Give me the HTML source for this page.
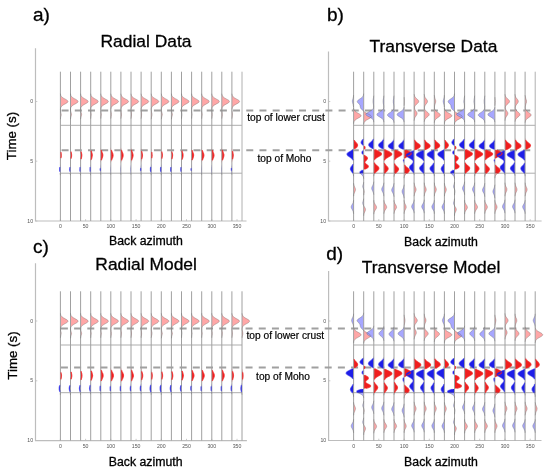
<!DOCTYPE html>
<html><head><meta charset="utf-8"><title>Receiver functions</title>
<style>
html,body{margin:0;padding:0;background:#fff;}
body{width:550px;height:474px;overflow:hidden;}
svg{display:block;}
.tk{font-family:"Liberation Sans",Arial,sans-serif;font-size:5.2px;fill:#555;}
.hv{stroke:#000;stroke-width:0.3px;}
.hv2{stroke:#000;stroke-width:0.2px;}
</style></head><body>
<svg width="550" height="474" viewBox="0 0 550 474">
<rect width="550" height="474" fill="#fff"/>
<path d="M35.5,48.2V221H246.5" fill="none" stroke="#bdbdbd" stroke-width="1.2"/>
<text x="33.1" y="103" class="tk" text-anchor="end">0</text>
<text x="33.1" y="162.8" class="tk" text-anchor="end">5</text>
<text x="33.1" y="222.5" class="tk" text-anchor="end">10</text>
<text x="60.4" y="228.2" class="tk" text-anchor="middle">0</text>
<text x="85.6" y="228.2" class="tk" text-anchor="middle">50</text>
<text x="110.8" y="228.2" class="tk" text-anchor="middle">100</text>
<text x="136.1" y="228.2" class="tk" text-anchor="middle">150</text>
<text x="161.3" y="228.2" class="tk" text-anchor="middle">200</text>
<text x="186.5" y="228.2" class="tk" text-anchor="middle">250</text>
<text x="211.8" y="228.2" class="tk" text-anchor="middle">300</text>
<text x="237" y="228.2" class="tk" text-anchor="middle">350</text>
<path d="M35.5,101.5h1.8M35.5,161.2h1.8M35.5,221h1.8M60.4,221v-1.8M85.6,221v-1.8M110.8,221v-1.8M136.1,221v-1.8M161.3,221v-1.8M186.5,221v-1.8M211.8,221v-1.8M237,221v-1.8" stroke="#bdbdbd" stroke-width="0.8" fill="none"/>
<path d="M328.5,51.4V221H541.6" fill="none" stroke="#bdbdbd" stroke-width="1.2"/>
<text x="326.1" y="103" class="tk" text-anchor="end">0</text>
<text x="326.1" y="162.8" class="tk" text-anchor="end">5</text>
<text x="326.1" y="222.5" class="tk" text-anchor="end">10</text>
<text x="353.6" y="228.2" class="tk" text-anchor="middle">0</text>
<text x="378.8" y="228.2" class="tk" text-anchor="middle">50</text>
<text x="404.1" y="228.2" class="tk" text-anchor="middle">100</text>
<text x="429.3" y="228.2" class="tk" text-anchor="middle">150</text>
<text x="454.5" y="228.2" class="tk" text-anchor="middle">200</text>
<text x="479.7" y="228.2" class="tk" text-anchor="middle">250</text>
<text x="505" y="228.2" class="tk" text-anchor="middle">300</text>
<text x="530.2" y="228.2" class="tk" text-anchor="middle">350</text>
<path d="M328.5,101.5h1.8M328.5,161.2h1.8M328.5,221h1.8M353.6,221v-1.8M378.8,221v-1.8M404.1,221v-1.8M429.3,221v-1.8M454.5,221v-1.8M479.7,221v-1.8M505,221v-1.8M530.2,221v-1.8" stroke="#bdbdbd" stroke-width="0.8" fill="none"/>
<path d="M35.5,263.2V440.6H246.9" fill="none" stroke="#bdbdbd" stroke-width="1.2"/>
<text x="33.1" y="322.5" class="tk" text-anchor="end">0</text>
<text x="33.1" y="382.2" class="tk" text-anchor="end">5</text>
<text x="33.1" y="442" class="tk" text-anchor="end">10</text>
<text x="60.4" y="447.8" class="tk" text-anchor="middle">0</text>
<text x="85.6" y="447.8" class="tk" text-anchor="middle">50</text>
<text x="110.8" y="447.8" class="tk" text-anchor="middle">100</text>
<text x="136.1" y="447.8" class="tk" text-anchor="middle">150</text>
<text x="161.3" y="447.8" class="tk" text-anchor="middle">200</text>
<text x="186.5" y="447.8" class="tk" text-anchor="middle">250</text>
<text x="211.8" y="447.8" class="tk" text-anchor="middle">300</text>
<text x="237" y="447.8" class="tk" text-anchor="middle">350</text>
<path d="M35.5,321h1.8M35.5,380.8h1.8M35.5,440.5h1.8M60.4,440.6v-1.8M85.6,440.6v-1.8M110.8,440.6v-1.8M136.1,440.6v-1.8M161.3,440.6v-1.8M186.5,440.6v-1.8M211.8,440.6v-1.8M237,440.6v-1.8" stroke="#bdbdbd" stroke-width="0.8" fill="none"/>
<path d="M328.6,270.9V440.5H541.5" fill="none" stroke="#bdbdbd" stroke-width="1.2"/>
<text x="326.2" y="322.5" class="tk" text-anchor="end">0</text>
<text x="326.2" y="382.2" class="tk" text-anchor="end">5</text>
<text x="326.2" y="442" class="tk" text-anchor="end">10</text>
<text x="353.6" y="447.7" class="tk" text-anchor="middle">0</text>
<text x="378.8" y="447.7" class="tk" text-anchor="middle">50</text>
<text x="404.1" y="447.7" class="tk" text-anchor="middle">100</text>
<text x="429.3" y="447.7" class="tk" text-anchor="middle">150</text>
<text x="454.5" y="447.7" class="tk" text-anchor="middle">200</text>
<text x="479.7" y="447.7" class="tk" text-anchor="middle">250</text>
<text x="505" y="447.7" class="tk" text-anchor="middle">300</text>
<text x="530.2" y="447.7" class="tk" text-anchor="middle">350</text>
<path d="M328.6,321h1.8M328.6,380.8h1.8M328.6,440.5h1.8M353.6,440.5v-1.8M378.8,440.5v-1.8M404.1,440.5v-1.8M429.3,440.5v-1.8M454.5,440.5v-1.8M479.7,440.5v-1.8M505,440.5v-1.8M530.2,440.5v-1.8" stroke="#bdbdbd" stroke-width="0.8" fill="none"/>
<line x1="61.6" y1="110.6" x2="531" y2="110.6" stroke="#a0a0a0" stroke-width="2" stroke-dasharray="7 6.19"/>
<line x1="61.6" y1="150.3" x2="531" y2="150.3" stroke="#a0a0a0" stroke-width="2" stroke-dasharray="7 6.19"/>
<line x1="60.9" y1="328.6" x2="530" y2="328.6" stroke="#a0a0a0" stroke-width="2" stroke-dasharray="7 6.19"/>
<line x1="60.9" y1="367.6" x2="530" y2="367.6" stroke="#a0a0a0" stroke-width="2" stroke-dasharray="7 6.19"/>
<line x1="60.4" y1="125.3" x2="242" y2="125.3" stroke="#adadad" stroke-width="1"/>
<line x1="60.4" y1="173.2" x2="242" y2="173.2" stroke="#adadad" stroke-width="1"/>
<line x1="242" y1="71.7" x2="242" y2="221" stroke="#b0b0b0" stroke-width="1"/>
<path d="M60.4,93.7L60.5,94.2L60.6,94.7L60.7,95.2L60.9,95.7L61.2,96.2L61.6,96.7L62.1,97.2L62.8,97.7L63.6,98.2L64.5,98.7L65.4,99.2L66.3,99.7L67,100.2L67.6,100.7L67.9,101.2L68,101.7L67.7,102.2L67.2,102.7L66.4,103.2L65.6,103.7L64.6,104.2L63.7,104.7L62.9,105.2L62.3,105.7L61.7,106.2L61.3,106.7L61,107.2L60.8,107.7L60.6,108.2L60.5,108.7L60.5,109.2L60.4,109.7ZM60.4,109.7L60.5,110.2L60.5,110.7L60.6,111.2L60.7,111.7L60.8,112.2L60.9,112.7L61,113.2L61.1,113.7L61.2,114.2L61.2,114.7L61.2,115.2L61.1,115.7L61,116.2L60.8,116.7L60.7,117.2L60.6,117.7L60.5,118.2L60.5,118.7L60.4,119.2ZM70.5,93.7L70.6,94.2L70.7,94.7L70.8,95.2L71,95.7L71.3,96.2L71.7,96.7L72.2,97.2L72.9,97.7L73.7,98.2L74.5,98.7L75.5,99.2L76.4,99.7L77.1,100.2L77.7,100.7L78,101.2L78.1,101.7L77.8,102.2L77.3,102.7L76.5,103.2L75.7,103.7L74.7,104.2L73.8,104.7L73,105.2L72.3,105.7L71.8,106.2L71.4,106.7L71.1,107.2L70.8,107.7L70.7,108.2L70.6,108.7L70.6,109.2L70.6,109.7L70.6,110.2L70.7,110.7L70.8,111.2L70.9,111.7L71,112.2L71.2,112.7L71.3,113.2L71.4,113.7L71.5,114.2L71.5,114.7L71.4,115.2L71.3,115.7L71.2,116.2L71,116.7L70.9,117.2L70.8,117.7L70.7,118.2L70.6,118.7L70.5,119.2ZM80.6,93.7L80.7,94.2L80.8,94.7L80.9,95.2L81.1,95.7L81.4,96.2L81.8,96.7L82.3,97.2L83,97.7L83.8,98.2L84.6,98.7L85.6,99.2L86.4,99.7L87.2,100.2L87.8,100.7L88.1,101.2L88.2,101.7L87.9,102.2L87.4,102.7L86.6,103.2L85.7,103.7L84.8,104.2L83.9,104.7L83.1,105.2L82.4,105.7L81.9,106.2L81.5,106.7L81.1,107.2L80.9,107.7L80.8,108.2L80.7,108.7L80.7,109.2L80.7,109.7L80.7,110.2L80.8,110.7L80.8,111.2L81,111.7L81.1,112.2L81.2,112.7L81.4,113.2L81.5,113.7L81.6,114.2L81.6,114.7L81.5,115.2L81.4,115.7L81.3,116.2L81.1,116.7L81,117.2L80.9,117.7L80.8,118.2L80.7,118.7L80.6,119.2ZM90.7,93.7L90.8,94.2L90.9,94.7L91,95.2L91.2,95.7L91.5,96.2L91.9,96.7L92.4,97.2L93.1,97.7L93.9,98.2L94.7,98.7L95.6,99.2L96.5,99.7L97.3,100.2L97.9,100.7L98.2,101.2L98.2,101.7L98,102.2L97.4,102.7L96.7,103.2L95.8,103.7L94.9,104.2L94,104.7L93.2,105.2L92.5,105.7L92,106.2L91.5,106.7L91.2,107.2L91,107.7L90.9,108.2L90.8,108.7L90.8,109.2L90.7,109.7ZM90.7,110.2L90.8,110.7L90.8,111.2L90.9,111.7L90.9,112.2L91,112.7L91.1,113.2L91.1,113.7L91.2,114.2L91.2,114.7L91.1,115.2L91.1,115.7L91,116.2L90.9,116.7L90.9,117.2L90.8,117.7L90.8,118.2L90.7,118.7ZM100.8,93.7L100.9,94.2L100.9,94.7L101.1,95.2L101.3,95.7L101.6,96.2L102,96.7L102.5,97.2L103.2,97.7L103.9,98.2L104.8,98.7L105.7,99.2L106.6,99.7L107.4,100.2L108,100.7L108.3,101.2L108.3,101.7L108.1,102.2L107.5,102.7L106.8,103.2L105.9,103.7L105,104.2L104.1,104.7L103.3,105.2L102.6,105.7L102.1,106.2L101.6,106.7L101.3,107.2L101.1,107.7L101,108.2L100.9,108.7L100.8,109.2L100.8,109.7ZM100.8,110.2L100.9,110.7L100.9,111.2L100.9,111.7L101,112.2L101.1,112.7L101.2,113.2L101.2,113.7L101.3,114.2L101.3,114.7L101.2,115.2L101.2,115.7L101.1,116.2L101,116.7L101,117.2L100.9,117.7L100.9,118.2L100.8,118.7ZM110.8,93.7L111,94.2L111,94.7L111.2,95.2L111.4,95.7L111.7,96.2L112.1,96.7L112.6,97.2L113.2,97.7L114,98.2L114.9,98.7L115.8,99.2L116.7,99.7L117.5,100.2L118.1,100.7L118.4,101.2L118.4,101.7L118.2,102.2L117.6,102.7L116.9,103.2L116,103.7L115.1,104.2L114.2,104.7L113.4,105.2L112.7,105.7L112.1,106.2L111.7,106.7L111.4,107.2L111.2,107.7L111.1,108.2L111,108.7L110.9,109.2L110.8,109.7ZM110.8,110.2L110.9,110.7L111,111.2L111,111.7L111.1,112.2L111.2,112.7L111.3,113.2L111.3,113.7L111.3,114.2L111.3,114.7L111.3,115.2L111.3,115.7L111.2,116.2L111.1,116.7L111.1,117.2L111,117.7L110.9,118.2L110.8,118.7ZM120.9,93.7L121,94.2L121.1,94.7L121.3,95.2L121.5,95.7L121.7,96.2L122.1,96.7L122.7,97.2L123.3,97.7L124.1,98.2L125,98.7L125.9,99.2L126.8,99.7L127.6,100.2L128.2,100.7L128.5,101.2L128.5,101.7L128.2,102.2L127.7,102.7L127,103.2L126.1,103.7L125.2,104.2L124.3,104.7L123.5,105.2L122.8,105.7L122.2,106.2L121.8,106.7L121.5,107.2L121.3,107.7L121.2,108.2L121.1,108.7L121,109.2L120.9,109.7ZM120.9,110.2L121,110.7L121.1,111.2L121.1,111.7L121.2,112.2L121.3,112.7L121.3,113.2L121.4,113.7L121.4,114.2L121.4,114.7L121.4,115.2L121.4,115.7L121.3,116.2L121.2,116.7L121.1,117.2L121.1,117.7L121,118.2L120.9,118.7ZM131,93.7L131.1,94.2L131.2,94.7L131.3,95.2L131.5,95.7L131.8,96.2L132.2,96.7L132.8,97.2L133.4,97.7L134.2,98.2L135.1,98.7L136,99.2L136.9,99.7L137.7,100.2L138.3,100.7L138.6,101.2L138.6,101.7L138.3,102.2L137.8,102.7L137.1,103.2L136.2,103.7L135.3,104.2L134.4,104.7L133.6,105.2L132.9,105.7L132.3,106.2L131.9,106.7L131.6,107.2L131.4,107.7L131.2,108.2L131.2,108.7L131.1,109.2L131,109.7ZM131,110.2L131.1,110.7L131.2,111.2L131.2,111.7L131.3,112.2L131.4,112.7L131.4,113.2L131.5,113.7L131.5,114.2L131.5,114.7L131.5,115.2L131.4,115.7L131.4,116.2L131.3,116.7L131.2,117.2L131.2,117.7L131.1,118.2L131,118.7ZM141.1,93.7L141.2,94.2L141.3,94.7L141.4,95.2L141.6,95.7L141.9,96.2L142.3,96.7L142.9,97.2L143.5,97.7L144.3,98.2L145.2,98.7L146.1,99.2L147,99.7L147.8,100.2L148.3,100.7L148.7,101.2L148.7,101.7L148.4,102.2L147.9,102.7L147.2,103.2L146.3,103.7L145.4,104.2L144.5,104.7L143.7,105.2L143,105.7L142.4,106.2L142,106.7L141.7,107.2L141.5,107.7L141.3,108.2L141.2,108.7L141.2,109.2L141.1,109.7ZM141.1,110.2L141.2,110.7L141.3,111.2L141.3,111.7L141.4,112.2L141.5,112.7L141.5,113.2L141.6,113.7L141.6,114.2L141.6,114.7L141.6,115.2L141.5,115.7L141.5,116.2L141.4,116.7L141.3,117.2L141.3,117.7L141.2,118.2L141.1,118.7ZM151.2,93.7L151.3,94.2L151.4,94.7L151.5,95.2L151.7,95.7L152,96.2L152.4,96.7L152.9,97.2L153.6,97.7L154.4,98.2L155.3,98.7L156.2,99.2L157.1,99.7L157.8,100.2L158.4,100.7L158.8,101.2L158.8,101.7L158.5,102.2L158,102.7L157.2,103.2L156.4,103.7L155.5,104.2L154.6,104.7L153.8,105.2L153.1,105.7L152.5,106.2L152.1,106.7L151.8,107.2L151.6,107.7L151.4,108.2L151.3,108.7L151.3,109.2L151.2,109.7ZM151.2,109.7L151.3,110.2L151.4,110.7L151.4,111.2L151.5,111.7L151.6,112.2L151.7,112.7L151.9,113.2L151.9,113.7L152,114.2L152,114.7L152,115.2L151.9,115.7L151.8,116.2L151.6,116.7L151.5,117.2L151.4,117.7L151.4,118.2L151.3,118.7L151.2,119.2ZM161.3,93.7L161.4,94.2L161.5,94.7L161.6,95.2L161.8,95.7L162.1,96.2L162.5,96.7L163,97.2L163.7,97.7L164.5,98.2L165.4,98.7L166.3,99.2L167.2,99.7L167.9,100.2L168.5,100.7L168.8,101.2L168.9,101.7L168.6,102.2L168.1,102.7L167.3,103.2L166.5,103.7L165.5,104.2L164.6,104.7L163.8,105.2L163.2,105.7L162.6,106.2L162.2,106.7L161.9,107.2L161.7,107.7L161.5,108.2L161.4,108.7L161.4,109.2L161.4,109.7L161.4,110.2L161.5,110.7L161.6,111.2L161.7,111.7L161.8,112.2L162,112.7L162.1,113.2L162.2,113.7L162.3,114.2L162.3,114.7L162.2,115.2L162.1,115.7L162,116.2L161.8,116.7L161.7,117.2L161.6,117.7L161.5,118.2L161.4,118.7L161.3,119.2ZM171.4,93.7L171.5,94.2L171.6,94.7L171.7,95.2L171.9,95.7L172.2,96.2L172.6,96.7L173.1,97.2L173.8,97.7L174.6,98.2L175.4,98.7L176.4,99.2L177.3,99.7L178,100.2L178.6,100.7L178.9,101.2L179,101.7L178.7,102.2L178.2,102.7L177.4,103.2L176.6,103.7L175.6,104.2L174.7,104.7L173.9,105.2L173.2,105.7L172.7,106.2L172.3,106.7L172,107.2L171.7,107.7L171.6,108.2L171.5,108.7L171.5,109.2L171.5,109.7L171.5,110.2L171.6,110.7L171.7,111.2L171.8,111.7L171.9,112.2L172.1,112.7L172.2,113.2L172.3,113.7L172.4,114.2L172.4,114.7L172.3,115.2L172.2,115.7L172.1,116.2L171.9,116.7L171.8,117.2L171.7,117.7L171.6,118.2L171.5,118.7L171.4,119.2ZM181.5,93.7L181.6,94.2L181.7,94.7L181.8,95.2L182,95.7L182.3,96.2L182.7,96.7L183.2,97.2L183.9,97.7L184.7,98.2L185.5,98.7L186.5,99.2L187.3,99.7L188.1,100.2L188.7,100.7L189,101.2L189.1,101.7L188.8,102.2L188.3,102.7L187.5,103.2L186.6,103.7L185.7,104.2L184.8,104.7L184,105.2L183.3,105.7L182.8,106.2L182.4,106.7L182,107.2L181.8,107.7L181.7,108.2L181.6,108.7L181.6,109.2L181.5,109.7ZM181.5,110.2L181.6,110.7L181.6,111.2L181.7,111.7L181.7,112.2L181.8,112.7L181.9,113.2L181.9,113.7L182,114.2L182,114.7L182,115.2L181.9,115.7L181.8,116.2L181.8,116.7L181.7,117.2L181.6,117.7L181.6,118.2L181.5,118.7ZM191.6,93.7L191.7,94.2L191.8,94.7L191.9,95.2L192.1,95.7L192.4,96.2L192.8,96.7L193.3,97.2L194,97.7L194.8,98.2L195.6,98.7L196.5,99.2L197.4,99.7L198.2,100.2L198.8,100.7L199.1,101.2L199.1,101.7L198.9,102.2L198.3,102.7L197.6,103.2L196.7,103.7L195.8,104.2L194.9,104.7L194.1,105.2L193.4,105.7L192.9,106.2L192.4,106.7L192.1,107.2L191.9,107.7L191.8,108.2L191.7,108.7L191.7,109.2L191.6,109.7ZM191.6,110.2L191.7,110.7L191.7,111.2L191.8,111.7L191.8,112.2L191.9,112.7L192,113.2L192,113.7L192.1,114.2L192.1,114.7L192,115.2L192,115.7L191.9,116.2L191.8,116.7L191.8,117.2L191.7,117.7L191.7,118.2L191.6,118.7ZM201.7,93.7L201.8,94.2L201.8,94.7L202,95.2L202.2,95.7L202.5,96.2L202.9,96.7L203.4,97.2L204.1,97.7L204.8,98.2L205.7,98.7L206.6,99.2L207.5,99.7L208.3,100.2L208.9,100.7L209.2,101.2L209.2,101.7L209,102.2L208.4,102.7L207.7,103.2L206.8,103.7L205.9,104.2L205,104.7L204.2,105.2L203.5,105.7L203,106.2L202.5,106.7L202.2,107.2L202,107.7L201.9,108.2L201.8,108.7L201.7,109.2L201.7,109.7ZM201.7,110.2L201.8,110.7L201.8,111.2L201.8,111.7L201.9,112.2L202,112.7L202.1,113.2L202.1,113.7L202.2,114.2L202.2,114.7L202.1,115.2L202.1,115.7L202,116.2L201.9,116.7L201.9,117.2L201.8,117.7L201.8,118.2L201.7,118.7ZM211.8,93.7L211.9,94.2L211.9,94.7L212.1,95.2L212.3,95.7L212.6,96.2L213,96.7L213.5,97.2L214.1,97.7L214.9,98.2L215.8,98.7L216.7,99.2L217.6,99.7L218.4,100.2L219,100.7L219.3,101.2L219.3,101.7L219.1,102.2L218.5,102.7L217.8,103.2L216.9,103.7L216,104.2L215.1,104.7L214.3,105.2L213.6,105.7L213,106.2L212.6,106.7L212.3,107.2L212.1,107.7L212,108.2L211.9,108.7L211.8,109.2L211.8,109.7ZM211.8,110.2L211.8,110.7L211.9,111.2L211.9,111.7L212,112.2L212.1,112.7L212.2,113.2L212.2,113.7L212.2,114.2L212.2,114.7L212.2,115.2L212.2,115.7L212.1,116.2L212,116.7L212,117.2L211.9,117.7L211.8,118.2L211.8,118.7ZM221.8,93.7L221.9,94.2L222,94.7L222.2,95.2L222.4,95.7L222.6,96.2L223,96.7L223.6,97.2L224.2,97.7L225,98.2L225.9,98.7L226.8,99.2L227.7,99.7L228.5,100.2L229.1,100.7L229.4,101.2L229.4,101.7L229.1,102.2L228.6,102.7L227.9,103.2L227,103.7L226.1,104.2L225.2,104.7L224.4,105.2L223.7,105.7L223.1,106.2L222.7,106.7L222.4,107.2L222.2,107.7L222.1,108.2L222,108.7L221.9,109.2L221.8,109.7ZM221.8,110.2L221.9,110.7L222,111.2L222,111.7L222.1,112.2L222.2,112.7L222.2,113.2L222.3,113.7L222.3,114.2L222.3,114.7L222.3,115.2L222.3,115.7L222.2,116.2L222.1,116.7L222,117.2L222,117.7L221.9,118.2L221.8,118.7ZM231.9,93.7L232,94.2L232.1,94.7L232.2,95.2L232.4,95.7L232.7,96.2L233.1,96.7L233.7,97.2L234.3,97.7L235.1,98.2L236,98.7L236.9,99.2L237.8,99.7L238.6,100.2L239.2,100.7L239.5,101.2L239.5,101.7L239.2,102.2L238.7,102.7L238,103.2L237.1,103.7L236.2,104.2L235.3,104.7L234.5,105.2L233.8,105.7L233.2,106.2L232.8,106.7L232.5,107.2L232.3,107.7L232.1,108.2L232.1,108.7L232,109.2L231.9,109.7ZM231.9,110.2L232,110.7L232.1,111.2L232.1,111.7L232.2,112.2L232.3,112.7L232.3,113.2L232.4,113.7L232.4,114.2L232.4,114.7L232.4,115.2L232.3,115.7L232.3,116.2L232.2,116.7L232.1,117.2L232.1,117.7L232,118.2L231.9,118.7Z" fill="#ffa0a0" fill-opacity="0.92"/>
<path d="M60.4,172.7L60.1,173.2L60.2,173.7L60.3,174.2L60.3,174.7L60.4,175.2ZM70.5,172.7L70.2,173.2L70.3,173.7L70.3,174.2L70.4,174.7L70.5,175.2ZM80.6,172.7L80.3,173.2L80.4,173.7L80.4,174.2L80.5,174.7L80.6,175.2ZM90.7,172.7L90.4,173.2L90.5,173.7L90.5,174.2L90.6,174.7L90.7,175.2ZM100.8,172.7L100.6,173.2L100.6,173.7L100.7,174.2L100.8,174.7ZM110.8,172.7L110.7,173.2L110.7,173.7L110.8,174.2L110.8,174.7ZM120.9,172.7L120.8,173.2L120.8,173.7L120.9,174.2L120.9,174.7ZM131,172.7L130.9,173.2L130.9,173.7L130.9,174.2L131,174.7ZM141.1,172.7L140.9,173.2L141,173.7L141,174.2L141.1,174.7ZM151.2,172.7L150.9,173.2L151,173.7L151.1,174.2L151.1,174.7L151.2,175.2ZM161.3,172.7L161,173.2L161.1,173.7L161.2,174.2L161.2,174.7L161.3,175.2ZM171.4,172.7L171.1,173.2L171.2,173.7L171.3,174.2L171.3,174.7L171.4,175.2ZM181.5,172.7L181.2,173.2L181.3,173.7L181.3,174.2L181.4,174.7L181.5,175.2ZM191.6,172.7L191.4,173.2L191.4,173.7L191.5,174.2L191.6,174.7ZM201.7,172.7L201.5,173.2L201.5,173.7L201.6,174.2L201.7,174.7ZM211.8,172.7L211.6,173.2L211.6,173.7L211.7,174.2L211.8,174.7ZM221.8,172.7L221.7,173.2L221.7,173.7L221.8,174.2L221.8,174.7ZM231.9,172.7L231.7,173.2L231.8,173.7L231.8,174.2L231.9,174.7Z" fill="#a0a0ff" fill-opacity="0.92"/>
<path d="M60.4,148.7L60.5,149.2L60.5,149.7L60.6,150.2L60.7,150.7L60.7,151.2L60.8,151.7L60.9,152.2L61,152.7L61.1,153.2L61.1,153.7L61.2,154.2L61.2,154.7L61.2,155.2L61.2,155.7L61.2,156.2L61.2,156.7L61.1,157.2L61,157.7L60.9,158.2L60.8,158.7L60.8,159.2L60.7,159.7L60.6,160.2L60.6,160.7L60.5,161.2L60.4,161.7ZM70.5,148.2L70.6,148.7L70.6,149.2L70.7,149.7L70.7,150.2L70.8,150.7L70.9,151.2L71,151.7L71.1,152.2L71.2,152.7L71.3,153.2L71.4,153.7L71.4,154.2L71.5,154.7L71.5,155.2L71.5,155.7L71.5,156.2L71.4,156.7L71.3,157.2L71.2,157.7L71.1,158.2L71,158.7L70.9,159.2L70.8,159.7L70.8,160.2L70.7,160.7L70.6,161.2L70.6,161.7L70.5,162.2ZM80.6,148.2L80.7,148.7L80.7,149.2L80.8,149.7L80.8,150.2L80.9,150.7L81,151.2L81.1,151.7L81.2,152.2L81.3,152.7L81.4,153.2L81.5,153.7L81.6,154.2L81.7,154.7L81.7,155.2L81.7,155.7L81.6,156.2L81.6,156.7L81.5,157.2L81.4,157.7L81.3,158.2L81.2,158.7L81.1,159.2L81,159.7L80.9,160.2L80.8,160.7L80.7,161.2L80.7,161.7L80.6,162.2ZM90.7,147.7L90.8,148.2L90.8,148.7L90.9,149.2L90.9,149.7L91,150.2L91.1,150.7L91.3,151.2L91.4,151.7L91.6,152.2L91.7,152.7L91.9,153.2L92,153.7L92.1,154.2L92.2,154.7L92.2,155.2L92.2,155.7L92.1,156.2L92,156.7L91.9,157.2L91.8,157.7L91.6,158.2L91.5,158.7L91.3,159.2L91.2,159.7L91.1,160.2L91,160.7L90.9,161.2L90.8,161.7L90.8,162.2L90.7,162.7ZM100.8,147.7L100.9,148.2L100.9,148.7L101,149.2L101.1,149.7L101.2,150.2L101.4,150.7L101.5,151.2L101.7,151.7L101.9,152.2L102.1,152.7L102.3,153.2L102.5,153.7L102.6,154.2L102.7,154.7L102.7,155.2L102.7,155.7L102.6,156.2L102.5,156.7L102.4,157.2L102.2,157.7L102,158.2L101.8,158.7L101.6,159.2L101.4,159.7L101.3,160.2L101.1,160.7L101,161.2L101,161.7L100.9,162.2L100.8,162.7ZM110.8,147.2L110.9,147.7L111,148.2L111,148.7L111.1,149.2L111.2,149.7L111.4,150.2L111.5,150.7L111.7,151.2L111.9,151.7L112.1,152.2L112.3,152.7L112.5,153.2L112.7,153.7L112.8,154.2L112.9,154.7L113,155.2L113,155.7L112.9,156.2L112.8,156.7L112.6,157.2L112.4,157.7L112.2,158.2L112,158.7L111.8,159.2L111.6,159.7L111.4,160.2L111.3,160.7L111.2,161.2L111.1,161.7L111,162.2L110.9,162.7L110.8,163.2ZM120.9,147.2L121,147.7L121.1,148.2L121.1,148.7L121.2,149.2L121.3,149.7L121.4,150.2L121.6,150.7L121.8,151.2L122,151.7L122.2,152.2L122.4,152.7L122.6,153.2L122.8,153.7L122.9,154.2L123,154.7L123.1,155.2L123,155.7L123,156.2L122.8,156.7L122.7,157.2L122.5,157.7L122.3,158.2L122.1,158.7L121.9,159.2L121.7,159.7L121.5,160.2L121.4,160.7L121.2,161.2L121.2,161.7L121.1,162.2L121,162.7L120.9,163.2ZM131,147.7L131.1,148.2L131.2,148.7L131.3,149.2L131.4,149.7L131.5,150.2L131.6,150.7L131.8,151.2L132,151.7L132.2,152.2L132.4,152.7L132.6,153.2L132.7,153.7L132.9,154.2L132.9,154.7L133,155.2L133,155.7L132.9,156.2L132.8,156.7L132.6,157.2L132.4,157.7L132.3,158.2L132.1,158.7L131.9,159.2L131.7,159.7L131.5,160.2L131.4,160.7L131.3,161.2L131.2,161.7L131.2,162.2L131,162.7ZM141.1,148.2L141.2,148.7L141.3,149.2L141.3,149.7L141.4,150.2L141.5,150.7L141.6,151.2L141.7,151.7L141.9,152.2L142,152.7L142.1,153.2L142.2,153.7L142.3,154.2L142.4,154.7L142.4,155.2L142.4,155.7L142.3,156.2L142.3,156.7L142.2,157.2L142,157.7L141.9,158.2L141.8,158.7L141.7,159.2L141.6,159.7L141.5,160.2L141.4,160.7L141.3,161.2L141.2,161.7L141.2,162.2L141.1,162.7ZM151.2,148.7L151.3,149.2L151.4,149.7L151.4,150.2L151.5,150.7L151.5,151.2L151.6,151.7L151.7,152.2L151.8,152.7L151.9,153.2L151.9,153.7L152,154.2L152,154.7L152.1,155.2L152.1,155.7L152,156.2L152,156.7L151.9,157.2L151.8,157.7L151.7,158.2L151.7,158.7L151.6,159.2L151.5,159.7L151.4,160.2L151.4,160.7L151.3,161.2L151.2,161.7ZM161.3,148.2L161.4,148.7L161.4,149.2L161.5,149.7L161.5,150.2L161.6,150.7L161.7,151.2L161.8,151.7L161.9,152.2L162,152.7L162.1,153.2L162.2,153.7L162.3,154.2L162.3,154.7L162.3,155.2L162.3,155.7L162.3,156.2L162.2,156.7L162.1,157.2L162,157.7L161.9,158.2L161.8,158.7L161.7,159.2L161.6,159.7L161.6,160.2L161.5,160.7L161.4,161.2L161.4,161.7L161.3,162.2ZM171.4,148.2L171.5,148.7L171.5,149.2L171.6,149.7L171.7,150.2L171.7,150.7L171.8,151.2L171.9,151.7L172,152.2L172.1,152.7L172.3,153.2L172.3,153.7L172.4,154.2L172.5,154.7L172.5,155.2L172.5,155.7L172.4,156.2L172.4,156.7L172.3,157.2L172.2,157.7L172.1,158.2L172,158.7L171.9,159.2L171.8,159.7L171.7,160.2L171.6,160.7L171.5,161.2L171.5,161.7L171.4,162.2ZM181.5,147.7L181.6,148.2L181.6,148.7L181.7,149.2L181.7,149.7L181.8,150.2L182,150.7L182.1,151.2L182.2,151.7L182.4,152.2L182.5,152.7L182.7,153.2L182.8,153.7L182.9,154.2L183,154.7L183,155.2L183,155.7L182.9,156.2L182.9,156.7L182.7,157.2L182.6,157.7L182.4,158.2L182.3,158.7L182.1,159.2L182,159.7L181.9,160.2L181.8,160.7L181.7,161.2L181.6,161.7L181.6,162.2L181.5,162.7ZM191.6,147.7L191.7,148.2L191.7,148.7L191.8,149.2L191.9,149.7L192,150.2L192.2,150.7L192.3,151.2L192.5,151.7L192.7,152.2L192.9,152.7L193.1,153.2L193.3,153.7L193.4,154.2L193.5,154.7L193.5,155.2L193.5,155.7L193.4,156.2L193.3,156.7L193.2,157.2L193,157.7L192.8,158.2L192.6,158.7L192.4,159.2L192.2,159.7L192.1,160.2L192,160.7L191.8,161.2L191.8,161.7L191.7,162.2L191.6,162.7ZM201.7,147.2L201.7,147.7L201.8,148.2L201.8,148.7L201.9,149.2L202,149.7L202.2,150.2L202.3,150.7L202.5,151.2L202.7,151.7L202.9,152.2L203.1,152.7L203.3,153.2L203.5,153.7L203.6,154.2L203.7,154.7L203.8,155.2L203.8,155.7L203.7,156.2L203.6,156.7L203.4,157.2L203.2,157.7L203,158.2L202.8,158.7L202.6,159.2L202.4,159.7L202.2,160.2L202.1,160.7L202,161.2L201.9,161.7L201.8,162.2L201.7,162.7L201.7,163.2ZM211.8,147.2L211.8,147.7L211.9,148.2L211.9,148.7L212,149.2L212.1,149.7L212.3,150.2L212.4,150.7L212.6,151.2L212.8,151.7L213,152.2L213.2,152.7L213.4,153.2L213.6,153.7L213.7,154.2L213.8,154.7L213.9,155.2L213.9,155.7L213.8,156.2L213.7,156.7L213.5,157.2L213.3,157.7L213.1,158.2L212.9,158.7L212.7,159.2L212.5,159.7L212.3,160.2L212.2,160.7L212.1,161.2L212,161.7L211.9,162.2L211.8,162.7L211.8,163.2ZM221.8,147.7L222,148.2L222,148.7L222.1,149.2L222.2,149.7L222.3,150.2L222.4,150.7L222.6,151.2L222.8,151.7L223,152.2L223.2,152.7L223.4,153.2L223.5,153.7L223.7,154.2L223.8,154.7L223.8,155.2L223.8,155.7L223.7,156.2L223.6,156.7L223.4,157.2L223.3,157.7L223.1,158.2L222.9,158.7L222.7,159.2L222.5,159.7L222.4,160.2L222.2,160.7L222.1,161.2L222,161.7L222,162.2L221.8,162.7ZM231.9,148.2L232,148.7L232.1,149.2L232.2,149.7L232.2,150.2L232.3,150.7L232.4,151.2L232.6,151.7L232.7,152.2L232.8,152.7L232.9,153.2L233,153.7L233.1,154.2L233.2,154.7L233.2,155.2L233.2,155.7L233.1,156.2L233.1,156.7L233,157.2L232.9,157.7L232.7,158.2L232.6,158.7L232.5,159.2L232.4,159.7L232.3,160.2L232.2,160.7L232.1,161.2L232.1,161.7L232,162.2L231.9,162.7Z" fill="#f01e1e" fill-opacity="1"/>
<path d="M60.4,163.7L60.3,164.2L60.3,164.7L60.2,165.2L60.1,165.7L60.1,166.2L60,166.7L59.9,167.2L59.8,167.7L59.7,168.2L59.7,168.7L59.7,169.2L59.7,169.7L59.7,170.2L59.7,170.7L59.8,171.2L59.9,171.7L60,172.2L60,172.7L60.1,173.2L60.4,173.2ZM70.5,163.7L70.4,164.2L70.4,164.7L70.3,165.2L70.2,165.7L70.2,166.2L70.1,166.7L70,167.2L69.9,167.7L69.8,168.2L69.8,168.7L69.7,169.2L69.7,169.7L69.8,170.2L69.8,170.7L69.9,171.2L70,171.7L70.1,172.2L70.1,172.7L70.2,173.2L70.5,173.2ZM80.6,164.2L80.5,164.7L80.4,165.2L80.3,165.7L80.3,166.2L80.2,166.7L80.1,167.2L80,167.7L80,168.2L79.9,168.7L79.9,169.2L79.9,169.7L79.9,170.2L79.9,170.7L80,171.2L80.1,171.7L80.2,172.2L80.2,172.7L80.3,173.2L80.6,173.2ZM90.7,164.2L90.6,164.7L90.5,165.2L90.4,165.7L90.4,166.2L90.3,166.7L90.2,167.2L90.1,167.7L90.1,168.2L90,168.7L90,169.2L90,169.7L90,170.2L90.1,170.7L90.1,171.2L90.2,171.7L90.3,172.2L90.4,172.7L90.4,173.2L90.7,173.2ZM100.8,164.2L100.7,164.7L100.6,165.2L100.6,165.7L100.5,166.2L100.5,166.7L100.4,167.2L100.3,167.7L100.3,168.2L100.3,168.7L100.2,169.2L100.2,169.7L100.3,170.2L100.3,170.7L100.3,171.2L100.4,171.7L100.5,172.2L100.5,172.7L100.6,173.2L100.8,173.2ZM110.8,164.7L110.7,165.2L110.7,165.7L110.7,166.2L110.6,166.7L110.5,167.2L110.5,167.7L110.5,168.2L110.4,168.7L110.4,169.2L110.4,169.7L110.4,170.2L110.4,170.7L110.5,171.2L110.5,171.7L110.6,172.2L110.6,172.7L110.7,173.2L110.8,173.2ZM120.9,164.7L120.8,165.2L120.8,165.7L120.7,166.2L120.7,166.7L120.6,167.2L120.6,167.7L120.5,168.2L120.5,168.7L120.5,169.2L120.5,169.7L120.5,170.2L120.5,170.7L120.6,171.2L120.6,171.7L120.7,172.2L120.7,172.7L120.8,173.2L120.9,173.2ZM131,164.7L130.9,165.2L130.9,165.7L130.8,166.2L130.8,166.7L130.7,167.2L130.7,167.7L130.6,168.2L130.6,168.7L130.6,169.2L130.6,169.7L130.6,170.2L130.6,170.7L130.7,171.2L130.7,171.7L130.8,172.2L130.8,172.7L130.9,173.2L131,173.2ZM141.1,164.2L141,164.7L141,165.2L140.9,165.7L140.9,166.2L140.8,166.7L140.8,167.2L140.7,167.7L140.7,168.2L140.6,168.7L140.6,169.2L140.6,169.7L140.6,170.2L140.6,170.7L140.7,171.2L140.8,171.7L140.8,172.2L140.9,172.7L140.9,173.2L141.1,173.2ZM151.2,163.7L151.1,164.2L151.1,164.7L151,165.2L151,165.7L150.9,166.2L150.8,166.7L150.7,167.2L150.6,167.7L150.5,168.2L150.5,168.7L150.5,169.2L150.5,169.7L150.5,170.2L150.5,170.7L150.6,171.2L150.7,171.7L150.8,172.2L150.9,172.7L150.9,173.2L151.2,173.2ZM161.3,163.7L161.2,164.2L161.2,164.7L161.1,165.2L161,165.7L161,166.2L160.9,166.7L160.8,167.2L160.7,167.7L160.6,168.2L160.6,168.7L160.6,169.2L160.6,169.7L160.6,170.2L160.6,170.7L160.7,171.2L160.8,171.7L160.9,172.2L160.9,172.7L161,173.2L161.3,173.2ZM171.4,164.2L171.3,164.7L171.2,165.2L171.1,165.7L171.1,166.2L171,166.7L170.9,167.2L170.8,167.7L170.8,168.2L170.7,168.7L170.7,169.2L170.7,169.7L170.7,170.2L170.7,170.7L170.8,171.2L170.9,171.7L171,172.2L171.1,172.7L171.1,173.2L171.4,173.2ZM181.5,164.2L181.4,164.7L181.3,165.2L181.3,165.7L181.2,166.2L181.1,166.7L181,167.2L180.9,167.7L180.9,168.2L180.8,168.7L180.8,169.2L180.8,169.7L180.8,170.2L180.9,170.7L180.9,171.2L181,171.7L181.1,172.2L181.2,172.7L181.2,173.2L181.5,173.2ZM191.6,164.2L191.5,164.7L191.4,165.2L191.4,165.7L191.3,166.2L191.3,166.7L191.2,167.2L191.2,167.7L191.1,168.2L191.1,168.7L191,169.2L191,169.7L191.1,170.2L191.1,170.7L191.1,171.2L191.2,171.7L191.3,172.2L191.3,172.7L191.4,173.2L191.6,173.2ZM201.7,164.7L201.6,165.2L201.5,165.7L201.5,166.2L201.4,166.7L201.4,167.2L201.3,167.7L201.3,168.2L201.2,168.7L201.2,169.2L201.2,169.7L201.2,170.2L201.3,170.7L201.3,171.2L201.3,171.7L201.4,172.2L201.4,172.7L201.5,173.2L201.7,173.2ZM211.8,164.7L211.6,165.2L211.6,165.7L211.6,166.2L211.5,166.7L211.4,167.2L211.4,167.7L211.4,168.2L211.3,168.7L211.3,169.2L211.3,169.7L211.3,170.2L211.3,170.7L211.4,171.2L211.4,171.7L211.5,172.2L211.5,172.7L211.6,173.2L211.8,173.2ZM221.8,164.7L221.7,165.2L221.7,165.7L221.6,166.2L221.6,166.7L221.5,167.2L221.5,167.7L221.4,168.2L221.4,168.7L221.4,169.2L221.4,169.7L221.4,170.2L221.4,170.7L221.5,171.2L221.5,171.7L221.6,172.2L221.6,172.7L221.7,173.2L221.8,173.2ZM231.9,164.2L231.8,164.7L231.8,165.2L231.8,165.7L231.7,166.2L231.6,166.7L231.6,167.2L231.5,167.7L231.5,168.2L231.4,168.7L231.4,169.2L231.4,169.7L231.4,170.2L231.5,170.7L231.5,171.2L231.6,171.7L231.6,172.2L231.7,172.7L231.7,173.2L231.9,173.2Z" fill="#1e1ee8" fill-opacity="1"/>
<path d="M60.4,71.7V221M70.5,71.7V221M80.6,71.7V221M90.7,71.7V221M100.8,71.7V221M110.8,71.7V221M120.9,71.7V221M131,71.7V221M141.1,71.7V221M151.2,71.7V221M161.3,71.7V221M171.4,71.7V221M181.5,71.7V221M191.6,71.7V221M201.7,71.7V221M211.8,71.7V221M221.8,71.7V221M231.9,71.7V221" stroke="#a0a0a0" stroke-width="1" fill="none"/>
<path d="M60.4,93.7L60.5,94.2L60.6,94.7L60.7,95.2L60.9,95.7L61.2,96.2L61.6,96.7L62.1,97.2L62.8,97.7L63.6,98.2L64.5,98.7L65.4,99.2L66.3,99.7L67,100.2L67.6,100.7L67.9,101.2L68,101.7L67.7,102.2L67.2,102.7L66.4,103.2L65.6,103.7L64.6,104.2L63.7,104.7L62.9,105.2L62.3,105.7L61.7,106.2L61.3,106.7L61,107.2L60.8,107.7L60.6,108.2L60.5,108.7L60.5,109.2L60.4,109.7M60.4,109.7L60.5,110.2L60.5,110.7L60.6,111.2L60.7,111.7L60.8,112.2L60.9,112.7L61,113.2L61.1,113.7L61.2,114.2L61.2,114.7L61.2,115.2L61.1,115.7L61,116.2L60.8,116.7L60.7,117.2L60.6,117.7L60.5,118.2L60.5,118.7L60.4,119.2M70.5,93.7L70.6,94.2L70.7,94.7L70.8,95.2L71,95.7L71.3,96.2L71.7,96.7L72.2,97.2L72.9,97.7L73.7,98.2L74.5,98.7L75.5,99.2L76.4,99.7L77.1,100.2L77.7,100.7L78,101.2L78.1,101.7L77.8,102.2L77.3,102.7L76.5,103.2L75.7,103.7L74.7,104.2L73.8,104.7L73,105.2L72.3,105.7L71.8,106.2L71.4,106.7L71.1,107.2L70.8,107.7L70.7,108.2L70.6,108.7L70.6,109.2L70.6,109.7L70.6,110.2L70.7,110.7L70.8,111.2L70.9,111.7L71,112.2L71.2,112.7L71.3,113.2L71.4,113.7L71.5,114.2L71.5,114.7L71.4,115.2L71.3,115.7L71.2,116.2L71,116.7L70.9,117.2L70.8,117.7L70.7,118.2L70.6,118.7L70.5,119.2M80.6,93.7L80.7,94.2L80.8,94.7L80.9,95.2L81.1,95.7L81.4,96.2L81.8,96.7L82.3,97.2L83,97.7L83.8,98.2L84.6,98.7L85.6,99.2L86.4,99.7L87.2,100.2L87.8,100.7L88.1,101.2L88.2,101.7L87.9,102.2L87.4,102.7L86.6,103.2L85.7,103.7L84.8,104.2L83.9,104.7L83.1,105.2L82.4,105.7L81.9,106.2L81.5,106.7L81.1,107.2L80.9,107.7L80.8,108.2L80.7,108.7L80.7,109.2L80.7,109.7L80.7,110.2L80.8,110.7L80.8,111.2L81,111.7L81.1,112.2L81.2,112.7L81.4,113.2L81.5,113.7L81.6,114.2L81.6,114.7L81.5,115.2L81.4,115.7L81.3,116.2L81.1,116.7L81,117.2L80.9,117.7L80.8,118.2L80.7,118.7L80.6,119.2M90.7,93.7L90.8,94.2L90.9,94.7L91,95.2L91.2,95.7L91.5,96.2L91.9,96.7L92.4,97.2L93.1,97.7L93.9,98.2L94.7,98.7L95.6,99.2L96.5,99.7L97.3,100.2L97.9,100.7L98.2,101.2L98.2,101.7L98,102.2L97.4,102.7L96.7,103.2L95.8,103.7L94.9,104.2L94,104.7L93.2,105.2L92.5,105.7L92,106.2L91.5,106.7L91.2,107.2L91,107.7L90.9,108.2L90.8,108.7L90.8,109.2L90.7,109.7M90.7,110.2L90.8,110.7L90.8,111.2L90.9,111.7L90.9,112.2L91,112.7L91.1,113.2L91.1,113.7L91.2,114.2L91.2,114.7L91.1,115.2L91.1,115.7L91,116.2L90.9,116.7L90.9,117.2L90.8,117.7L90.8,118.2L90.7,118.7M100.8,93.7L100.9,94.2L100.9,94.7L101.1,95.2L101.3,95.7L101.6,96.2L102,96.7L102.5,97.2L103.2,97.7L103.9,98.2L104.8,98.7L105.7,99.2L106.6,99.7L107.4,100.2L108,100.7L108.3,101.2L108.3,101.7L108.1,102.2L107.5,102.7L106.8,103.2L105.9,103.7L105,104.2L104.1,104.7L103.3,105.2L102.6,105.7L102.1,106.2L101.6,106.7L101.3,107.2L101.1,107.7L101,108.2L100.9,108.7L100.8,109.2L100.8,109.7M100.8,110.2L100.9,110.7L100.9,111.2L100.9,111.7L101,112.2L101.1,112.7L101.2,113.2L101.2,113.7L101.3,114.2L101.3,114.7L101.2,115.2L101.2,115.7L101.1,116.2L101,116.7L101,117.2L100.9,117.7L100.9,118.2L100.8,118.7M110.8,93.7L111,94.2L111,94.7L111.2,95.2L111.4,95.7L111.7,96.2L112.1,96.7L112.6,97.2L113.2,97.7L114,98.2L114.9,98.7L115.8,99.2L116.7,99.7L117.5,100.2L118.1,100.7L118.4,101.2L118.4,101.7L118.2,102.2L117.6,102.7L116.9,103.2L116,103.7L115.1,104.2L114.2,104.7L113.4,105.2L112.7,105.7L112.1,106.2L111.7,106.7L111.4,107.2L111.2,107.7L111.1,108.2L111,108.7L110.9,109.2L110.8,109.7M110.8,110.2L110.9,110.7L111,111.2L111,111.7L111.1,112.2L111.2,112.7L111.3,113.2L111.3,113.7L111.3,114.2L111.3,114.7L111.3,115.2L111.3,115.7L111.2,116.2L111.1,116.7L111.1,117.2L111,117.7L110.9,118.2L110.8,118.7M120.9,93.7L121,94.2L121.1,94.7L121.3,95.2L121.5,95.7L121.7,96.2L122.1,96.7L122.7,97.2L123.3,97.7L124.1,98.2L125,98.7L125.9,99.2L126.8,99.7L127.6,100.2L128.2,100.7L128.5,101.2L128.5,101.7L128.2,102.2L127.7,102.7L127,103.2L126.1,103.7L125.2,104.2L124.3,104.7L123.5,105.2L122.8,105.7L122.2,106.2L121.8,106.7L121.5,107.2L121.3,107.7L121.2,108.2L121.1,108.7L121,109.2L120.9,109.7M120.9,110.2L121,110.7L121.1,111.2L121.1,111.7L121.2,112.2L121.3,112.7L121.3,113.2L121.4,113.7L121.4,114.2L121.4,114.7L121.4,115.2L121.4,115.7L121.3,116.2L121.2,116.7L121.1,117.2L121.1,117.7L121,118.2L120.9,118.7M131,93.7L131.1,94.2L131.2,94.7L131.3,95.2L131.5,95.7L131.8,96.2L132.2,96.7L132.8,97.2L133.4,97.7L134.2,98.2L135.1,98.7L136,99.2L136.9,99.7L137.7,100.2L138.3,100.7L138.6,101.2L138.6,101.7L138.3,102.2L137.8,102.7L137.1,103.2L136.2,103.7L135.3,104.2L134.4,104.7L133.6,105.2L132.9,105.7L132.3,106.2L131.9,106.7L131.6,107.2L131.4,107.7L131.2,108.2L131.2,108.7L131.1,109.2L131,109.7M131,110.2L131.1,110.7L131.2,111.2L131.2,111.7L131.3,112.2L131.4,112.7L131.4,113.2L131.5,113.7L131.5,114.2L131.5,114.7L131.5,115.2L131.4,115.7L131.4,116.2L131.3,116.7L131.2,117.2L131.2,117.7L131.1,118.2L131,118.7M141.1,93.7L141.2,94.2L141.3,94.7L141.4,95.2L141.6,95.7L141.9,96.2L142.3,96.7L142.9,97.2L143.5,97.7L144.3,98.2L145.2,98.7L146.1,99.2L147,99.7L147.8,100.2L148.3,100.7L148.7,101.2L148.7,101.7L148.4,102.2L147.9,102.7L147.2,103.2L146.3,103.7L145.4,104.2L144.5,104.7L143.7,105.2L143,105.7L142.4,106.2L142,106.7L141.7,107.2L141.5,107.7L141.3,108.2L141.2,108.7L141.2,109.2L141.1,109.7M141.1,110.2L141.2,110.7L141.3,111.2L141.3,111.7L141.4,112.2L141.5,112.7L141.5,113.2L141.6,113.7L141.6,114.2L141.6,114.7L141.6,115.2L141.5,115.7L141.5,116.2L141.4,116.7L141.3,117.2L141.3,117.7L141.2,118.2L141.1,118.7M151.2,93.7L151.3,94.2L151.4,94.7L151.5,95.2L151.7,95.7L152,96.2L152.4,96.7L152.9,97.2L153.6,97.7L154.4,98.2L155.3,98.7L156.2,99.2L157.1,99.7L157.8,100.2L158.4,100.7L158.8,101.2L158.8,101.7L158.5,102.2L158,102.7L157.2,103.2L156.4,103.7L155.5,104.2L154.6,104.7L153.8,105.2L153.1,105.7L152.5,106.2L152.1,106.7L151.8,107.2L151.6,107.7L151.4,108.2L151.3,108.7L151.3,109.2L151.2,109.7M151.2,109.7L151.3,110.2L151.4,110.7L151.4,111.2L151.5,111.7L151.6,112.2L151.7,112.7L151.9,113.2L151.9,113.7L152,114.2L152,114.7L152,115.2L151.9,115.7L151.8,116.2L151.6,116.7L151.5,117.2L151.4,117.7L151.4,118.2L151.3,118.7L151.2,119.2M161.3,93.7L161.4,94.2L161.5,94.7L161.6,95.2L161.8,95.7L162.1,96.2L162.5,96.7L163,97.2L163.7,97.7L164.5,98.2L165.4,98.7L166.3,99.2L167.2,99.7L167.9,100.2L168.5,100.7L168.8,101.2L168.9,101.7L168.6,102.2L168.1,102.7L167.3,103.2L166.5,103.7L165.5,104.2L164.6,104.7L163.8,105.2L163.2,105.7L162.6,106.2L162.2,106.7L161.9,107.2L161.7,107.7L161.5,108.2L161.4,108.7L161.4,109.2L161.4,109.7L161.4,110.2L161.5,110.7L161.6,111.2L161.7,111.7L161.8,112.2L162,112.7L162.1,113.2L162.2,113.7L162.3,114.2L162.3,114.7L162.2,115.2L162.1,115.7L162,116.2L161.8,116.7L161.7,117.2L161.6,117.7L161.5,118.2L161.4,118.7L161.3,119.2M171.4,93.7L171.5,94.2L171.6,94.7L171.7,95.2L171.9,95.7L172.2,96.2L172.6,96.7L173.1,97.2L173.8,97.7L174.6,98.2L175.4,98.7L176.4,99.2L177.3,99.7L178,100.2L178.6,100.7L178.9,101.2L179,101.7L178.7,102.2L178.2,102.7L177.4,103.2L176.6,103.7L175.6,104.2L174.7,104.7L173.9,105.2L173.2,105.7L172.7,106.2L172.3,106.7L172,107.2L171.7,107.7L171.6,108.2L171.5,108.7L171.5,109.2L171.5,109.7L171.5,110.2L171.6,110.7L171.7,111.2L171.8,111.7L171.9,112.2L172.1,112.7L172.2,113.2L172.3,113.7L172.4,114.2L172.4,114.7L172.3,115.2L172.2,115.7L172.1,116.2L171.9,116.7L171.8,117.2L171.7,117.7L171.6,118.2L171.5,118.7L171.4,119.2M181.5,93.7L181.6,94.2L181.7,94.7L181.8,95.2L182,95.7L182.3,96.2L182.7,96.7L183.2,97.2L183.9,97.7L184.7,98.2L185.5,98.7L186.5,99.2L187.3,99.7L188.1,100.2L188.7,100.7L189,101.2L189.1,101.7L188.8,102.2L188.3,102.7L187.5,103.2L186.6,103.7L185.7,104.2L184.8,104.7L184,105.2L183.3,105.7L182.8,106.2L182.4,106.7L182,107.2L181.8,107.7L181.7,108.2L181.6,108.7L181.6,109.2L181.5,109.7M181.5,110.2L181.6,110.7L181.6,111.2L181.7,111.7L181.7,112.2L181.8,112.7L181.9,113.2L181.9,113.7L182,114.2L182,114.7L182,115.2L181.9,115.7L181.8,116.2L181.8,116.7L181.7,117.2L181.6,117.7L181.6,118.2L181.5,118.7M191.6,93.7L191.7,94.2L191.8,94.7L191.9,95.2L192.1,95.7L192.4,96.2L192.8,96.7L193.3,97.2L194,97.7L194.8,98.2L195.6,98.7L196.5,99.2L197.4,99.7L198.2,100.2L198.8,100.7L199.1,101.2L199.1,101.7L198.9,102.2L198.3,102.7L197.6,103.2L196.7,103.7L195.8,104.2L194.9,104.7L194.1,105.2L193.4,105.7L192.9,106.2L192.4,106.7L192.1,107.2L191.9,107.7L191.8,108.2L191.7,108.7L191.7,109.2L191.6,109.7M191.6,110.2L191.7,110.7L191.7,111.2L191.8,111.7L191.8,112.2L191.9,112.7L192,113.2L192,113.7L192.1,114.2L192.1,114.7L192,115.2L192,115.7L191.9,116.2L191.8,116.7L191.8,117.2L191.7,117.7L191.7,118.2L191.6,118.7M201.7,93.7L201.8,94.2L201.8,94.7L202,95.2L202.2,95.7L202.5,96.2L202.9,96.7L203.4,97.2L204.1,97.7L204.8,98.2L205.7,98.7L206.6,99.2L207.5,99.7L208.3,100.2L208.9,100.7L209.2,101.2L209.2,101.7L209,102.2L208.4,102.7L207.7,103.2L206.8,103.7L205.9,104.2L205,104.7L204.2,105.2L203.5,105.7L203,106.2L202.5,106.7L202.2,107.2L202,107.7L201.9,108.2L201.8,108.7L201.7,109.2L201.7,109.7M201.7,110.2L201.8,110.7L201.8,111.2L201.8,111.7L201.9,112.2L202,112.7L202.1,113.2L202.1,113.7L202.2,114.2L202.2,114.7L202.1,115.2L202.1,115.7L202,116.2L201.9,116.7L201.9,117.2L201.8,117.7L201.8,118.2L201.7,118.7M211.8,93.7L211.9,94.2L211.9,94.7L212.1,95.2L212.3,95.7L212.6,96.2L213,96.7L213.5,97.2L214.1,97.7L214.9,98.2L215.8,98.7L216.7,99.2L217.6,99.7L218.4,100.2L219,100.7L219.3,101.2L219.3,101.7L219.1,102.2L218.5,102.7L217.8,103.2L216.9,103.7L216,104.2L215.1,104.7L214.3,105.2L213.6,105.7L213,106.2L212.6,106.7L212.3,107.2L212.1,107.7L212,108.2L211.9,108.7L211.8,109.2L211.8,109.7M211.8,110.2L211.8,110.7L211.9,111.2L211.9,111.7L212,112.2L212.1,112.7L212.2,113.2L212.2,113.7L212.2,114.2L212.2,114.7L212.2,115.2L212.2,115.7L212.1,116.2L212,116.7L212,117.2L211.9,117.7L211.8,118.2L211.8,118.7M221.8,93.7L221.9,94.2L222,94.7L222.2,95.2L222.4,95.7L222.6,96.2L223,96.7L223.6,97.2L224.2,97.7L225,98.2L225.9,98.7L226.8,99.2L227.7,99.7L228.5,100.2L229.1,100.7L229.4,101.2L229.4,101.7L229.1,102.2L228.6,102.7L227.9,103.2L227,103.7L226.1,104.2L225.2,104.7L224.4,105.2L223.7,105.7L223.1,106.2L222.7,106.7L222.4,107.2L222.2,107.7L222.1,108.2L222,108.7L221.9,109.2L221.8,109.7M221.8,110.2L221.9,110.7L222,111.2L222,111.7L222.1,112.2L222.2,112.7L222.2,113.2L222.3,113.7L222.3,114.2L222.3,114.7L222.3,115.2L222.3,115.7L222.2,116.2L222.1,116.7L222,117.2L222,117.7L221.9,118.2L221.8,118.7M231.9,93.7L232,94.2L232.1,94.7L232.2,95.2L232.4,95.7L232.7,96.2L233.1,96.7L233.7,97.2L234.3,97.7L235.1,98.2L236,98.7L236.9,99.2L237.8,99.7L238.6,100.2L239.2,100.7L239.5,101.2L239.5,101.7L239.2,102.2L238.7,102.7L238,103.2L237.1,103.7L236.2,104.2L235.3,104.7L234.5,105.2L233.8,105.7L233.2,106.2L232.8,106.7L232.5,107.2L232.3,107.7L232.1,108.2L232.1,108.7L232,109.2L231.9,109.7M231.9,110.2L232,110.7L232.1,111.2L232.1,111.7L232.2,112.2L232.3,112.7L232.3,113.2L232.4,113.7L232.4,114.2L232.4,114.7L232.4,115.2L232.3,115.7L232.3,116.2L232.2,116.7L232.1,117.2L232.1,117.7L232,118.2L231.9,118.7M60.4,172.7L60.1,173.2L60.2,173.7L60.3,174.2L60.3,174.7L60.4,175.2M70.5,172.7L70.2,173.2L70.3,173.7L70.3,174.2L70.4,174.7L70.5,175.2M80.6,172.7L80.3,173.2L80.4,173.7L80.4,174.2L80.5,174.7L80.6,175.2M90.7,172.7L90.4,173.2L90.5,173.7L90.5,174.2L90.6,174.7L90.7,175.2M100.8,172.7L100.6,173.2L100.6,173.7L100.7,174.2L100.8,174.7M110.8,172.7L110.7,173.2L110.7,173.7L110.8,174.2L110.8,174.7M120.9,172.7L120.8,173.2L120.8,173.7L120.9,174.2L120.9,174.7M131,172.7L130.9,173.2L130.9,173.7L130.9,174.2L131,174.7M141.1,172.7L140.9,173.2L141,173.7L141,174.2L141.1,174.7M151.2,172.7L150.9,173.2L151,173.7L151.1,174.2L151.1,174.7L151.2,175.2M161.3,172.7L161,173.2L161.1,173.7L161.2,174.2L161.2,174.7L161.3,175.2M171.4,172.7L171.1,173.2L171.2,173.7L171.3,174.2L171.3,174.7L171.4,175.2M181.5,172.7L181.2,173.2L181.3,173.7L181.3,174.2L181.4,174.7L181.5,175.2M191.6,172.7L191.4,173.2L191.4,173.7L191.5,174.2L191.6,174.7M201.7,172.7L201.5,173.2L201.5,173.7L201.6,174.2L201.7,174.7M211.8,172.7L211.6,173.2L211.6,173.7L211.7,174.2L211.8,174.7M221.8,172.7L221.7,173.2L221.7,173.7L221.8,174.2L221.8,174.7M231.9,172.7L231.7,173.2L231.8,173.7L231.8,174.2L231.9,174.7" stroke="#555555" stroke-opacity="0.55" stroke-width="0.6" fill="none"/>
<path d="M60.9,152.2L61,152.7L61.1,153.2L61.1,153.7L61.2,154.2L61.2,154.7L61.2,155.2L61.2,155.7L61.2,156.2L61.2,156.7L61.1,157.2L61,157.7L60.9,158.2M71,151.7L71.1,152.2L71.2,152.7L71.3,153.2L71.4,153.7L71.4,154.2L71.5,154.7L71.5,155.2L71.5,155.7L71.5,156.2L71.4,156.7L71.3,157.2L71.2,157.7L71.1,158.2L71,158.7M81.1,151.7L81.2,152.2L81.3,152.7L81.4,153.2L81.5,153.7L81.6,154.2L81.7,154.7L81.7,155.2L81.7,155.7L81.6,156.2L81.6,156.7L81.5,157.2L81.4,157.7L81.3,158.2L81.2,158.7L81.1,159.2M91.1,150.7L91.3,151.2L91.4,151.7L91.6,152.2L91.7,152.7L91.9,153.2L92,153.7L92.1,154.2L92.2,154.7L92.2,155.2L92.2,155.7L92.1,156.2L92,156.7L91.9,157.2L91.8,157.7L91.6,158.2L91.5,158.7L91.3,159.2L91.2,159.7M101.2,150.2L101.4,150.7L101.5,151.2L101.7,151.7L101.9,152.2L102.1,152.7L102.3,153.2L102.5,153.7L102.6,154.2L102.7,154.7L102.7,155.2L102.7,155.7L102.6,156.2L102.5,156.7L102.4,157.2L102.2,157.7L102,158.2L101.8,158.7L101.6,159.2L101.4,159.7L101.3,160.2M111.4,150.2L111.5,150.7L111.7,151.2L111.9,151.7L112.1,152.2L112.3,152.7L112.5,153.2L112.7,153.7L112.8,154.2L112.9,154.7L113,155.2L113,155.7L112.9,156.2L112.8,156.7L112.6,157.2L112.4,157.7L112.2,158.2L112,158.7L111.8,159.2L111.6,159.7L111.4,160.2M121.4,150.2L121.6,150.7L121.8,151.2L122,151.7L122.2,152.2L122.4,152.7L122.6,153.2L122.8,153.7L122.9,154.2L123,154.7L123.1,155.2L123,155.7L123,156.2L122.8,156.7L122.7,157.2L122.5,157.7L122.3,158.2L122.1,158.7L121.9,159.2L121.7,159.7L121.5,160.2M131.5,150.2L131.6,150.7L131.8,151.2L132,151.7L132.2,152.2L132.4,152.7L132.6,153.2L132.7,153.7L132.9,154.2L132.9,154.7L133,155.2L133,155.7L132.9,156.2L132.8,156.7L132.6,157.2L132.4,157.7L132.3,158.2L132.1,158.7L131.9,159.2L131.7,159.7L131.5,160.2M141.6,151.2L141.7,151.7L141.9,152.2L142,152.7L142.1,153.2L142.2,153.7L142.3,154.2L142.4,154.7L142.4,155.2L142.4,155.7L142.3,156.2L142.3,156.7L142.2,157.2L142,157.7L141.9,158.2L141.8,158.7L141.7,159.2M151.7,152.2L151.8,152.7L151.9,153.2L151.9,153.7L152,154.2L152,154.7L152.1,155.2L152.1,155.7L152,156.2L152,156.7L151.9,157.2L151.8,157.7L151.7,158.2M161.8,151.7L161.9,152.2L162,152.7L162.1,153.2L162.2,153.7L162.3,154.2L162.3,154.7L162.3,155.2L162.3,155.7L162.3,156.2L162.2,156.7L162.1,157.2L162,157.7L161.9,158.2L161.8,158.7M171.9,151.7L172,152.2L172.1,152.7L172.3,153.2L172.3,153.7L172.4,154.2L172.5,154.7L172.5,155.2L172.5,155.7L172.4,156.2L172.4,156.7L172.3,157.2L172.2,157.7L172.1,158.2L172,158.7L171.9,159.2M182,150.7L182.1,151.2L182.2,151.7L182.4,152.2L182.5,152.7L182.7,153.2L182.8,153.7L182.9,154.2L183,154.7L183,155.2L183,155.7L182.9,156.2L182.9,156.7L182.7,157.2L182.6,157.7L182.4,158.2L182.3,158.7L182.1,159.2L182,159.7M192,150.2L192.2,150.7L192.3,151.2L192.5,151.7L192.7,152.2L192.9,152.7L193.1,153.2L193.3,153.7L193.4,154.2L193.5,154.7L193.5,155.2L193.5,155.7L193.4,156.2L193.3,156.7L193.2,157.2L193,157.7L192.8,158.2L192.6,158.7L192.4,159.2L192.2,159.7L192.1,160.2M202.2,150.2L202.3,150.7L202.5,151.2L202.7,151.7L202.9,152.2L203.1,152.7L203.3,153.2L203.5,153.7L203.6,154.2L203.7,154.7L203.8,155.2L203.8,155.7L203.7,156.2L203.6,156.7L203.4,157.2L203.2,157.7L203,158.2L202.8,158.7L202.6,159.2L202.4,159.7L202.2,160.2M212.3,150.2L212.4,150.7L212.6,151.2L212.8,151.7L213,152.2L213.2,152.7L213.4,153.2L213.6,153.7L213.7,154.2L213.8,154.7L213.9,155.2L213.9,155.7L213.8,156.2L213.7,156.7L213.5,157.2L213.3,157.7L213.1,158.2L212.9,158.7L212.7,159.2L212.5,159.7L212.3,160.2M222.3,150.2L222.4,150.7L222.6,151.2L222.8,151.7L223,152.2L223.2,152.7L223.4,153.2L223.5,153.7L223.7,154.2L223.8,154.7L223.8,155.2L223.8,155.7L223.7,156.2L223.6,156.7L223.4,157.2L223.3,157.7L223.1,158.2L222.9,158.7L222.7,159.2L222.5,159.7L222.4,160.2M232.4,151.2L232.6,151.7L232.7,152.2L232.8,152.7L232.9,153.2L233,153.7L233.1,154.2L233.2,154.7L233.2,155.2L233.2,155.7L233.1,156.2L233.1,156.7L233,157.2L232.9,157.7L232.7,158.2L232.6,158.7L232.5,159.2" stroke="#f01e1e" stroke-opacity="0.75" stroke-width="1.3" stroke-linejoin="round" fill="none"/>
<path d="M59.9,167.2L59.8,167.7L59.7,168.2L59.7,168.7L59.7,169.2L59.7,169.7L59.7,170.2L59.7,170.7L59.8,171.2L59.9,171.7M70,167.2L69.9,167.7L69.8,168.2L69.8,168.7L69.7,169.2L69.7,169.7L69.8,170.2L69.8,170.7L69.9,171.2L70,171.7M80.1,167.2L80,167.7L80,168.2L79.9,168.7L79.9,169.2L79.9,169.7L79.9,170.2L79.9,170.7L80,171.2L80.1,171.7M90.2,167.2L90.1,167.7L90.1,168.2L90,168.7L90,169.2L90,169.7L90,170.2L90.1,170.7L90.1,171.2L90.2,171.7M100.3,168.2L100.3,168.7L100.2,169.2L100.2,169.7L100.3,170.2L100.3,170.7M140.7,168.2L140.6,168.7L140.6,169.2L140.6,169.7L140.6,170.2L140.6,170.7M150.7,167.2L150.6,167.7L150.5,168.2L150.5,168.7L150.5,169.2L150.5,169.7L150.5,170.2L150.5,170.7L150.6,171.2L150.7,171.7M160.8,167.2L160.7,167.7L160.6,168.2L160.6,168.7L160.6,169.2L160.6,169.7L160.6,170.2L160.6,170.7L160.7,171.2L160.8,171.7M170.9,167.2L170.8,167.7L170.8,168.2L170.7,168.7L170.7,169.2L170.7,169.7L170.7,170.2L170.7,170.7L170.8,171.2L170.9,171.7M181,167.2L180.9,167.7L180.9,168.2L180.8,168.7L180.8,169.2L180.8,169.7L180.8,170.2L180.9,170.7L180.9,171.2L181,171.7M191.1,168.2L191.1,168.7L191,169.2L191,169.7L191.1,170.2L191.1,170.7M231.5,168.2L231.4,168.7L231.4,169.2L231.4,169.7L231.4,170.2L231.5,170.7" stroke="#1e1ee8" stroke-opacity="0.6" stroke-width="1.3" stroke-linejoin="round" fill="none"/>
<line x1="353.6" y1="125.3" x2="535.2" y2="125.3" stroke="#adadad" stroke-width="1"/>
<line x1="353.6" y1="173.2" x2="535.2" y2="173.2" stroke="#adadad" stroke-width="1"/>
<line x1="535.2" y1="71.7" x2="535.2" y2="221" stroke="#b0b0b0" stroke-width="1"/>
<path d="M353.6,108.2L353.7,108.7L353.8,109.2L354,109.7L354.3,110.2L354.6,110.7L355.1,111.2L355.7,111.7L356.4,112.2L357.3,112.7L358.1,113.2L359,113.7L359.9,114.2L360.5,114.7L361,115.2L361.1,115.7L361,116.2L360.5,116.7L359.9,117.2L359,117.7L358.1,118.2L357.3,118.7L356.4,119.2L355.7,119.7L355.1,120.2L354.6,120.7L354.3,121.2L354,121.7L353.9,122.2L353.7,122.7L353.7,123.2L353.6,123.7ZM353.6,183.2L353.7,183.7L353.8,184.2L353.9,184.7L354,185.2L354.2,185.7L354.4,186.2L354.6,186.7L354.8,187.2L355,187.7L355.2,188.2L355.4,188.7L355.5,189.2L355.5,189.7L355.4,190.2L355.3,190.7L355.1,191.2L354.9,191.7L354.7,192.2L354.5,192.7L354.3,193.2L354.1,193.7L353.9,194.2L353.8,194.7L353.8,195.2L353.7,195.7L353.6,196.2ZM363.7,111.2L364.3,111.7L365,112.2L365.7,112.7L366.6,113.2L367.5,113.7L368.5,114.2L369.4,114.7L370.3,115.2L370.9,115.7L371.3,116.2L371.4,116.7L371.2,117.2L370.7,117.7L370,118.2L369.1,118.7L368.2,119.2L367.3,119.7L366.4,120.2L365.7,120.7L365.1,121.2L364.7,121.7L364.3,122.2L364.1,122.7L363.9,123.2L363.8,123.7L363.7,124.2ZM363.7,189.2L363.9,189.7L364,190.2L364.1,190.7L364.2,191.2L364.2,191.7L364.2,192.2L364.1,192.7L364,193.2L363.9,193.7L363.9,194.2L363.8,194.7L363.7,195.2ZM363.7,205.7L364,206.2L364.3,206.7L364.6,207.2L364.9,207.7L365.2,208.2L365.4,208.7L365.5,209.2L365.5,209.7L365.4,210.2L365.3,210.7L365.1,211.2L364.8,211.7L364.6,212.2L364.4,212.7L364.2,213.2L364,213.7L363.9,214.2L363.8,214.7L363.8,215.2L363.7,215.7ZM373.8,172.7L374.6,173.2L374.4,173.7L374.2,174.2L374,174.7L373.9,175.2L373.9,175.7L373.8,176.2ZM373.8,200.2L373.9,200.7L373.9,201.2L374,201.7L374.1,202.2L374.3,202.7L374.5,203.2L374.8,203.7L375.1,204.2L375.4,204.7L375.7,205.2L376.1,205.7L376.3,206.2L376.5,206.7L376.6,207.2L376.5,207.7L376.4,208.2L376.2,208.7L375.9,209.2L375.5,209.7L375.2,210.2L374.9,210.7L374.6,211.2L374.4,211.7L374.2,212.2L374.1,212.7L374,213.2L373.9,213.7L373.8,214.2ZM383.9,172.7L384.8,173.2L384.5,173.7L384.3,174.2L384.2,174.7L384.1,175.2L384,175.7L383.9,176.2ZM383.9,200.2L384,200.7L384.1,201.2L384.2,201.7L384.3,202.2L384.5,202.7L384.8,203.2L385,203.7L385.4,204.2L385.7,204.7L386,205.2L386.3,205.7L386.5,206.2L386.6,206.7L386.7,207.2L386.6,207.7L386.4,208.2L386.1,208.7L385.8,209.2L385.4,209.7L385.1,210.2L384.8,210.7L384.6,211.2L384.3,211.7L384.2,212.2L384.1,212.7L384,213.2L383.9,213.7ZM394,172.7L395.3,173.2L395,173.7L394.7,174.2L394.4,174.7L394.3,175.2L394.2,175.7L394.1,176.2L394,176.7ZM394,200.2L394.1,200.7L394.1,201.2L394.2,201.7L394.4,202.2L394.6,202.7L394.8,203.2L395,203.7L395.3,204.2L395.7,204.7L396,205.2L396.2,205.7L396.4,206.2L396.5,206.7L396.6,207.2L396.5,207.7L396.3,208.2L396,208.7L395.7,209.2L395.4,209.7L395.1,210.2L394.8,210.7L394.6,211.2L394.4,211.7L394.3,212.2L394.2,212.7L394.1,213.2L394,213.7ZM404.1,97.2L404.2,97.7L404.2,98.2L404.2,98.7L404.3,99.2L404.3,99.7L404.3,100.2L404.3,100.7L404.3,101.2L404.3,101.7L404.3,102.2L404.3,102.7L404.3,103.2L404.2,103.7L404.2,104.2L404.2,104.7L404.1,105.2L404.1,105.7ZM404.1,172.7L406.8,173.2L406.3,173.7L405.7,174.2L405.3,174.7L404.9,175.2L404.7,175.7L404.4,176.2L404.3,176.7L404.2,177.2L404.1,177.7L404.1,178.2ZM404.1,200.2L404.1,200.7L404.2,201.2L404.3,201.7L404.4,202.2L404.6,202.7L404.7,203.2L405,203.7L405.2,204.2L405.5,204.7L405.7,205.2L406,205.7L406.1,206.2L406.2,206.7L406.2,207.2L406.2,207.7L406,208.2L405.8,208.7L405.5,209.2L405.3,209.7L405,210.2L404.8,210.7L404.6,211.2L404.4,211.7L404.3,212.2L404.2,212.7L404.2,213.2L404.1,213.7ZM414.1,94.2L414.3,94.7L414.4,95.2L414.5,95.7L414.7,96.2L414.9,96.7L415.3,97.2L415.7,97.7L416.2,98.2L416.7,98.7L417.3,99.2L417.8,99.7L418.2,100.2L418.6,100.7L418.7,101.2L418.7,101.7L418.5,102.2L418.2,102.7L417.7,103.2L417.2,103.7L416.6,104.2L416.1,104.7L415.6,105.2L415.2,105.7L414.9,106.2L414.7,106.7L414.6,107.2L414.5,107.7L414.6,108.2L414.7,108.7L414.9,109.2L415.1,109.7L415.4,110.2L415.7,110.7L416.1,111.2L416.5,111.7L416.8,112.2L417,112.7L417.1,113.2L417.1,113.7L417,114.2L416.8,114.7L416.5,115.2L416.2,115.7L415.8,116.2L415.5,116.7L415.1,117.2L414.9,117.7L414.7,118.2L414.5,118.7L414.4,119.2L414.3,119.7L414.2,120.2L414.1,120.7ZM414.1,182.7L414.2,183.2L414.3,183.7L414.4,184.2L414.5,184.7L414.6,185.2L414.8,185.7L415,186.2L415.2,186.7L415.4,187.2L415.7,187.7L415.9,188.2L416,188.7L416.1,189.2L416.1,189.7L416.1,190.2L415.9,190.7L415.7,191.2L415.5,191.7L415.3,192.2L415,192.7L414.8,193.2L414.6,193.7L414.5,194.2L414.4,194.7L414.3,195.2L414.2,195.7L414.1,196.2ZM424.2,94.2L424.3,94.7L424.4,95.2L424.5,95.7L424.6,96.2L424.8,96.7L425,97.2L425.3,97.7L425.7,98.2L426.1,98.7L426.5,99.2L426.8,99.7L427.2,100.2L427.4,100.7L427.5,101.2L427.5,101.7L427.4,102.2L427.1,102.7L426.8,103.2L426.4,103.7L426,104.2L425.6,104.7L425.3,105.2L425,105.7L424.8,106.2L424.6,106.7L424.5,107.2L424.5,107.7L424.5,108.2L424.6,108.7L424.8,109.2L425,109.7L425.4,110.2L425.8,110.7L426.3,111.2L426.9,111.7L427.5,112.2L428.1,112.7L428.6,113.2L429,113.7L429.2,114.2L429.2,114.7L429,115.2L428.7,115.7L428.2,116.2L427.6,116.7L427,117.2L426.4,117.7L425.9,118.2L425.4,118.7L425.1,119.2L424.8,119.7L424.6,120.2L424.5,120.7L424.4,121.2L424.2,121.7ZM424.2,182.7L424.3,183.2L424.4,183.7L424.4,184.2L424.5,184.7L424.7,185.2L424.9,185.7L425.1,186.2L425.3,186.7L425.5,187.2L425.8,187.7L426,188.2L426.1,188.7L426.2,189.2L426.2,189.7L426.2,190.2L426,190.7L425.8,191.2L425.6,191.7L425.3,192.2L425.1,192.7L424.9,193.2L424.7,193.7L424.6,194.2L424.5,194.7L424.4,195.2L424.3,195.7L424.2,196.2ZM434.3,95.2L434.4,95.7L434.5,96.2L434.6,96.7L434.7,97.2L434.8,97.7L434.9,98.2L435.1,98.7L435.3,99.2L435.4,99.7L435.6,100.2L435.7,100.7L435.7,101.2L435.7,101.7L435.7,102.2L435.5,102.7L435.4,103.2L435.2,103.7L435.1,104.2L434.9,104.7L434.8,105.2L434.6,105.7L434.6,106.2L434.5,106.7L434.5,107.2L434.5,107.7L434.5,108.2L434.6,108.7L434.7,109.2L435,109.7L435.3,110.2L435.7,110.7L436.2,111.2L436.8,111.7L437.5,112.2L438.2,112.7L439,113.2L439.6,113.7L440,114.2L440.3,114.7L440.3,115.2L440.1,115.7L439.7,116.2L439.1,116.7L438.4,117.2L437.7,117.7L437,118.2L436.3,118.7L435.8,119.2L435.3,119.7L435,120.2L434.8,120.7L434.6,121.2L434.5,121.7L434.4,122.2L434.3,122.7ZM434.3,182.7L434.4,183.2L434.5,183.7L434.5,184.2L434.6,184.7L434.8,185.2L434.9,185.7L435.2,186.2L435.4,186.7L435.6,187.2L435.9,187.7L436.1,188.2L436.2,188.7L436.3,189.2L436.3,189.7L436.2,190.2L436.1,190.7L435.9,191.2L435.7,191.7L435.4,192.2L435.2,192.7L435,193.2L434.8,193.7L434.7,194.2L434.5,194.7L434.5,195.2L434.4,195.7L434.3,196.2ZM444.4,108.2L444.5,108.7L444.7,109.2L444.8,109.7L445.1,110.2L445.4,110.7L445.9,111.2L446.5,111.7L447.2,112.2L448.1,112.7L449,113.2L449.9,113.7L450.7,114.2L451.3,114.7L451.8,115.2L451.9,115.7L451.8,116.2L451.3,116.7L450.7,117.2L449.9,117.7L449,118.2L448.1,118.7L447.2,119.2L446.5,119.7L445.9,120.2L445.4,120.7L445.1,121.2L444.8,121.7L444.7,122.2L444.6,122.7L444.5,123.2L444.4,123.7ZM444.4,183.2L444.5,183.7L444.6,184.2L444.7,184.7L444.8,185.2L445,185.7L445.2,186.2L445.4,186.7L445.6,187.2L445.8,187.7L446,188.2L446.2,188.7L446.3,189.2L446.3,189.7L446.3,190.2L446.1,190.7L446,191.2L445.7,191.7L445.5,192.2L445.3,192.7L445.1,193.2L444.9,193.7L444.8,194.2L444.6,194.7L444.6,195.2L444.5,195.7L444.4,196.2ZM454.5,111.2L455.1,111.7L455.8,112.2L456.5,112.7L457.4,113.2L458.3,113.7L459.3,114.2L460.2,114.7L461.1,115.2L461.7,115.7L462.1,116.2L462.2,116.7L462,117.2L461.5,117.7L460.8,118.2L459.9,118.7L459,119.2L458.1,119.7L457.2,120.2L456.5,120.7L455.9,121.2L455.5,121.7L455.1,122.2L454.9,122.7L454.7,123.2L454.6,123.7L454.5,124.2ZM454.5,189.2L454.7,189.7L454.8,190.2L455,190.7L455,191.2L455,191.7L455,192.2L454.9,192.7L454.8,193.2L454.7,193.7L454.7,194.2L454.6,194.7L454.5,195.2ZM454.5,205.7L454.8,206.2L455.1,206.7L455.5,207.2L455.7,207.7L456,208.2L456.2,208.7L456.3,209.2L456.3,209.7L456.2,210.2L456.1,210.7L455.9,211.2L455.6,211.7L455.4,212.2L455.2,212.7L455,213.2L454.8,213.7L454.7,214.2L454.6,214.7L454.6,215.2L454.5,215.7ZM464.6,172.7L465.4,173.2L465.2,173.7L465,174.2L464.8,174.7L464.7,175.2L464.7,175.7L464.6,176.2ZM464.6,200.2L464.7,200.7L464.7,201.2L464.8,201.7L464.9,202.2L465.1,202.7L465.3,203.2L465.6,203.7L465.9,204.2L466.2,204.7L466.6,205.2L466.9,205.7L467.1,206.2L467.3,206.7L467.4,207.2L467.4,207.7L467.2,208.2L467,208.7L466.7,209.2L466.4,209.7L466,210.2L465.7,210.7L465.4,211.2L465.2,211.7L465,212.2L464.9,212.7L464.8,213.2L464.7,213.7L464.6,214.2ZM474.7,172.7L475.6,173.2L475.3,173.7L475.1,174.2L475,174.7L474.9,175.2L474.8,175.7L474.7,176.2ZM474.7,200.2L474.8,200.7L474.9,201.2L475,201.7L475.1,202.2L475.3,202.7L475.6,203.2L475.9,203.7L476.2,204.2L476.5,204.7L476.8,205.2L477.1,205.7L477.3,206.2L477.5,206.7L477.5,207.2L477.4,207.7L477.2,208.2L476.9,208.7L476.6,209.2L476.2,209.7L475.9,210.2L475.6,210.7L475.4,211.2L475.2,211.7L475,212.2L474.9,212.7L474.8,213.2L474.7,213.7ZM484.8,172.7L486.1,173.2L485.8,173.7L485.5,174.2L485.3,174.7L485.1,175.2L485,175.7L484.9,176.2L484.8,176.7ZM484.8,200.2L484.9,200.7L484.9,201.2L485,201.7L485.2,202.2L485.4,202.7L485.6,203.2L485.9,203.7L486.2,204.2L486.5,204.7L486.8,205.2L487,205.7L487.2,206.2L487.4,206.7L487.4,207.2L487.3,207.7L487.1,208.2L486.8,208.7L486.5,209.2L486.2,209.7L485.9,210.2L485.6,210.7L485.4,211.2L485.2,211.7L485.1,212.2L485,212.7L484.9,213.2L484.8,213.7ZM494.9,97.2L495,97.7L495,98.2L495,98.7L495.1,99.2L495.1,99.7L495.1,100.2L495.1,100.7L495.2,101.2L495.2,101.7L495.1,102.2L495.1,102.7L495.1,103.2L495.1,103.7L495,104.2L495,104.7L494.9,105.2L494.9,105.7ZM494.9,172.7L497.7,173.2L497.1,173.7L496.5,174.2L496.1,174.7L495.7,175.2L495.5,175.7L495.3,176.2L495.1,176.7L495,177.2L495,177.7L494.9,178.2ZM494.9,200.2L494.9,200.7L495,201.2L495.1,201.7L495.2,202.2L495.4,202.7L495.6,203.2L495.8,203.7L496,204.2L496.3,204.7L496.6,205.2L496.8,205.7L497,206.2L497,206.7L497.1,207.2L497,207.7L496.8,208.2L496.6,208.7L496.4,209.2L496.1,209.7L495.8,210.2L495.6,210.7L495.4,211.2L495.2,211.7L495.1,212.2L495,212.7L495,213.2L494.9,213.7ZM505,94.2L505.1,94.7L505.2,95.2L505.3,95.7L505.5,96.2L505.7,96.7L506.1,97.2L506.5,97.7L507,98.2L507.5,98.7L508.1,99.2L508.6,99.7L509,100.2L509.4,100.7L509.5,101.2L509.5,101.7L509.3,102.2L509,102.7L508.5,103.2L508,103.7L507.4,104.2L506.9,104.7L506.4,105.2L506,105.7L505.7,106.2L505.5,106.7L505.4,107.2L505.3,107.7L505.4,108.2L505.5,108.7L505.7,109.2L505.9,109.7L506.2,110.2L506.6,110.7L506.9,111.2L507.3,111.7L507.6,112.2L507.8,112.7L507.9,113.2L507.9,113.7L507.8,114.2L507.6,114.7L507.3,115.2L507,115.7L506.6,116.2L506.3,116.7L506,117.2L505.7,117.7L505.5,118.2L505.3,118.7L505.2,119.2L505.1,119.7L505,120.2L505,120.7ZM505,182.7L505,183.2L505.1,183.7L505.2,184.2L505.3,184.7L505.4,185.2L505.6,185.7L505.8,186.2L506,186.7L506.3,187.2L506.5,187.7L506.7,188.2L506.9,188.7L506.9,189.2L506.9,189.7L506.9,190.2L506.7,190.7L506.5,191.2L506.3,191.7L506.1,192.2L505.8,192.7L505.6,193.2L505.4,193.7L505.3,194.2L505.2,194.7L505.1,195.2L505,195.7L505,196.2ZM515,94.2L515.1,94.7L515.2,95.2L515.3,95.7L515.4,96.2L515.6,96.7L515.8,97.2L516.1,97.7L516.5,98.2L516.9,98.7L517.3,99.2L517.7,99.7L518,100.2L518.2,100.7L518.3,101.2L518.3,101.7L518.2,102.2L517.9,102.7L517.6,103.2L517.2,103.7L516.8,104.2L516.4,104.7L516.1,105.2L515.8,105.7L515.6,106.2L515.4,106.7L515.3,107.2L515.3,107.7L515.3,108.2L515.4,108.7L515.6,109.2L515.8,109.7L516.2,110.2L516.6,110.7L517.1,111.2L517.7,111.7L518.3,112.2L518.9,112.7L519.4,113.2L519.8,113.7L520,114.2L520,114.7L519.8,115.2L519.5,115.7L519,116.2L518.4,116.7L517.8,117.2L517.2,117.7L516.7,118.2L516.3,118.7L515.9,119.2L515.6,119.7L515.4,120.2L515.3,120.7L515.2,121.2L515,121.7ZM515,182.7L515.1,183.2L515.2,183.7L515.3,184.2L515.4,184.7L515.5,185.2L515.7,185.7L515.9,186.2L516.1,186.7L516.3,187.2L516.6,187.7L516.8,188.2L516.9,188.7L517,189.2L517,189.7L517,190.2L516.8,190.7L516.6,191.2L516.4,191.7L516.2,192.2L515.9,192.7L515.7,193.2L515.5,193.7L515.4,194.2L515.3,194.7L515.2,195.2L515.1,195.7L515,196.2ZM525.1,95.2L525.2,95.7L525.3,96.2L525.4,96.7L525.5,97.2L525.6,97.7L525.7,98.2L525.9,98.7L526.1,99.2L526.2,99.7L526.4,100.2L526.5,100.7L526.5,101.2L526.5,101.7L526.5,102.2L526.4,102.7L526.2,103.2L526,103.7L525.9,104.2L525.7,104.7L525.6,105.2L525.5,105.7L525.4,106.2L525.3,106.7L525.3,107.2L525.3,107.7L525.3,108.2L525.4,108.7L525.5,109.2L525.8,109.7L526.1,110.2L526.5,110.7L527,111.2L527.6,111.7L528.3,112.2L529.1,112.7L529.8,113.2L530.4,113.7L530.8,114.2L531.1,114.7L531.1,115.2L530.9,115.7L530.5,116.2L529.9,116.7L529.2,117.2L528.5,117.7L527.8,118.2L527.1,118.7L526.6,119.2L526.2,119.7L525.8,120.2L525.6,120.7L525.4,121.2L525.3,121.7L525.2,122.2L525.1,122.7ZM525.1,182.7L525.2,183.2L525.3,183.7L525.3,184.2L525.4,184.7L525.6,185.2L525.8,185.7L526,186.2L526.2,186.7L526.4,187.2L526.7,187.7L526.9,188.2L527,188.7L527.1,189.2L527.1,189.7L527.1,190.2L526.9,190.7L526.7,191.2L526.5,191.7L526.2,192.2L526,192.7L525.8,193.2L525.6,193.7L525.5,194.2L525.4,194.7L525.3,195.2L525.2,195.7L525.1,196.2Z" fill="#ffa0a0" fill-opacity="0.92"/>
<path d="M353.6,95.2L353.5,95.7L353.5,96.2L353.4,96.7L353.3,97.2L353.2,97.7L353.1,98.2L352.9,98.7L352.8,99.2L352.6,99.7L352.5,100.2L352.4,100.7L352.4,101.2L352.4,101.7L352.5,102.2L352.6,102.7L352.7,103.2L352.8,103.7L353,104.2L353.1,104.7L353.2,105.2L353.3,105.7L353.4,106.2L353.5,106.7L353.6,107.2ZM353.6,172.7L352.8,173.2L353,173.7L353.2,174.2L353.3,174.7L353.4,175.2L353.5,175.7L353.6,176.2ZM353.6,200.2L353.5,200.7L353.4,201.2L353.3,201.7L353.2,202.2L353.1,202.7L352.8,203.2L352.6,203.7L352.3,204.2L352,204.7L351.7,205.2L351.5,205.7L351.3,206.2L351.2,206.7L351.2,207.2L351.3,207.7L351.5,208.2L351.7,208.7L352,209.2L352.3,209.7L352.5,210.2L352.8,210.7L353,211.2L353.2,211.7L353.3,212.2L353.4,212.7L353.5,213.2L353.6,213.7ZM363.7,93.7L363.6,94.2L363.5,94.7L363.4,95.2L363.2,95.7L363,96.2L362.6,96.7L362.2,97.2L361.6,97.7L360.9,98.2L360.2,98.7L359.4,99.2L358.7,99.7L358.1,100.2L357.6,100.7L357.3,101.2L357.3,101.7L357.5,102.2L357.8,102.7L358.3,103.2L358.8,103.7L359.3,104.2L359.6,104.7L359.9,105.2L360,105.7L360.1,106.2L360.2,106.7L360.3,107.2L360.5,107.7L360.7,108.2L361,108.7L361.5,109.2L361.9,109.7L362.5,110.2L363,110.7L363.7,111.2ZM363.7,172.7L360.2,173.2L360.6,173.7L361.1,174.2L361.6,174.7L362.1,175.2L362.6,175.7L363,176.2L363.2,176.7L363.4,177.2L363.5,177.7L363.6,178.2L363.7,178.7ZM363.7,182.2L363.6,182.7L363.5,183.2L363.4,183.7L363.2,184.2L363.1,184.7L362.9,185.2L362.8,185.7L362.8,186.2L362.7,186.7L362.8,187.2L363,187.7L363.2,188.2L363.4,188.7L363.7,189.2ZM363.7,198.7L363.6,199.2L363.5,199.7L363.4,200.2L363.2,200.7L363.1,201.2L362.9,201.7L362.8,202.2L362.7,202.7L362.7,203.2L362.8,203.7L362.9,204.2L363.1,204.7L363.4,205.2L363.7,205.7ZM373.8,95.7L373.7,96.2L373.6,96.7L373.6,97.2L373.5,97.7L373.4,98.2L373.3,98.7L373.2,99.2L373.1,99.7L373.1,100.2L373,100.7L373,101.2L373,101.7L373,102.2L373.1,102.7L373.2,103.2L373.3,103.7L373.4,104.2L373.4,104.7L373.5,105.2L373.6,105.7L373.6,106.2L373.6,106.7L373.6,107.2L373.5,107.7L373.4,108.2L373.1,108.7L372.8,109.2L372.3,109.7L371.7,110.2L370.9,110.7L370.1,111.2L369.1,111.7L368.2,112.2L367.3,112.7L366.5,113.2L366,113.7L365.8,114.2L365.9,114.7L366.3,115.2L366.9,115.7L367.8,116.2L368.7,116.7L369.7,117.2L370.6,117.7L371.4,118.2L372.1,118.7L372.6,119.2L373,119.7L373.3,120.2L373.5,120.7L373.6,121.2L373.7,121.7L373.8,122.2ZM373.8,181.7L373.7,182.2L373.6,182.7L373.5,183.2L373.4,183.7L373.2,184.2L373,184.7L372.8,185.2L372.6,185.7L372.3,186.2L372.1,186.7L371.9,187.2L371.7,187.7L371.7,188.2L371.7,188.7L371.8,189.2L372,189.7L372.2,190.2L372.5,190.7L372.7,191.2L372.9,191.7L373.2,192.2L373.3,192.7L373.5,193.2L373.6,193.7L373.7,194.2L373.8,194.7ZM383.9,95.7L383.8,96.2L383.7,96.7L383.7,97.2L383.6,97.7L383.5,98.2L383.4,98.7L383.3,99.2L383.2,99.7L383.2,100.2L383.1,100.7L383.1,101.2L383.1,101.7L383.1,102.2L383.2,102.7L383.3,103.2L383.3,103.7L383.4,104.2L383.5,104.7L383.6,105.2L383.7,105.7L383.7,106.2L383.7,106.7L383.7,107.2L383.7,107.7L383.6,108.2L383.4,108.7L383.1,109.2L382.8,109.7L382.3,110.2L381.7,110.7L380.9,111.2L380.1,111.7L379.3,112.2L378.5,112.7L377.8,113.2L377.2,113.7L376.9,114.2L376.9,114.7L377.1,115.2L377.6,115.7L378.3,116.2L379.1,116.7L380,117.2L380.8,117.7L381.5,118.2L382.2,118.7L382.7,119.2L383.1,119.7L383.3,120.2L383.5,120.7L383.7,121.2L383.8,121.7L383.9,122.2ZM383.9,182.7L383.8,183.2L383.7,183.7L383.6,184.2L383.5,184.7L383.3,185.2L383.1,185.7L382.9,186.2L382.6,186.7L382.3,187.2L382.1,187.7L381.9,188.2L381.7,188.7L381.7,189.2L381.7,189.7L381.8,190.2L382,190.7L382.2,191.2L382.5,191.7L382.7,192.2L383,192.7L383.2,193.2L383.4,193.7L383.5,194.2L383.7,194.7L383.7,195.2L383.8,195.7L383.9,196.2ZM394,95.7L393.9,96.2L393.8,96.7L393.8,97.2L393.7,97.7L393.7,98.2L393.6,98.7L393.5,99.2L393.4,99.7L393.3,100.2L393.3,100.7L393.3,101.2L393.3,101.7L393.3,102.2L393.3,102.7L393.4,103.2L393.5,103.7L393.6,104.2L393.7,104.7L393.7,105.2L393.8,105.7L393.8,106.2L393.9,106.7L393.9,107.2L393.8,107.7L393.8,108.2L393.7,108.7L393.5,109.2L393.3,109.7L392.9,110.2L392.5,110.7L391.9,111.2L391.2,111.7L390.5,112.2L389.7,112.7L388.9,113.2L388.3,113.7L387.8,114.2L387.5,114.7L387.5,115.2L387.7,115.7L388.2,116.2L388.8,116.7L389.5,117.2L390.3,117.7L391.1,118.2L391.8,118.7L392.4,119.2L392.8,119.7L393.2,120.2L393.5,120.7L393.7,121.2L393.8,121.7L393.9,122.2L394,122.7ZM394,183.2L393.9,183.7L393.8,184.2L393.7,184.7L393.6,185.2L393.4,185.7L393.2,186.2L393,186.7L392.7,187.2L392.5,187.7L392.2,188.2L392,188.7L391.8,189.2L391.7,189.7L391.7,190.2L391.7,190.7L391.9,191.2L392.1,191.7L392.4,192.2L392.7,192.7L392.9,193.2L393.2,193.7L393.4,194.2L393.6,194.7L393.7,195.2L393.8,195.7L393.9,196.2L394,196.7ZM404.1,107.2L403.9,107.7L403.8,108.2L403.6,108.7L403.3,109.2L402.9,109.7L402.5,110.2L401.8,110.7L401.1,111.2L400.3,111.7L399.5,112.2L398.6,112.7L397.9,113.2L397.4,113.7L397.1,114.2L397.1,114.7L397.3,115.2L397.8,115.7L398.5,116.2L399.3,116.7L400.1,117.2L401,117.7L401.7,118.2L402.3,118.7L402.9,119.2L403.2,119.7L403.5,120.2L403.7,120.7L403.9,121.2L403.9,121.7L404.1,122.2ZM404.1,184.7L404,185.2L403.9,185.7L403.8,186.2L403.7,186.7L403.6,187.2L403.4,187.7L403.2,188.2L403,188.7L402.7,189.2L402.5,189.7L402.3,190.2L402.1,190.7L402.1,191.2L402.1,191.7L402.1,192.2L402.3,192.7L402.5,193.2L402.7,193.7L402.9,194.2L403.2,194.7L403.4,195.2L403.6,195.7L403.7,196.2L403.8,196.7L403.9,197.2L404,197.7L404.1,198.2ZM414.1,172.7L413.7,173.2L413.9,173.7L414,174.2L414,174.7L414.1,175.2ZM414.1,199.7L414,200.2L414,200.7L413.9,201.2L413.7,201.7L413.6,202.2L413.4,202.7L413.1,203.2L412.8,203.7L412.5,204.2L412.2,204.7L412,205.2L411.8,205.7L411.7,206.2L411.6,206.7L411.7,207.2L411.9,207.7L412.2,208.2L412.4,208.7L412.7,209.2L413,209.7L413.3,210.2L413.5,210.7L413.7,211.2L413.9,211.7L414,212.2L414,212.7L414.1,213.2ZM424.2,172.7L423.5,173.2L423.7,173.7L423.9,174.2L424,174.7L424.1,175.2L424.2,175.7ZM424.2,199.7L424.1,200.2L424.1,200.7L424,201.2L423.8,201.7L423.7,202.2L423.4,202.7L423.2,203.2L422.9,203.7L422.6,204.2L422.3,204.7L422,205.2L421.9,205.7L421.7,206.2L421.7,206.7L421.8,207.2L422,207.7L422.2,208.2L422.5,208.7L422.8,209.2L423.1,209.7L423.4,210.2L423.6,210.7L423.8,211.2L423.9,211.7L424,212.2L424.1,212.7L424.2,213.2ZM434.3,172.7L433.5,173.2L433.8,173.7L433.9,174.2L434.1,174.7L434.2,175.2L434.2,175.7L434.3,176.2ZM434.3,200.2L434.2,200.7L434.1,201.2L434,201.7L433.9,202.2L433.7,202.7L433.4,203.2L433.2,203.7L432.9,204.2L432.6,204.7L432.3,205.2L432.1,205.7L431.9,206.2L431.8,206.7L431.9,207.2L432,207.7L432.2,208.2L432.4,208.7L432.7,209.2L433,209.7L433.3,210.2L433.6,210.7L433.8,211.2L434,211.7L434.1,212.2L434.2,212.7L434.2,213.2L434.3,213.7ZM444.4,95.2L444.3,95.7L444.3,96.2L444.2,96.7L444.1,97.2L444,97.7L443.9,98.2L443.7,98.7L443.6,99.2L443.5,99.7L443.3,100.2L443.3,100.7L443.2,101.2L443.2,101.7L443.3,102.2L443.4,102.7L443.5,103.2L443.6,103.7L443.8,104.2L443.9,104.7L444,105.2L444.1,105.7L444.2,106.2L444.3,106.7L444.4,107.2ZM444.4,172.7L443.6,173.2L443.8,173.7L444,174.2L444.2,174.7L444.2,175.2L444.3,175.7L444.4,176.2ZM444.4,200.2L444.3,200.7L444.2,201.2L444.2,201.7L444,202.2L443.9,202.7L443.7,203.2L443.4,203.7L443.1,204.2L442.8,204.7L442.6,205.2L442.3,205.7L442.1,206.2L442,206.7L442,207.2L442.1,207.7L442.3,208.2L442.5,208.7L442.8,209.2L443.1,209.7L443.4,210.2L443.6,210.7L443.8,211.2L444,211.7L444.1,212.2L444.2,212.7L444.3,213.2L444.4,213.7ZM454.5,93.7L454.4,94.2L454.3,94.7L454.2,95.2L454,95.7L453.8,96.2L453.4,96.7L453,97.2L452.4,97.7L451.7,98.2L451,98.7L450.2,99.2L449.5,99.7L448.9,100.2L448.4,100.7L448.1,101.2L448.1,101.7L448.3,102.2L448.7,102.7L449.1,103.2L449.6,103.7L450.1,104.2L450.4,104.7L450.7,105.2L450.9,105.7L450.9,106.2L451,106.7L451.1,107.2L451.3,107.7L451.5,108.2L451.8,108.7L452.3,109.2L452.7,109.7L453.3,110.2L453.8,110.7L454.5,111.2ZM454.5,172.7L451,173.2L451.4,173.7L451.9,174.2L452.4,174.7L452.9,175.2L453.4,175.7L453.8,176.2L454,176.7L454.2,177.2L454.3,177.7L454.4,178.2L454.5,178.7ZM454.5,182.2L454.4,182.7L454.3,183.2L454.2,183.7L454,184.2L453.9,184.7L453.8,185.2L453.6,185.7L453.6,186.2L453.6,186.7L453.6,187.2L453.8,187.7L454,188.2L454.2,188.7L454.5,189.2ZM454.5,198.7L454.4,199.2L454.3,199.7L454.2,200.2L454,200.7L453.9,201.2L453.8,201.7L453.6,202.2L453.6,202.7L453.5,203.2L453.6,203.7L453.7,204.2L453.9,204.7L454.2,205.2L454.5,205.7ZM464.6,95.7L464.5,96.2L464.5,96.7L464.4,97.2L464.3,97.7L464.2,98.2L464.1,98.7L464,99.2L464,99.7L463.9,100.2L463.8,100.7L463.8,101.2L463.8,101.7L463.8,102.2L463.9,102.7L464,103.2L464.1,103.7L464.2,104.2L464.3,104.7L464.3,105.2L464.4,105.7L464.4,106.2L464.4,106.7L464.4,107.2L464.3,107.7L464.2,108.2L463.9,108.7L463.6,109.2L463.1,109.7L462.5,110.2L461.8,110.7L460.9,111.2L459.9,111.7L459,112.2L458.1,112.7L457.3,113.2L456.8,113.7L456.6,114.2L456.7,114.7L457.1,115.2L457.8,115.7L458.6,116.2L459.5,116.7L460.5,117.2L461.4,117.7L462.2,118.2L462.9,118.7L463.4,119.2L463.8,119.7L464.1,120.2L464.3,120.7L464.4,121.2L464.5,121.7L464.6,122.2ZM464.6,181.7L464.5,182.2L464.4,182.7L464.3,183.2L464.2,183.7L464,184.2L463.8,184.7L463.6,185.2L463.4,185.7L463.1,186.2L462.9,186.7L462.7,187.2L462.5,187.7L462.5,188.2L462.5,188.7L462.6,189.2L462.8,189.7L463,190.2L463.3,190.7L463.5,191.2L463.8,191.7L464,192.2L464.1,192.7L464.3,193.2L464.4,193.7L464.5,194.2L464.6,194.7ZM474.7,95.7L474.6,96.2L474.5,96.7L474.5,97.2L474.4,97.7L474.3,98.2L474.2,98.7L474.1,99.2L474,99.7L474,100.2L473.9,100.7L473.9,101.2L473.9,101.7L473.9,102.2L474,102.7L474.1,103.2L474.2,103.7L474.3,104.2L474.3,104.7L474.4,105.2L474.5,105.7L474.5,106.2L474.5,106.7L474.5,107.2L474.5,107.7L474.4,108.2L474.2,108.7L473.9,109.2L473.6,109.7L473.1,110.2L472.5,110.7L471.8,111.2L470.9,111.7L470.1,112.2L469.3,112.7L468.6,113.2L468,113.7L467.7,114.2L467.7,114.7L467.9,115.2L468.4,115.7L469.1,116.2L469.9,116.7L470.8,117.2L471.6,117.7L472.3,118.2L473,118.7L473.5,119.2L473.9,119.7L474.2,120.2L474.4,120.7L474.5,121.2L474.6,121.7L474.7,122.2ZM474.7,182.7L474.6,183.2L474.5,183.7L474.4,184.2L474.3,184.7L474.1,185.2L473.9,185.7L473.7,186.2L473.4,186.7L473.1,187.2L472.9,187.7L472.7,188.2L472.5,188.7L472.5,189.2L472.5,189.7L472.6,190.2L472.8,190.7L473,191.2L473.3,191.7L473.6,192.2L473.8,192.7L474,193.2L474.2,193.7L474.4,194.2L474.5,194.7L474.5,195.2L474.6,195.7L474.7,196.2ZM484.8,95.7L484.7,96.2L484.7,96.7L484.6,97.2L484.5,97.7L484.5,98.2L484.4,98.7L484.3,99.2L484.2,99.7L484.1,100.2L484.1,100.7L484.1,101.2L484.1,101.7L484.1,102.2L484.2,102.7L484.2,103.2L484.3,103.7L484.4,104.2L484.5,104.7L484.5,105.2L484.6,105.7L484.6,106.2L484.7,106.7L484.7,107.2L484.6,107.7L484.6,108.2L484.5,108.7L484.3,109.2L484.1,109.7L483.7,110.2L483.3,110.7L482.7,111.2L482,111.7L481.3,112.2L480.5,112.7L479.8,113.2L479.1,113.7L478.6,114.2L478.3,114.7L478.3,115.2L478.5,115.7L479,116.2L479.6,116.7L480.4,117.2L481.1,117.7L481.9,118.2L482.6,118.7L483.2,119.2L483.7,119.7L484,120.2L484.3,120.7L484.5,121.2L484.6,121.7L484.7,122.2L484.8,122.7ZM484.8,183.2L484.7,183.7L484.6,184.2L484.5,184.7L484.4,185.2L484.2,185.7L484,186.2L483.8,186.7L483.5,187.2L483.3,187.7L483,188.2L482.8,188.7L482.6,189.2L482.5,189.7L482.5,190.2L482.6,190.7L482.7,191.2L482.9,191.7L483.2,192.2L483.5,192.7L483.8,193.2L484,193.7L484.2,194.2L484.4,194.7L484.5,195.2L484.6,195.7L484.7,196.2L484.8,196.7ZM494.9,107.2L494.7,107.7L494.6,108.2L494.4,108.7L494.1,109.2L493.8,109.7L493.3,110.2L492.7,110.7L491.9,111.2L491.1,111.7L490.3,112.2L489.5,112.7L488.7,113.2L488.2,113.7L487.9,114.2L487.9,114.7L488.1,115.2L488.6,115.7L489.3,116.2L490.1,116.7L491,117.2L491.8,117.7L492.5,118.2L493.2,118.7L493.7,119.2L494.1,119.7L494.3,120.2L494.5,120.7L494.7,121.2L494.7,121.7L494.9,122.2ZM494.9,184.7L494.8,185.2L494.7,185.7L494.6,186.2L494.5,186.7L494.4,187.2L494.2,187.7L494,188.2L493.8,188.7L493.6,189.2L493.3,189.7L493.1,190.2L493,190.7L492.9,191.2L492.9,191.7L492.9,192.2L493.1,192.7L493.3,193.2L493.5,193.7L493.7,194.2L494,194.7L494.2,195.2L494.4,195.7L494.5,196.2L494.6,196.7L494.7,197.2L494.8,197.7L494.9,198.2ZM505,172.7L504.5,173.2L504.7,173.7L504.8,174.2L504.9,174.7L505,175.2ZM505,199.7L504.8,200.2L504.8,200.7L504.7,201.2L504.6,201.7L504.4,202.2L504.2,202.7L503.9,203.2L503.6,203.7L503.3,204.2L503,204.7L502.8,205.2L502.6,205.7L502.5,206.2L502.5,206.7L502.5,207.2L502.7,207.7L503,208.2L503.3,208.7L503.6,209.2L503.8,209.7L504.1,210.2L504.3,210.7L504.5,211.2L504.7,211.7L504.8,212.2L504.8,212.7L505,213.2ZM515,172.7L514.3,173.2L514.5,173.7L514.7,174.2L514.8,174.7L514.9,175.2L515,175.7ZM515,199.7L514.9,200.2L514.9,200.7L514.8,201.2L514.6,201.7L514.5,202.2L514.3,202.7L514,203.2L513.7,203.7L513.4,204.2L513.1,204.7L512.9,205.2L512.7,205.7L512.6,206.2L512.5,206.7L512.6,207.2L512.8,207.7L513.1,208.2L513.3,208.7L513.6,209.2L513.9,209.7L514.2,210.2L514.4,210.7L514.6,211.2L514.8,211.7L514.9,212.2L514.9,212.7L515,213.2ZM525.1,172.7L524.3,173.2L524.6,173.7L524.8,174.2L524.9,174.7L525,175.2L525,175.7L525.1,176.2ZM525.1,200.2L525,200.7L524.9,201.2L524.8,201.7L524.7,202.2L524.5,202.7L524.2,203.2L524,203.7L523.7,204.2L523.4,204.7L523.1,205.2L522.9,205.7L522.7,206.2L522.6,206.7L522.7,207.2L522.8,207.7L523,208.2L523.3,208.7L523.6,209.2L523.9,209.7L524.1,210.2L524.4,210.7L524.6,211.2L524.8,211.7L524.9,212.2L525,212.7L525,213.2L525.1,213.7Z" fill="#a0a0ff" fill-opacity="0.92"/>
<path d="M353.6,137.7L353.7,138.2L353.8,138.7L353.8,139.2L354,139.7L354.2,140.2L354.4,140.7L354.7,141.2L355.1,141.7L355.5,142.2L356,142.7L356.4,143.2L356.8,143.7L357.2,144.2L357.4,144.7L357.5,145.2L357.4,145.7L357.2,146.2L356.9,146.7L356.4,147.2L355.9,147.7L355.2,148.2L354.6,148.7L353.8,149.2L353.6,149.7ZM363.7,145.2L363.8,145.7L364.3,146.2L364.7,146.7L364.9,147.2L365,147.7L364.9,148.2L364.7,148.7L364.4,149.2L363.9,149.7L363.7,150.2ZM363.7,154.7L364.1,155.2L364.9,155.7L365.6,156.2L366.3,156.7L366.8,157.2L367.2,157.7L367.3,158.2L367.3,158.7L367,159.2L366.6,159.7L366.1,160.2L365.6,160.7L365.2,161.2L364.9,161.7L364.8,162.2L364.9,162.7L365.1,163.2L365.6,163.7L366.1,164.2L366.8,164.7L367.4,165.2L367.9,165.7L368.2,166.2L368.2,166.7L367.9,167.2L367.4,167.7L366.6,168.2L365.7,168.7L364.6,169.2L363.7,169.7ZM373.8,148.7L374,149.2L375,149.7L376,150.2L377,150.7L378,151.2L379,151.7L379.9,152.2L380.6,152.7L381.2,153.2L381.4,153.7L381.4,154.2L381.1,154.7L380.6,155.2L379.8,155.7L379,156.2L378.1,156.7L377.2,157.2L376.4,157.7L375.7,158.2L375.2,158.7L374.8,159.2L374.4,159.7L374.2,160.2L374.1,160.7L374,161.2L374.1,161.7L374.1,162.2L374.3,162.7L374.5,163.2L374.8,163.7L375.2,164.2L375.7,164.7L376.2,165.2L376.8,165.7L377.4,166.2L377.9,166.7L378.4,167.2L378.6,167.7L378.8,168.2L378.7,168.7L378.5,169.2L378.1,169.7L377.6,170.2L377,170.7L376.5,171.2L375.9,171.7L375.4,172.2L375,172.7L374.6,173.2L373.8,173.2ZM383.9,149.2L384.6,149.7L385.6,150.2L386.6,150.7L387.7,151.2L388.7,151.7L389.7,152.2L390.5,152.7L391.2,153.2L391.6,153.7L391.7,154.2L391.5,154.7L391,155.2L390.3,155.7L389.5,156.2L388.6,156.7L387.7,157.2L386.9,157.7L386.1,158.2L385.5,158.7L385,159.2L384.6,159.7L384.4,160.2L384.2,160.7L384.1,161.2L384.1,161.7L384.1,162.2L384.2,162.7L384.3,163.2L384.5,163.7L384.8,164.2L385.2,164.7L385.6,165.2L386,165.7L386.5,166.2L387,166.7L387.4,167.2L387.8,167.7L388,168.2L388.1,168.7L388,169.2L387.8,169.7L387.4,170.2L387,170.7L386.5,171.2L386,171.7L385.6,172.2L385.2,172.7L384.8,173.2L383.9,173.2ZM394,149.7L395.1,150.2L396.4,150.7L397.6,151.2L398.8,151.7L399.9,152.2L400.7,152.7L401.3,153.2L401.6,153.7L401.7,154.2L401.4,154.7L400.8,155.2L400.1,155.7L399.2,156.2L398.3,156.7L397.4,157.2L396.6,157.7L395.9,158.2L395.4,158.7L394.9,159.2L394.6,159.7L394.4,160.2L394.2,160.7L394.2,161.2L394.1,161.7L394.1,162.2L394.2,162.7L394.3,163.2L394.4,163.7L394.7,164.2L395,164.7L395.3,165.2L395.8,165.7L396.3,166.2L396.8,166.7L397.3,167.2L397.8,167.7L398.1,168.2L398.4,168.7L398.5,169.2L398.4,169.7L398.1,170.2L397.8,170.7L397.3,171.2L396.8,171.7L396.3,172.2L395.8,172.7L395.3,173.2L394,173.2ZM404.1,149.2L404.4,149.7L405.7,150.2L407,150.7L408.2,151.2L409.3,151.7L410.2,152.2L410.8,152.7L411.2,153.2L411.2,153.7L410.9,154.2L410.4,154.7L409.6,155.2L408.7,155.7L407.7,156.2L406.8,156.7L405.9,157.2L405.1,157.7L404.5,158.2L404.1,158.7ZM404.1,163.7L404.3,164.2L404.5,164.7L404.8,165.2L405.1,165.7L405.5,166.2L406,166.7L406.6,167.2L407.2,167.7L407.8,168.2L408.4,168.7L408.8,169.2L409.1,169.7L409.2,170.2L409.2,170.7L408.9,171.2L408.5,171.7L408,172.2L407.4,172.7L406.8,173.2L404.1,173.2ZM414.1,138.2L414.3,138.7L414.3,139.2L414.5,139.7L414.6,140.2L414.9,140.7L415.2,141.2L415.7,141.7L416.2,142.2L416.8,142.7L417.5,143.2L418.2,143.7L418.9,144.2L419.4,144.7L419.9,145.2L420.1,145.7L420.1,146.2L419.9,146.7L419.5,147.2L418.9,147.7L418.1,148.2L417.3,148.7L416.4,149.2L415.5,149.7L414.5,150.2L414.1,150.7ZM424.2,138.2L424.3,138.7L424.4,139.2L424.5,139.7L424.7,140.2L425,140.7L425.3,141.2L425.7,141.7L426.2,142.2L426.8,142.7L427.5,143.2L428.2,143.7L428.8,144.2L429.3,144.7L429.8,145.2L430,145.7L430,146.2L429.7,146.7L429.3,147.2L428.7,147.7L427.9,148.2L427,148.7L426.1,149.2L425,149.7L424.2,150.2ZM434.3,137.7L434.4,138.2L434.5,138.7L434.6,139.2L434.7,139.7L434.9,140.2L435.2,140.7L435.6,141.2L436,141.7L436.6,142.2L437.2,142.7L437.8,143.2L438.4,143.7L438.9,144.2L439.3,144.7L439.5,145.2L439.6,145.7L439.4,146.2L439.1,146.7L438.6,147.2L437.9,147.7L437.1,148.2L436.3,148.7L435.4,149.2L434.5,149.7L434.3,150.2ZM444.4,137.7L444.5,138.2L444.6,138.7L444.7,139.2L444.8,139.7L445,140.2L445.2,140.7L445.5,141.2L445.9,141.7L446.3,142.2L446.8,142.7L447.2,143.2L447.6,143.7L448,144.2L448.2,144.7L448.3,145.2L448.2,145.7L448,146.2L447.7,146.7L447.2,147.2L446.7,147.7L446.1,148.2L445.4,148.7L444.7,149.2L444.4,149.7ZM454.5,145.2L454.6,145.7L455.1,146.2L455.5,146.7L455.7,147.2L455.8,147.7L455.7,148.2L455.5,148.7L455.2,149.2L454.7,149.7L454.5,150.2ZM454.5,154.7L455,155.2L455.7,155.7L456.4,156.2L457.1,156.7L457.6,157.2L458,157.7L458.1,158.2L458.1,158.7L457.8,159.2L457.4,159.7L456.9,160.2L456.4,160.7L456,161.2L455.7,161.7L455.6,162.2L455.7,162.7L456,163.2L456.4,163.7L457,164.2L457.6,164.7L458.2,165.2L458.7,165.7L459,166.2L459,166.7L458.7,167.2L458.2,167.7L457.4,168.2L456.5,168.7L455.4,169.2L454.5,169.7ZM464.6,148.7L464.8,149.2L465.8,149.7L466.8,150.2L467.8,150.7L468.8,151.2L469.8,151.7L470.7,152.2L471.5,152.7L472,153.2L472.3,153.7L472.2,154.2L471.9,154.7L471.4,155.2L470.6,155.7L469.8,156.2L468.9,156.7L468,157.2L467.2,157.7L466.6,158.2L466,158.7L465.6,159.2L465.3,159.7L465,160.2L464.9,160.7L464.9,161.2L464.9,161.7L465,162.2L465.1,162.7L465.3,163.2L465.6,163.7L466,164.2L466.5,164.7L467,165.2L467.6,165.7L468.2,166.2L468.7,166.7L469.2,167.2L469.5,167.7L469.6,168.2L469.5,168.7L469.3,169.2L468.9,169.7L468.4,170.2L467.9,170.7L467.3,171.2L466.7,171.7L466.2,172.2L465.8,172.7L465.4,173.2L464.6,173.2ZM474.7,149.2L475.4,149.7L476.4,150.2L477.4,150.7L478.5,151.2L479.5,151.7L480.5,152.2L481.3,152.7L482,153.2L482.4,153.7L482.5,154.2L482.3,154.7L481.8,155.2L481.1,155.7L480.3,156.2L479.4,156.7L478.5,157.2L477.7,157.7L476.9,158.2L476.3,158.7L475.8,159.2L475.5,159.7L475.2,160.2L475,160.7L474.9,161.2L474.9,161.7L474.9,162.2L475,162.7L475.1,163.2L475.3,163.7L475.6,164.2L476,164.7L476.4,165.2L476.8,165.7L477.3,166.2L477.8,166.7L478.2,167.2L478.6,167.7L478.8,168.2L478.9,168.7L478.8,169.2L478.6,169.7L478.2,170.2L477.8,170.7L477.3,171.2L476.8,171.7L476.4,172.2L476,172.7L475.6,173.2L474.7,173.2ZM484.8,149.7L485.9,150.2L487.2,150.7L488.4,151.2L489.6,151.7L490.7,152.2L491.5,152.7L492.1,153.2L492.5,153.7L492.5,154.2L492.2,154.7L491.6,155.2L490.9,155.7L490,156.2L489.1,156.7L488.3,157.2L487.5,157.7L486.8,158.2L486.2,158.7L485.7,159.2L485.4,159.7L485.2,160.2L485,160.7L485,161.2L484.9,161.7L484.9,162.2L485,162.7L485.1,163.2L485.3,163.7L485.5,164.2L485.8,164.7L486.1,165.2L486.6,165.7L487.1,166.2L487.6,166.7L488.1,167.2L488.6,167.7L488.9,168.2L489.2,168.7L489.3,169.2L489.2,169.7L488.9,170.2L488.6,170.7L488.1,171.2L487.6,171.7L487.1,172.2L486.6,172.7L486.1,173.2L484.8,173.2ZM494.9,149.2L495.3,149.7L496.5,150.2L497.8,150.7L499,151.2L500.1,151.7L501,152.2L501.6,152.7L502,153.2L502,153.7L501.7,154.2L501.2,154.7L500.4,155.2L499.5,155.7L498.5,156.2L497.6,156.7L496.7,157.2L495.9,157.7L495.3,158.2L494.9,158.7ZM494.9,163.7L495.1,164.2L495.3,164.7L495.6,165.2L495.9,165.7L496.3,166.2L496.8,166.7L497.4,167.2L498,167.7L498.6,168.2L499.2,168.7L499.6,169.2L499.9,169.7L500.1,170.2L500,170.7L499.8,171.2L499.4,171.7L498.8,172.2L498.3,172.7L497.7,173.2L494.9,173.2ZM505,138.2L505.1,138.7L505.1,139.2L505.3,139.7L505.4,140.2L505.7,140.7L506,141.2L506.5,141.7L507,142.2L507.6,142.7L508.3,143.2L509,143.7L509.7,144.2L510.2,144.7L510.7,145.2L510.9,145.7L510.9,146.2L510.7,146.7L510.3,147.2L509.7,147.7L508.9,148.2L508.1,148.7L507.2,149.2L506.3,149.7L505.3,150.2L505,150.7ZM515,138.2L515.2,138.7L515.2,139.2L515.3,139.7L515.5,140.2L515.8,140.7L516.1,141.2L516.5,141.7L517,142.2L517.6,142.7L518.3,143.2L519,143.7L519.6,144.2L520.2,144.7L520.6,145.2L520.8,145.7L520.8,146.2L520.6,146.7L520.1,147.2L519.5,147.7L518.7,148.2L517.8,148.7L516.9,149.2L515.8,149.7L515,150.2ZM525.1,137.7L525.2,138.2L525.3,138.7L525.4,139.2L525.5,139.7L525.7,140.2L526,140.7L526.4,141.2L526.9,141.7L527.4,142.2L528,142.7L528.6,143.2L529.2,143.7L529.7,144.2L530.1,144.7L530.4,145.2L530.4,145.7L530.2,146.2L529.9,146.7L529.4,147.2L528.7,147.7L527.9,148.2L527.1,148.7L526.2,149.2L525.3,149.7L525.1,150.2Z" fill="#f01e1e" fill-opacity="1"/>
<path d="M353.6,149.2L353.1,149.7L352.3,150.2L351.4,150.7L350.6,151.2L349.7,151.7L348.9,152.2L348.2,152.7L347.6,153.2L347.2,153.7L347.1,154.2L347.2,154.7L347.6,155.2L348.1,155.7L348.8,156.2L349.5,156.7L350.3,157.2L351,157.7L351.6,158.2L352.1,158.7L352.6,159.2L352.9,159.7L353.1,160.2L353.3,160.7L353.4,161.2L353.4,161.7L353.4,162.2L353.4,162.7L353.3,163.2L353.2,163.7L353,164.2L352.8,164.7L352.5,165.2L352.1,165.7L351.8,166.2L351.4,166.7L351.1,167.2L350.8,167.7L350.6,168.2L350.5,168.7L350.5,169.2L350.6,169.7L350.9,170.2L351.2,170.7L351.5,171.2L351.9,171.7L352.2,172.2L352.5,172.7L352.8,173.2L353.6,173.2ZM363.7,136.7L363.6,137.2L363.5,137.7L363.4,138.2L363.3,138.7L363,139.2L362.8,139.7L362.4,140.2L362,140.7L361.7,141.2L361.4,141.7L361.2,142.2L361.2,142.7L361.3,143.2L361.7,143.7L362.1,144.2L362.7,144.7L363.2,145.2L363.7,145.7ZM363.7,149.7L363.4,150.2L363,150.7L362.6,151.2L362.2,151.7L362,152.2L362,152.7L362.1,153.2L362.4,153.7L362.9,154.2L363.5,154.7L363.7,155.2ZM363.7,169.2L363.6,169.7L362.6,170.2L361.6,170.7L360.9,171.2L360.3,171.7L360,172.2L360,172.7L360.2,173.2L363.7,173.2ZM373.8,137.2L373.7,137.7L373.6,138.2L373.5,138.7L373.3,139.2L373.1,139.7L372.8,140.2L372.4,140.7L372,141.2L371.4,141.7L370.9,142.2L370.3,142.7L369.7,143.2L369.3,143.7L369,144.2L368.8,144.7L368.8,145.2L369.1,145.7L369.5,146.2L370,146.7L370.7,147.2L371.4,147.7L372.2,148.2L373.1,148.7L373.8,149.2ZM383.9,137.2L383.8,137.7L383.7,138.2L383.6,138.7L383.5,139.2L383.3,139.7L383.1,140.2L382.7,140.7L382.3,141.2L381.8,141.7L381.2,142.2L380.6,142.7L380,143.2L379.5,143.7L379,144.2L378.8,144.7L378.7,145.2L378.8,145.7L379.1,146.2L379.6,146.7L380.2,147.2L381,147.7L381.8,148.2L382.7,148.7L383.6,149.2L383.9,149.7ZM394,138.2L393.9,138.7L393.8,139.2L393.7,139.7L393.6,140.2L393.4,140.7L393.1,141.2L392.7,141.7L392.2,142.2L391.7,142.7L391.1,143.2L390.4,143.7L389.8,144.2L389.2,144.7L388.8,145.2L388.5,145.7L388.5,146.2L388.6,146.7L389,147.2L389.7,147.7L390.5,148.2L391.5,148.7L392.6,149.2L393.8,149.7L394,150.2ZM404.1,138.2L404,138.7L403.9,139.2L403.8,139.7L403.7,140.2L403.5,140.7L403.2,141.2L402.9,141.7L402.4,142.2L401.9,142.7L401.3,143.2L400.7,143.7L400.1,144.2L399.6,144.7L399.2,145.2L398.9,145.7L398.9,146.2L399.1,146.7L399.5,147.2L400.2,147.7L401,148.2L402.1,148.7L403.2,149.2L404.1,149.7ZM404.1,158.7L403.7,159.2L403.6,159.7L403.5,160.2L403.5,160.7L403.5,161.2L403.6,161.7L403.7,162.2L403.8,162.7L404,163.2L404.1,163.7ZM414.1,150.2L413.6,150.7L412.6,151.2L411.5,151.7L410.5,152.2L409.4,152.7L408.5,153.2L407.6,153.7L406.9,154.2L406.5,154.7L406.4,155.2L406.5,155.7L406.9,156.2L407.5,156.7L408.3,157.2L409.2,157.7L410.1,158.2L411,158.7L411.7,159.2L412.3,159.7L412.8,160.2L413.2,160.7L413.4,161.2L413.4,161.7L413.4,162.2L413.2,162.7L412.9,163.2L412.5,163.7L412.1,164.2L411.6,164.7L411,165.2L410.5,165.7L410.1,166.2L409.8,166.7L409.6,167.2L409.6,167.7L409.7,168.2L410,168.7L410.4,169.2L410.9,169.7L411.5,170.2L412,170.7L412.5,171.2L412.9,171.7L413.2,172.2L413.5,172.7L413.7,173.2L414.1,173.2ZM424.2,149.7L424,150.2L422.9,150.7L421.7,151.2L420.6,151.7L419.5,152.2L418.5,152.7L417.7,153.2L417.1,153.7L416.7,154.2L416.6,154.7L416.7,155.2L417.2,155.7L417.9,156.2L418.7,156.7L419.6,157.2L420.4,157.7L421.3,158.2L422,158.7L422.6,159.2L423.1,159.7L423.4,160.2L423.7,160.7L423.8,161.2L423.9,161.7L423.8,162.2L423.7,162.7L423.5,163.2L423.3,163.7L422.9,164.2L422.5,164.7L422,165.2L421.5,165.7L421,166.2L420.5,166.7L420.1,167.2L419.8,167.7L419.7,168.2L419.8,168.7L420,169.2L420.3,169.7L420.8,170.2L421.3,170.7L421.8,171.2L422.3,171.7L422.8,172.2L423.2,172.7L423.5,173.2L424.2,173.2ZM434.3,149.7L433.5,150.2L432.6,150.7L431.6,151.2L430.6,151.7L429.6,152.2L428.8,152.7L428.1,153.2L427.6,153.7L427.4,154.2L427.4,154.7L427.6,155.2L428.1,155.7L428.8,156.2L429.6,156.7L430.4,157.2L431.2,157.7L431.9,158.2L432.5,158.7L433,159.2L433.4,159.7L433.7,160.2L433.9,160.7L434,161.2L434,161.7L434,162.2L433.9,162.7L433.8,163.2L433.5,163.7L433.2,164.2L432.9,164.7L432.4,165.2L432,165.7L431.5,166.2L431,166.7L430.6,167.2L430.3,167.7L430.1,168.2L430.1,168.7L430.3,169.2L430.5,169.7L430.9,170.2L431.4,170.7L431.9,171.2L432.4,171.7L432.8,172.2L433.2,172.7L433.5,173.2L434.3,173.2ZM444.4,149.2L443.9,149.7L443.1,150.2L442.2,150.7L441.4,151.2L440.5,151.7L439.7,152.2L439,152.7L438.4,153.2L438.1,153.7L437.9,154.2L438,154.7L438.4,155.2L438.9,155.7L439.6,156.2L440.3,156.7L441.1,157.2L441.8,157.7L442.4,158.2L443,158.7L443.4,159.2L443.7,159.7L443.9,160.2L444.1,160.7L444.2,161.2L444.2,161.7L444.2,162.2L444.2,162.7L444.1,163.2L444,163.7L443.8,164.2L443.6,164.7L443.3,165.2L443,165.7L442.6,166.2L442.2,166.7L441.9,167.2L441.6,167.7L441.4,168.2L441.3,168.7L441.3,169.2L441.5,169.7L441.7,170.2L442,170.7L442.3,171.2L442.7,171.7L443,172.2L443.3,172.7L443.6,173.2L444.4,173.2ZM454.5,136.7L454.4,137.2L454.3,137.7L454.2,138.2L454.1,138.7L453.9,139.2L453.6,139.7L453.2,140.2L452.9,140.7L452.5,141.2L452.2,141.7L452,142.2L452,142.7L452.2,143.2L452.5,143.7L452.9,144.2L453.5,144.7L454,145.2L454.5,145.7ZM454.5,149.7L454.3,150.2L453.8,150.7L453.4,151.2L453,151.7L452.8,152.2L452.8,152.7L452.9,153.2L453.2,153.7L453.7,154.2L454.3,154.7L454.5,155.2ZM454.5,169.2L454.4,169.7L453.4,170.2L452.4,170.7L451.7,171.2L451.1,171.7L450.8,172.2L450.8,172.7L451,173.2L454.5,173.2ZM464.6,137.2L464.5,137.7L464.4,138.2L464.3,138.7L464.1,139.2L463.9,139.7L463.6,140.2L463.2,140.7L462.8,141.2L462.2,141.7L461.7,142.2L461.1,142.7L460.6,143.2L460.1,143.7L459.8,144.2L459.6,144.7L459.7,145.2L459.9,145.7L460.3,146.2L460.8,146.7L461.5,147.2L462.2,147.7L463.1,148.2L463.9,148.7L464.6,149.2ZM474.7,137.2L474.6,137.7L474.5,138.2L474.5,138.7L474.3,139.2L474.1,139.7L473.9,140.2L473.5,140.7L473.1,141.2L472.6,141.7L472,142.2L471.4,142.7L470.8,143.2L470.3,143.7L469.9,144.2L469.6,144.7L469.5,145.2L469.6,145.7L469.9,146.2L470.4,146.7L471,147.2L471.8,147.7L472.6,148.2L473.5,148.7L474.4,149.2L474.7,149.7ZM484.8,138.2L484.7,138.7L484.6,139.2L484.5,139.7L484.4,140.2L484.2,140.7L483.9,141.2L483.5,141.7L483.1,142.2L482.5,142.7L481.9,143.2L481.2,143.7L480.6,144.2L480,144.7L479.6,145.2L479.3,145.7L479.3,146.2L479.4,146.7L479.9,147.2L480.5,147.7L481.3,148.2L482.3,148.7L483.4,149.2L484.6,149.7L484.8,150.2ZM494.9,138.2L494.8,138.7L494.7,139.2L494.6,139.7L494.5,140.2L494.3,140.7L494,141.2L493.7,141.7L493.2,142.2L492.7,142.7L492.1,143.2L491.5,143.7L490.9,144.2L490.4,144.7L490,145.2L489.7,145.7L489.7,146.2L489.9,146.7L490.3,147.2L491,147.7L491.8,148.2L492.9,148.7L494,149.2L494.9,149.7ZM494.9,158.7L494.5,159.2L494.4,159.7L494.3,160.2L494.3,160.7L494.3,161.2L494.4,161.7L494.5,162.2L494.6,162.7L494.8,163.2L494.9,163.7ZM505,150.2L504.4,150.7L503.4,151.2L502.3,151.7L501.3,152.2L500.3,152.7L499.3,153.2L498.4,153.7L497.7,154.2L497.3,154.7L497.2,155.2L497.3,155.7L497.7,156.2L498.3,156.7L499.1,157.2L500,157.7L500.9,158.2L501.8,158.7L502.5,159.2L503.2,159.7L503.6,160.2L504,160.7L504.2,161.2L504.2,161.7L504.2,162.2L504,162.7L503.7,163.2L503.3,163.7L502.9,164.2L502.4,164.7L501.8,165.2L501.3,165.7L500.9,166.2L500.6,166.7L500.4,167.2L500.4,167.7L500.5,168.2L500.8,168.7L501.2,169.2L501.7,169.7L502.3,170.2L502.8,170.7L503.3,171.2L503.7,171.7L504.1,172.2L504.3,172.7L504.5,173.2L505,173.2ZM515,149.7L514.8,150.2L513.7,150.7L512.6,151.2L511.4,151.7L510.3,152.2L509.4,152.7L508.5,153.2L507.9,153.7L507.5,154.2L507.4,154.7L507.6,155.2L508,155.7L508.7,156.2L509.5,156.7L510.4,157.2L511.3,157.7L512.1,158.2L512.8,158.7L513.4,159.2L513.9,159.7L514.2,160.2L514.5,160.7L514.6,161.2L514.7,161.7L514.6,162.2L514.5,162.7L514.4,163.2L514.1,163.7L513.7,164.2L513.3,164.7L512.8,165.2L512.3,165.7L511.8,166.2L511.3,166.7L510.9,167.2L510.7,167.7L510.5,168.2L510.6,168.7L510.8,169.2L511.1,169.7L511.6,170.2L512.1,170.7L512.6,171.2L513.1,171.7L513.6,172.2L514,172.7L514.3,173.2L515,173.2ZM525.1,149.7L524.3,150.2L523.4,150.7L522.4,151.2L521.4,151.7L520.4,152.2L519.6,152.7L518.9,153.2L518.4,153.7L518.2,154.2L518.2,154.7L518.5,155.2L519,155.7L519.6,156.2L520.4,156.7L521.2,157.2L522,157.7L522.7,158.2L523.3,158.7L523.8,159.2L524.2,159.7L524.5,160.2L524.7,160.7L524.8,161.2L524.9,161.7L524.8,162.2L524.7,162.7L524.6,163.2L524.4,163.7L524.1,164.2L523.7,164.7L523.3,165.2L522.8,165.7L522.3,166.2L521.8,166.7L521.4,167.2L521.1,167.7L521,168.2L520.9,168.7L521.1,169.2L521.4,169.7L521.7,170.2L522.2,170.7L522.7,171.2L523.2,171.7L523.6,172.2L524,172.7L524.3,173.2L525.1,173.2Z" fill="#1e1ee8" fill-opacity="1"/>
<path d="M353.6,71.7V221M363.7,71.7V221M373.8,71.7V221M383.9,71.7V221M394,71.7V221M404.1,71.7V221M414.1,71.7V221M424.2,71.7V221M434.3,71.7V221M444.4,71.7V221M454.5,71.7V221M464.6,71.7V221M474.7,71.7V221M484.8,71.7V221M494.9,71.7V221M505,71.7V221M515,71.7V221M525.1,71.7V221" stroke="#a0a0a0" stroke-width="1" fill="none"/>
<path d="M353.6,108.2L353.7,108.7L353.8,109.2L354,109.7L354.3,110.2L354.6,110.7L355.1,111.2L355.7,111.7L356.4,112.2L357.3,112.7L358.1,113.2L359,113.7L359.9,114.2L360.5,114.7L361,115.2L361.1,115.7L361,116.2L360.5,116.7L359.9,117.2L359,117.7L358.1,118.2L357.3,118.7L356.4,119.2L355.7,119.7L355.1,120.2L354.6,120.7L354.3,121.2L354,121.7L353.9,122.2L353.7,122.7L353.7,123.2L353.6,123.7M353.6,183.2L353.7,183.7L353.8,184.2L353.9,184.7L354,185.2L354.2,185.7L354.4,186.2L354.6,186.7L354.8,187.2L355,187.7L355.2,188.2L355.4,188.7L355.5,189.2L355.5,189.7L355.4,190.2L355.3,190.7L355.1,191.2L354.9,191.7L354.7,192.2L354.5,192.7L354.3,193.2L354.1,193.7L353.9,194.2L353.8,194.7L353.8,195.2L353.7,195.7L353.6,196.2M363.7,111.2L364.3,111.7L365,112.2L365.7,112.7L366.6,113.2L367.5,113.7L368.5,114.2L369.4,114.7L370.3,115.2L370.9,115.7L371.3,116.2L371.4,116.7L371.2,117.2L370.7,117.7L370,118.2L369.1,118.7L368.2,119.2L367.3,119.7L366.4,120.2L365.7,120.7L365.1,121.2L364.7,121.7L364.3,122.2L364.1,122.7L363.9,123.2L363.8,123.7L363.7,124.2M363.7,189.2L363.9,189.7L364,190.2L364.1,190.7L364.2,191.2L364.2,191.7L364.2,192.2L364.1,192.7L364,193.2L363.9,193.7L363.9,194.2L363.8,194.7L363.7,195.2M363.7,205.7L364,206.2L364.3,206.7L364.6,207.2L364.9,207.7L365.2,208.2L365.4,208.7L365.5,209.2L365.5,209.7L365.4,210.2L365.3,210.7L365.1,211.2L364.8,211.7L364.6,212.2L364.4,212.7L364.2,213.2L364,213.7L363.9,214.2L363.8,214.7L363.8,215.2L363.7,215.7M373.8,172.7L374.6,173.2L374.4,173.7L374.2,174.2L374,174.7L373.9,175.2L373.9,175.7L373.8,176.2M373.8,200.2L373.9,200.7L373.9,201.2L374,201.7L374.1,202.2L374.3,202.7L374.5,203.2L374.8,203.7L375.1,204.2L375.4,204.7L375.7,205.2L376.1,205.7L376.3,206.2L376.5,206.7L376.6,207.2L376.5,207.7L376.4,208.2L376.2,208.7L375.9,209.2L375.5,209.7L375.2,210.2L374.9,210.7L374.6,211.2L374.4,211.7L374.2,212.2L374.1,212.7L374,213.2L373.9,213.7L373.8,214.2M383.9,172.7L384.8,173.2L384.5,173.7L384.3,174.2L384.2,174.7L384.1,175.2L384,175.7L383.9,176.2M383.9,200.2L384,200.7L384.1,201.2L384.2,201.7L384.3,202.2L384.5,202.7L384.8,203.2L385,203.7L385.4,204.2L385.7,204.7L386,205.2L386.3,205.7L386.5,206.2L386.6,206.7L386.7,207.2L386.6,207.7L386.4,208.2L386.1,208.7L385.8,209.2L385.4,209.7L385.1,210.2L384.8,210.7L384.6,211.2L384.3,211.7L384.2,212.2L384.1,212.7L384,213.2L383.9,213.7M394,172.7L395.3,173.2L395,173.7L394.7,174.2L394.4,174.7L394.3,175.2L394.2,175.7L394.1,176.2L394,176.7M394,200.2L394.1,200.7L394.1,201.2L394.2,201.7L394.4,202.2L394.6,202.7L394.8,203.2L395,203.7L395.3,204.2L395.7,204.7L396,205.2L396.2,205.7L396.4,206.2L396.5,206.7L396.6,207.2L396.5,207.7L396.3,208.2L396,208.7L395.7,209.2L395.4,209.7L395.1,210.2L394.8,210.7L394.6,211.2L394.4,211.7L394.3,212.2L394.2,212.7L394.1,213.2L394,213.7M404.1,97.2L404.2,97.7L404.2,98.2L404.2,98.7L404.3,99.2L404.3,99.7L404.3,100.2L404.3,100.7L404.3,101.2L404.3,101.7L404.3,102.2L404.3,102.7L404.3,103.2L404.2,103.7L404.2,104.2L404.2,104.7L404.1,105.2L404.1,105.7M404.1,172.7L406.8,173.2L406.3,173.7L405.7,174.2L405.3,174.7L404.9,175.2L404.7,175.7L404.4,176.2L404.3,176.7L404.2,177.2L404.1,177.7L404.1,178.2M404.1,200.2L404.1,200.7L404.2,201.2L404.3,201.7L404.4,202.2L404.6,202.7L404.7,203.2L405,203.7L405.2,204.2L405.5,204.7L405.7,205.2L406,205.7L406.1,206.2L406.2,206.7L406.2,207.2L406.2,207.7L406,208.2L405.8,208.7L405.5,209.2L405.3,209.7L405,210.2L404.8,210.7L404.6,211.2L404.4,211.7L404.3,212.2L404.2,212.7L404.2,213.2L404.1,213.7M414.1,94.2L414.3,94.7L414.4,95.2L414.5,95.7L414.7,96.2L414.9,96.7L415.3,97.2L415.7,97.7L416.2,98.2L416.7,98.7L417.3,99.2L417.8,99.7L418.2,100.2L418.6,100.7L418.7,101.2L418.7,101.7L418.5,102.2L418.2,102.7L417.7,103.2L417.2,103.7L416.6,104.2L416.1,104.7L415.6,105.2L415.2,105.7L414.9,106.2L414.7,106.7L414.6,107.2L414.5,107.7L414.6,108.2L414.7,108.7L414.9,109.2L415.1,109.7L415.4,110.2L415.7,110.7L416.1,111.2L416.5,111.7L416.8,112.2L417,112.7L417.1,113.2L417.1,113.7L417,114.2L416.8,114.7L416.5,115.2L416.2,115.7L415.8,116.2L415.5,116.7L415.1,117.2L414.9,117.7L414.7,118.2L414.5,118.7L414.4,119.2L414.3,119.7L414.2,120.2L414.1,120.7M414.1,182.7L414.2,183.2L414.3,183.7L414.4,184.2L414.5,184.7L414.6,185.2L414.8,185.7L415,186.2L415.2,186.7L415.4,187.2L415.7,187.7L415.9,188.2L416,188.7L416.1,189.2L416.1,189.7L416.1,190.2L415.9,190.7L415.7,191.2L415.5,191.7L415.3,192.2L415,192.7L414.8,193.2L414.6,193.7L414.5,194.2L414.4,194.7L414.3,195.2L414.2,195.7L414.1,196.2M424.2,94.2L424.3,94.7L424.4,95.2L424.5,95.7L424.6,96.2L424.8,96.7L425,97.2L425.3,97.7L425.7,98.2L426.1,98.7L426.5,99.2L426.8,99.7L427.2,100.2L427.4,100.7L427.5,101.2L427.5,101.7L427.4,102.2L427.1,102.7L426.8,103.2L426.4,103.7L426,104.2L425.6,104.7L425.3,105.2L425,105.7L424.8,106.2L424.6,106.7L424.5,107.2L424.5,107.7L424.5,108.2L424.6,108.7L424.8,109.2L425,109.7L425.4,110.2L425.8,110.7L426.3,111.2L426.9,111.7L427.5,112.2L428.1,112.7L428.6,113.2L429,113.7L429.2,114.2L429.2,114.7L429,115.2L428.7,115.7L428.2,116.2L427.6,116.7L427,117.2L426.4,117.7L425.9,118.2L425.4,118.7L425.1,119.2L424.8,119.7L424.6,120.2L424.5,120.7L424.4,121.2L424.2,121.7M424.2,182.7L424.3,183.2L424.4,183.7L424.4,184.2L424.5,184.7L424.7,185.2L424.9,185.7L425.1,186.2L425.3,186.7L425.5,187.2L425.8,187.7L426,188.2L426.1,188.7L426.2,189.2L426.2,189.7L426.2,190.2L426,190.7L425.8,191.2L425.6,191.7L425.3,192.2L425.1,192.7L424.9,193.2L424.7,193.7L424.6,194.2L424.5,194.7L424.4,195.2L424.3,195.7L424.2,196.2M434.3,95.2L434.4,95.7L434.5,96.2L434.6,96.7L434.7,97.2L434.8,97.7L434.9,98.2L435.1,98.7L435.3,99.2L435.4,99.7L435.6,100.2L435.7,100.7L435.7,101.2L435.7,101.7L435.7,102.2L435.5,102.7L435.4,103.2L435.2,103.7L435.1,104.2L434.9,104.7L434.8,105.2L434.6,105.7L434.6,106.2L434.5,106.7L434.5,107.2L434.5,107.7L434.5,108.2L434.6,108.7L434.7,109.2L435,109.7L435.3,110.2L435.7,110.7L436.2,111.2L436.8,111.7L437.5,112.2L438.2,112.7L439,113.2L439.6,113.7L440,114.2L440.3,114.7L440.3,115.2L440.1,115.7L439.7,116.2L439.1,116.7L438.4,117.2L437.7,117.7L437,118.2L436.3,118.7L435.8,119.2L435.3,119.7L435,120.2L434.8,120.7L434.6,121.2L434.5,121.7L434.4,122.2L434.3,122.7M434.3,182.7L434.4,183.2L434.5,183.7L434.5,184.2L434.6,184.7L434.8,185.2L434.9,185.7L435.2,186.2L435.4,186.7L435.6,187.2L435.9,187.7L436.1,188.2L436.2,188.7L436.3,189.2L436.3,189.7L436.2,190.2L436.1,190.7L435.9,191.2L435.7,191.7L435.4,192.2L435.2,192.7L435,193.2L434.8,193.7L434.7,194.2L434.5,194.7L434.5,195.2L434.4,195.7L434.3,196.2M444.4,108.2L444.5,108.7L444.7,109.2L444.8,109.7L445.1,110.2L445.4,110.7L445.9,111.2L446.5,111.7L447.2,112.2L448.1,112.7L449,113.2L449.9,113.7L450.7,114.2L451.3,114.7L451.8,115.2L451.9,115.7L451.8,116.2L451.3,116.7L450.7,117.2L449.9,117.7L449,118.2L448.1,118.7L447.2,119.2L446.5,119.7L445.9,120.2L445.4,120.7L445.1,121.2L444.8,121.7L444.7,122.2L444.6,122.7L444.5,123.2L444.4,123.7M444.4,183.2L444.5,183.7L444.6,184.2L444.7,184.7L444.8,185.2L445,185.7L445.2,186.2L445.4,186.7L445.6,187.2L445.8,187.7L446,188.2L446.2,188.7L446.3,189.2L446.3,189.7L446.3,190.2L446.1,190.7L446,191.2L445.7,191.7L445.5,192.2L445.3,192.7L445.1,193.2L444.9,193.7L444.8,194.2L444.6,194.7L444.6,195.2L444.5,195.7L444.4,196.2M454.5,111.2L455.1,111.7L455.8,112.2L456.5,112.7L457.4,113.2L458.3,113.7L459.3,114.2L460.2,114.7L461.1,115.2L461.7,115.7L462.1,116.2L462.2,116.7L462,117.2L461.5,117.7L460.8,118.2L459.9,118.7L459,119.2L458.1,119.7L457.2,120.2L456.5,120.7L455.9,121.2L455.5,121.7L455.1,122.2L454.9,122.7L454.7,123.2L454.6,123.7L454.5,124.2M454.5,189.2L454.7,189.7L454.8,190.2L455,190.7L455,191.2L455,191.7L455,192.2L454.9,192.7L454.8,193.2L454.7,193.7L454.7,194.2L454.6,194.7L454.5,195.2M454.5,205.7L454.8,206.2L455.1,206.7L455.5,207.2L455.7,207.7L456,208.2L456.2,208.7L456.3,209.2L456.3,209.7L456.2,210.2L456.1,210.7L455.9,211.2L455.6,211.7L455.4,212.2L455.2,212.7L455,213.2L454.8,213.7L454.7,214.2L454.6,214.7L454.6,215.2L454.5,215.7M464.6,172.7L465.4,173.2L465.2,173.7L465,174.2L464.8,174.7L464.7,175.2L464.7,175.7L464.6,176.2M464.6,200.2L464.7,200.7L464.7,201.2L464.8,201.7L464.9,202.2L465.1,202.7L465.3,203.2L465.6,203.7L465.9,204.2L466.2,204.7L466.6,205.2L466.9,205.7L467.1,206.2L467.3,206.7L467.4,207.2L467.4,207.7L467.2,208.2L467,208.7L466.7,209.2L466.4,209.7L466,210.2L465.7,210.7L465.4,211.2L465.2,211.7L465,212.2L464.9,212.7L464.8,213.2L464.7,213.7L464.6,214.2M474.7,172.7L475.6,173.2L475.3,173.7L475.1,174.2L475,174.7L474.9,175.2L474.8,175.7L474.7,176.2M474.7,200.2L474.8,200.7L474.9,201.2L475,201.7L475.1,202.2L475.3,202.7L475.6,203.2L475.9,203.7L476.2,204.2L476.5,204.7L476.8,205.2L477.1,205.7L477.3,206.2L477.5,206.7L477.5,207.2L477.4,207.7L477.2,208.2L476.9,208.7L476.6,209.2L476.2,209.7L475.9,210.2L475.6,210.7L475.4,211.2L475.2,211.7L475,212.2L474.9,212.7L474.8,213.2L474.7,213.7M484.8,172.7L486.1,173.2L485.8,173.7L485.5,174.2L485.3,174.7L485.1,175.2L485,175.7L484.9,176.2L484.8,176.7M484.8,200.2L484.9,200.7L484.9,201.2L485,201.7L485.2,202.2L485.4,202.7L485.6,203.2L485.9,203.7L486.2,204.2L486.5,204.7L486.8,205.2L487,205.7L487.2,206.2L487.4,206.7L487.4,207.2L487.3,207.7L487.1,208.2L486.8,208.7L486.5,209.2L486.2,209.7L485.9,210.2L485.6,210.7L485.4,211.2L485.2,211.7L485.1,212.2L485,212.7L484.9,213.2L484.8,213.7M494.9,97.2L495,97.7L495,98.2L495,98.7L495.1,99.2L495.1,99.7L495.1,100.2L495.1,100.7L495.2,101.2L495.2,101.7L495.1,102.2L495.1,102.7L495.1,103.2L495.1,103.7L495,104.2L495,104.7L494.9,105.2L494.9,105.7M494.9,172.7L497.7,173.2L497.1,173.7L496.5,174.2L496.1,174.7L495.7,175.2L495.5,175.7L495.3,176.2L495.1,176.7L495,177.2L495,177.7L494.9,178.2M494.9,200.2L494.9,200.7L495,201.2L495.1,201.7L495.2,202.2L495.4,202.7L495.6,203.2L495.8,203.7L496,204.2L496.3,204.7L496.6,205.2L496.8,205.7L497,206.2L497,206.7L497.1,207.2L497,207.7L496.8,208.2L496.6,208.7L496.4,209.2L496.1,209.7L495.8,210.2L495.6,210.7L495.4,211.2L495.2,211.7L495.1,212.2L495,212.7L495,213.2L494.9,213.7M505,94.2L505.1,94.7L505.2,95.2L505.3,95.7L505.5,96.2L505.7,96.7L506.1,97.2L506.5,97.7L507,98.2L507.5,98.7L508.1,99.2L508.6,99.7L509,100.2L509.4,100.7L509.5,101.2L509.5,101.7L509.3,102.2L509,102.7L508.5,103.2L508,103.7L507.4,104.2L506.9,104.7L506.4,105.2L506,105.7L505.7,106.2L505.5,106.7L505.4,107.2L505.3,107.7L505.4,108.2L505.5,108.7L505.7,109.2L505.9,109.7L506.2,110.2L506.6,110.7L506.9,111.2L507.3,111.7L507.6,112.2L507.8,112.7L507.9,113.2L507.9,113.7L507.8,114.2L507.6,114.7L507.3,115.2L507,115.7L506.6,116.2L506.3,116.7L506,117.2L505.7,117.7L505.5,118.2L505.3,118.7L505.2,119.2L505.1,119.7L505,120.2L505,120.7M505,182.7L505,183.2L505.1,183.7L505.2,184.2L505.3,184.7L505.4,185.2L505.6,185.7L505.8,186.2L506,186.7L506.3,187.2L506.5,187.7L506.7,188.2L506.9,188.7L506.9,189.2L506.9,189.7L506.9,190.2L506.7,190.7L506.5,191.2L506.3,191.7L506.1,192.2L505.8,192.7L505.6,193.2L505.4,193.7L505.3,194.2L505.2,194.7L505.1,195.2L505,195.7L505,196.2M515,94.2L515.1,94.7L515.2,95.2L515.3,95.7L515.4,96.2L515.6,96.7L515.8,97.2L516.1,97.7L516.5,98.2L516.9,98.7L517.3,99.2L517.7,99.7L518,100.2L518.2,100.7L518.3,101.2L518.3,101.7L518.2,102.2L517.9,102.7L517.6,103.2L517.2,103.7L516.8,104.2L516.4,104.7L516.1,105.2L515.8,105.7L515.6,106.2L515.4,106.7L515.3,107.2L515.3,107.7L515.3,108.2L515.4,108.7L515.6,109.2L515.8,109.7L516.2,110.2L516.6,110.7L517.1,111.2L517.7,111.7L518.3,112.2L518.9,112.7L519.4,113.2L519.8,113.7L520,114.2L520,114.7L519.8,115.2L519.5,115.7L519,116.2L518.4,116.7L517.8,117.2L517.2,117.7L516.7,118.2L516.3,118.7L515.9,119.2L515.6,119.7L515.4,120.2L515.3,120.7L515.2,121.2L515,121.7M515,182.7L515.1,183.2L515.2,183.7L515.3,184.2L515.4,184.7L515.5,185.2L515.7,185.7L515.9,186.2L516.1,186.7L516.3,187.2L516.6,187.7L516.8,188.2L516.9,188.7L517,189.2L517,189.7L517,190.2L516.8,190.7L516.6,191.2L516.4,191.7L516.2,192.2L515.9,192.7L515.7,193.2L515.5,193.7L515.4,194.2L515.3,194.7L515.2,195.2L515.1,195.7L515,196.2M525.1,95.2L525.2,95.7L525.3,96.2L525.4,96.7L525.5,97.2L525.6,97.7L525.7,98.2L525.9,98.7L526.1,99.2L526.2,99.7L526.4,100.2L526.5,100.7L526.5,101.2L526.5,101.7L526.5,102.2L526.4,102.7L526.2,103.2L526,103.7L525.9,104.2L525.7,104.7L525.6,105.2L525.5,105.7L525.4,106.2L525.3,106.7L525.3,107.2L525.3,107.7L525.3,108.2L525.4,108.7L525.5,109.2L525.8,109.7L526.1,110.2L526.5,110.7L527,111.2L527.6,111.7L528.3,112.2L529.1,112.7L529.8,113.2L530.4,113.7L530.8,114.2L531.1,114.7L531.1,115.2L530.9,115.7L530.5,116.2L529.9,116.7L529.2,117.2L528.5,117.7L527.8,118.2L527.1,118.7L526.6,119.2L526.2,119.7L525.8,120.2L525.6,120.7L525.4,121.2L525.3,121.7L525.2,122.2L525.1,122.7M525.1,182.7L525.2,183.2L525.3,183.7L525.3,184.2L525.4,184.7L525.6,185.2L525.8,185.7L526,186.2L526.2,186.7L526.4,187.2L526.7,187.7L526.9,188.2L527,188.7L527.1,189.2L527.1,189.7L527.1,190.2L526.9,190.7L526.7,191.2L526.5,191.7L526.2,192.2L526,192.7L525.8,193.2L525.6,193.7L525.5,194.2L525.4,194.7L525.3,195.2L525.2,195.7L525.1,196.2M353.6,95.2L353.5,95.7L353.5,96.2L353.4,96.7L353.3,97.2L353.2,97.7L353.1,98.2L352.9,98.7L352.8,99.2L352.6,99.7L352.5,100.2L352.4,100.7L352.4,101.2L352.4,101.7L352.5,102.2L352.6,102.7L352.7,103.2L352.8,103.7L353,104.2L353.1,104.7L353.2,105.2L353.3,105.7L353.4,106.2L353.5,106.7L353.6,107.2M353.6,172.7L352.8,173.2L353,173.7L353.2,174.2L353.3,174.7L353.4,175.2L353.5,175.7L353.6,176.2M353.6,200.2L353.5,200.7L353.4,201.2L353.3,201.7L353.2,202.2L353.1,202.7L352.8,203.2L352.6,203.7L352.3,204.2L352,204.7L351.7,205.2L351.5,205.7L351.3,206.2L351.2,206.7L351.2,207.2L351.3,207.7L351.5,208.2L351.7,208.7L352,209.2L352.3,209.7L352.5,210.2L352.8,210.7L353,211.2L353.2,211.7L353.3,212.2L353.4,212.7L353.5,213.2L353.6,213.7M363.7,93.7L363.6,94.2L363.5,94.7L363.4,95.2L363.2,95.7L363,96.2L362.6,96.7L362.2,97.2L361.6,97.7L360.9,98.2L360.2,98.7L359.4,99.2L358.7,99.7L358.1,100.2L357.6,100.7L357.3,101.2L357.3,101.7L357.5,102.2L357.8,102.7L358.3,103.2L358.8,103.7L359.3,104.2L359.6,104.7L359.9,105.2L360,105.7L360.1,106.2L360.2,106.7L360.3,107.2L360.5,107.7L360.7,108.2L361,108.7L361.5,109.2L361.9,109.7L362.5,110.2L363,110.7L363.7,111.2M363.7,172.7L360.2,173.2L360.6,173.7L361.1,174.2L361.6,174.7L362.1,175.2L362.6,175.7L363,176.2L363.2,176.7L363.4,177.2L363.5,177.7L363.6,178.2L363.7,178.7M363.7,182.2L363.6,182.7L363.5,183.2L363.4,183.7L363.2,184.2L363.1,184.7L362.9,185.2L362.8,185.7L362.8,186.2L362.7,186.7L362.8,187.2L363,187.7L363.2,188.2L363.4,188.7L363.7,189.2M363.7,198.7L363.6,199.2L363.5,199.7L363.4,200.2L363.2,200.7L363.1,201.2L362.9,201.7L362.8,202.2L362.7,202.7L362.7,203.2L362.8,203.7L362.9,204.2L363.1,204.7L363.4,205.2L363.7,205.7M373.8,95.7L373.7,96.2L373.6,96.7L373.6,97.2L373.5,97.7L373.4,98.2L373.3,98.7L373.2,99.2L373.1,99.7L373.1,100.2L373,100.7L373,101.2L373,101.7L373,102.2L373.1,102.7L373.2,103.2L373.3,103.7L373.4,104.2L373.4,104.7L373.5,105.2L373.6,105.7L373.6,106.2L373.6,106.7L373.6,107.2L373.5,107.7L373.4,108.2L373.1,108.7L372.8,109.2L372.3,109.7L371.7,110.2L370.9,110.7L370.1,111.2L369.1,111.7L368.2,112.2L367.3,112.7L366.5,113.2L366,113.7L365.8,114.2L365.9,114.7L366.3,115.2L366.9,115.7L367.8,116.2L368.7,116.7L369.7,117.2L370.6,117.7L371.4,118.2L372.1,118.7L372.6,119.2L373,119.7L373.3,120.2L373.5,120.7L373.6,121.2L373.7,121.7L373.8,122.2M373.8,181.7L373.7,182.2L373.6,182.7L373.5,183.2L373.4,183.7L373.2,184.2L373,184.7L372.8,185.2L372.6,185.7L372.3,186.2L372.1,186.7L371.9,187.2L371.7,187.7L371.7,188.2L371.7,188.7L371.8,189.2L372,189.7L372.2,190.2L372.5,190.7L372.7,191.2L372.9,191.7L373.2,192.2L373.3,192.7L373.5,193.2L373.6,193.7L373.7,194.2L373.8,194.7M383.9,95.7L383.8,96.2L383.7,96.7L383.7,97.2L383.6,97.7L383.5,98.2L383.4,98.7L383.3,99.2L383.2,99.7L383.2,100.2L383.1,100.7L383.1,101.2L383.1,101.7L383.1,102.2L383.2,102.7L383.3,103.2L383.3,103.7L383.4,104.2L383.5,104.7L383.6,105.2L383.7,105.7L383.7,106.2L383.7,106.7L383.7,107.2L383.7,107.7L383.6,108.2L383.4,108.7L383.1,109.2L382.8,109.7L382.3,110.2L381.7,110.7L380.9,111.2L380.1,111.7L379.3,112.2L378.5,112.7L377.8,113.2L377.2,113.7L376.9,114.2L376.9,114.7L377.1,115.2L377.6,115.7L378.3,116.2L379.1,116.7L380,117.2L380.8,117.7L381.5,118.2L382.2,118.7L382.7,119.2L383.1,119.7L383.3,120.2L383.5,120.7L383.7,121.2L383.8,121.7L383.9,122.2M383.9,182.7L383.8,183.2L383.7,183.7L383.6,184.2L383.5,184.7L383.3,185.2L383.1,185.7L382.9,186.2L382.6,186.7L382.3,187.2L382.1,187.7L381.9,188.2L381.7,188.7L381.7,189.2L381.7,189.7L381.8,190.2L382,190.7L382.2,191.2L382.5,191.7L382.7,192.2L383,192.7L383.2,193.2L383.4,193.7L383.5,194.2L383.7,194.7L383.7,195.2L383.8,195.7L383.9,196.2M394,95.7L393.9,96.2L393.8,96.7L393.8,97.2L393.7,97.7L393.7,98.2L393.6,98.7L393.5,99.2L393.4,99.7L393.3,100.2L393.3,100.7L393.3,101.2L393.3,101.7L393.3,102.2L393.3,102.7L393.4,103.2L393.5,103.7L393.6,104.2L393.7,104.7L393.7,105.2L393.8,105.7L393.8,106.2L393.9,106.7L393.9,107.2L393.8,107.7L393.8,108.2L393.7,108.7L393.5,109.2L393.3,109.7L392.9,110.2L392.5,110.7L391.9,111.2L391.2,111.7L390.5,112.2L389.7,112.7L388.9,113.2L388.3,113.7L387.8,114.2L387.5,114.7L387.5,115.2L387.7,115.7L388.2,116.2L388.8,116.7L389.5,117.2L390.3,117.7L391.1,118.2L391.8,118.7L392.4,119.2L392.8,119.7L393.2,120.2L393.5,120.7L393.7,121.2L393.8,121.7L393.9,122.2L394,122.7M394,183.2L393.9,183.7L393.8,184.2L393.7,184.7L393.6,185.2L393.4,185.7L393.2,186.2L393,186.7L392.7,187.2L392.5,187.7L392.2,188.2L392,188.7L391.8,189.2L391.7,189.7L391.7,190.2L391.7,190.7L391.9,191.2L392.1,191.7L392.4,192.2L392.7,192.7L392.9,193.2L393.2,193.7L393.4,194.2L393.6,194.7L393.7,195.2L393.8,195.7L393.9,196.2L394,196.7M404.1,107.2L403.9,107.7L403.8,108.2L403.6,108.7L403.3,109.2L402.9,109.7L402.5,110.2L401.8,110.7L401.1,111.2L400.3,111.7L399.5,112.2L398.6,112.7L397.9,113.2L397.4,113.7L397.1,114.2L397.1,114.7L397.3,115.2L397.8,115.7L398.5,116.2L399.3,116.7L400.1,117.2L401,117.7L401.7,118.2L402.3,118.7L402.9,119.2L403.2,119.7L403.5,120.2L403.7,120.7L403.9,121.2L403.9,121.7L404.1,122.2M404.1,184.7L404,185.2L403.9,185.7L403.8,186.2L403.7,186.7L403.6,187.2L403.4,187.7L403.2,188.2L403,188.7L402.7,189.2L402.5,189.7L402.3,190.2L402.1,190.7L402.1,191.2L402.1,191.7L402.1,192.2L402.3,192.7L402.5,193.2L402.7,193.7L402.9,194.2L403.2,194.7L403.4,195.2L403.6,195.7L403.7,196.2L403.8,196.7L403.9,197.2L404,197.7L404.1,198.2M414.1,172.7L413.7,173.2L413.9,173.7L414,174.2L414,174.7L414.1,175.2M414.1,199.7L414,200.2L414,200.7L413.9,201.2L413.7,201.7L413.6,202.2L413.4,202.7L413.1,203.2L412.8,203.7L412.5,204.2L412.2,204.7L412,205.2L411.8,205.7L411.7,206.2L411.6,206.7L411.7,207.2L411.9,207.7L412.2,208.2L412.4,208.7L412.7,209.2L413,209.7L413.3,210.2L413.5,210.7L413.7,211.2L413.9,211.7L414,212.2L414,212.7L414.1,213.2M424.2,172.7L423.5,173.2L423.7,173.7L423.9,174.2L424,174.7L424.1,175.2L424.2,175.7M424.2,199.7L424.1,200.2L424.1,200.7L424,201.2L423.8,201.7L423.7,202.2L423.4,202.7L423.2,203.2L422.9,203.7L422.6,204.2L422.3,204.7L422,205.2L421.9,205.7L421.7,206.2L421.7,206.7L421.8,207.2L422,207.7L422.2,208.2L422.5,208.7L422.8,209.2L423.1,209.7L423.4,210.2L423.6,210.7L423.8,211.2L423.9,211.7L424,212.2L424.1,212.7L424.2,213.2M434.3,172.7L433.5,173.2L433.8,173.7L433.9,174.2L434.1,174.7L434.2,175.2L434.2,175.7L434.3,176.2M434.3,200.2L434.2,200.7L434.1,201.2L434,201.7L433.9,202.2L433.7,202.7L433.4,203.2L433.2,203.7L432.9,204.2L432.6,204.7L432.3,205.2L432.1,205.7L431.9,206.2L431.8,206.7L431.9,207.2L432,207.7L432.2,208.2L432.4,208.7L432.7,209.2L433,209.7L433.3,210.2L433.6,210.7L433.8,211.2L434,211.7L434.1,212.2L434.2,212.7L434.2,213.2L434.3,213.7M444.4,95.2L444.3,95.7L444.3,96.2L444.2,96.7L444.1,97.2L444,97.7L443.9,98.2L443.7,98.7L443.6,99.2L443.5,99.7L443.3,100.2L443.3,100.7L443.2,101.2L443.2,101.7L443.3,102.2L443.4,102.7L443.5,103.2L443.6,103.7L443.8,104.2L443.9,104.7L444,105.2L444.1,105.7L444.2,106.2L444.3,106.7L444.4,107.2M444.4,172.7L443.6,173.2L443.8,173.7L444,174.2L444.2,174.7L444.2,175.2L444.3,175.7L444.4,176.2M444.4,200.2L444.3,200.7L444.2,201.2L444.2,201.7L444,202.2L443.9,202.7L443.7,203.2L443.4,203.7L443.1,204.2L442.8,204.7L442.6,205.2L442.3,205.7L442.1,206.2L442,206.7L442,207.2L442.1,207.7L442.3,208.2L442.5,208.7L442.8,209.2L443.1,209.7L443.4,210.2L443.6,210.7L443.8,211.2L444,211.7L444.1,212.2L444.2,212.7L444.3,213.2L444.4,213.7M454.5,93.7L454.4,94.2L454.3,94.7L454.2,95.2L454,95.7L453.8,96.2L453.4,96.7L453,97.2L452.4,97.7L451.7,98.2L451,98.7L450.2,99.2L449.5,99.7L448.9,100.2L448.4,100.7L448.1,101.2L448.1,101.7L448.3,102.2L448.7,102.7L449.1,103.2L449.6,103.7L450.1,104.2L450.4,104.7L450.7,105.2L450.9,105.7L450.9,106.2L451,106.7L451.1,107.2L451.3,107.7L451.5,108.2L451.8,108.7L452.3,109.2L452.7,109.7L453.3,110.2L453.8,110.7L454.5,111.2M454.5,172.7L451,173.2L451.4,173.7L451.9,174.2L452.4,174.7L452.9,175.2L453.4,175.7L453.8,176.2L454,176.7L454.2,177.2L454.3,177.7L454.4,178.2L454.5,178.7M454.5,182.2L454.4,182.7L454.3,183.2L454.2,183.7L454,184.2L453.9,184.7L453.8,185.2L453.6,185.7L453.6,186.2L453.6,186.7L453.6,187.2L453.8,187.7L454,188.2L454.2,188.7L454.5,189.2M454.5,198.7L454.4,199.2L454.3,199.7L454.2,200.2L454,200.7L453.9,201.2L453.8,201.7L453.6,202.2L453.6,202.7L453.5,203.2L453.6,203.7L453.7,204.2L453.9,204.7L454.2,205.2L454.5,205.7M464.6,95.7L464.5,96.2L464.5,96.7L464.4,97.2L464.3,97.7L464.2,98.2L464.1,98.7L464,99.2L464,99.7L463.9,100.2L463.8,100.7L463.8,101.2L463.8,101.7L463.8,102.2L463.9,102.7L464,103.2L464.1,103.7L464.2,104.2L464.3,104.7L464.3,105.2L464.4,105.7L464.4,106.2L464.4,106.7L464.4,107.2L464.3,107.7L464.2,108.2L463.9,108.7L463.6,109.2L463.1,109.7L462.5,110.2L461.8,110.7L460.9,111.2L459.9,111.7L459,112.2L458.1,112.7L457.3,113.2L456.8,113.7L456.6,114.2L456.7,114.7L457.1,115.2L457.8,115.7L458.6,116.2L459.5,116.7L460.5,117.2L461.4,117.7L462.2,118.2L462.9,118.7L463.4,119.2L463.8,119.7L464.1,120.2L464.3,120.7L464.4,121.2L464.5,121.7L464.6,122.2M464.6,181.7L464.5,182.2L464.4,182.7L464.3,183.2L464.2,183.7L464,184.2L463.8,184.7L463.6,185.2L463.4,185.7L463.1,186.2L462.9,186.7L462.7,187.2L462.5,187.7L462.5,188.2L462.5,188.7L462.6,189.2L462.8,189.7L463,190.2L463.3,190.7L463.5,191.2L463.8,191.7L464,192.2L464.1,192.7L464.3,193.2L464.4,193.7L464.5,194.2L464.6,194.7M474.7,95.7L474.6,96.2L474.5,96.7L474.5,97.2L474.4,97.7L474.3,98.2L474.2,98.7L474.1,99.2L474,99.7L474,100.2L473.9,100.7L473.9,101.2L473.9,101.7L473.9,102.2L474,102.7L474.1,103.2L474.2,103.7L474.3,104.2L474.3,104.7L474.4,105.2L474.5,105.7L474.5,106.2L474.5,106.7L474.5,107.2L474.5,107.7L474.4,108.2L474.2,108.7L473.9,109.2L473.6,109.7L473.1,110.2L472.5,110.7L471.8,111.2L470.9,111.7L470.1,112.2L469.3,112.7L468.6,113.2L468,113.7L467.7,114.2L467.7,114.7L467.9,115.2L468.4,115.7L469.1,116.2L469.9,116.7L470.8,117.2L471.6,117.7L472.3,118.2L473,118.7L473.5,119.2L473.9,119.7L474.2,120.2L474.4,120.7L474.5,121.2L474.6,121.7L474.7,122.2M474.7,182.7L474.6,183.2L474.5,183.7L474.4,184.2L474.3,184.7L474.1,185.2L473.9,185.7L473.7,186.2L473.4,186.7L473.1,187.2L472.9,187.7L472.7,188.2L472.5,188.7L472.5,189.2L472.5,189.7L472.6,190.2L472.8,190.7L473,191.2L473.3,191.7L473.6,192.2L473.8,192.7L474,193.2L474.2,193.7L474.4,194.2L474.5,194.7L474.5,195.2L474.6,195.7L474.7,196.2M484.8,95.7L484.7,96.2L484.7,96.7L484.6,97.2L484.5,97.7L484.5,98.2L484.4,98.7L484.3,99.2L484.2,99.7L484.1,100.2L484.1,100.7L484.1,101.2L484.1,101.7L484.1,102.2L484.2,102.7L484.2,103.2L484.3,103.7L484.4,104.2L484.5,104.7L484.5,105.2L484.6,105.7L484.6,106.2L484.7,106.7L484.7,107.2L484.6,107.7L484.6,108.2L484.5,108.7L484.3,109.2L484.1,109.7L483.7,110.2L483.3,110.7L482.7,111.2L482,111.7L481.3,112.2L480.5,112.7L479.8,113.2L479.1,113.7L478.6,114.2L478.3,114.7L478.3,115.2L478.5,115.7L479,116.2L479.6,116.7L480.4,117.2L481.1,117.7L481.9,118.2L482.6,118.7L483.2,119.2L483.7,119.7L484,120.2L484.3,120.7L484.5,121.2L484.6,121.7L484.7,122.2L484.8,122.7M484.8,183.2L484.7,183.7L484.6,184.2L484.5,184.7L484.4,185.2L484.2,185.7L484,186.2L483.8,186.7L483.5,187.2L483.3,187.7L483,188.2L482.8,188.7L482.6,189.2L482.5,189.7L482.5,190.2L482.6,190.7L482.7,191.2L482.9,191.7L483.2,192.2L483.5,192.7L483.8,193.2L484,193.7L484.2,194.2L484.4,194.7L484.5,195.2L484.6,195.7L484.7,196.2L484.8,196.7M494.9,107.2L494.7,107.7L494.6,108.2L494.4,108.7L494.1,109.2L493.8,109.7L493.3,110.2L492.7,110.7L491.9,111.2L491.1,111.7L490.3,112.2L489.5,112.7L488.7,113.2L488.2,113.7L487.9,114.2L487.9,114.7L488.1,115.2L488.6,115.7L489.3,116.2L490.1,116.7L491,117.2L491.8,117.7L492.5,118.2L493.2,118.7L493.7,119.2L494.1,119.7L494.3,120.2L494.5,120.7L494.7,121.2L494.7,121.7L494.9,122.2M494.9,184.7L494.8,185.2L494.7,185.7L494.6,186.2L494.5,186.7L494.4,187.2L494.2,187.7L494,188.2L493.8,188.7L493.6,189.2L493.3,189.7L493.1,190.2L493,190.7L492.9,191.2L492.9,191.7L492.9,192.2L493.1,192.7L493.3,193.2L493.5,193.7L493.7,194.2L494,194.7L494.2,195.2L494.4,195.7L494.5,196.2L494.6,196.7L494.7,197.2L494.8,197.7L494.9,198.2M505,172.7L504.5,173.2L504.7,173.7L504.8,174.2L504.9,174.7L505,175.2M505,199.7L504.8,200.2L504.8,200.7L504.7,201.2L504.6,201.7L504.4,202.2L504.2,202.7L503.9,203.2L503.6,203.7L503.3,204.2L503,204.7L502.8,205.2L502.6,205.7L502.5,206.2L502.5,206.7L502.5,207.2L502.7,207.7L503,208.2L503.3,208.7L503.6,209.2L503.8,209.7L504.1,210.2L504.3,210.7L504.5,211.2L504.7,211.7L504.8,212.2L504.8,212.7L505,213.2M515,172.7L514.3,173.2L514.5,173.7L514.7,174.2L514.8,174.7L514.9,175.2L515,175.7M515,199.7L514.9,200.2L514.9,200.7L514.8,201.2L514.6,201.7L514.5,202.2L514.3,202.7L514,203.2L513.7,203.7L513.4,204.2L513.1,204.7L512.9,205.2L512.7,205.7L512.6,206.2L512.5,206.7L512.6,207.2L512.8,207.7L513.1,208.2L513.3,208.7L513.6,209.2L513.9,209.7L514.2,210.2L514.4,210.7L514.6,211.2L514.8,211.7L514.9,212.2L514.9,212.7L515,213.2M525.1,172.7L524.3,173.2L524.6,173.7L524.8,174.2L524.9,174.7L525,175.2L525,175.7L525.1,176.2M525.1,200.2L525,200.7L524.9,201.2L524.8,201.7L524.7,202.2L524.5,202.7L524.2,203.2L524,203.7L523.7,204.2L523.4,204.7L523.1,205.2L522.9,205.7L522.7,206.2L522.6,206.7L522.7,207.2L522.8,207.7L523,208.2L523.3,208.7L523.6,209.2L523.9,209.7L524.1,210.2L524.4,210.7L524.6,211.2L524.8,211.7L524.9,212.2L525,212.7L525,213.2L525.1,213.7" stroke="#555555" stroke-opacity="0.55" stroke-width="0.6" fill="none"/>
<path d="M354.2,140.2L354.4,140.7L354.7,141.2L355.1,141.7L355.5,142.2L356,142.7L356.4,143.2L356.8,143.7L357.2,144.2L357.4,144.7L357.5,145.2L357.4,145.7L357.2,146.2L356.9,146.7L356.4,147.2L355.9,147.7L355.2,148.2L354.6,148.7M364.3,146.2L364.7,146.7L364.9,147.2L365,147.7L364.9,148.2L364.7,148.7L364.4,149.2M364.1,155.2L364.9,155.7L365.6,156.2L366.3,156.7L366.8,157.2L367.2,157.7L367.3,158.2L367.3,158.7L367,159.2L366.6,159.7L366.1,160.2L365.6,160.7L365.2,161.2L364.9,161.7L364.8,162.2L364.9,162.7L365.1,163.2L365.6,163.7L366.1,164.2L366.8,164.7L367.4,165.2L367.9,165.7L368.2,166.2L368.2,166.7L367.9,167.2L367.4,167.7L366.6,168.2L365.7,168.7L364.6,169.2M375,149.7L376,150.2L377,150.7L378,151.2L379,151.7L379.9,152.2L380.6,152.7L381.2,153.2L381.4,153.7L381.4,154.2L381.1,154.7L380.6,155.2L379.8,155.7L379,156.2L378.1,156.7L377.2,157.2L376.4,157.7L375.7,158.2L375.2,158.7L374.8,159.2L374.4,159.7M374.3,162.7L374.5,163.2L374.8,163.7L375.2,164.2L375.7,164.7L376.2,165.2L376.8,165.7L377.4,166.2L377.9,166.7L378.4,167.2L378.6,167.7L378.8,168.2L378.7,168.7L378.5,169.2L378.1,169.7L377.6,170.2L377,170.7L376.5,171.2L375.9,171.7L375.4,172.2L375,172.7L374.6,173.2M384.6,149.7L385.6,150.2L386.6,150.7L387.7,151.2L388.7,151.7L389.7,152.2L390.5,152.7L391.2,153.2L391.6,153.7L391.7,154.2L391.5,154.7L391,155.2L390.3,155.7L389.5,156.2L388.6,156.7L387.7,157.2L386.9,157.7L386.1,158.2L385.5,158.7L385,159.2L384.6,159.7L384.4,160.2M384.3,163.2L384.5,163.7L384.8,164.2L385.2,164.7L385.6,165.2L386,165.7L386.5,166.2L387,166.7L387.4,167.2L387.8,167.7L388,168.2L388.1,168.7L388,169.2L387.8,169.7L387.4,170.2L387,170.7L386.5,171.2L386,171.7L385.6,172.2L385.2,172.7L384.8,173.2M395.1,150.2L396.4,150.7L397.6,151.2L398.8,151.7L399.9,152.2L400.7,152.7L401.3,153.2L401.6,153.7L401.7,154.2L401.4,154.7L400.8,155.2L400.1,155.7L399.2,156.2L398.3,156.7L397.4,157.2L396.6,157.7L395.9,158.2L395.4,158.7L394.9,159.2L394.6,159.7M394.4,163.7L394.7,164.2L395,164.7L395.3,165.2L395.8,165.7L396.3,166.2L396.8,166.7L397.3,167.2L397.8,167.7L398.1,168.2L398.4,168.7L398.5,169.2L398.4,169.7L398.1,170.2L397.8,170.7L397.3,171.2L396.8,171.7L396.3,172.2L395.8,172.7L395.3,173.2M405.7,150.2L407,150.7L408.2,151.2L409.3,151.7L410.2,152.2L410.8,152.7L411.2,153.2L411.2,153.7L410.9,154.2L410.4,154.7L409.6,155.2L408.7,155.7L407.7,156.2L406.8,156.7L405.9,157.2L405.1,157.7L404.5,158.2M404.8,165.2L405.1,165.7L405.5,166.2L406,166.7L406.6,167.2L407.2,167.7L407.8,168.2L408.4,168.7L408.8,169.2L409.1,169.7L409.2,170.2L409.2,170.7L408.9,171.2L408.5,171.7L408,172.2L407.4,172.7L406.8,173.2M414.6,140.2L414.9,140.7L415.2,141.2L415.7,141.7L416.2,142.2L416.8,142.7L417.5,143.2L418.2,143.7L418.9,144.2L419.4,144.7L419.9,145.2L420.1,145.7L420.1,146.2L419.9,146.7L419.5,147.2L418.9,147.7L418.1,148.2L417.3,148.7L416.4,149.2L415.5,149.7M424.7,140.2L425,140.7L425.3,141.2L425.7,141.7L426.2,142.2L426.8,142.7L427.5,143.2L428.2,143.7L428.8,144.2L429.3,144.7L429.8,145.2L430,145.7L430,146.2L429.7,146.7L429.3,147.2L428.7,147.7L427.9,148.2L427,148.7L426.1,149.2L425,149.7M434.9,140.2L435.2,140.7L435.6,141.2L436,141.7L436.6,142.2L437.2,142.7L437.8,143.2L438.4,143.7L438.9,144.2L439.3,144.7L439.5,145.2L439.6,145.7L439.4,146.2L439.1,146.7L438.6,147.2L437.9,147.7L437.1,148.2L436.3,148.7L435.4,149.2M445,140.2L445.2,140.7L445.5,141.2L445.9,141.7L446.3,142.2L446.8,142.7L447.2,143.2L447.6,143.7L448,144.2L448.2,144.7L448.3,145.2L448.2,145.7L448,146.2L447.7,146.7L447.2,147.2L446.7,147.7L446.1,148.2L445.4,148.7M455.1,146.2L455.5,146.7L455.7,147.2L455.8,147.7L455.7,148.2L455.5,148.7L455.2,149.2M455,155.2L455.7,155.7L456.4,156.2L457.1,156.7L457.6,157.2L458,157.7L458.1,158.2L458.1,158.7L457.8,159.2L457.4,159.7L456.9,160.2L456.4,160.7L456,161.2L455.7,161.7L455.6,162.2L455.7,162.7L456,163.2L456.4,163.7L457,164.2L457.6,164.7L458.2,165.2L458.7,165.7L459,166.2L459,166.7L458.7,167.2L458.2,167.7L457.4,168.2L456.5,168.7L455.4,169.2M465.8,149.7L466.8,150.2L467.8,150.7L468.8,151.2L469.8,151.7L470.7,152.2L471.5,152.7L472,153.2L472.3,153.7L472.2,154.2L471.9,154.7L471.4,155.2L470.6,155.7L469.8,156.2L468.9,156.7L468,157.2L467.2,157.7L466.6,158.2L466,158.7L465.6,159.2L465.3,159.7M465.1,162.7L465.3,163.2L465.6,163.7L466,164.2L466.5,164.7L467,165.2L467.6,165.7L468.2,166.2L468.7,166.7L469.2,167.2L469.5,167.7L469.6,168.2L469.5,168.7L469.3,169.2L468.9,169.7L468.4,170.2L467.9,170.7L467.3,171.2L466.7,171.7L466.2,172.2L465.8,172.7L465.4,173.2M475.4,149.7L476.4,150.2L477.4,150.7L478.5,151.2L479.5,151.7L480.5,152.2L481.3,152.7L482,153.2L482.4,153.7L482.5,154.2L482.3,154.7L481.8,155.2L481.1,155.7L480.3,156.2L479.4,156.7L478.5,157.2L477.7,157.7L476.9,158.2L476.3,158.7L475.8,159.2L475.5,159.7L475.2,160.2M475.1,163.2L475.3,163.7L475.6,164.2L476,164.7L476.4,165.2L476.8,165.7L477.3,166.2L477.8,166.7L478.2,167.2L478.6,167.7L478.8,168.2L478.9,168.7L478.8,169.2L478.6,169.7L478.2,170.2L477.8,170.7L477.3,171.2L476.8,171.7L476.4,172.2L476,172.7L475.6,173.2M485.9,150.2L487.2,150.7L488.4,151.2L489.6,151.7L490.7,152.2L491.5,152.7L492.1,153.2L492.5,153.7L492.5,154.2L492.2,154.7L491.6,155.2L490.9,155.7L490,156.2L489.1,156.7L488.3,157.2L487.5,157.7L486.8,158.2L486.2,158.7L485.7,159.2L485.4,159.7M485.3,163.7L485.5,164.2L485.8,164.7L486.1,165.2L486.6,165.7L487.1,166.2L487.6,166.7L488.1,167.2L488.6,167.7L488.9,168.2L489.2,168.7L489.3,169.2L489.2,169.7L488.9,170.2L488.6,170.7L488.1,171.2L487.6,171.7L487.1,172.2L486.6,172.7L486.1,173.2M496.5,150.2L497.8,150.7L499,151.2L500.1,151.7L501,152.2L501.6,152.7L502,153.2L502,153.7L501.7,154.2L501.2,154.7L500.4,155.2L499.5,155.7L498.5,156.2L497.6,156.7L496.7,157.2L495.9,157.7L495.3,158.2M495.6,165.2L495.9,165.7L496.3,166.2L496.8,166.7L497.4,167.2L498,167.7L498.6,168.2L499.2,168.7L499.6,169.2L499.9,169.7L500.1,170.2L500,170.7L499.8,171.2L499.4,171.7L498.8,172.2L498.3,172.7L497.7,173.2M505.4,140.2L505.7,140.7L506,141.2L506.5,141.7L507,142.2L507.6,142.7L508.3,143.2L509,143.7L509.7,144.2L510.2,144.7L510.7,145.2L510.9,145.7L510.9,146.2L510.7,146.7L510.3,147.2L509.7,147.7L508.9,148.2L508.1,148.7L507.2,149.2L506.3,149.7M515.5,140.2L515.8,140.7L516.1,141.2L516.5,141.7L517,142.2L517.6,142.7L518.3,143.2L519,143.7L519.6,144.2L520.2,144.7L520.6,145.2L520.8,145.7L520.8,146.2L520.6,146.7L520.1,147.2L519.5,147.7L518.7,148.2L517.8,148.7L516.9,149.2L515.8,149.7M525.7,140.2L526,140.7L526.4,141.2L526.9,141.7L527.4,142.2L528,142.7L528.6,143.2L529.2,143.7L529.7,144.2L530.1,144.7L530.4,145.2L530.4,145.7L530.2,146.2L529.9,146.7L529.4,147.2L528.7,147.7L527.9,148.2L527.1,148.7L526.2,149.2" stroke="#f01e1e" stroke-opacity="0.75" stroke-width="1.3" stroke-linejoin="round" fill="none"/>
<path d="M353.1,149.7L352.3,150.2L351.4,150.7L350.6,151.2L349.7,151.7L348.9,152.2L348.2,152.7L347.6,153.2L347.2,153.7L347.1,154.2L347.2,154.7L347.6,155.2L348.1,155.7L348.8,156.2L349.5,156.7L350.3,157.2L351,157.7L351.6,158.2L352.1,158.7L352.6,159.2L352.9,159.7L353.1,160.2M353,164.2L352.8,164.7L352.5,165.2L352.1,165.7L351.8,166.2L351.4,166.7L351.1,167.2L350.8,167.7L350.6,168.2L350.5,168.7L350.5,169.2L350.6,169.7L350.9,170.2L351.2,170.7L351.5,171.2L351.9,171.7L352.2,172.2L352.5,172.7L352.8,173.2M363,139.2L362.8,139.7L362.4,140.2L362,140.7L361.7,141.2L361.4,141.7L361.2,142.2L361.2,142.7L361.3,143.2L361.7,143.7L362.1,144.2L362.7,144.7L363.2,145.2M363,150.7L362.6,151.2L362.2,151.7L362,152.2L362,152.7L362.1,153.2L362.4,153.7L362.9,154.2M362.6,170.2L361.6,170.7L360.9,171.2L360.3,171.7L360,172.2L360,172.7L360.2,173.2M373.3,139.2L373.1,139.7L372.8,140.2L372.4,140.7L372,141.2L371.4,141.7L370.9,142.2L370.3,142.7L369.7,143.2L369.3,143.7L369,144.2L368.8,144.7L368.8,145.2L369.1,145.7L369.5,146.2L370,146.7L370.7,147.2L371.4,147.7L372.2,148.2L373.1,148.7M383.3,139.7L383.1,140.2L382.7,140.7L382.3,141.2L381.8,141.7L381.2,142.2L380.6,142.7L380,143.2L379.5,143.7L379,144.2L378.8,144.7L378.7,145.2L378.8,145.7L379.1,146.2L379.6,146.7L380.2,147.2L381,147.7L381.8,148.2L382.7,148.7M393.4,140.7L393.1,141.2L392.7,141.7L392.2,142.2L391.7,142.7L391.1,143.2L390.4,143.7L389.8,144.2L389.2,144.7L388.8,145.2L388.5,145.7L388.5,146.2L388.6,146.7L389,147.2L389.7,147.7L390.5,148.2L391.5,148.7L392.6,149.2M403.5,140.7L403.2,141.2L402.9,141.7L402.4,142.2L401.9,142.7L401.3,143.2L400.7,143.7L400.1,144.2L399.6,144.7L399.2,145.2L398.9,145.7L398.9,146.2L399.1,146.7L399.5,147.2L400.2,147.7L401,148.2L402.1,148.7L403.2,149.2M403.6,159.7L403.5,160.2L403.5,160.7L403.5,161.2M413.6,150.7L412.6,151.2L411.5,151.7L410.5,152.2L409.4,152.7L408.5,153.2L407.6,153.7L406.9,154.2L406.5,154.7L406.4,155.2L406.5,155.7L406.9,156.2L407.5,156.7L408.3,157.2L409.2,157.7L410.1,158.2L411,158.7L411.7,159.2L412.3,159.7L412.8,160.2L413.2,160.7L413.4,161.2L413.4,161.7L413.4,162.2L413.2,162.7L412.9,163.2L412.5,163.7L412.1,164.2L411.6,164.7L411,165.2L410.5,165.7L410.1,166.2L409.8,166.7L409.6,167.2L409.6,167.7L409.7,168.2L410,168.7L410.4,169.2L410.9,169.7L411.5,170.2L412,170.7L412.5,171.2L412.9,171.7L413.2,172.2L413.5,172.7M422.9,150.7L421.7,151.2L420.6,151.7L419.5,152.2L418.5,152.7L417.7,153.2L417.1,153.7L416.7,154.2L416.6,154.7L416.7,155.2L417.2,155.7L417.9,156.2L418.7,156.7L419.6,157.2L420.4,157.7L421.3,158.2L422,158.7L422.6,159.2L423.1,159.7L423.4,160.2L423.7,160.7M423.7,162.7L423.5,163.2L423.3,163.7L422.9,164.2L422.5,164.7L422,165.2L421.5,165.7L421,166.2L420.5,166.7L420.1,167.2L419.8,167.7L419.7,168.2L419.8,168.7L420,169.2L420.3,169.7L420.8,170.2L421.3,170.7L421.8,171.2L422.3,171.7L422.8,172.2L423.2,172.7L423.5,173.2M433.5,150.2L432.6,150.7L431.6,151.2L430.6,151.7L429.6,152.2L428.8,152.7L428.1,153.2L427.6,153.7L427.4,154.2L427.4,154.7L427.6,155.2L428.1,155.7L428.8,156.2L429.6,156.7L430.4,157.2L431.2,157.7L431.9,158.2L432.5,158.7L433,159.2L433.4,159.7L433.7,160.2M433.8,163.2L433.5,163.7L433.2,164.2L432.9,164.7L432.4,165.2L432,165.7L431.5,166.2L431,166.7L430.6,167.2L430.3,167.7L430.1,168.2L430.1,168.7L430.3,169.2L430.5,169.7L430.9,170.2L431.4,170.7L431.9,171.2L432.4,171.7L432.8,172.2L433.2,172.7L433.5,173.2M443.9,149.7L443.1,150.2L442.2,150.7L441.4,151.2L440.5,151.7L439.7,152.2L439,152.7L438.4,153.2L438.1,153.7L437.9,154.2L438,154.7L438.4,155.2L438.9,155.7L439.6,156.2L440.3,156.7L441.1,157.2L441.8,157.7L442.4,158.2L443,158.7L443.4,159.2L443.7,159.7L443.9,160.2M443.8,164.2L443.6,164.7L443.3,165.2L443,165.7L442.6,166.2L442.2,166.7L441.9,167.2L441.6,167.7L441.4,168.2L441.3,168.7L441.3,169.2L441.5,169.7L441.7,170.2L442,170.7L442.3,171.2L442.7,171.7L443,172.2L443.3,172.7L443.6,173.2M453.9,139.2L453.6,139.7L453.2,140.2L452.9,140.7L452.5,141.2L452.2,141.7L452,142.2L452,142.7L452.2,143.2L452.5,143.7L452.9,144.2L453.5,144.7L454,145.2M453.8,150.7L453.4,151.2L453,151.7L452.8,152.2L452.8,152.7L452.9,153.2L453.2,153.7L453.7,154.2M453.4,170.2L452.4,170.7L451.7,171.2L451.1,171.7L450.8,172.2L450.8,172.7L451,173.2M464.1,139.2L463.9,139.7L463.6,140.2L463.2,140.7L462.8,141.2L462.2,141.7L461.7,142.2L461.1,142.7L460.6,143.2L460.1,143.7L459.8,144.2L459.6,144.7L459.7,145.2L459.9,145.7L460.3,146.2L460.8,146.7L461.5,147.2L462.2,147.7L463.1,148.2L463.9,148.7M474.1,139.7L473.9,140.2L473.5,140.7L473.1,141.2L472.6,141.7L472,142.2L471.4,142.7L470.8,143.2L470.3,143.7L469.9,144.2L469.6,144.7L469.5,145.2L469.6,145.7L469.9,146.2L470.4,146.7L471,147.2L471.8,147.7L472.6,148.2L473.5,148.7M484.2,140.7L483.9,141.2L483.5,141.7L483.1,142.2L482.5,142.7L481.9,143.2L481.2,143.7L480.6,144.2L480,144.7L479.6,145.2L479.3,145.7L479.3,146.2L479.4,146.7L479.9,147.2L480.5,147.7L481.3,148.2L482.3,148.7L483.4,149.2M494.3,140.7L494,141.2L493.7,141.7L493.2,142.2L492.7,142.7L492.1,143.2L491.5,143.7L490.9,144.2L490.4,144.7L490,145.2L489.7,145.7L489.7,146.2L489.9,146.7L490.3,147.2L491,147.7L491.8,148.2L492.9,148.7L494,149.2M494.4,159.7L494.3,160.2L494.3,160.7L494.3,161.2M504.4,150.7L503.4,151.2L502.3,151.7L501.3,152.2L500.3,152.7L499.3,153.2L498.4,153.7L497.7,154.2L497.3,154.7L497.2,155.2L497.3,155.7L497.7,156.2L498.3,156.7L499.1,157.2L500,157.7L500.9,158.2L501.8,158.7L502.5,159.2L503.2,159.7L503.6,160.2L504,160.7L504.2,161.2L504.2,161.7L504.2,162.2L504,162.7L503.7,163.2L503.3,163.7L502.9,164.2L502.4,164.7L501.8,165.2L501.3,165.7L500.9,166.2L500.6,166.7L500.4,167.2L500.4,167.7L500.5,168.2L500.8,168.7L501.2,169.2L501.7,169.7L502.3,170.2L502.8,170.7L503.3,171.2L503.7,171.7L504.1,172.2L504.3,172.7M513.7,150.7L512.6,151.2L511.4,151.7L510.3,152.2L509.4,152.7L508.5,153.2L507.9,153.7L507.5,154.2L507.4,154.7L507.6,155.2L508,155.7L508.7,156.2L509.5,156.7L510.4,157.2L511.3,157.7L512.1,158.2L512.8,158.7L513.4,159.2L513.9,159.7L514.2,160.2L514.5,160.7M514.5,162.7L514.4,163.2L514.1,163.7L513.7,164.2L513.3,164.7L512.8,165.2L512.3,165.7L511.8,166.2L511.3,166.7L510.9,167.2L510.7,167.7L510.5,168.2L510.6,168.7L510.8,169.2L511.1,169.7L511.6,170.2L512.1,170.7L512.6,171.2L513.1,171.7L513.6,172.2L514,172.7L514.3,173.2M524.3,150.2L523.4,150.7L522.4,151.2L521.4,151.7L520.4,152.2L519.6,152.7L518.9,153.2L518.4,153.7L518.2,154.2L518.2,154.7L518.5,155.2L519,155.7L519.6,156.2L520.4,156.7L521.2,157.2L522,157.7L522.7,158.2L523.3,158.7L523.8,159.2L524.2,159.7L524.5,160.2M524.6,163.2L524.4,163.7L524.1,164.2L523.7,164.7L523.3,165.2L522.8,165.7L522.3,166.2L521.8,166.7L521.4,167.2L521.1,167.7L521,168.2L520.9,168.7L521.1,169.2L521.4,169.7L521.7,170.2L522.2,170.7L522.7,171.2L523.2,171.7L523.6,172.2L524,172.7L524.3,173.2" stroke="#1e1ee8" stroke-opacity="0.6" stroke-width="1.3" stroke-linejoin="round" fill="none"/>
<line x1="60.4" y1="345" x2="242" y2="345" stroke="#adadad" stroke-width="1"/>
<line x1="60.4" y1="392.7" x2="242" y2="392.7" stroke="#adadad" stroke-width="1"/>
<path d="M60.4,313.3L60.5,313.8L60.6,314.3L60.7,314.8L60.9,315.3L61.1,315.8L61.5,316.3L62,316.8L62.7,317.3L63.4,317.8L64.3,318.3L65.2,318.8L66.1,319.3L66.9,319.8L67.5,320.3L67.9,320.8L68,321.3L67.8,321.8L67.3,322.3L66.6,322.8L65.7,323.3L64.8,323.8L63.9,324.3L63.1,324.8L62.4,325.3L61.8,325.8L61.3,326.3L61,326.8L60.8,327.3L60.6,327.8L60.6,328.3L60.5,328.8L60.5,329.3L60.6,329.8L60.6,330.3L60.7,330.8L60.8,331.3L61,331.8L61.1,332.3L61.2,332.8L61.2,333.3L61.2,333.8L61.1,334.3L61,334.8L60.9,335.3L60.8,335.8L60.7,336.3L60.6,336.8L60.5,337.3L60.4,337.8ZM70.5,313.3L70.6,313.8L70.7,314.3L70.8,314.8L71,315.3L71.2,315.8L71.6,316.3L72.1,316.8L72.7,317.3L73.5,317.8L74.4,318.3L75.3,318.8L76.2,319.3L77,319.8L77.6,320.3L78,320.8L78.1,321.3L77.9,321.8L77.4,322.3L76.7,322.8L75.8,323.3L74.9,323.8L74,324.3L73.2,324.8L72.5,325.3L71.9,325.8L71.4,326.3L71.1,326.8L70.9,327.3L70.7,327.8L70.7,328.3L70.6,328.8L70.6,329.3L70.7,329.8L70.8,330.3L70.9,330.8L71,331.3L71.2,331.8L71.3,332.3L71.4,332.8L71.5,333.3L71.5,333.8L71.4,334.3L71.3,334.8L71.2,335.3L71,335.8L70.9,336.3L70.7,336.8L70.7,337.3L70.6,337.8L70.5,338.3ZM80.6,313.3L80.7,313.8L80.7,314.3L80.9,314.8L81,315.3L81.3,315.8L81.7,316.3L82.2,316.8L82.8,317.3L83.6,317.8L84.5,318.3L85.4,318.8L86.3,319.3L87.1,319.8L87.7,320.3L88.1,320.8L88.2,321.3L88,321.8L87.5,322.3L86.8,322.8L85.9,323.3L85,323.8L84.1,324.3L83.3,324.8L82.6,325.3L82,325.8L81.5,326.3L81.2,326.8L81,327.3L80.8,327.8L80.7,328.3L80.7,328.8L80.7,329.3L80.8,329.8L80.9,330.3L81,330.8L81.1,331.3L81.3,331.8L81.4,332.3L81.5,332.8L81.6,333.3L81.6,333.8L81.5,334.3L81.4,334.8L81.2,335.3L81.1,335.8L81,336.3L80.8,336.8L80.7,337.3L80.7,337.8L80.6,338.3ZM90.7,313.3L90.8,313.8L90.8,314.3L91,314.8L91.1,315.3L91.4,315.8L91.8,316.3L92.3,316.8L92.9,317.3L93.7,317.8L94.5,318.3L95.5,318.8L96.4,319.3L97.2,319.8L97.8,320.3L98.2,320.8L98.3,321.3L98.1,321.8L97.6,322.3L96.9,322.8L96,323.3L95.1,323.8L94.2,324.3L93.4,324.8L92.7,325.3L92.1,325.8L91.6,326.3L91.3,326.8L91.1,327.3L90.9,327.8L90.8,328.3L90.8,328.8L90.8,329.3L90.8,329.8L90.8,330.3L90.9,330.8L90.9,331.3L91,331.8L91.1,332.3L91.1,332.8L91.2,333.3L91.2,333.8L91.1,334.3L91.1,334.8L91,335.3L90.9,335.8L90.9,336.3L90.8,336.8L90.8,337.3L90.7,337.8ZM100.8,313.3L100.9,313.8L100.9,314.3L101,314.8L101.2,315.3L101.5,315.8L101.9,316.3L102.4,316.8L103,317.3L103.8,317.8L104.6,318.3L105.6,318.8L106.5,319.3L107.3,319.8L107.9,320.3L108.3,320.8L108.4,321.3L108.1,321.8L107.7,322.3L107,322.8L106.1,323.3L105.2,323.8L104.3,324.3L103.5,324.8L102.7,325.3L102.2,325.8L101.7,326.3L101.4,326.8L101.2,327.3L101,327.8L100.9,328.3L100.9,328.8L100.9,329.3L100.9,329.8L100.9,330.3L101,330.8L101,331.3L101.1,331.8L101.2,332.3L101.2,332.8L101.3,333.3L101.3,333.8L101.2,334.3L101.2,334.8L101.1,335.3L101,335.8L100.9,336.3L100.9,336.8L100.8,337.3L100.8,337.8ZM110.8,313.3L110.9,313.8L111,314.3L111.1,314.8L111.3,315.3L111.6,315.8L112,316.3L112.5,316.8L113.1,317.3L113.9,317.8L114.7,318.3L115.6,318.8L116.5,319.3L117.3,319.8L118,320.3L118.4,320.8L118.4,321.3L118.2,321.8L117.7,322.3L117,322.8L116.2,323.3L115.3,323.8L114.4,324.3L113.5,324.8L112.8,325.3L112.2,325.8L111.8,326.3L111.5,326.8L111.2,327.3L111.1,327.8L111,328.3L111,328.8L110.9,329.3L111,329.8L111,330.3L111.1,330.8L111.1,331.3L111.2,331.8L111.3,332.3L111.3,332.8L111.3,333.3L111.3,333.8L111.3,334.3L111.3,334.8L111.2,335.3L111.1,335.8L111,336.3L111,336.8L110.9,337.3L110.8,337.8ZM120.9,313.3L121,313.8L121.1,314.3L121.2,314.8L121.4,315.3L121.7,315.8L122.1,316.3L122.6,316.8L123.2,317.3L124,317.8L124.8,318.3L125.7,318.8L126.6,319.3L127.4,319.8L128.1,320.3L128.4,320.8L128.5,321.3L128.3,321.8L127.8,322.3L127.1,322.8L126.3,323.3L125.4,323.8L124.5,324.3L123.6,324.8L122.9,325.3L122.3,325.8L121.9,326.3L121.6,326.8L121.3,327.3L121.2,327.8L121.1,328.3L121,328.8L121,329.3L121.1,329.8L121.1,330.3L121.1,330.8L121.2,331.3L121.3,331.8L121.4,332.3L121.4,332.8L121.4,333.3L121.4,333.8L121.4,334.3L121.3,334.8L121.3,335.3L121.2,335.8L121.1,336.3L121.1,336.8L121,337.3L120.9,337.8ZM131,313.3L131.1,313.8L131.2,314.3L131.3,314.8L131.5,315.3L131.8,315.8L132.1,316.3L132.6,316.8L133.3,317.3L134,317.8L134.9,318.3L135.8,318.8L136.7,319.3L137.5,319.8L138.2,320.3L138.5,320.8L138.6,321.3L138.4,321.8L137.9,322.3L137.2,322.8L136.4,323.3L135.5,323.8L134.6,324.3L133.7,324.8L133,325.3L132.4,325.8L132,326.3L131.7,326.8L131.4,327.3L131.3,327.8L131.2,328.3L131.1,328.8L131.1,329.3L131.1,329.8L131.2,330.3L131.2,330.8L131.3,331.3L131.4,331.8L131.4,332.3L131.5,332.8L131.5,333.3L131.5,333.8L131.5,334.3L131.4,334.8L131.4,335.3L131.3,335.8L131.2,336.3L131.2,336.8L131.1,337.3L131,337.8ZM141.1,313.3L141.2,313.8L141.3,314.3L141.4,314.8L141.6,315.3L141.9,315.8L142.2,316.3L142.7,316.8L143.4,317.3L144.1,317.8L145,318.3L145.9,318.8L146.8,319.3L147.6,319.8L148.2,320.3L148.6,320.8L148.7,321.3L148.5,321.8L148,322.3L147.3,322.8L146.5,323.3L145.5,323.8L144.6,324.3L143.8,324.8L143.1,325.3L142.5,325.8L142.1,326.3L141.7,326.8L141.5,327.3L141.4,327.8L141.3,328.3L141.2,328.8L141.2,329.3L141.2,329.8L141.3,330.3L141.3,330.8L141.4,331.3L141.5,331.8L141.5,332.3L141.6,332.8L141.6,333.3L141.6,333.8L141.6,334.3L141.5,334.8L141.5,335.3L141.4,335.8L141.3,336.3L141.2,336.8L141.2,337.3L141.1,337.8ZM151.2,313.3L151.3,313.8L151.4,314.3L151.5,314.8L151.7,315.3L151.9,315.8L152.3,316.3L152.8,316.8L153.5,317.3L154.2,317.8L155.1,318.3L156,318.8L156.9,319.3L157.7,319.8L158.3,320.3L158.7,320.8L158.8,321.3L158.6,321.8L158.1,322.3L157.4,322.8L156.6,323.3L155.6,323.8L154.7,324.3L153.9,324.8L153.2,325.3L152.6,325.8L152.2,326.3L151.8,326.8L151.6,327.3L151.5,327.8L151.4,328.3L151.3,328.8L151.3,329.3L151.4,329.8L151.4,330.3L151.5,330.8L151.6,331.3L151.8,331.8L151.9,332.3L152,332.8L152,333.3L152,333.8L151.9,334.3L151.9,334.8L151.7,335.3L151.6,335.8L151.5,336.3L151.4,336.8L151.3,337.3L151.2,337.8ZM161.3,313.3L161.4,313.8L161.5,314.3L161.6,314.8L161.8,315.3L162,315.8L162.4,316.3L162.9,316.8L163.6,317.3L164.3,317.8L165.2,318.3L166.1,318.8L167,319.3L167.8,319.8L168.4,320.3L168.8,320.8L168.9,321.3L168.7,321.8L168.2,322.3L167.5,322.8L166.6,323.3L165.7,323.8L164.8,324.3L164,324.8L163.3,325.3L162.7,325.8L162.3,326.3L161.9,326.8L161.7,327.3L161.6,327.8L161.5,328.3L161.4,328.8L161.5,329.3L161.5,329.8L161.6,330.3L161.7,330.8L161.8,331.3L162,331.8L162.1,332.3L162.2,332.8L162.3,333.3L162.3,333.8L162.2,334.3L162.1,334.8L162,335.3L161.8,335.8L161.7,336.3L161.6,336.8L161.5,337.3L161.4,337.8L161.3,338.3ZM171.4,313.3L171.5,313.8L171.6,314.3L171.7,314.8L171.9,315.3L172.1,315.8L172.5,316.3L173,316.8L173.6,317.3L174.4,317.8L175.3,318.3L176.2,318.8L177.1,319.3L177.9,319.8L178.5,320.3L178.9,320.8L179,321.3L178.8,321.8L178.3,322.3L177.6,322.8L176.7,323.3L175.8,323.8L174.9,324.3L174.1,324.8L173.4,325.3L172.8,325.8L172.3,326.3L172,326.8L171.8,327.3L171.6,327.8L171.6,328.3L171.5,328.8L171.5,329.3L171.6,329.8L171.7,330.3L171.8,330.8L171.9,331.3L172.1,331.8L172.2,332.3L172.3,332.8L172.4,333.3L172.4,333.8L172.3,334.3L172.2,334.8L172.1,335.3L171.9,335.8L171.8,336.3L171.6,336.8L171.6,337.3L171.5,337.8L171.4,338.3ZM181.5,313.3L181.6,313.8L181.6,314.3L181.8,314.8L181.9,315.3L182.2,315.8L182.6,316.3L183.1,316.8L183.7,317.3L184.5,317.8L185.4,318.3L186.3,318.8L187.2,319.3L188,319.8L188.6,320.3L189,320.8L189.1,321.3L188.9,321.8L188.4,322.3L187.7,322.8L186.8,323.3L185.9,323.8L185,324.3L184.2,324.8L183.5,325.3L182.9,325.8L182.4,326.3L182.1,326.8L181.9,327.3L181.7,327.8L181.6,328.3L181.6,328.8L181.6,329.3L181.6,329.8L181.6,330.3L181.7,330.8L181.8,331.3L181.8,331.8L181.9,332.3L182,332.8L182,333.3L182,333.8L181.9,334.3L181.9,334.8L181.8,335.3L181.7,335.8L181.7,336.3L181.6,336.8L181.6,337.3L181.5,337.8ZM191.6,313.3L191.7,313.8L191.7,314.3L191.9,314.8L192,315.3L192.3,315.8L192.7,316.3L193.2,316.8L193.8,317.3L194.6,317.8L195.4,318.3L196.4,318.8L197.3,319.3L198.1,319.8L198.7,320.3L199.1,320.8L199.2,321.3L199,321.8L198.5,322.3L197.8,322.8L196.9,323.3L196,323.8L195.1,324.3L194.3,324.8L193.6,325.3L193,325.8L192.5,326.3L192.2,326.8L192,327.3L191.8,327.8L191.7,328.3L191.7,328.8L191.7,329.3L191.7,329.8L191.7,330.3L191.8,330.8L191.8,331.3L191.9,331.8L192,332.3L192,332.8L192.1,333.3L192.1,333.8L192,334.3L192,334.8L191.9,335.3L191.8,335.8L191.8,336.3L191.7,336.8L191.7,337.3L191.6,337.8ZM201.7,313.3L201.8,313.8L201.8,314.3L201.9,314.8L202.1,315.3L202.4,315.8L202.8,316.3L203.3,316.8L203.9,317.3L204.7,317.8L205.5,318.3L206.5,318.8L207.4,319.3L208.2,319.8L208.8,320.3L209.2,320.8L209.3,321.3L209,321.8L208.6,322.3L207.9,322.8L207,323.3L206.1,323.8L205.2,324.3L204.4,324.8L203.6,325.3L203.1,325.8L202.6,326.3L202.3,326.8L202.1,327.3L201.9,327.8L201.8,328.3L201.8,328.8L201.8,329.3L201.8,329.8L201.8,330.3L201.9,330.8L201.9,331.3L202,331.8L202.1,332.3L202.1,332.8L202.2,333.3L202.2,333.8L202.1,334.3L202.1,334.8L202,335.3L201.9,335.8L201.8,336.3L201.8,336.8L201.7,337.3L201.7,337.8ZM211.8,313.3L211.8,313.8L211.9,314.3L212,314.8L212.2,315.3L212.5,315.8L212.9,316.3L213.4,316.8L214,317.3L214.8,317.8L215.6,318.3L216.5,318.8L217.4,319.3L218.2,319.8L218.9,320.3L219.3,320.8L219.3,321.3L219.1,321.8L218.6,322.3L217.9,322.8L217.1,323.3L216.2,323.8L215.3,324.3L214.4,324.8L213.7,325.3L213.1,325.8L212.7,326.3L212.4,326.8L212.1,327.3L212,327.8L211.9,328.3L211.9,328.8L211.8,329.3L211.9,329.8L211.9,330.3L212,330.8L212,331.3L212.1,331.8L212.2,332.3L212.2,332.8L212.2,333.3L212.2,333.8L212.2,334.3L212.2,334.8L212.1,335.3L212,335.8L211.9,336.3L211.9,336.8L211.8,337.3L211.8,337.8ZM221.8,313.3L221.9,313.8L222,314.3L222.1,314.8L222.3,315.3L222.6,315.8L223,316.3L223.5,316.8L224.1,317.3L224.9,317.8L225.7,318.3L226.6,318.8L227.5,319.3L228.3,319.8L229,320.3L229.3,320.8L229.4,321.3L229.2,321.8L228.7,322.3L228,322.8L227.2,323.3L226.3,323.8L225.4,324.3L224.5,324.8L223.8,325.3L223.2,325.8L222.8,326.3L222.5,326.8L222.2,327.3L222.1,327.8L222,328.3L221.9,328.8L221.9,329.3L222,329.8L222,330.3L222,330.8L222.1,331.3L222.2,331.8L222.3,332.3L222.3,332.8L222.3,333.3L222.3,333.8L222.3,334.3L222.2,334.8L222.2,335.3L222.1,335.8L222,336.3L222,336.8L221.9,337.3L221.8,337.8ZM231.9,313.3L232,313.8L232.1,314.3L232.2,314.8L232.4,315.3L232.7,315.8L233,316.3L233.5,316.8L234.2,317.3L234.9,317.8L235.8,318.3L236.7,318.8L237.6,319.3L238.4,319.8L239.1,320.3L239.4,320.8L239.5,321.3L239.3,321.8L238.8,322.3L238.1,322.8L237.3,323.3L236.4,323.8L235.5,324.3L234.6,324.8L233.9,325.3L233.3,325.8L232.9,326.3L232.6,326.8L232.3,327.3L232.2,327.8L232.1,328.3L232,328.8L232,329.3L232,329.8L232.1,330.3L232.1,330.8L232.2,331.3L232.3,331.8L232.3,332.3L232.4,332.8L232.4,333.3L232.4,333.8L232.4,334.3L232.3,334.8L232.3,335.3L232.2,335.8L232.1,336.3L232.1,336.8L232,337.3L231.9,337.8ZM242,313.3L242.1,313.8L242.2,314.3L242.3,314.8L242.5,315.3L242.8,315.8L243.1,316.3L243.6,316.8L244.3,317.3L245,317.8L245.9,318.3L246.8,318.8L247.7,319.3L248.5,319.8L249.1,320.3L249.5,320.8L249.6,321.3L249.4,321.8L248.9,322.3L248.2,322.8L247.4,323.3L246.4,323.8L245.5,324.3L244.7,324.8L244,325.3L243.4,325.8L243,326.3L242.6,326.8L242.4,327.3L242.3,327.8L242.2,328.3L242.1,328.8L242.1,329.3L242.2,329.8L242.3,330.3L242.3,330.8L242.5,331.3L242.6,331.8L242.7,332.3L242.8,332.8L242.8,333.3L242.8,333.8L242.8,334.3L242.7,334.8L242.6,335.3L242.4,335.8L242.3,336.3L242.2,336.8L242.2,337.3L242,337.8Z" fill="#ffa0a0" fill-opacity="0.92"/>
<path d="M60.4,392.3L60.1,392.7L60.1,392.8L60.2,393.3L60.3,393.8L60.3,394.3L60.4,394.8ZM70.5,392.3L70.2,392.7L70.2,392.8L70.3,393.3L70.4,393.8L70.4,394.3L70.5,394.8ZM80.6,392.3L80.3,392.7L80.3,392.8L80.4,393.3L80.5,393.8L80.5,394.3L80.6,394.8ZM90.7,392.3L90.4,392.7L90.4,392.8L90.5,393.3L90.6,393.8L90.7,394.3ZM100.8,392.3L100.6,392.7L100.6,392.8L100.6,393.3L100.7,393.8L100.8,394.3ZM110.8,392.3L110.7,392.7L110.7,392.8L110.7,393.3L110.8,393.8ZM120.9,392.3L120.8,392.7L120.8,392.8L120.8,393.3L120.9,393.8ZM131,392.3L130.9,392.7L130.9,392.8L130.9,393.3L131,393.8ZM141.1,392.3L140.9,392.7L140.9,392.8L141,393.3L141,393.8L141.1,394.3ZM151.2,392.3L150.9,392.7L150.9,392.8L151,393.3L151.1,393.8L151.1,394.3L151.2,394.8ZM161.3,392.3L161,392.7L161,392.8L161.1,393.3L161.2,393.8L161.2,394.3L161.3,394.8ZM171.4,392.3L171.1,392.7L171.1,392.8L171.2,393.3L171.3,393.8L171.3,394.3L171.4,394.8ZM181.5,392.3L181.2,392.7L181.2,392.8L181.3,393.3L181.4,393.8L181.5,394.3ZM191.6,392.3L191.4,392.7L191.4,392.8L191.4,393.3L191.5,393.8L191.6,394.3ZM201.7,392.3L201.5,392.7L201.5,392.8L201.5,393.3L201.7,393.8ZM211.8,392.3L211.6,392.7L211.6,392.8L211.6,393.3L211.8,393.8ZM221.8,392.3L221.7,392.7L221.7,392.8L221.7,393.3L221.8,393.8ZM231.9,392.3L231.7,392.7L231.7,392.8L231.8,393.3L231.8,393.8L231.9,394.3ZM242,392.3L241.7,392.7L241.7,392.8L241.8,393.3L241.9,393.8L241.9,394.3L242,394.8Z" fill="#a0a0ff" fill-opacity="0.92"/>
<path d="M60.4,368.8L60.5,369.3L60.6,369.8L60.6,370.3L60.7,370.8L60.8,371.3L60.8,371.8L60.9,372.3L61,372.8L61.1,373.3L61.2,373.8L61.3,374.3L61.4,374.8L61.4,375.3L61.4,375.8L61.4,376.3L61.3,376.8L61.3,377.3L61.2,377.8L61.1,378.3L61,378.8L60.9,379.3L60.8,379.8L60.7,380.3L60.6,380.8L60.5,381.3L60.4,381.8ZM70.5,368.3L70.6,368.8L70.6,369.3L70.7,369.8L70.7,370.3L70.8,370.8L70.9,371.3L71,371.8L71.1,372.3L71.3,372.8L71.4,373.3L71.5,373.8L71.6,374.3L71.6,374.8L71.7,375.3L71.7,375.8L71.7,376.3L71.6,376.8L71.5,377.3L71.4,377.8L71.3,378.3L71.2,378.8L71,379.3L70.9,379.8L70.8,380.3L70.7,380.8L70.7,381.3L70.6,381.8L70.5,382.3ZM80.6,368.3L80.7,368.8L80.7,369.3L80.8,369.8L80.9,370.3L80.9,370.8L81,371.3L81.2,371.8L81.3,372.3L81.4,372.8L81.5,373.3L81.7,373.8L81.8,374.3L81.8,374.8L81.9,375.3L81.9,375.8L81.8,376.3L81.8,376.8L81.7,377.3L81.6,377.8L81.4,378.3L81.3,378.8L81.2,379.3L81.1,379.8L81,380.3L80.9,380.8L80.8,381.3L80.7,381.8L80.6,382.3ZM90.7,367.8L90.8,368.3L90.8,368.8L90.9,369.3L90.9,369.8L91,370.3L91.2,370.8L91.3,371.3L91.5,371.8L91.7,372.3L91.8,372.8L92,373.3L92.2,373.8L92.3,374.3L92.4,374.8L92.5,375.3L92.5,375.8L92.4,376.3L92.3,376.8L92.2,377.3L92,377.8L91.9,378.3L91.7,378.8L91.5,379.3L91.3,379.8L91.2,380.3L91.1,380.8L90.9,381.3L90.8,381.8L90.8,382.3L90.7,382.8ZM100.8,367.8L100.9,368.3L100.9,368.8L101,369.3L101.1,369.8L101.2,370.3L101.4,370.8L101.6,371.3L101.8,371.8L102,372.3L102.2,372.8L102.5,373.3L102.7,373.8L102.9,374.3L103,374.8L103,375.3L103.1,375.8L103,376.3L102.9,376.8L102.7,377.3L102.5,377.8L102.3,378.3L102.1,378.8L101.8,379.3L101.6,379.8L101.4,380.3L101.3,380.8L101.1,381.3L101,381.8L100.9,382.3L100.8,382.8ZM110.8,367.3L110.9,367.8L111,368.3L111,368.8L111.1,369.3L111.2,369.8L111.4,370.3L111.5,370.8L111.7,371.3L112,371.8L112.2,372.3L112.5,372.8L112.7,373.3L112.9,373.8L113.1,374.3L113.3,374.8L113.3,375.3L113.3,375.8L113.3,376.3L113.2,376.8L113,377.3L112.8,377.8L112.5,378.3L112.3,378.8L112,379.3L111.8,379.8L111.6,380.3L111.4,380.8L111.2,381.3L111.1,381.8L111,382.3L110.8,382.8ZM120.9,367.3L121,367.8L121.1,368.3L121.1,368.8L121.2,369.3L121.3,369.8L121.5,370.3L121.6,370.8L121.8,371.3L122.1,371.8L122.3,372.3L122.6,372.8L122.8,373.3L123,373.8L123.2,374.3L123.4,374.8L123.4,375.3L123.4,375.8L123.4,376.3L123.2,376.8L123.1,377.3L122.9,377.8L122.6,378.3L122.4,378.8L122.1,379.3L121.9,379.8L121.7,380.3L121.5,380.8L121.3,381.3L121.2,381.8L121.1,382.3L120.9,382.8ZM131,367.8L131.1,368.3L131.2,368.8L131.3,369.3L131.4,369.8L131.5,370.3L131.7,370.8L131.9,371.3L132.1,371.8L132.3,372.3L132.5,372.8L132.7,373.3L133,373.8L133.1,374.3L133.2,374.8L133.3,375.3L133.3,375.8L133.3,376.3L133.2,376.8L133,377.3L132.8,377.8L132.6,378.3L132.3,378.8L132.1,379.3L131.9,379.8L131.7,380.3L131.5,380.8L131.4,381.3L131.3,381.8L131.2,382.3L131,382.8ZM141.1,368.3L141.2,368.8L141.3,369.3L141.4,369.8L141.4,370.3L141.5,370.8L141.7,371.3L141.8,371.8L141.9,372.3L142.1,372.8L142.2,373.3L142.4,373.8L142.5,374.3L142.6,374.8L142.6,375.3L142.6,375.8L142.6,376.3L142.5,376.8L142.4,377.3L142.3,377.8L142.1,378.3L142,378.8L141.8,379.3L141.7,379.8L141.6,380.3L141.4,380.8L141.3,381.3L141.3,381.8L141.1,382.3ZM151.2,368.8L151.3,369.3L151.4,369.8L151.4,370.3L151.5,370.8L151.6,371.3L151.7,371.8L151.8,372.3L151.9,372.8L152,373.3L152,373.8L152.1,374.3L152.2,374.8L152.2,375.3L152.2,375.8L152.2,376.3L152.1,376.8L152.1,377.3L152,377.8L151.9,378.3L151.8,378.8L151.7,379.3L151.6,379.8L151.5,380.3L151.4,380.8L151.3,381.3L151.2,381.8ZM161.3,368.3L161.4,368.8L161.4,369.3L161.5,369.8L161.6,370.3L161.6,370.8L161.7,371.3L161.8,371.8L162,372.3L162.1,372.8L162.2,373.3L162.3,373.8L162.4,374.3L162.5,374.8L162.5,375.3L162.5,375.8L162.5,376.3L162.4,376.8L162.3,377.3L162.2,377.8L162.1,378.3L162,378.8L161.9,379.3L161.7,379.8L161.6,380.3L161.6,380.8L161.5,381.3L161.4,381.8L161.3,382.3ZM171.4,368.3L171.5,368.8L171.5,369.3L171.6,369.8L171.7,370.3L171.8,370.8L171.9,371.3L172,371.8L172.1,372.3L172.2,372.8L172.4,373.3L172.5,373.8L172.6,374.3L172.6,374.8L172.7,375.3L172.7,375.8L172.7,376.3L172.6,376.8L172.5,377.3L172.4,377.8L172.3,378.3L172.1,378.8L172,379.3L171.9,379.8L171.8,380.3L171.7,380.8L171.6,381.3L171.5,381.8L171.4,382.3ZM181.5,367.8L181.6,368.3L181.6,368.8L181.7,369.3L181.8,369.8L181.9,370.3L182,370.8L182.1,371.3L182.3,371.8L182.5,372.3L182.6,372.8L182.8,373.3L183,373.8L183.1,374.3L183.2,374.8L183.3,375.3L183.3,375.8L183.2,376.3L183.1,376.8L183,377.3L182.9,377.8L182.7,378.3L182.5,378.8L182.3,379.3L182.2,379.8L182,380.3L181.9,380.8L181.8,381.3L181.7,381.8L181.6,382.3L181.5,382.8ZM191.6,367.8L191.7,368.3L191.7,368.8L191.8,369.3L191.9,369.8L192.1,370.3L192.2,370.8L192.4,371.3L192.6,371.8L192.8,372.3L193.1,372.8L193.3,373.3L193.5,373.8L193.7,374.3L193.8,374.8L193.9,375.3L193.9,375.8L193.8,376.3L193.7,376.8L193.5,377.3L193.3,377.8L193.1,378.3L192.9,378.8L192.6,379.3L192.4,379.8L192.2,380.3L192.1,380.8L191.9,381.3L191.8,381.8L191.7,382.3L191.6,382.8ZM201.7,367.3L201.7,367.8L201.8,368.3L201.9,368.8L201.9,369.3L202,369.8L202.2,370.3L202.4,370.8L202.6,371.3L202.8,371.8L203,372.3L203.3,372.8L203.5,373.3L203.7,373.8L203.9,374.3L204.1,374.8L204.1,375.3L204.2,375.8L204.1,376.3L204,376.8L203.8,377.3L203.6,377.8L203.3,378.3L203.1,378.8L202.8,379.3L202.6,379.8L202.4,380.3L202.2,380.8L202.1,381.3L201.9,381.8L201.8,382.3L201.7,382.8ZM211.8,367.3L211.8,367.8L211.9,368.3L211.9,368.8L212,369.3L212.1,369.8L212.3,370.3L212.4,370.8L212.6,371.3L212.9,371.8L213.1,372.3L213.4,372.8L213.6,373.3L213.8,373.8L214,374.3L214.2,374.8L214.2,375.3L214.2,375.8L214.2,376.3L214.1,376.8L213.9,377.3L213.7,377.8L213.4,378.3L213.2,378.8L212.9,379.3L212.7,379.8L212.5,380.3L212.3,380.8L212.1,381.3L212,381.8L211.9,382.3L211.8,382.8ZM221.8,367.8L222,368.3L222,368.8L222.1,369.3L222.2,369.8L222.3,370.3L222.5,370.8L222.7,371.3L222.9,371.8L223.1,372.3L223.3,372.8L223.6,373.3L223.8,373.8L223.9,374.3L224.1,374.8L224.1,375.3L224.1,375.8L224.1,376.3L224,376.8L223.8,377.3L223.6,377.8L223.4,378.3L223.1,378.8L222.9,379.3L222.7,379.8L222.5,380.3L222.3,380.8L222.2,381.3L222.1,381.8L222,382.3L221.8,382.8ZM231.9,368.3L232,368.8L232.1,369.3L232.2,369.8L232.2,370.3L232.3,370.8L232.5,371.3L232.6,371.8L232.7,372.3L232.9,372.8L233,373.3L233.2,373.8L233.3,374.3L233.4,374.8L233.4,375.3L233.4,375.8L233.4,376.3L233.3,376.8L233.2,377.3L233.1,377.8L232.9,378.3L232.8,378.8L232.6,379.3L232.5,379.8L232.4,380.3L232.3,380.8L232.2,381.3L232.1,381.8L231.9,382.3ZM242,368.8L242.1,369.3L242.2,369.8L242.2,370.3L242.3,370.8L242.4,371.3L242.5,371.8L242.6,372.3L242.7,372.8L242.8,373.3L242.9,373.8L242.9,374.3L243,374.8L243,375.3L243,375.8L243,376.3L242.9,376.8L242.9,377.3L242.8,377.8L242.7,378.3L242.6,378.8L242.5,379.3L242.4,379.8L242.3,380.3L242.2,380.8L242.2,381.3L242,381.8Z" fill="#f01e1e" fill-opacity="1"/>
<path d="M60.4,382.8L60.3,383.3L60.2,383.8L60.1,384.3L60,384.8L59.8,385.3L59.7,385.8L59.6,386.3L59.4,386.8L59.3,387.3L59.3,387.8L59.3,388.3L59.3,388.8L59.3,389.3L59.4,389.8L59.5,390.3L59.6,390.8L59.8,391.3L59.9,391.8L60,392.3L60.1,392.7L60.4,392.7ZM70.5,382.8L70.4,383.3L70.3,383.8L70.2,384.3L70.1,384.8L69.9,385.3L69.8,385.8L69.7,386.3L69.5,386.8L69.4,387.3L69.4,387.8L69.3,388.3L69.4,388.8L69.4,389.3L69.5,389.8L69.6,390.3L69.7,390.8L69.9,391.3L70,391.8L70.1,392.3L70.2,392.7L70.5,392.7ZM80.6,382.8L80.5,383.3L80.4,383.8L80.3,384.3L80.2,384.8L80.1,385.3L79.9,385.8L79.8,386.3L79.7,386.8L79.6,387.3L79.5,387.8L79.5,388.3L79.5,388.8L79.6,389.3L79.6,389.8L79.7,390.3L79.9,390.8L80,391.3L80.1,391.8L80.2,392.3L80.3,392.7L80.6,392.7ZM90.7,382.8L90.6,383.3L90.5,383.8L90.4,384.3L90.3,384.8L90.2,385.3L90,385.8L89.9,386.3L89.8,386.8L89.7,387.3L89.7,387.8L89.6,388.3L89.6,388.8L89.7,389.3L89.8,389.8L89.9,390.3L90,390.8L90.1,391.3L90.2,391.8L90.3,392.3L90.4,392.7L90.7,392.7ZM100.8,383.3L100.6,383.8L100.6,384.3L100.5,384.8L100.4,385.3L100.3,385.8L100.2,386.3L100.1,386.8L100,387.3L100,387.8L100,388.3L100,388.8L100,389.3L100.1,389.8L100.1,390.3L100.2,390.8L100.3,391.3L100.4,391.8L100.5,392.3L100.6,392.7L100.8,392.7ZM110.8,383.3L110.8,383.8L110.7,384.3L110.6,384.8L110.5,385.3L110.4,385.8L110.4,386.3L110.3,386.8L110.2,387.3L110.2,387.8L110.2,388.3L110.2,388.8L110.2,389.3L110.3,389.8L110.3,390.3L110.4,390.8L110.5,391.3L110.6,391.8L110.6,392.3L110.7,392.7L110.8,392.7ZM120.9,383.3L120.9,383.8L120.8,384.3L120.7,384.8L120.6,385.3L120.5,385.8L120.4,386.3L120.4,386.8L120.3,387.3L120.3,387.8L120.3,388.3L120.3,388.8L120.3,389.3L120.3,389.8L120.4,390.3L120.5,390.8L120.6,391.3L120.6,391.8L120.7,392.3L120.8,392.7L120.9,392.7ZM131,383.3L130.9,383.8L130.9,384.3L130.8,384.8L130.7,385.3L130.6,385.8L130.5,386.3L130.5,386.8L130.4,387.3L130.4,387.8L130.3,388.3L130.3,388.8L130.4,389.3L130.4,389.8L130.5,390.3L130.6,390.8L130.7,391.3L130.7,391.8L130.8,392.3L130.9,392.7L131,392.7ZM141.1,383.3L141,383.8L140.9,384.3L140.8,384.8L140.7,385.3L140.6,385.8L140.5,386.3L140.5,386.8L140.4,387.3L140.3,387.8L140.3,388.3L140.3,388.8L140.4,389.3L140.4,389.8L140.5,390.3L140.6,390.8L140.7,391.3L140.8,391.8L140.9,392.3L140.9,392.7L141.1,392.7ZM151.2,382.8L151.1,383.3L151,383.8L150.9,384.3L150.8,384.8L150.7,385.3L150.5,385.8L150.4,386.3L150.3,386.8L150.2,387.3L150.1,387.8L150.1,388.3L150.1,388.8L150.1,389.3L150.2,389.8L150.3,390.3L150.5,390.8L150.6,391.3L150.7,391.8L150.8,392.3L150.9,392.7L151.2,392.7ZM161.3,382.8L161.2,383.3L161.1,383.8L161,384.3L160.9,384.8L160.7,385.3L160.6,385.8L160.5,386.3L160.3,386.8L160.2,387.3L160.2,387.8L160.2,388.3L160.2,388.8L160.2,389.3L160.3,389.8L160.4,390.3L160.5,390.8L160.7,391.3L160.8,391.8L160.9,392.3L161,392.7L161.3,392.7ZM171.4,382.8L171.3,383.3L171.2,383.8L171.1,384.3L171,384.8L170.9,385.3L170.7,385.8L170.6,386.3L170.5,386.8L170.4,387.3L170.3,387.8L170.3,388.3L170.3,388.8L170.4,389.3L170.4,389.8L170.6,390.3L170.7,390.8L170.8,391.3L170.9,391.8L171,392.3L171.1,392.7L171.4,392.7ZM181.5,382.8L181.4,383.3L181.3,383.8L181.2,384.3L181.1,384.8L181,385.3L180.9,385.8L180.7,386.3L180.6,386.8L180.5,387.3L180.5,387.8L180.4,388.3L180.5,388.8L180.5,389.3L180.6,389.8L180.7,390.3L180.8,390.8L180.9,391.3L181,391.8L181.1,392.3L181.2,392.7L181.5,392.7ZM191.6,383.3L191.5,383.8L191.4,384.3L191.3,384.8L191.2,385.3L191.1,385.8L191,386.3L190.9,386.8L190.8,387.3L190.8,387.8L190.8,388.3L190.8,388.8L190.8,389.3L190.9,389.8L191,390.3L191,390.8L191.1,391.3L191.2,391.8L191.3,392.3L191.4,392.7L191.6,392.7ZM201.7,383.3L201.6,383.8L201.5,384.3L201.4,384.8L201.3,385.3L201.2,385.8L201.2,386.3L201.1,386.8L201,387.3L201,387.8L201,388.3L201,388.8L201,389.3L201.1,389.8L201.1,390.3L201.2,390.8L201.3,391.3L201.4,391.8L201.4,392.3L201.5,392.7L201.7,392.7ZM211.8,383.3L211.7,383.8L211.6,384.3L211.5,384.8L211.4,385.3L211.3,385.8L211.3,386.3L211.2,386.8L211.1,387.3L211.1,387.8L211.1,388.3L211.1,388.8L211.1,389.3L211.2,389.8L211.2,390.3L211.3,390.8L211.4,391.3L211.5,391.8L211.5,392.3L211.6,392.7L211.8,392.7ZM221.8,383.3L221.8,383.8L221.7,384.3L221.6,384.8L221.5,385.3L221.4,385.8L221.3,386.3L221.3,386.8L221.2,387.3L221.2,387.8L221.2,388.3L221.2,388.8L221.2,389.3L221.2,389.8L221.3,390.3L221.4,390.8L221.5,391.3L221.5,391.8L221.6,392.3L221.7,392.7L221.8,392.7ZM231.9,383.3L231.8,383.8L231.7,384.3L231.6,384.8L231.5,385.3L231.4,385.8L231.4,386.3L231.3,386.8L231.2,387.3L231.1,387.8L231.1,388.3L231.1,388.8L231.2,389.3L231.2,389.8L231.3,390.3L231.4,390.8L231.5,391.3L231.6,391.8L231.7,392.3L231.7,392.7L231.9,392.7ZM242,382.8L241.9,383.3L241.8,383.8L241.7,384.3L241.6,384.8L241.5,385.3L241.3,385.8L241.2,386.3L241.1,386.8L241,387.3L240.9,387.8L240.9,388.3L240.9,388.8L240.9,389.3L241,389.8L241.1,390.3L241.3,390.8L241.4,391.3L241.5,391.8L241.6,392.3L241.7,392.7L242,392.7Z" fill="#1e1ee8" fill-opacity="1"/>
<path d="M60.4,291.3V440.6M70.5,291.3V440.6M80.6,291.3V440.6M90.7,291.3V440.6M100.8,291.3V440.6M110.8,291.3V440.6M120.9,291.3V440.6M131,291.3V440.6M141.1,291.3V440.6M151.2,291.3V440.6M161.3,291.3V440.6M171.4,291.3V440.6M181.5,291.3V440.6M191.6,291.3V440.6M201.7,291.3V440.6M211.8,291.3V440.6M221.8,291.3V440.6M231.9,291.3V440.6M242,291.3V440.6" stroke="#a0a0a0" stroke-width="1" fill="none"/>
<path d="M60.4,313.3L60.5,313.8L60.6,314.3L60.7,314.8L60.9,315.3L61.1,315.8L61.5,316.3L62,316.8L62.7,317.3L63.4,317.8L64.3,318.3L65.2,318.8L66.1,319.3L66.9,319.8L67.5,320.3L67.9,320.8L68,321.3L67.8,321.8L67.3,322.3L66.6,322.8L65.7,323.3L64.8,323.8L63.9,324.3L63.1,324.8L62.4,325.3L61.8,325.8L61.3,326.3L61,326.8L60.8,327.3L60.6,327.8L60.6,328.3L60.5,328.8L60.5,329.3L60.6,329.8L60.6,330.3L60.7,330.8L60.8,331.3L61,331.8L61.1,332.3L61.2,332.8L61.2,333.3L61.2,333.8L61.1,334.3L61,334.8L60.9,335.3L60.8,335.8L60.7,336.3L60.6,336.8L60.5,337.3L60.4,337.8M70.5,313.3L70.6,313.8L70.7,314.3L70.8,314.8L71,315.3L71.2,315.8L71.6,316.3L72.1,316.8L72.7,317.3L73.5,317.8L74.4,318.3L75.3,318.8L76.2,319.3L77,319.8L77.6,320.3L78,320.8L78.1,321.3L77.9,321.8L77.4,322.3L76.7,322.8L75.8,323.3L74.9,323.8L74,324.3L73.2,324.8L72.5,325.3L71.9,325.8L71.4,326.3L71.1,326.8L70.9,327.3L70.7,327.8L70.7,328.3L70.6,328.8L70.6,329.3L70.7,329.8L70.8,330.3L70.9,330.8L71,331.3L71.2,331.8L71.3,332.3L71.4,332.8L71.5,333.3L71.5,333.8L71.4,334.3L71.3,334.8L71.2,335.3L71,335.8L70.9,336.3L70.7,336.8L70.7,337.3L70.6,337.8L70.5,338.3M80.6,313.3L80.7,313.8L80.7,314.3L80.9,314.8L81,315.3L81.3,315.8L81.7,316.3L82.2,316.8L82.8,317.3L83.6,317.8L84.5,318.3L85.4,318.8L86.3,319.3L87.1,319.8L87.7,320.3L88.1,320.8L88.2,321.3L88,321.8L87.5,322.3L86.8,322.8L85.9,323.3L85,323.8L84.1,324.3L83.3,324.8L82.6,325.3L82,325.8L81.5,326.3L81.2,326.8L81,327.3L80.8,327.8L80.7,328.3L80.7,328.8L80.7,329.3L80.8,329.8L80.9,330.3L81,330.8L81.1,331.3L81.3,331.8L81.4,332.3L81.5,332.8L81.6,333.3L81.6,333.8L81.5,334.3L81.4,334.8L81.2,335.3L81.1,335.8L81,336.3L80.8,336.8L80.7,337.3L80.7,337.8L80.6,338.3M90.7,313.3L90.8,313.8L90.8,314.3L91,314.8L91.1,315.3L91.4,315.8L91.8,316.3L92.3,316.8L92.9,317.3L93.7,317.8L94.5,318.3L95.5,318.8L96.4,319.3L97.2,319.8L97.8,320.3L98.2,320.8L98.3,321.3L98.1,321.8L97.6,322.3L96.9,322.8L96,323.3L95.1,323.8L94.2,324.3L93.4,324.8L92.7,325.3L92.1,325.8L91.6,326.3L91.3,326.8L91.1,327.3L90.9,327.8L90.8,328.3L90.8,328.8L90.8,329.3L90.8,329.8L90.8,330.3L90.9,330.8L90.9,331.3L91,331.8L91.1,332.3L91.1,332.8L91.2,333.3L91.2,333.8L91.1,334.3L91.1,334.8L91,335.3L90.9,335.8L90.9,336.3L90.8,336.8L90.8,337.3L90.7,337.8M100.8,313.3L100.9,313.8L100.9,314.3L101,314.8L101.2,315.3L101.5,315.8L101.9,316.3L102.4,316.8L103,317.3L103.8,317.8L104.6,318.3L105.6,318.8L106.5,319.3L107.3,319.8L107.9,320.3L108.3,320.8L108.4,321.3L108.1,321.8L107.7,322.3L107,322.8L106.1,323.3L105.2,323.8L104.3,324.3L103.5,324.8L102.7,325.3L102.2,325.8L101.7,326.3L101.4,326.8L101.2,327.3L101,327.8L100.9,328.3L100.9,328.8L100.9,329.3L100.9,329.8L100.9,330.3L101,330.8L101,331.3L101.1,331.8L101.2,332.3L101.2,332.8L101.3,333.3L101.3,333.8L101.2,334.3L101.2,334.8L101.1,335.3L101,335.8L100.9,336.3L100.9,336.8L100.8,337.3L100.8,337.8M110.8,313.3L110.9,313.8L111,314.3L111.1,314.8L111.3,315.3L111.6,315.8L112,316.3L112.5,316.8L113.1,317.3L113.9,317.8L114.7,318.3L115.6,318.8L116.5,319.3L117.3,319.8L118,320.3L118.4,320.8L118.4,321.3L118.2,321.8L117.7,322.3L117,322.8L116.2,323.3L115.3,323.8L114.4,324.3L113.5,324.8L112.8,325.3L112.2,325.8L111.8,326.3L111.5,326.8L111.2,327.3L111.1,327.8L111,328.3L111,328.8L110.9,329.3L111,329.8L111,330.3L111.1,330.8L111.1,331.3L111.2,331.8L111.3,332.3L111.3,332.8L111.3,333.3L111.3,333.8L111.3,334.3L111.3,334.8L111.2,335.3L111.1,335.8L111,336.3L111,336.8L110.9,337.3L110.8,337.8M120.9,313.3L121,313.8L121.1,314.3L121.2,314.8L121.4,315.3L121.7,315.8L122.1,316.3L122.6,316.8L123.2,317.3L124,317.8L124.8,318.3L125.7,318.8L126.6,319.3L127.4,319.8L128.1,320.3L128.4,320.8L128.5,321.3L128.3,321.8L127.8,322.3L127.1,322.8L126.3,323.3L125.4,323.8L124.5,324.3L123.6,324.8L122.9,325.3L122.3,325.8L121.9,326.3L121.6,326.8L121.3,327.3L121.2,327.8L121.1,328.3L121,328.8L121,329.3L121.1,329.8L121.1,330.3L121.1,330.8L121.2,331.3L121.3,331.8L121.4,332.3L121.4,332.8L121.4,333.3L121.4,333.8L121.4,334.3L121.3,334.8L121.3,335.3L121.2,335.8L121.1,336.3L121.1,336.8L121,337.3L120.9,337.8M131,313.3L131.1,313.8L131.2,314.3L131.3,314.8L131.5,315.3L131.8,315.8L132.1,316.3L132.6,316.8L133.3,317.3L134,317.8L134.9,318.3L135.8,318.8L136.7,319.3L137.5,319.8L138.2,320.3L138.5,320.8L138.6,321.3L138.4,321.8L137.9,322.3L137.2,322.8L136.4,323.3L135.5,323.8L134.6,324.3L133.7,324.8L133,325.3L132.4,325.8L132,326.3L131.7,326.8L131.4,327.3L131.3,327.8L131.2,328.3L131.1,328.8L131.1,329.3L131.1,329.8L131.2,330.3L131.2,330.8L131.3,331.3L131.4,331.8L131.4,332.3L131.5,332.8L131.5,333.3L131.5,333.8L131.5,334.3L131.4,334.8L131.4,335.3L131.3,335.8L131.2,336.3L131.2,336.8L131.1,337.3L131,337.8M141.1,313.3L141.2,313.8L141.3,314.3L141.4,314.8L141.6,315.3L141.9,315.8L142.2,316.3L142.7,316.8L143.4,317.3L144.1,317.8L145,318.3L145.9,318.8L146.8,319.3L147.6,319.8L148.2,320.3L148.6,320.8L148.7,321.3L148.5,321.8L148,322.3L147.3,322.8L146.5,323.3L145.5,323.8L144.6,324.3L143.8,324.8L143.1,325.3L142.5,325.8L142.1,326.3L141.7,326.8L141.5,327.3L141.4,327.8L141.3,328.3L141.2,328.8L141.2,329.3L141.2,329.8L141.3,330.3L141.3,330.8L141.4,331.3L141.5,331.8L141.5,332.3L141.6,332.8L141.6,333.3L141.6,333.8L141.6,334.3L141.5,334.8L141.5,335.3L141.4,335.8L141.3,336.3L141.2,336.8L141.2,337.3L141.1,337.8M151.2,313.3L151.3,313.8L151.4,314.3L151.5,314.8L151.7,315.3L151.9,315.8L152.3,316.3L152.8,316.8L153.5,317.3L154.2,317.8L155.1,318.3L156,318.8L156.9,319.3L157.7,319.8L158.3,320.3L158.7,320.8L158.8,321.3L158.6,321.8L158.1,322.3L157.4,322.8L156.6,323.3L155.6,323.8L154.7,324.3L153.9,324.8L153.2,325.3L152.6,325.8L152.2,326.3L151.8,326.8L151.6,327.3L151.5,327.8L151.4,328.3L151.3,328.8L151.3,329.3L151.4,329.8L151.4,330.3L151.5,330.8L151.6,331.3L151.8,331.8L151.9,332.3L152,332.8L152,333.3L152,333.8L151.9,334.3L151.9,334.8L151.7,335.3L151.6,335.8L151.5,336.3L151.4,336.8L151.3,337.3L151.2,337.8M161.3,313.3L161.4,313.8L161.5,314.3L161.6,314.8L161.8,315.3L162,315.8L162.4,316.3L162.9,316.8L163.6,317.3L164.3,317.8L165.2,318.3L166.1,318.8L167,319.3L167.8,319.8L168.4,320.3L168.8,320.8L168.9,321.3L168.7,321.8L168.2,322.3L167.5,322.8L166.6,323.3L165.7,323.8L164.8,324.3L164,324.8L163.3,325.3L162.7,325.8L162.3,326.3L161.9,326.8L161.7,327.3L161.6,327.8L161.5,328.3L161.4,328.8L161.5,329.3L161.5,329.8L161.6,330.3L161.7,330.8L161.8,331.3L162,331.8L162.1,332.3L162.2,332.8L162.3,333.3L162.3,333.8L162.2,334.3L162.1,334.8L162,335.3L161.8,335.8L161.7,336.3L161.6,336.8L161.5,337.3L161.4,337.8L161.3,338.3M171.4,313.3L171.5,313.8L171.6,314.3L171.7,314.8L171.9,315.3L172.1,315.8L172.5,316.3L173,316.8L173.6,317.3L174.4,317.8L175.3,318.3L176.2,318.8L177.1,319.3L177.9,319.8L178.5,320.3L178.9,320.8L179,321.3L178.8,321.8L178.3,322.3L177.6,322.8L176.7,323.3L175.8,323.8L174.9,324.3L174.1,324.8L173.4,325.3L172.8,325.8L172.3,326.3L172,326.8L171.8,327.3L171.6,327.8L171.6,328.3L171.5,328.8L171.5,329.3L171.6,329.8L171.7,330.3L171.8,330.8L171.9,331.3L172.1,331.8L172.2,332.3L172.3,332.8L172.4,333.3L172.4,333.8L172.3,334.3L172.2,334.8L172.1,335.3L171.9,335.8L171.8,336.3L171.6,336.8L171.6,337.3L171.5,337.8L171.4,338.3M181.5,313.3L181.6,313.8L181.6,314.3L181.8,314.8L181.9,315.3L182.2,315.8L182.6,316.3L183.1,316.8L183.7,317.3L184.5,317.8L185.4,318.3L186.3,318.8L187.2,319.3L188,319.8L188.6,320.3L189,320.8L189.1,321.3L188.9,321.8L188.4,322.3L187.7,322.8L186.8,323.3L185.9,323.8L185,324.3L184.2,324.8L183.5,325.3L182.9,325.8L182.4,326.3L182.1,326.8L181.9,327.3L181.7,327.8L181.6,328.3L181.6,328.8L181.6,329.3L181.6,329.8L181.6,330.3L181.7,330.8L181.8,331.3L181.8,331.8L181.9,332.3L182,332.8L182,333.3L182,333.8L181.9,334.3L181.9,334.8L181.8,335.3L181.7,335.8L181.7,336.3L181.6,336.8L181.6,337.3L181.5,337.8M191.6,313.3L191.7,313.8L191.7,314.3L191.9,314.8L192,315.3L192.3,315.8L192.7,316.3L193.2,316.8L193.8,317.3L194.6,317.8L195.4,318.3L196.4,318.8L197.3,319.3L198.1,319.8L198.7,320.3L199.1,320.8L199.2,321.3L199,321.8L198.5,322.3L197.8,322.8L196.9,323.3L196,323.8L195.1,324.3L194.3,324.8L193.6,325.3L193,325.8L192.5,326.3L192.2,326.8L192,327.3L191.8,327.8L191.7,328.3L191.7,328.8L191.7,329.3L191.7,329.8L191.7,330.3L191.8,330.8L191.8,331.3L191.9,331.8L192,332.3L192,332.8L192.1,333.3L192.1,333.8L192,334.3L192,334.8L191.9,335.3L191.8,335.8L191.8,336.3L191.7,336.8L191.7,337.3L191.6,337.8M201.7,313.3L201.8,313.8L201.8,314.3L201.9,314.8L202.1,315.3L202.4,315.8L202.8,316.3L203.3,316.8L203.9,317.3L204.7,317.8L205.5,318.3L206.5,318.8L207.4,319.3L208.2,319.8L208.8,320.3L209.2,320.8L209.3,321.3L209,321.8L208.6,322.3L207.9,322.8L207,323.3L206.1,323.8L205.2,324.3L204.4,324.8L203.6,325.3L203.1,325.8L202.6,326.3L202.3,326.8L202.1,327.3L201.9,327.8L201.8,328.3L201.8,328.8L201.8,329.3L201.8,329.8L201.8,330.3L201.9,330.8L201.9,331.3L202,331.8L202.1,332.3L202.1,332.8L202.2,333.3L202.2,333.8L202.1,334.3L202.1,334.8L202,335.3L201.9,335.8L201.8,336.3L201.8,336.8L201.7,337.3L201.7,337.8M211.8,313.3L211.8,313.8L211.9,314.3L212,314.8L212.2,315.3L212.5,315.8L212.9,316.3L213.4,316.8L214,317.3L214.8,317.8L215.6,318.3L216.5,318.8L217.4,319.3L218.2,319.8L218.9,320.3L219.3,320.8L219.3,321.3L219.1,321.8L218.6,322.3L217.9,322.8L217.1,323.3L216.2,323.8L215.3,324.3L214.4,324.8L213.7,325.3L213.1,325.8L212.7,326.3L212.4,326.8L212.1,327.3L212,327.8L211.9,328.3L211.9,328.8L211.8,329.3L211.9,329.8L211.9,330.3L212,330.8L212,331.3L212.1,331.8L212.2,332.3L212.2,332.8L212.2,333.3L212.2,333.8L212.2,334.3L212.2,334.8L212.1,335.3L212,335.8L211.9,336.3L211.9,336.8L211.8,337.3L211.8,337.8M221.8,313.3L221.9,313.8L222,314.3L222.1,314.8L222.3,315.3L222.6,315.8L223,316.3L223.5,316.8L224.1,317.3L224.9,317.8L225.7,318.3L226.6,318.8L227.5,319.3L228.3,319.8L229,320.3L229.3,320.8L229.4,321.3L229.2,321.8L228.7,322.3L228,322.8L227.2,323.3L226.3,323.8L225.4,324.3L224.5,324.8L223.8,325.3L223.2,325.8L222.8,326.3L222.5,326.8L222.2,327.3L222.1,327.8L222,328.3L221.9,328.8L221.9,329.3L222,329.8L222,330.3L222,330.8L222.1,331.3L222.2,331.8L222.3,332.3L222.3,332.8L222.3,333.3L222.3,333.8L222.3,334.3L222.2,334.8L222.2,335.3L222.1,335.8L222,336.3L222,336.8L221.9,337.3L221.8,337.8M231.9,313.3L232,313.8L232.1,314.3L232.2,314.8L232.4,315.3L232.7,315.8L233,316.3L233.5,316.8L234.2,317.3L234.9,317.8L235.8,318.3L236.7,318.8L237.6,319.3L238.4,319.8L239.1,320.3L239.4,320.8L239.5,321.3L239.3,321.8L238.8,322.3L238.1,322.8L237.3,323.3L236.4,323.8L235.5,324.3L234.6,324.8L233.9,325.3L233.3,325.8L232.9,326.3L232.6,326.8L232.3,327.3L232.2,327.8L232.1,328.3L232,328.8L232,329.3L232,329.8L232.1,330.3L232.1,330.8L232.2,331.3L232.3,331.8L232.3,332.3L232.4,332.8L232.4,333.3L232.4,333.8L232.4,334.3L232.3,334.8L232.3,335.3L232.2,335.8L232.1,336.3L232.1,336.8L232,337.3L231.9,337.8M242,313.3L242.1,313.8L242.2,314.3L242.3,314.8L242.5,315.3L242.8,315.8L243.1,316.3L243.6,316.8L244.3,317.3L245,317.8L245.9,318.3L246.8,318.8L247.7,319.3L248.5,319.8L249.1,320.3L249.5,320.8L249.6,321.3L249.4,321.8L248.9,322.3L248.2,322.8L247.4,323.3L246.4,323.8L245.5,324.3L244.7,324.8L244,325.3L243.4,325.8L243,326.3L242.6,326.8L242.4,327.3L242.3,327.8L242.2,328.3L242.1,328.8L242.1,329.3L242.2,329.8L242.3,330.3L242.3,330.8L242.5,331.3L242.6,331.8L242.7,332.3L242.8,332.8L242.8,333.3L242.8,333.8L242.8,334.3L242.7,334.8L242.6,335.3L242.4,335.8L242.3,336.3L242.2,336.8L242.2,337.3L242,337.8M60.4,392.3L60.1,392.7L60.1,392.8L60.2,393.3L60.3,393.8L60.3,394.3L60.4,394.8M70.5,392.3L70.2,392.7L70.2,392.8L70.3,393.3L70.4,393.8L70.4,394.3L70.5,394.8M80.6,392.3L80.3,392.7L80.3,392.8L80.4,393.3L80.5,393.8L80.5,394.3L80.6,394.8M90.7,392.3L90.4,392.7L90.4,392.8L90.5,393.3L90.6,393.8L90.7,394.3M100.8,392.3L100.6,392.7L100.6,392.8L100.6,393.3L100.7,393.8L100.8,394.3M110.8,392.3L110.7,392.7L110.7,392.8L110.7,393.3L110.8,393.8M120.9,392.3L120.8,392.7L120.8,392.8L120.8,393.3L120.9,393.8M131,392.3L130.9,392.7L130.9,392.8L130.9,393.3L131,393.8M141.1,392.3L140.9,392.7L140.9,392.8L141,393.3L141,393.8L141.1,394.3M151.2,392.3L150.9,392.7L150.9,392.8L151,393.3L151.1,393.8L151.1,394.3L151.2,394.8M161.3,392.3L161,392.7L161,392.8L161.1,393.3L161.2,393.8L161.2,394.3L161.3,394.8M171.4,392.3L171.1,392.7L171.1,392.8L171.2,393.3L171.3,393.8L171.3,394.3L171.4,394.8M181.5,392.3L181.2,392.7L181.2,392.8L181.3,393.3L181.4,393.8L181.5,394.3M191.6,392.3L191.4,392.7L191.4,392.8L191.4,393.3L191.5,393.8L191.6,394.3M201.7,392.3L201.5,392.7L201.5,392.8L201.5,393.3L201.7,393.8M211.8,392.3L211.6,392.7L211.6,392.8L211.6,393.3L211.8,393.8M221.8,392.3L221.7,392.7L221.7,392.8L221.7,393.3L221.8,393.8M231.9,392.3L231.7,392.7L231.7,392.8L231.8,393.3L231.8,393.8L231.9,394.3M242,392.3L241.7,392.7L241.7,392.8L241.8,393.3L241.9,393.8L241.9,394.3L242,394.8" stroke="#555555" stroke-opacity="0.55" stroke-width="0.6" fill="none"/>
<path d="M60.9,372.3L61,372.8L61.1,373.3L61.2,373.8L61.3,374.3L61.4,374.8L61.4,375.3L61.4,375.8L61.4,376.3L61.3,376.8L61.3,377.3L61.2,377.8L61.1,378.3L61,378.8L60.9,379.3M71,371.8L71.1,372.3L71.3,372.8L71.4,373.3L71.5,373.8L71.6,374.3L71.6,374.8L71.7,375.3L71.7,375.8L71.7,376.3L71.6,376.8L71.5,377.3L71.4,377.8L71.3,378.3L71.2,378.8L71,379.3M81,371.3L81.2,371.8L81.3,372.3L81.4,372.8L81.5,373.3L81.7,373.8L81.8,374.3L81.8,374.8L81.9,375.3L81.9,375.8L81.8,376.3L81.8,376.8L81.7,377.3L81.6,377.8L81.4,378.3L81.3,378.8L81.2,379.3L81.1,379.8M91.2,370.8L91.3,371.3L91.5,371.8L91.7,372.3L91.8,372.8L92,373.3L92.2,373.8L92.3,374.3L92.4,374.8L92.5,375.3L92.5,375.8L92.4,376.3L92.3,376.8L92.2,377.3L92,377.8L91.9,378.3L91.7,378.8L91.5,379.3L91.3,379.8L91.2,380.3M101.2,370.3L101.4,370.8L101.6,371.3L101.8,371.8L102,372.3L102.2,372.8L102.5,373.3L102.7,373.8L102.9,374.3L103,374.8L103,375.3L103.1,375.8L103,376.3L102.9,376.8L102.7,377.3L102.5,377.8L102.3,378.3L102.1,378.8L101.8,379.3L101.6,379.8L101.4,380.3L101.3,380.8M111.4,370.3L111.5,370.8L111.7,371.3L112,371.8L112.2,372.3L112.5,372.8L112.7,373.3L112.9,373.8L113.1,374.3L113.3,374.8L113.3,375.3L113.3,375.8L113.3,376.3L113.2,376.8L113,377.3L112.8,377.8L112.5,378.3L112.3,378.8L112,379.3L111.8,379.8L111.6,380.3L111.4,380.8M121.5,370.3L121.6,370.8L121.8,371.3L122.1,371.8L122.3,372.3L122.6,372.8L122.8,373.3L123,373.8L123.2,374.3L123.4,374.8L123.4,375.3L123.4,375.8L123.4,376.3L123.2,376.8L123.1,377.3L122.9,377.8L122.6,378.3L122.4,378.8L122.1,379.3L121.9,379.8L121.7,380.3L121.5,380.8M131.5,370.3L131.7,370.8L131.9,371.3L132.1,371.8L132.3,372.3L132.5,372.8L132.7,373.3L133,373.8L133.1,374.3L133.2,374.8L133.3,375.3L133.3,375.8L133.3,376.3L133.2,376.8L133,377.3L132.8,377.8L132.6,378.3L132.3,378.8L132.1,379.3L131.9,379.8L131.7,380.3L131.5,380.8M141.7,371.3L141.8,371.8L141.9,372.3L142.1,372.8L142.2,373.3L142.4,373.8L142.5,374.3L142.6,374.8L142.6,375.3L142.6,375.8L142.6,376.3L142.5,376.8L142.4,377.3L142.3,377.8L142.1,378.3L142,378.8L141.8,379.3L141.7,379.8M151.8,372.3L151.9,372.8L152,373.3L152,373.8L152.1,374.3L152.2,374.8L152.2,375.3L152.2,375.8L152.2,376.3L152.1,376.8L152.1,377.3L152,377.8L151.9,378.3L151.8,378.8L151.7,379.3M161.8,371.8L162,372.3L162.1,372.8L162.2,373.3L162.3,373.8L162.4,374.3L162.5,374.8L162.5,375.3L162.5,375.8L162.5,376.3L162.4,376.8L162.3,377.3L162.2,377.8L162.1,378.3L162,378.8L161.9,379.3M171.9,371.3L172,371.8L172.1,372.3L172.2,372.8L172.4,373.3L172.5,373.8L172.6,374.3L172.6,374.8L172.7,375.3L172.7,375.8L172.7,376.3L172.6,376.8L172.5,377.3L172.4,377.8L172.3,378.3L172.1,378.8L172,379.3L171.9,379.8M182,370.8L182.1,371.3L182.3,371.8L182.5,372.3L182.6,372.8L182.8,373.3L183,373.8L183.1,374.3L183.2,374.8L183.3,375.3L183.3,375.8L183.2,376.3L183.1,376.8L183,377.3L182.9,377.8L182.7,378.3L182.5,378.8L182.3,379.3L182.2,379.8L182,380.3M192.1,370.3L192.2,370.8L192.4,371.3L192.6,371.8L192.8,372.3L193.1,372.8L193.3,373.3L193.5,373.8L193.7,374.3L193.8,374.8L193.9,375.3L193.9,375.8L193.8,376.3L193.7,376.8L193.5,377.3L193.3,377.8L193.1,378.3L192.9,378.8L192.6,379.3L192.4,379.8L192.2,380.3L192.1,380.8M202.2,370.3L202.4,370.8L202.6,371.3L202.8,371.8L203,372.3L203.3,372.8L203.5,373.3L203.7,373.8L203.9,374.3L204.1,374.8L204.1,375.3L204.2,375.8L204.1,376.3L204,376.8L203.8,377.3L203.6,377.8L203.3,378.3L203.1,378.8L202.8,379.3L202.6,379.8L202.4,380.3L202.2,380.8M212.3,370.3L212.4,370.8L212.6,371.3L212.9,371.8L213.1,372.3L213.4,372.8L213.6,373.3L213.8,373.8L214,374.3L214.2,374.8L214.2,375.3L214.2,375.8L214.2,376.3L214.1,376.8L213.9,377.3L213.7,377.8L213.4,378.3L213.2,378.8L212.9,379.3L212.7,379.8L212.5,380.3L212.3,380.8M222.3,370.3L222.5,370.8L222.7,371.3L222.9,371.8L223.1,372.3L223.3,372.8L223.6,373.3L223.8,373.8L223.9,374.3L224.1,374.8L224.1,375.3L224.1,375.8L224.1,376.3L224,376.8L223.8,377.3L223.6,377.8L223.4,378.3L223.1,378.8L222.9,379.3L222.7,379.8L222.5,380.3L222.3,380.8M232.5,371.3L232.6,371.8L232.7,372.3L232.9,372.8L233,373.3L233.2,373.8L233.3,374.3L233.4,374.8L233.4,375.3L233.4,375.8L233.4,376.3L233.3,376.8L233.2,377.3L233.1,377.8L232.9,378.3L232.8,378.8L232.6,379.3L232.5,379.8M242.6,372.3L242.7,372.8L242.8,373.3L242.9,373.8L242.9,374.3L243,374.8L243,375.3L243,375.8L243,376.3L242.9,376.8L242.9,377.3L242.8,377.8L242.7,378.3L242.6,378.8L242.5,379.3" stroke="#f01e1e" stroke-opacity="0.75" stroke-width="1.3" stroke-linejoin="round" fill="none"/>
<path d="M59.8,385.3L59.7,385.8L59.6,386.3L59.4,386.8L59.3,387.3L59.3,387.8L59.3,388.3L59.3,388.8L59.3,389.3L59.4,389.8L59.5,390.3L59.6,390.8L59.8,391.3L59.9,391.8M69.9,385.3L69.8,385.8L69.7,386.3L69.5,386.8L69.4,387.3L69.4,387.8L69.3,388.3L69.4,388.8L69.4,389.3L69.5,389.8L69.6,390.3L69.7,390.8L69.9,391.3L70,391.8M80.1,385.3L79.9,385.8L79.8,386.3L79.7,386.8L79.6,387.3L79.5,387.8L79.5,388.3L79.5,388.8L79.6,389.3L79.6,389.8L79.7,390.3L79.9,390.8L80,391.3L80.1,391.8M90.2,385.3L90,385.8L89.9,386.3L89.8,386.8L89.7,387.3L89.7,387.8L89.6,388.3L89.6,388.8L89.7,389.3L89.8,389.8L89.9,390.3L90,390.8L90.1,391.3M100.3,385.8L100.2,386.3L100.1,386.8L100,387.3L100,387.8L100,388.3L100,388.8L100,389.3L100.1,389.8L100.1,390.3L100.2,390.8M110.4,386.3L110.3,386.8L110.2,387.3L110.2,387.8L110.2,388.3L110.2,388.8L110.2,389.3L110.3,389.8L110.3,390.3L110.4,390.8M120.4,386.3L120.4,386.8L120.3,387.3L120.3,387.8L120.3,388.3L120.3,388.8L120.3,389.3L120.3,389.8L120.4,390.3L120.5,390.8M130.5,386.3L130.5,386.8L130.4,387.3L130.4,387.8L130.3,388.3L130.3,388.8L130.4,389.3L130.4,389.8L130.5,390.3L130.6,390.8M140.6,385.8L140.5,386.3L140.5,386.8L140.4,387.3L140.3,387.8L140.3,388.3L140.3,388.8L140.4,389.3L140.4,389.8L140.5,390.3L140.6,390.8M150.7,385.3L150.5,385.8L150.4,386.3L150.3,386.8L150.2,387.3L150.1,387.8L150.1,388.3L150.1,388.8L150.1,389.3L150.2,389.8L150.3,390.3L150.5,390.8L150.6,391.3L150.7,391.8M160.7,385.3L160.6,385.8L160.5,386.3L160.3,386.8L160.2,387.3L160.2,387.8L160.2,388.3L160.2,388.8L160.2,389.3L160.3,389.8L160.4,390.3L160.5,390.8L160.7,391.3L160.8,391.8M170.9,385.3L170.7,385.8L170.6,386.3L170.5,386.8L170.4,387.3L170.3,387.8L170.3,388.3L170.3,388.8L170.4,389.3L170.4,389.8L170.6,390.3L170.7,390.8L170.8,391.3L170.9,391.8M181,385.3L180.9,385.8L180.7,386.3L180.6,386.8L180.5,387.3L180.5,387.8L180.4,388.3L180.5,388.8L180.5,389.3L180.6,389.8L180.7,390.3L180.8,390.8L180.9,391.3M191.1,385.8L191,386.3L190.9,386.8L190.8,387.3L190.8,387.8L190.8,388.3L190.8,388.8L190.8,389.3L190.9,389.8L191,390.3L191,390.8M201.2,386.3L201.1,386.8L201,387.3L201,387.8L201,388.3L201,388.8L201,389.3L201.1,389.8L201.1,390.3L201.2,390.8M211.3,386.3L211.2,386.8L211.1,387.3L211.1,387.8L211.1,388.3L211.1,388.8L211.1,389.3L211.2,389.8L211.2,390.3L211.3,390.8M221.3,386.3L221.3,386.8L221.2,387.3L221.2,387.8L221.2,388.3L221.2,388.8L221.2,389.3L221.2,389.8L221.3,390.3L221.4,390.8M231.4,385.8L231.4,386.3L231.3,386.8L231.2,387.3L231.1,387.8L231.1,388.3L231.1,388.8L231.2,389.3L231.2,389.8L231.3,390.3L231.4,390.8M241.5,385.3L241.3,385.8L241.2,386.3L241.1,386.8L241,387.3L240.9,387.8L240.9,388.3L240.9,388.8L240.9,389.3L241,389.8L241.1,390.3L241.3,390.8L241.4,391.3L241.5,391.8" stroke="#1e1ee8" stroke-opacity="0.6" stroke-width="1.3" stroke-linejoin="round" fill="none"/>
<line x1="353.6" y1="345" x2="535.2" y2="345" stroke="#adadad" stroke-width="1"/>
<line x1="353.6" y1="392.7" x2="535.2" y2="392.7" stroke="#adadad" stroke-width="1"/>
<path d="M353.6,327.3L353.7,327.8L353.8,328.3L354,328.8L354.3,329.3L354.6,329.8L355.1,330.3L355.7,330.8L356.4,331.3L357.3,331.8L358.1,332.3L359,332.8L359.9,333.3L360.5,333.8L361,334.3L361.1,334.8L361,335.3L360.5,335.8L359.9,336.3L359,336.8L358.1,337.3L357.3,337.8L356.4,338.3L355.7,338.8L355.1,339.3L354.6,339.8L354.3,340.3L354,340.8L353.9,341.3L353.7,341.8L353.7,342.3L353.6,342.8ZM353.6,402.3L353.7,402.8L353.8,403.3L353.9,403.8L354,404.3L354.2,404.8L354.4,405.3L354.6,405.8L354.8,406.3L355,406.8L355.2,407.3L355.4,407.8L355.5,408.3L355.5,408.8L355.4,409.3L355.3,409.8L355.1,410.3L354.9,410.8L354.7,411.3L354.5,411.8L354.3,412.3L354.1,412.8L353.9,413.3L353.8,413.8L353.8,414.3L353.7,414.8L353.6,415.3ZM363.7,330.3L364.1,330.8L364.8,331.3L365.5,331.8L366.3,332.3L367.2,332.8L368.1,333.3L368.9,333.8L369.7,334.3L370.2,334.8L370.6,335.3L370.7,335.8L370.5,336.3L370,336.8L369.4,337.3L368.6,337.8L367.8,338.3L366.9,338.8L366.2,339.3L365.5,339.8L365,340.3L364.6,340.8L364.3,341.3L364,341.8L363.9,342.3L363.8,342.8L363.7,343.3ZM363.7,408.3L363.9,408.8L364,409.3L364.1,409.8L364.2,410.3L364.2,410.8L364.2,411.3L364.1,411.8L364,412.3L363.9,412.8L363.9,413.3L363.8,413.8L363.7,414.3ZM363.7,424.8L364,425.3L364.3,425.8L364.6,426.3L364.9,426.8L365.2,427.3L365.4,427.8L365.5,428.3L365.5,428.8L365.4,429.3L365.3,429.8L365.1,430.3L364.8,430.8L364.6,431.3L364.4,431.8L364.2,432.3L364,432.8L363.9,433.3L363.8,433.8L363.8,434.3L363.7,434.8ZM373.8,392.3L374.3,392.7L374.3,392.8L374.1,393.3L374,393.8L373.9,394.3L373.9,394.8L373.8,395.3ZM373.8,419.3L373.9,419.8L373.9,420.3L374,420.8L374.1,421.3L374.3,421.8L374.5,422.3L374.8,422.8L375.1,423.3L375.4,423.8L375.7,424.3L376.1,424.8L376.3,425.3L376.5,425.8L376.6,426.3L376.5,426.8L376.4,427.3L376.2,427.8L375.9,428.3L375.5,428.8L375.2,429.3L374.9,429.8L374.6,430.3L374.4,430.8L374.2,431.3L374.1,431.8L374,432.3L373.9,432.8L373.8,433.3ZM383.9,392.3L384.5,392.7L384.5,392.8L384.3,393.3L384.2,393.8L384.1,394.3L384,394.8L383.9,395.3ZM383.9,419.3L384,419.8L384.1,420.3L384.2,420.8L384.3,421.3L384.5,421.8L384.8,422.3L385,422.8L385.4,423.3L385.7,423.8L386,424.3L386.3,424.8L386.5,425.3L386.6,425.8L386.7,426.3L386.6,426.8L386.4,427.3L386.1,427.8L385.8,428.3L385.4,428.8L385.1,429.3L384.8,429.8L384.6,430.3L384.3,430.8L384.2,431.3L384.1,431.8L384,432.3L383.9,432.8ZM394,392.3L394.5,392.7L394.4,392.8L394.3,393.3L394.2,393.8L394.1,394.3L394,394.8ZM394,419.3L394.1,419.8L394.1,420.3L394.2,420.8L394.4,421.3L394.6,421.8L394.8,422.3L395,422.8L395.3,423.3L395.7,423.8L396,424.3L396.2,424.8L396.4,425.3L396.5,425.8L396.6,426.3L396.5,426.8L396.3,427.3L396,427.8L395.7,428.3L395.4,428.8L395.1,429.3L394.8,429.8L394.6,430.3L394.4,430.8L394.3,431.3L394.2,431.8L394.1,432.3L394,432.8ZM404.1,314.8L404.2,315.3L404.2,315.8L404.3,316.3L404.4,316.8L404.5,317.3L404.6,317.8L404.7,318.3L404.8,318.8L404.9,319.3L405,319.8L405,320.3L405,320.8L405,321.3L404.9,321.8L404.8,322.3L404.7,322.8L404.6,323.3L404.5,323.8L404.4,324.3L404.3,324.8L404.2,325.3L404.1,325.8ZM404.1,392.3L407.4,392.7L407.3,392.8L406.7,393.3L406.2,393.8L405.7,394.3L405.2,394.8L404.9,395.3L404.6,395.8L404.4,396.3L404.3,396.8L404.2,397.3L404.1,397.8L404.1,398.3ZM404.1,419.3L404.1,419.8L404.2,420.3L404.3,420.8L404.4,421.3L404.6,421.8L404.7,422.3L405,422.8L405.2,423.3L405.5,423.8L405.7,424.3L406,424.8L406.1,425.3L406.2,425.8L406.2,426.3L406.2,426.8L406,427.3L405.8,427.8L405.5,428.3L405.3,428.8L405,429.3L404.8,429.8L404.6,430.3L404.4,430.8L404.3,431.3L404.2,431.8L404.2,432.3L404.1,432.8ZM414.1,313.3L414.2,313.8L414.3,314.3L414.4,314.8L414.5,315.3L414.7,315.8L414.9,316.3L415.2,316.8L415.6,317.3L415.9,317.8L416.3,318.3L416.7,318.8L417,319.3L417.2,319.8L417.3,320.3L417.3,320.8L417.2,321.3L416.9,321.8L416.6,322.3L416.2,322.8L415.9,323.3L415.5,323.8L415.2,324.3L414.9,324.8L414.7,325.3L414.5,325.8L414.4,326.3L414.4,326.8L414.5,327.3L414.5,327.8L414.7,328.3L414.8,328.8L415.1,329.3L415.3,329.8L415.6,330.3L415.8,330.8L416.1,331.3L416.2,331.8L416.3,332.3L416.3,332.8L416.3,333.3L416.1,333.8L415.9,334.3L415.6,334.8L415.4,335.3L415.1,335.8L414.9,336.3L414.7,336.8L414.5,337.3L414.4,337.8L414.3,338.3L414.2,338.8L414.1,339.3ZM414.1,401.8L414.2,402.3L414.3,402.8L414.4,403.3L414.5,403.8L414.6,404.3L414.8,404.8L415,405.3L415.2,405.8L415.4,406.3L415.7,406.8L415.9,407.3L416,407.8L416.1,408.3L416.1,408.8L416.1,409.3L415.9,409.8L415.7,410.3L415.5,410.8L415.3,411.3L415,411.8L414.8,412.3L414.6,412.8L414.5,413.3L414.4,413.8L414.3,414.3L414.2,414.8L414.1,415.3ZM424.2,313.8L424.3,314.3L424.4,314.8L424.4,315.3L424.5,315.8L424.7,316.3L424.8,316.8L425,317.3L425.2,317.8L425.5,318.3L425.7,318.8L425.8,319.3L426,319.8L426,320.3L426,320.8L425.9,321.3L425.8,321.8L425.6,322.3L425.4,322.8L425.2,323.3L425,323.8L424.8,324.3L424.6,324.8L424.5,325.3L424.5,325.8L424.4,326.3L424.4,326.8L424.4,327.3L424.5,327.8L424.7,328.3L424.9,328.8L425.1,329.3L425.5,329.8L425.9,330.3L426.4,330.8L426.8,331.3L427.3,331.8L427.7,332.3L428,332.8L428.2,333.3L428.2,333.8L428.1,334.3L427.8,334.8L427.4,335.3L426.9,335.8L426.5,336.3L426,336.8L425.6,337.3L425.2,337.8L424.9,338.3L424.7,338.8L424.5,339.3L424.4,339.8L424.3,340.3L424.2,340.8ZM424.2,401.8L424.3,402.3L424.4,402.8L424.4,403.3L424.5,403.8L424.7,404.3L424.9,404.8L425.1,405.3L425.3,405.8L425.5,406.3L425.8,406.8L426,407.3L426.1,407.8L426.2,408.3L426.2,408.8L426.2,409.3L426,409.8L425.8,410.3L425.6,410.8L425.3,411.3L425.1,411.8L424.9,412.3L424.7,412.8L424.6,413.3L424.5,413.8L424.4,414.3L424.3,414.8L424.2,415.3ZM434.3,326.8L434.4,327.3L434.5,327.8L434.7,328.3L434.9,328.8L435.1,329.3L435.5,329.8L436,330.3L436.5,330.8L437.1,331.3L437.7,331.8L438.3,332.3L438.9,332.8L439.3,333.3L439.5,333.8L439.5,334.3L439.3,334.8L439,335.3L438.4,335.8L437.9,336.3L437.2,336.8L436.6,337.3L436.1,337.8L435.6,338.3L435.2,338.8L434.9,339.3L434.7,339.8L434.6,340.3L434.5,340.8L434.4,341.3L434.3,341.8ZM434.3,401.8L434.4,402.3L434.5,402.8L434.5,403.3L434.6,403.8L434.8,404.3L434.9,404.8L435.2,405.3L435.4,405.8L435.6,406.3L435.9,406.8L436.1,407.3L436.2,407.8L436.3,408.3L436.3,408.8L436.2,409.3L436.1,409.8L435.9,410.3L435.7,410.8L435.4,411.3L435.2,411.8L435,412.3L434.8,412.8L434.7,413.3L434.5,413.8L434.5,414.3L434.4,414.8L434.3,415.3ZM444.4,327.3L444.5,327.8L444.6,328.3L444.8,328.8L445.1,329.3L445.4,329.8L445.9,330.3L446.5,330.8L447.2,331.3L448.1,331.8L449,332.3L449.9,332.8L450.7,333.3L451.3,333.8L451.8,334.3L451.9,334.8L451.8,335.3L451.3,335.8L450.7,336.3L449.9,336.8L449,337.3L448.1,337.8L447.2,338.3L446.5,338.8L445.9,339.3L445.4,339.8L445.1,340.3L444.8,340.8L444.7,341.3L444.6,341.8L444.5,342.3L444.4,342.8ZM444.4,402.3L444.5,402.8L444.6,403.3L444.7,403.8L444.8,404.3L445,404.8L445.2,405.3L445.4,405.8L445.6,406.3L445.8,406.8L446,407.3L446.2,407.8L446.3,408.3L446.3,408.8L446.3,409.3L446.1,409.8L446,410.3L445.7,410.8L445.5,411.3L445.3,411.8L445.1,412.3L444.9,412.8L444.8,413.3L444.6,413.8L444.6,414.3L444.5,414.8L444.4,415.3ZM454.5,330.3L455,330.8L455.6,331.3L456.3,331.8L457.1,332.3L458,332.8L458.9,333.3L459.7,333.8L460.5,334.3L461.1,334.8L461.4,335.3L461.5,335.8L461.3,336.3L460.9,336.8L460.2,337.3L459.4,337.8L458.6,338.3L457.7,338.8L457,339.3L456.3,339.8L455.8,340.3L455.4,340.8L455.1,341.3L454.9,341.8L454.7,342.3L454.6,342.8L454.5,343.3ZM454.5,408.3L454.7,408.8L454.8,409.3L455,409.8L455,410.3L455,410.8L455,411.3L454.9,411.8L454.8,412.3L454.7,412.8L454.7,413.3L454.6,413.8L454.5,414.3ZM454.5,424.8L454.8,425.3L455.1,425.8L455.5,426.3L455.7,426.8L456,427.3L456.2,427.8L456.3,428.3L456.3,428.8L456.2,429.3L456.1,429.8L455.9,430.3L455.6,430.8L455.4,431.3L455.2,431.8L455,432.3L454.8,432.8L454.7,433.3L454.6,433.8L454.6,434.3L454.5,434.8ZM464.6,392.3L465.1,392.7L465.1,392.8L464.9,393.3L464.8,393.8L464.7,394.3L464.7,394.8L464.6,395.3ZM464.6,419.3L464.7,419.8L464.7,420.3L464.8,420.8L464.9,421.3L465.1,421.8L465.3,422.3L465.6,422.8L465.9,423.3L466.2,423.8L466.6,424.3L466.9,424.8L467.1,425.3L467.3,425.8L467.4,426.3L467.4,426.8L467.2,427.3L467,427.8L466.7,428.3L466.4,428.8L466,429.3L465.7,429.8L465.4,430.3L465.2,430.8L465,431.3L464.9,431.8L464.8,432.3L464.7,432.8L464.6,433.3ZM474.7,392.3L475.3,392.7L475.3,392.8L475.1,393.3L475,393.8L474.9,394.3L474.8,394.8L474.7,395.3ZM474.7,419.3L474.8,419.8L474.9,420.3L475,420.8L475.1,421.3L475.3,421.8L475.6,422.3L475.9,422.8L476.2,423.3L476.5,423.8L476.8,424.3L477.1,424.8L477.3,425.3L477.5,425.8L477.5,426.3L477.4,426.8L477.2,427.3L476.9,427.8L476.6,428.3L476.2,428.8L475.9,429.3L475.6,429.8L475.4,430.3L475.2,430.8L475,431.3L474.9,431.8L474.8,432.3L474.7,432.8ZM484.8,392.3L485.3,392.7L485.2,392.8L485.1,393.3L485,393.8L484.9,394.3L484.8,394.8ZM484.8,419.3L484.9,419.8L484.9,420.3L485,420.8L485.2,421.3L485.4,421.8L485.6,422.3L485.9,422.8L486.2,423.3L486.5,423.8L486.8,424.3L487,424.8L487.2,425.3L487.4,425.8L487.4,426.3L487.3,426.8L487.1,427.3L486.8,427.8L486.5,428.3L486.2,428.8L485.9,429.3L485.6,429.8L485.4,430.3L485.2,430.8L485.1,431.3L485,431.8L484.9,432.3L484.8,432.8ZM494.9,314.8L495,315.3L495,315.8L495.1,316.3L495.2,316.8L495.3,317.3L495.4,317.8L495.5,318.3L495.7,318.8L495.8,319.3L495.8,319.8L495.9,320.3L495.9,320.8L495.8,321.3L495.7,321.8L495.6,322.3L495.5,322.8L495.4,323.3L495.3,323.8L495.2,324.3L495.1,324.8L495,325.3L494.9,325.8ZM494.9,392.3L498.2,392.7L498.1,392.8L497.5,393.3L497,393.8L496.5,394.3L496.1,394.8L495.7,395.3L495.4,395.8L495.2,396.3L495.1,396.8L495,397.3L494.9,397.8L494.9,398.3ZM494.9,419.3L494.9,419.8L495,420.3L495.1,420.8L495.2,421.3L495.4,421.8L495.6,422.3L495.8,422.8L496,423.3L496.3,423.8L496.6,424.3L496.8,424.8L497,425.3L497,425.8L497.1,426.3L497,426.8L496.8,427.3L496.6,427.8L496.4,428.3L496.1,428.8L495.8,429.3L495.6,429.8L495.4,430.3L495.2,430.8L495.1,431.3L495,431.8L495,432.3L494.9,432.8ZM505,313.3L505,313.8L505.1,314.3L505.2,314.8L505.3,315.3L505.5,315.8L505.7,316.3L506,316.8L506.4,317.3L506.7,317.8L507.1,318.3L507.5,318.8L507.8,319.3L508,319.8L508.1,320.3L508.1,320.8L508,321.3L507.7,321.8L507.4,322.3L507,322.8L506.7,323.3L506.3,323.8L506,324.3L505.7,324.8L505.5,325.3L505.3,325.8L505.3,326.3L505.2,326.8L505.3,327.3L505.3,327.8L505.5,328.3L505.7,328.8L505.9,329.3L506.1,329.8L506.4,330.3L506.6,330.8L506.9,331.3L507,331.8L507.1,332.3L507.1,332.8L507.1,333.3L506.9,333.8L506.7,334.3L506.4,334.8L506.2,335.3L505.9,335.8L505.7,336.3L505.5,336.8L505.3,337.3L505.2,337.8L505.1,338.3L505.1,338.8L505,339.3ZM505,401.8L505,402.3L505.1,402.8L505.2,403.3L505.3,403.8L505.4,404.3L505.6,404.8L505.8,405.3L506,405.8L506.3,406.3L506.5,406.8L506.7,407.3L506.9,407.8L506.9,408.3L506.9,408.8L506.9,409.3L506.7,409.8L506.5,410.3L506.3,410.8L506.1,411.3L505.8,411.8L505.6,412.3L505.4,412.8L505.3,413.3L505.2,413.8L505.1,414.3L505,414.8L505,415.3ZM515,313.8L515.1,314.3L515.2,314.8L515.2,315.3L515.3,315.8L515.5,316.3L515.6,316.8L515.8,317.3L516,317.8L516.3,318.3L516.5,318.8L516.6,319.3L516.8,319.8L516.8,320.3L516.8,320.8L516.8,321.3L516.6,321.8L516.4,322.3L516.2,322.8L516,323.3L515.8,323.8L515.6,324.3L515.5,324.8L515.3,325.3L515.3,325.8L515.2,326.3L515.2,326.8L515.3,327.3L515.3,327.8L515.5,328.3L515.7,328.8L516,329.3L516.3,329.8L516.7,330.3L517.2,330.8L517.7,331.3L518.1,331.8L518.5,332.3L518.8,332.8L519,333.3L519,333.8L518.9,334.3L518.6,334.8L518.2,335.3L517.8,335.8L517.3,336.3L516.8,336.8L516.4,337.3L516,337.8L515.7,338.3L515.5,338.8L515.3,339.3L515.2,339.8L515.2,340.3L515,340.8ZM515,401.8L515.1,402.3L515.2,402.8L515.3,403.3L515.4,403.8L515.5,404.3L515.7,404.8L515.9,405.3L516.1,405.8L516.3,406.3L516.6,406.8L516.8,407.3L516.9,407.8L517,408.3L517,408.8L517,409.3L516.8,409.8L516.6,410.3L516.4,410.8L516.2,411.3L515.9,411.8L515.7,412.3L515.5,412.8L515.4,413.3L515.3,413.8L515.2,414.3L515.1,414.8L515,415.3ZM525.1,326.8L525.3,327.3L525.3,327.8L525.5,328.3L525.7,328.8L526,329.3L526.3,329.8L526.8,330.3L527.3,330.8L527.9,331.3L528.5,331.8L529.1,332.3L529.7,332.8L530.1,333.3L530.3,333.8L530.3,334.3L530.1,334.8L529.8,335.3L529.3,335.8L528.7,336.3L528,336.8L527.4,337.3L526.9,337.8L526.4,338.3L526,338.8L525.7,339.3L525.5,339.8L525.4,340.3L525.3,340.8L525.2,341.3L525.1,341.8ZM525.1,401.8L525.2,402.3L525.3,402.8L525.3,403.3L525.4,403.8L525.6,404.3L525.8,404.8L526,405.3L526.2,405.8L526.4,406.3L526.7,406.8L526.9,407.3L527,407.8L527.1,408.3L527.1,408.8L527.1,409.3L526.9,409.8L526.7,410.3L526.5,410.8L526.2,411.3L526,411.8L525.8,412.3L525.6,412.8L525.5,413.3L525.4,413.8L525.3,414.3L525.2,414.8L525.1,415.3ZM535.2,327.3L535.3,327.8L535.5,328.3L535.6,328.8L535.9,329.3L536.2,329.8L536.7,330.3L537.3,330.8L538,331.3L538.9,331.8L539.8,332.3L540.7,332.8L541.5,333.3L542.1,333.8L542.6,334.3L542.7,334.8L542.6,335.3L542.1,335.8L541.5,336.3L540.7,336.8L539.8,337.3L538.9,337.8L538,338.3L537.3,338.8L536.7,339.3L536.2,339.8L535.9,340.3L535.6,340.8L535.5,341.3L535.4,341.8L535.3,342.3L535.2,342.8ZM535.2,402.3L535.3,402.8L535.4,403.3L535.5,403.8L535.6,404.3L535.8,404.8L536,405.3L536.2,405.8L536.4,406.3L536.6,406.8L536.8,407.3L537,407.8L537.1,408.3L537.1,408.8L537.1,409.3L536.9,409.8L536.8,410.3L536.6,410.8L536.3,411.3L536.1,411.8L535.9,412.3L535.7,412.8L535.6,413.3L535.5,413.8L535.4,414.3L535.3,414.8L535.2,415.3Z" fill="#ffa0a0" fill-opacity="0.92"/>
<path d="M353.6,313.8L353.5,314.3L353.5,314.8L353.4,315.3L353.3,315.8L353.1,316.3L352.9,316.8L352.7,317.3L352.5,317.8L352.2,318.3L352,318.8L351.8,319.3L351.7,319.8L351.6,320.3L351.6,320.8L351.7,321.3L351.9,321.8L352.1,322.3L352.3,322.8L352.5,323.3L352.8,323.8L353,324.3L353.1,324.8L353.3,325.3L353.4,325.8L353.5,326.3L353.6,326.8ZM353.6,392.3L352.3,392.7L352.3,392.8L352.7,393.3L352.9,393.8L353.1,394.3L353.3,394.8L353.4,395.3L353.5,395.8L353.5,396.3L353.6,396.8ZM353.6,419.3L353.5,419.8L353.4,420.3L353.3,420.8L353.2,421.3L353.1,421.8L352.8,422.3L352.6,422.8L352.3,423.3L352,423.8L351.7,424.3L351.5,424.8L351.3,425.3L351.2,425.8L351.2,426.3L351.3,426.8L351.5,427.3L351.7,427.8L352,428.3L352.3,428.8L352.5,429.3L352.8,429.8L353,430.3L353.2,430.8L353.3,431.3L353.4,431.8L353.5,432.3L353.6,432.8ZM363.7,312.8L363.6,313.3L363.5,313.8L363.4,314.3L363.2,314.8L362.9,315.3L362.6,315.8L362.1,316.3L361.5,316.8L360.8,317.3L360.1,317.8L359.3,318.3L358.5,318.8L357.9,319.3L357.4,319.8L357.1,320.3L357.1,320.8L357.3,321.3L357.7,321.8L358.2,322.3L358.7,322.8L359.1,323.3L359.5,323.8L359.8,324.3L360,324.8L360.1,325.3L360.2,325.8L360.3,326.3L360.4,326.8L360.7,327.3L361,327.8L361.4,328.3L361.9,328.8L362.4,329.3L363,329.8L363.5,330.3L363.7,330.8ZM363.7,392.3L358,392.7L358.2,392.8L359.1,393.3L360.2,393.8L361.1,394.3L361.9,394.8L362.5,395.3L363,395.8L363.3,396.3L363.5,396.8L363.6,397.3L363.7,397.8ZM363.7,401.3L363.6,401.8L363.5,402.3L363.4,402.8L363.2,403.3L363.1,403.8L362.9,404.3L362.8,404.8L362.8,405.3L362.7,405.8L362.8,406.3L363,406.8L363.2,407.3L363.4,407.8L363.7,408.3ZM363.7,417.8L363.6,418.3L363.5,418.8L363.4,419.3L363.2,419.8L363.1,420.3L362.9,420.8L362.8,421.3L362.7,421.8L362.7,422.3L362.8,422.8L362.9,423.3L363.1,423.8L363.4,424.3L363.7,424.8ZM373.8,325.8L373.7,326.3L373.6,326.8L373.4,327.3L373.2,327.8L372.9,328.3L372.5,328.8L372,329.3L371.3,329.8L370.5,330.3L369.7,330.8L368.9,331.3L368.1,331.8L367.4,332.3L367,332.8L366.8,333.3L366.9,333.8L367.2,334.3L367.8,334.8L368.5,335.3L369.4,335.8L370.2,336.3L371,336.8L371.7,337.3L372.3,337.8L372.8,338.3L373.1,338.8L373.3,339.3L373.5,339.8L373.6,340.3L373.7,340.8L373.8,341.3ZM373.8,400.8L373.7,401.3L373.6,401.8L373.5,402.3L373.4,402.8L373.2,403.3L373,403.8L372.8,404.3L372.6,404.8L372.3,405.3L372.1,405.8L371.9,406.3L371.7,406.8L371.7,407.3L371.7,407.8L371.8,408.3L372,408.8L372.2,409.3L372.5,409.8L372.7,410.3L372.9,410.8L373.2,411.3L373.3,411.8L373.5,412.3L373.6,412.8L373.7,413.3L373.8,413.8ZM383.9,326.3L383.7,326.8L383.7,327.3L383.5,327.8L383.3,328.3L383.1,328.8L382.7,329.3L382.3,329.8L381.8,330.3L381.2,330.8L380.6,331.3L380,331.8L379.5,332.3L379.1,332.8L378.9,333.3L378.9,333.8L379.1,334.3L379.4,334.8L379.9,335.3L380.5,335.8L381.1,336.3L381.7,336.8L382.2,337.3L382.7,337.8L383,338.3L383.3,338.8L383.5,339.3L383.6,339.8L383.7,340.3L383.9,340.8ZM383.9,401.8L383.8,402.3L383.7,402.8L383.6,403.3L383.5,403.8L383.3,404.3L383.1,404.8L382.9,405.3L382.6,405.8L382.3,406.3L382.1,406.8L381.9,407.3L381.7,407.8L381.7,408.3L381.7,408.8L381.8,409.3L382,409.8L382.2,410.3L382.5,410.8L382.7,411.3L383,411.8L383.2,412.3L383.4,412.8L383.5,413.3L383.7,413.8L383.7,414.3L383.8,414.8L383.9,415.3ZM394,326.8L393.8,327.3L393.8,327.8L393.6,328.3L393.4,328.8L393.2,329.3L392.8,329.8L392.4,330.3L391.9,330.8L391.3,331.3L390.7,331.8L390.1,332.3L389.6,332.8L389.2,333.3L389,333.8L389,334.3L389.2,334.8L389.5,335.3L390,335.8L390.6,336.3L391.2,336.8L391.8,337.3L392.3,337.8L392.7,338.3L393.1,338.8L393.4,339.3L393.6,339.8L393.7,340.3L393.8,340.8L394,341.3ZM394,402.3L393.9,402.8L393.8,403.3L393.7,403.8L393.6,404.3L393.4,404.8L393.2,405.3L393,405.8L392.7,406.3L392.5,406.8L392.2,407.3L392,407.8L391.8,408.3L391.7,408.8L391.7,409.3L391.7,409.8L391.9,410.3L392.1,410.8L392.4,411.3L392.7,411.8L392.9,412.3L393.2,412.8L393.4,413.3L393.6,413.8L393.7,414.3L393.8,414.8L393.9,415.3L394,415.8ZM404.1,326.3L403.9,326.8L403.8,327.3L403.7,327.8L403.4,328.3L403.1,328.8L402.7,329.3L402.2,329.8L401.5,330.3L400.8,330.8L400.1,331.3L399.4,331.8L398.8,332.3L398.3,332.8L398.1,333.3L398.1,333.8L398.3,334.3L398.7,334.8L399.3,335.3L400,335.8L400.7,336.3L401.4,336.8L402,337.3L402.6,337.8L403,338.3L403.4,338.8L403.6,339.3L403.8,339.8L403.9,340.3L404,340.8L404.1,341.3ZM404.1,403.8L404,404.3L403.9,404.8L403.8,405.3L403.7,405.8L403.6,406.3L403.4,406.8L403.2,407.3L403,407.8L402.7,408.3L402.5,408.8L402.3,409.3L402.1,409.8L402.1,410.3L402.1,410.8L402.1,411.3L402.3,411.8L402.5,412.3L402.7,412.8L402.9,413.3L403.2,413.8L403.4,414.3L403.6,414.8L403.7,415.3L403.8,415.8L403.9,416.3L404,416.8L404.1,417.3ZM414.1,392.3L413.9,392.7L414,392.8L414,393.3L414.1,393.8ZM414.1,418.8L414,419.3L414,419.8L413.9,420.3L413.7,420.8L413.6,421.3L413.4,421.8L413.1,422.3L412.8,422.8L412.5,423.3L412.2,423.8L412,424.3L411.8,424.8L411.7,425.3L411.6,425.8L411.7,426.3L411.9,426.8L412.2,427.3L412.4,427.8L412.7,428.3L413,428.8L413.3,429.3L413.5,429.8L413.7,430.3L413.9,430.8L414,431.3L414,431.8L414.1,432.3ZM424.2,392.3L423.7,392.7L423.7,392.8L423.9,393.3L424,393.8L424.1,394.3L424.2,394.8ZM424.2,418.8L424.1,419.3L424.1,419.8L424,420.3L423.8,420.8L423.7,421.3L423.4,421.8L423.2,422.3L422.9,422.8L422.6,423.3L422.3,423.8L422,424.3L421.9,424.8L421.7,425.3L421.7,425.8L421.8,426.3L422,426.8L422.2,427.3L422.5,427.8L422.8,428.3L423.1,428.8L423.4,429.3L423.6,429.8L423.8,430.3L423.9,430.8L424,431.3L424.1,431.8L424.2,432.3ZM434.3,392.3L433.7,392.7L433.7,392.8L433.9,393.3L434.1,393.8L434.2,394.3L434.2,394.8L434.3,395.3ZM434.3,419.3L434.2,419.8L434.1,420.3L434,420.8L433.9,421.3L433.7,421.8L433.4,422.3L433.2,422.8L432.9,423.3L432.6,423.8L432.3,424.3L432.1,424.8L431.9,425.3L431.8,425.8L431.9,426.3L432,426.8L432.2,427.3L432.4,427.8L432.7,428.3L433,428.8L433.3,429.3L433.6,429.8L433.8,430.3L434,430.8L434.1,431.3L434.2,431.8L434.2,432.3L434.3,432.8ZM444.4,313.8L444.3,314.3L444.3,314.8L444.2,315.3L444.1,315.8L443.9,316.3L443.7,316.8L443.5,317.3L443.3,317.8L443.1,318.3L442.8,318.8L442.6,319.3L442.5,319.8L442.4,320.3L442.4,320.8L442.5,321.3L442.7,321.8L442.9,322.3L443.1,322.8L443.3,323.3L443.6,323.8L443.8,324.3L444,324.8L444.1,325.3L444.2,325.8L444.3,326.3L444.4,326.8ZM444.4,392.3L443.1,392.7L443.2,392.8L443.5,393.3L443.7,393.8L443.9,394.3L444.1,394.8L444.2,395.3L444.3,395.8L444.3,396.3L444.4,396.8ZM444.4,419.3L444.3,419.8L444.2,420.3L444.2,420.8L444,421.3L443.9,421.8L443.7,422.3L443.4,422.8L443.1,423.3L442.8,423.8L442.6,424.3L442.3,424.8L442.1,425.3L442,425.8L442,426.3L442.1,426.8L442.3,427.3L442.5,427.8L442.8,428.3L443.1,428.8L443.4,429.3L443.6,429.8L443.8,430.3L444,430.8L444.1,431.3L444.2,431.8L444.3,432.3L444.4,432.8ZM454.5,312.8L454.4,313.3L454.3,313.8L454.2,314.3L454,314.8L453.8,315.3L453.4,315.8L452.9,316.3L452.3,316.8L451.6,317.3L450.9,317.8L450.1,318.3L449.3,318.8L448.7,319.3L448.2,319.8L448,320.3L447.9,320.8L448.1,321.3L448.5,321.8L449,322.3L449.5,322.8L450,323.3L450.4,323.8L450.6,324.3L450.8,324.8L450.9,325.3L451,325.8L451.1,326.3L451.3,326.8L451.5,327.3L451.8,327.8L452.3,328.3L452.7,328.8L453.2,329.3L453.8,329.8L454.4,330.3L454.5,330.8ZM454.5,392.3L448.8,392.7L449,392.8L450,393.3L451,393.8L451.9,394.3L452.7,394.8L453.3,395.3L453.8,395.8L454.1,396.3L454.3,396.8L454.4,397.3L454.5,397.8ZM454.5,401.3L454.4,401.8L454.3,402.3L454.2,402.8L454,403.3L453.9,403.8L453.8,404.3L453.6,404.8L453.6,405.3L453.6,405.8L453.6,406.3L453.8,406.8L454,407.3L454.2,407.8L454.5,408.3ZM454.5,417.8L454.4,418.3L454.3,418.8L454.2,419.3L454,419.8L453.9,420.3L453.8,420.8L453.6,421.3L453.6,421.8L453.5,422.3L453.6,422.8L453.7,423.3L453.9,423.8L454.2,424.3L454.5,424.8ZM464.6,325.8L464.5,326.3L464.4,326.8L464.2,327.3L464,327.8L463.7,328.3L463.3,328.8L462.8,329.3L462.1,329.8L461.3,330.3L460.5,330.8L459.7,331.3L458.9,331.8L458.2,332.3L457.8,332.8L457.6,333.3L457.7,333.8L458,334.3L458.6,334.8L459.3,335.3L460.2,335.8L461,336.3L461.8,336.8L462.5,337.3L463.1,337.8L463.6,338.3L463.9,338.8L464.2,339.3L464.3,339.8L464.4,340.3L464.5,340.8L464.6,341.3ZM464.6,400.8L464.5,401.3L464.4,401.8L464.3,402.3L464.2,402.8L464,403.3L463.8,403.8L463.6,404.3L463.4,404.8L463.1,405.3L462.9,405.8L462.7,406.3L462.5,406.8L462.5,407.3L462.5,407.8L462.6,408.3L462.8,408.8L463,409.3L463.3,409.8L463.5,410.3L463.8,410.8L464,411.3L464.1,411.8L464.3,412.3L464.4,412.8L464.5,413.3L464.6,413.8ZM474.7,326.3L474.6,326.8L474.5,327.3L474.3,327.8L474.2,328.3L473.9,328.8L473.5,329.3L473.1,329.8L472.6,330.3L472,330.8L471.4,331.3L470.8,331.8L470.3,332.3L469.9,332.8L469.7,333.3L469.7,333.8L469.9,334.3L470.2,334.8L470.7,335.3L471.3,335.8L471.9,336.3L472.5,336.8L473,337.3L473.5,337.8L473.8,338.3L474.1,338.8L474.3,339.3L474.4,339.8L474.5,340.3L474.7,340.8ZM474.7,401.8L474.6,402.3L474.5,402.8L474.4,403.3L474.3,403.8L474.1,404.3L473.9,404.8L473.7,405.3L473.4,405.8L473.1,406.3L472.9,406.8L472.7,407.3L472.5,407.8L472.5,408.3L472.5,408.8L472.6,409.3L472.8,409.8L473,410.3L473.3,410.8L473.6,411.3L473.8,411.8L474,412.3L474.2,412.8L474.4,413.3L474.5,413.8L474.5,414.3L474.6,414.8L474.7,415.3ZM484.8,326.8L484.6,327.3L484.6,327.8L484.4,328.3L484.2,328.8L484,329.3L483.6,329.8L483.2,330.3L482.7,330.8L482.1,331.3L481.5,331.8L480.9,332.3L480.4,332.8L480,333.3L479.8,333.8L479.8,334.3L480,334.8L480.3,335.3L480.8,335.8L481.4,336.3L482,336.8L482.6,337.3L483.1,337.8L483.6,338.3L483.9,338.8L484.2,339.3L484.4,339.8L484.5,340.3L484.6,340.8L484.8,341.3ZM484.8,402.3L484.7,402.8L484.6,403.3L484.5,403.8L484.4,404.3L484.2,404.8L484,405.3L483.8,405.8L483.5,406.3L483.3,406.8L483,407.3L482.8,407.8L482.6,408.3L482.5,408.8L482.5,409.3L482.6,409.8L482.7,410.3L482.9,410.8L483.2,411.3L483.5,411.8L483.8,412.3L484,412.8L484.2,413.3L484.4,413.8L484.5,414.3L484.6,414.8L484.7,415.3L484.8,415.8ZM494.9,326.3L494.8,326.8L494.6,327.3L494.5,327.8L494.2,328.3L493.9,328.8L493.5,329.3L493,329.8L492.3,330.3L491.7,330.8L490.9,331.3L490.2,331.8L489.6,332.3L489.2,332.8L488.9,333.3L488.9,333.8L489.1,334.3L489.5,334.8L490.1,335.3L490.8,335.8L491.5,336.3L492.2,336.8L492.9,337.3L493.4,337.8L493.8,338.3L494.2,338.8L494.4,339.3L494.6,339.8L494.7,340.3L494.8,340.8L494.9,341.3ZM494.9,403.8L494.8,404.3L494.7,404.8L494.6,405.3L494.5,405.8L494.4,406.3L494.2,406.8L494,407.3L493.8,407.8L493.6,408.3L493.3,408.8L493.1,409.3L493,409.8L492.9,410.3L492.9,410.8L492.9,411.3L493.1,411.8L493.3,412.3L493.5,412.8L493.7,413.3L494,413.8L494.2,414.3L494.4,414.8L494.5,415.3L494.6,415.8L494.7,416.3L494.8,416.8L494.9,417.3ZM505,392.3L504.7,392.7L504.8,392.8L504.8,393.3L505,393.8ZM505,418.8L504.8,419.3L504.8,419.8L504.7,420.3L504.6,420.8L504.4,421.3L504.2,421.8L503.9,422.3L503.6,422.8L503.3,423.3L503,423.8L502.8,424.3L502.6,424.8L502.5,425.3L502.5,425.8L502.5,426.3L502.7,426.8L503,427.3L503.3,427.8L503.6,428.3L503.8,428.8L504.1,429.3L504.3,429.8L504.5,430.3L504.7,430.8L504.8,431.3L504.8,431.8L505,432.3ZM515,392.3L514.5,392.7L514.6,392.8L514.7,393.3L514.8,393.8L514.9,394.3L515,394.8ZM515,418.8L514.9,419.3L514.9,419.8L514.8,420.3L514.6,420.8L514.5,421.3L514.3,421.8L514,422.3L513.7,422.8L513.4,423.3L513.1,423.8L512.9,424.3L512.7,424.8L512.6,425.3L512.5,425.8L512.6,426.3L512.8,426.8L513.1,427.3L513.3,427.8L513.6,428.3L513.9,428.8L514.2,429.3L514.4,429.8L514.6,430.3L514.8,430.8L514.9,431.3L514.9,431.8L515,432.3ZM525.1,392.3L524.5,392.7L524.5,392.8L524.7,393.3L524.9,393.8L525,394.3L525,394.8L525.1,395.3ZM525.1,419.3L525,419.8L524.9,420.3L524.8,420.8L524.7,421.3L524.5,421.8L524.2,422.3L524,422.8L523.7,423.3L523.4,423.8L523.1,424.3L522.9,424.8L522.7,425.3L522.6,425.8L522.7,426.3L522.8,426.8L523,427.3L523.3,427.8L523.6,428.3L523.9,428.8L524.1,429.3L524.4,429.8L524.6,430.3L524.8,430.8L524.9,431.3L525,431.8L525,432.3L525.1,432.8ZM535.2,313.8L535.1,314.3L535.1,314.8L535,315.3L534.9,315.8L534.7,316.3L534.6,316.8L534.3,317.3L534.1,317.8L533.9,318.3L533.6,318.8L533.4,319.3L533.3,319.8L533.2,320.3L533.2,320.8L533.3,321.3L533.5,321.8L533.7,322.3L533.9,322.8L534.2,323.3L534.4,323.8L534.6,324.3L534.8,324.8L534.9,325.3L535,325.8L535.1,326.3L535.2,326.8ZM535.2,392.3L533.9,392.7L534,392.8L534.3,393.3L534.5,393.8L534.7,394.3L534.9,394.8L535,395.3L535.1,395.8L535.1,396.3L535.2,396.8ZM535.2,419.3L535.1,419.8L535.1,420.3L535,420.8L534.8,421.3L534.7,421.8L534.5,422.3L534.2,422.8L533.9,423.3L533.6,423.8L533.4,424.3L533.1,424.8L532.9,425.3L532.8,425.8L532.8,426.3L532.9,426.8L533.1,427.3L533.3,427.8L533.6,428.3L533.9,428.8L534.2,429.3L534.4,429.8L534.6,430.3L534.8,430.8L534.9,431.3L535,431.8L535.1,432.3L535.2,432.8Z" fill="#a0a0ff" fill-opacity="0.92"/>
<path d="M353.6,357.3L353.7,357.8L353.8,358.3L353.9,358.8L354.1,359.3L354.3,359.8L354.6,360.3L355,360.8L355.4,361.3L355.8,361.8L356.3,362.3L356.7,362.8L357.1,363.3L357.4,363.8L357.5,364.3L357.5,364.8L357.4,365.3L357.1,365.8L356.6,366.3L356,366.8L355.3,367.3L354.5,367.8L353.7,368.3L353.6,368.8ZM363.7,365.3L364.1,365.8L364.5,366.3L364.7,366.8L364.8,367.3L364.7,367.8L364.5,368.3L364.3,368.8L364,369.3L363.7,369.8ZM363.7,374.3L363.9,374.8L364.7,375.3L365.6,375.8L366.5,376.3L367.3,376.8L367.9,377.3L368.2,377.8L368.3,378.3L368,378.8L367.6,379.3L367,379.8L366.4,380.3L365.9,380.8L365.5,381.3L365.3,381.8L365.4,382.3L365.8,382.8L366.5,383.3L367.3,383.8L368.3,384.3L369.2,384.8L370,385.3L370.5,385.8L370.5,386.3L370,386.8L368.9,387.3L367.5,387.8L365.7,388.3L363.7,388.8ZM373.8,367.8L374,368.3L374.8,368.8L375.7,369.3L376.6,369.8L377.6,370.3L378.6,370.8L379.5,371.3L380.3,371.8L381,372.3L381.4,372.8L381.6,373.3L381.4,373.8L381,374.3L380.4,374.8L379.6,375.3L378.7,375.8L377.8,376.3L376.9,376.8L376.2,377.3L375.5,377.8L375,378.3L374.6,378.8L374.3,379.3L374.2,379.8L374.1,380.3L374,380.8L374.1,381.3L374.1,381.8L374.3,382.3L374.5,382.8L374.8,383.3L375.1,383.8L375.5,384.3L375.9,384.8L376.3,385.3L376.8,385.8L377.1,386.3L377.4,386.8L377.6,387.3L377.6,387.8L377.4,388.3L377.2,388.8L376.8,389.3L376.4,389.8L376,390.3L375.6,390.8L375.2,391.3L374.8,391.8L374.5,392.3L374.3,392.7L373.8,392.7ZM383.9,368.3L384.1,368.8L385,369.3L386,369.8L387,370.3L388.1,370.8L389.1,371.3L390.1,371.8L390.9,372.3L391.5,372.8L391.8,373.3L391.8,373.8L391.6,374.3L391.1,374.8L390.3,375.3L389.5,375.8L388.5,376.3L387.6,376.8L386.8,377.3L386,377.8L385.4,378.3L385,378.8L384.6,379.3L384.4,379.8L384.2,380.3L384.1,380.8L384.1,381.3L384.1,381.8L384.2,382.3L384.3,382.8L384.5,383.3L384.8,383.8L385.1,384.3L385.5,384.8L385.9,385.3L386.2,385.8L386.6,386.3L386.9,386.8L387.1,387.3L387.3,387.8L387.2,388.3L387.1,388.8L386.9,389.3L386.5,389.8L386.2,390.3L385.8,390.8L385.4,391.3L385,391.8L384.7,392.3L384.5,392.7L383.9,392.7ZM394,368.8L394.8,369.3L396,369.8L397.2,370.3L398.4,370.8L399.4,371.3L400.4,371.8L401.1,372.3L401.5,372.8L401.7,373.3L401.6,373.8L401.2,374.3L400.6,374.8L399.8,375.3L398.9,375.8L398,376.3L397.1,376.8L396.3,377.3L395.7,377.8L395.2,378.3L394.8,378.8L394.5,379.3L394.3,379.8L394.2,380.3L394.2,380.8L394.2,381.3L394.3,381.8L394.4,382.3L394.6,382.8L394.9,383.3L395.2,383.8L395.5,384.3L395.9,384.8L396.3,385.3L396.7,385.8L397,386.3L397.3,386.8L397.4,387.3L397.4,387.8L397.3,388.3L397.1,388.8L396.8,389.3L396.4,389.8L396,390.3L395.6,390.8L395.2,391.3L394.9,391.8L394.6,392.3L394.5,392.7L394,392.7ZM404.1,368.3L405,368.8L406.2,369.3L407.3,369.8L408.4,370.3L409.3,370.8L410,371.3L410.5,371.8L410.6,372.3L410.5,372.8L410.2,373.3L409.6,373.8L408.8,374.3L407.9,374.8L406.9,375.3L406,375.8L405.2,376.3L404.5,376.8L404.1,377.3ZM404.1,383.3L404.1,383.8L404.3,384.3L404.5,384.8L404.8,385.3L405.1,385.8L405.5,386.3L406,386.8L406.5,387.3L407.1,387.8L407.7,388.3L408.2,388.8L408.6,389.3L408.9,389.8L409,390.3L409,390.8L408.8,391.3L408.4,391.8L407.9,392.3L407.4,392.7L404.1,392.7ZM414.1,356.8L414.2,357.3L414.3,357.8L414.4,358.3L414.6,358.8L414.8,359.3L415.1,359.8L415.5,360.3L416,360.8L416.7,361.3L417.4,361.8L418.1,362.3L418.9,362.8L419.6,363.3L420.2,363.8L420.6,364.3L420.7,364.8L420.6,365.3L420.3,365.8L419.8,366.3L419.1,366.8L418.3,367.3L417.4,367.8L416.5,368.3L415.6,368.8L414.7,369.3L414.1,369.8ZM424.2,356.8L424.3,357.3L424.4,357.8L424.5,358.3L424.6,358.8L424.8,359.3L425.2,359.8L425.5,360.3L426,360.8L426.6,361.3L427.3,361.8L428.1,362.3L428.8,362.8L429.4,363.3L430,363.8L430.4,364.3L430.5,364.8L430.4,365.3L430.1,365.8L429.6,366.3L428.9,366.8L428.1,367.3L427.2,367.8L426.2,368.3L425.2,368.8L424.2,369.3ZM434.3,356.8L434.4,357.3L434.5,357.8L434.7,358.3L434.8,358.8L435.1,359.3L435.5,359.8L435.9,360.3L436.4,360.8L437,361.3L437.7,361.8L438.4,362.3L439,362.8L439.5,363.3L439.9,363.8L440.1,364.3L440.1,364.8L439.8,365.3L439.4,365.8L438.8,366.3L438.1,366.8L437.3,367.3L436.4,367.8L435.6,368.3L434.7,368.8L434.3,369.3ZM444.4,357.3L444.5,357.8L444.6,358.3L444.7,358.8L444.9,359.3L445.1,359.8L445.4,360.3L445.8,360.8L446.2,361.3L446.6,361.8L447.1,362.3L447.6,362.8L447.9,363.3L448.2,363.8L448.4,364.3L448.4,364.8L448.2,365.3L447.9,365.8L447.4,366.3L446.8,366.8L446.1,367.3L445.4,367.8L444.5,368.3L444.4,368.8ZM454.5,365.3L454.9,365.8L455.3,366.3L455.5,366.8L455.6,367.3L455.5,367.8L455.4,368.3L455.1,368.8L454.8,369.3L454.5,369.8ZM454.5,374.3L454.7,374.8L455.5,375.3L456.4,375.8L457.3,376.3L458.1,376.8L458.7,377.3L459,377.8L459.1,378.3L458.8,378.8L458.4,379.3L457.8,379.8L457.2,380.3L456.7,380.8L456.3,381.3L456.1,381.8L456.3,382.3L456.6,382.8L457.3,383.3L458.1,383.8L459.1,384.3L460,384.8L460.8,385.3L461.3,385.8L461.3,386.3L460.8,386.8L459.8,387.3L458.3,387.8L456.5,388.3L454.5,388.8ZM464.6,367.8L464.8,368.3L465.6,368.8L466.5,369.3L467.4,369.8L468.4,370.3L469.4,370.8L470.3,371.3L471.2,371.8L471.8,372.3L472.2,372.8L472.4,373.3L472.2,373.8L471.8,374.3L471.2,374.8L470.4,375.3L469.5,375.8L468.6,376.3L467.7,376.8L467,377.3L466.3,377.8L465.8,378.3L465.4,378.8L465.2,379.3L465,379.8L464.9,380.3L464.8,380.8L464.9,381.3L464.9,381.8L465.1,382.3L465.3,382.8L465.6,383.3L465.9,383.8L466.3,384.3L466.7,384.8L467.2,385.3L467.6,385.8L467.9,386.3L468.2,386.8L468.4,387.3L468.4,387.8L468.3,388.3L468,388.8L467.7,389.3L467.2,389.8L466.8,390.3L466.4,390.8L466,391.3L465.6,391.8L465.3,392.3L465.1,392.7L464.6,392.7ZM474.7,368.3L474.9,368.8L475.8,369.3L476.8,369.8L477.9,370.3L478.9,370.8L479.9,371.3L480.9,371.8L481.7,372.3L482.3,372.8L482.6,373.3L482.6,373.8L482.4,374.3L481.9,374.8L481.1,375.3L480.3,375.8L479.3,376.3L478.4,376.8L477.6,377.3L476.9,377.8L476.2,378.3L475.8,378.8L475.4,379.3L475.2,379.8L475,380.3L474.9,380.8L474.9,381.3L474.9,381.8L475,382.3L475.2,382.8L475.4,383.3L475.6,383.8L475.9,384.3L476.3,384.8L476.7,385.3L477.1,385.8L477.4,386.3L477.7,386.8L478,387.3L478.1,387.8L478.1,388.3L477.9,388.8L477.7,389.3L477.4,389.8L477,390.3L476.6,390.8L476.2,391.3L475.8,391.8L475.5,392.3L475.3,392.7L474.7,392.7ZM484.8,368.8L485.6,369.3L486.8,369.8L488,370.3L489.2,370.8L490.2,371.3L491.2,371.8L491.9,372.3L492.4,372.8L492.5,373.3L492.4,373.8L492,374.3L491.4,374.8L490.6,375.3L489.7,375.8L488.8,376.3L487.9,376.8L487.2,377.3L486.5,377.8L486,378.3L485.6,378.8L485.3,379.3L485.2,379.8L485,380.3L485,380.8L485,381.3L485.1,381.8L485.2,382.3L485.4,382.8L485.7,383.3L486,383.8L486.3,384.3L486.7,384.8L487.1,385.3L487.5,385.8L487.9,386.3L488.1,386.8L488.2,387.3L488.3,387.8L488.1,388.3L487.9,388.8L487.6,389.3L487.2,389.8L486.8,390.3L486.4,390.8L486,391.3L485.7,391.8L485.5,392.3L485.3,392.7L484.8,392.7ZM494.9,368.3L495.8,368.8L497,369.3L498.1,369.8L499.2,370.3L500.1,370.8L500.8,371.3L501.3,371.8L501.5,372.3L501.4,372.8L501,373.3L500.4,373.8L499.6,374.3L498.7,374.8L497.8,375.3L496.8,375.8L496,376.3L495.3,376.8L494.9,377.3ZM494.9,383.3L495,383.8L495.1,384.3L495.3,384.8L495.6,385.3L495.9,385.8L496.3,386.3L496.8,386.8L497.3,387.3L497.9,387.8L498.5,388.3L499,388.8L499.4,389.3L499.7,389.8L499.9,390.3L499.8,390.8L499.6,391.3L499.2,391.8L498.7,392.3L498.2,392.7L494.9,392.7ZM505,356.8L505,357.3L505.1,357.8L505.2,358.3L505.4,358.8L505.6,359.3L505.9,359.8L506.3,360.3L506.9,360.8L507.5,361.3L508.2,361.8L509,362.3L509.7,362.8L510.4,363.3L511,363.8L511.4,364.3L511.5,364.8L511.5,365.3L511.1,365.8L510.6,366.3L509.9,366.8L509.1,367.3L508.2,367.8L507.3,368.3L506.4,368.8L505.5,369.3L505,369.8ZM515,356.8L515.1,357.3L515.2,357.8L515.3,358.3L515.4,358.8L515.7,359.3L516,359.8L516.4,360.3L516.9,360.8L517.5,361.3L518.1,361.8L518.9,362.3L519.6,362.8L520.3,363.3L520.8,363.8L521.2,364.3L521.3,364.8L521.2,365.3L520.9,365.8L520.4,366.3L519.7,366.8L518.9,367.3L518,367.8L517,368.3L516,368.8L515,369.3ZM525.1,356.8L525.3,357.3L525.3,357.8L525.5,358.3L525.7,358.8L525.9,359.3L526.3,359.8L526.7,360.3L527.2,360.8L527.8,361.3L528.5,361.8L529.2,362.3L529.8,362.8L530.3,363.3L530.7,363.8L530.9,364.3L530.9,364.8L530.6,365.3L530.2,365.8L529.6,366.3L528.9,366.8L528.1,367.3L527.2,367.8L526.4,368.3L525.5,368.8L525.1,369.3ZM535.2,357.3L535.4,357.8L535.4,358.3L535.6,358.8L535.7,359.3L535.9,359.8L536.2,360.3L536.6,360.8L537,361.3L537.5,361.8L537.9,362.3L538.4,362.8L538.7,363.3L539,363.8L539.2,364.3L539.2,364.8L539,365.3L538.7,365.8L538.2,366.3L537.6,366.8L536.9,367.3L536.2,367.8L535.3,368.3L535.2,368.8Z" fill="#f01e1e" fill-opacity="1"/>
<path d="M353.6,368.3L352.8,368.8L351.8,369.3L350.8,369.8L349.8,370.3L348.8,370.8L347.9,371.3L347.2,371.8L346.6,372.3L346.3,372.8L346.2,373.3L346.5,373.8L347,374.3L347.6,374.8L348.4,375.3L349.3,375.8L350.1,376.3L350.9,376.8L351.6,377.3L352.2,377.8L352.6,378.3L352.9,378.8L353.2,379.3L353.3,379.8L353.4,380.3L353.5,380.8L353.6,381.3ZM353.6,381.8L353.5,382.3L353.5,382.8L353.4,383.3L353.3,383.8L353.1,384.3L352.9,384.8L352.7,385.3L352.3,385.8L352,386.3L351.6,386.8L351.3,387.3L351,387.8L350.7,388.3L350.6,388.8L350.5,389.3L350.6,389.8L350.7,390.3L351,390.8L351.3,391.3L351.6,391.8L352,392.3L352.3,392.7L353.6,392.7ZM363.7,356.3L363.6,356.8L363.4,357.3L363.3,357.8L363,358.3L362.7,358.8L362.2,359.3L361.7,359.8L361.2,360.3L360.7,360.8L360.3,361.3L360.1,361.8L360.1,362.3L360.3,362.8L360.8,363.3L361.4,363.8L362.1,364.3L362.9,364.8L363.5,365.3L363.7,365.8ZM363.7,369.8L363.3,370.3L362.9,370.8L362.6,371.3L362.3,371.8L362.2,372.3L362.1,372.8L362.3,373.3L362.6,373.8L363.2,374.3L363.7,374.8ZM363.7,388.8L361.7,389.3L359.9,389.8L358.4,390.3L357.4,390.8L356.9,391.3L356.9,391.8L357.4,392.3L358,392.7L363.7,392.7ZM373.8,355.8L373.7,356.3L373.6,356.8L373.5,357.3L373.3,357.8L373.1,358.3L372.8,358.8L372.4,359.3L372,359.8L371.4,360.3L370.8,360.8L370.2,361.3L369.6,361.8L369.1,362.3L368.7,362.8L368.5,363.3L368.5,363.8L368.7,364.3L369.1,364.8L369.6,365.3L370.2,365.8L370.9,366.3L371.6,366.8L372.4,367.3L373.2,367.8L373.8,368.3ZM383.9,356.8L383.7,357.3L383.7,357.8L383.5,358.3L383.4,358.8L383.1,359.3L382.8,359.8L382.4,360.3L381.9,360.8L381.3,361.3L380.7,361.8L380.1,362.3L379.6,362.8L379.1,363.3L378.8,363.8L378.7,364.3L378.8,364.8L379,365.3L379.5,365.8L380,366.3L380.7,366.8L381.5,367.3L382.3,367.8L383.2,368.3L383.9,368.8ZM394,357.3L393.9,357.8L393.8,358.3L393.7,358.8L393.5,359.3L393.3,359.8L392.9,360.3L392.5,360.8L392,361.3L391.5,361.8L390.8,362.3L390.2,362.8L389.6,363.3L389,363.8L388.6,364.3L388.4,364.8L388.4,365.3L388.7,365.8L389.1,366.3L389.8,366.8L390.6,367.3L391.5,367.8L392.6,368.3L393.7,368.8L394,369.3ZM404.1,356.8L404,357.3L403.9,357.8L403.8,358.3L403.7,358.8L403.5,359.3L403.2,359.8L402.8,360.3L402.4,360.8L401.9,361.3L401.3,361.8L400.7,362.3L400,362.8L399.5,363.3L399.1,363.8L398.8,364.3L398.7,364.8L398.9,365.3L399.3,365.8L399.9,366.3L400.7,366.8L401.6,367.3L402.7,367.8L403.8,368.3L404.1,368.8ZM404.1,376.8L403.9,377.3L403.5,377.8L403.3,378.3L403.1,378.8L403.1,379.3L403.1,379.8L403.2,380.3L403.4,380.8L403.5,381.3L403.6,381.8L403.8,382.3L403.9,382.8L404.1,383.3ZM414.1,369.3L413.7,369.8L412.8,370.3L411.8,370.8L410.8,371.3L409.8,371.8L408.8,372.3L407.9,372.8L407.2,373.3L406.6,373.8L406.4,374.3L406.4,374.8L406.7,375.3L407.3,375.8L408,376.3L408.9,376.8L409.8,377.3L410.6,377.8L411.4,378.3L412.1,378.8L412.6,379.3L413,379.8L413.2,380.3L413.3,380.8L413.2,381.3L413,381.8L412.7,382.3L412.4,382.8L411.9,383.3L411.4,383.8L410.9,384.3L410.5,384.8L410.1,385.3L409.9,385.8L409.8,386.3L409.9,386.8L410.1,387.3L410.5,387.8L410.9,388.3L411.4,388.8L411.9,389.3L412.4,389.8L412.8,390.3L413.2,390.8L413.5,391.3L413.7,391.8L413.8,392.3L413.9,392.7L414.1,392.7ZM424.2,369.3L423.2,369.8L422.2,370.3L421.1,370.8L420,371.3L419,371.8L418.1,372.3L417.4,372.8L416.8,373.3L416.6,373.8L416.6,374.3L416.9,374.8L417.4,375.3L418.2,375.8L419,376.3L419.9,376.8L420.8,377.3L421.6,377.8L422.3,378.3L422.8,378.8L423.2,379.3L423.6,379.8L423.8,380.3L423.9,380.8L423.9,381.3L423.8,381.8L423.7,382.3L423.6,382.8L423.3,383.3L423,383.8L422.6,384.3L422.2,384.8L421.8,385.3L421.4,385.8L421.1,386.3L420.8,386.8L420.7,387.3L420.6,387.8L420.8,388.3L421,388.8L421.3,389.3L421.7,389.8L422.1,390.3L422.5,390.8L422.9,391.3L423.3,391.8L423.5,392.3L423.7,392.7L424.2,392.7ZM434.3,368.8L433.8,369.3L432.9,369.8L432,370.3L431,370.8L430.1,371.3L429.2,371.8L428.5,372.3L427.9,372.8L427.5,373.3L427.3,373.8L427.5,374.3L427.8,374.8L428.4,375.3L429.1,375.8L429.9,376.3L430.7,376.8L431.5,377.3L432.2,377.8L432.8,378.3L433.2,378.8L433.6,379.3L433.8,379.8L434,380.3L434.1,380.8L434.1,381.3L434.1,381.8L434,382.3L433.9,382.8L433.7,383.3L433.4,383.8L433.2,384.3L432.8,384.8L432.5,385.3L432.1,385.8L431.7,386.3L431.4,386.8L431.2,387.3L431.1,387.8L431.1,388.3L431.3,388.8L431.5,389.3L431.8,389.8L432.2,390.3L432.5,390.8L432.9,391.3L433.2,391.8L433.5,392.3L433.7,392.7L434.3,392.7ZM444.4,368.3L443.6,368.8L442.6,369.3L441.6,369.8L440.6,370.3L439.6,370.8L438.7,371.3L438,371.8L437.4,372.3L437.1,372.8L437,373.3L437.3,373.8L437.8,374.3L438.4,374.8L439.2,375.3L440.1,375.8L440.9,376.3L441.7,376.8L442.4,377.3L443,377.8L443.4,378.3L443.7,378.8L444,379.3L444.1,379.8L444.2,380.3L444.3,380.8L444.4,381.3ZM444.4,381.8L444.3,382.3L444.3,382.8L444.2,383.3L444.1,383.8L443.9,384.3L443.7,384.8L443.5,385.3L443.2,385.8L442.8,386.3L442.5,386.8L442.1,387.3L441.8,387.8L441.5,388.3L441.4,388.8L441.3,389.3L441.4,389.8L441.5,390.3L441.8,390.8L442.1,391.3L442.5,391.8L442.8,392.3L443.1,392.7L444.4,392.7ZM454.5,356.3L454.4,356.8L454.3,357.3L454.1,357.8L453.8,358.3L453.5,358.8L453,359.3L452.5,359.8L452,360.3L451.5,360.8L451.1,361.3L450.9,361.8L450.9,362.3L451.1,362.8L451.6,363.3L452.2,363.8L452.9,364.3L453.7,364.8L454.3,365.3L454.5,365.8ZM454.5,369.8L454.1,370.3L453.7,370.8L453.4,371.3L453.1,371.8L453,372.3L453,372.8L453.1,373.3L453.4,373.8L454,374.3L454.5,374.8ZM454.5,388.8L452.5,389.3L450.7,389.8L449.2,390.3L448.2,390.8L447.7,391.3L447.7,391.8L448.2,392.3L448.8,392.7L454.5,392.7ZM464.6,355.8L464.5,356.3L464.4,356.8L464.3,357.3L464.1,357.8L463.9,358.3L463.6,358.8L463.2,359.3L462.8,359.8L462.2,360.3L461.6,360.8L461,361.3L460.4,361.8L459.9,362.3L459.5,362.8L459.3,363.3L459.3,363.8L459.5,364.3L459.9,364.8L460.4,365.3L461,365.8L461.7,366.3L462.4,366.8L463.2,367.3L464,367.8L464.6,368.3ZM474.7,356.8L474.6,357.3L474.5,357.8L474.3,358.3L474.2,358.8L473.9,359.3L473.6,359.8L473.2,360.3L472.7,360.8L472.1,361.3L471.5,361.8L470.9,362.3L470.4,362.8L469.9,363.3L469.6,363.8L469.5,364.3L469.6,364.8L469.8,365.3L470.3,365.8L470.9,366.3L471.5,366.8L472.3,367.3L473.1,367.8L474,368.3L474.7,368.8ZM484.8,357.3L484.7,357.8L484.6,358.3L484.5,358.8L484.3,359.3L484.1,359.8L483.8,360.3L483.3,360.8L482.8,361.3L482.3,361.8L481.6,362.3L481,362.8L480.4,363.3L479.8,363.8L479.4,364.3L479.2,364.8L479.3,365.3L479.5,365.8L479.9,366.3L480.6,366.8L481.4,367.3L482.3,367.8L483.4,368.3L484.5,368.8L484.8,369.3ZM494.9,356.8L494.8,357.3L494.7,357.8L494.6,358.3L494.5,358.8L494.3,359.3L494,359.8L493.7,360.3L493.2,360.8L492.7,361.3L492.1,361.8L491.5,362.3L490.9,362.8L490.3,363.3L489.9,363.8L489.6,364.3L489.6,364.8L489.7,365.3L490.1,365.8L490.7,366.3L491.5,366.8L492.5,367.3L493.5,367.8L494.6,368.3L494.9,368.8ZM494.9,376.8L494.8,377.3L494.4,377.8L494.1,378.3L493.9,378.8L493.9,379.3L494,379.8L494.1,380.3L494.2,380.8L494.3,381.3L494.4,381.8L494.6,382.3L494.7,382.8L494.9,383.3ZM505,369.3L504.5,369.8L503.6,370.3L502.6,370.8L501.6,371.3L500.6,371.8L499.6,372.3L498.7,372.8L498,373.3L497.4,373.8L497.2,374.3L497.2,374.8L497.5,375.3L498.1,375.8L498.8,376.3L499.7,376.8L500.6,377.3L501.4,377.8L502.2,378.3L502.9,378.8L503.4,379.3L503.8,379.8L504,380.3L504.1,380.8L504,381.3L503.8,381.8L503.5,382.3L503.2,382.8L502.7,383.3L502.2,383.8L501.7,384.3L501.3,384.8L501,385.3L500.7,385.8L500.6,386.3L500.7,386.8L501,387.3L501.3,387.8L501.8,388.3L502.2,388.8L502.7,389.3L503.2,389.8L503.6,390.3L504,390.8L504.3,391.3L504.5,391.8L504.7,392.3L504.7,392.7L505,392.7ZM515,369.3L514,369.8L513,370.3L511.9,370.8L510.9,371.3L509.8,371.8L508.9,372.3L508.2,372.8L507.6,373.3L507.4,373.8L507.4,374.3L507.7,374.8L508.2,375.3L509,375.8L509.8,376.3L510.7,376.8L511.6,377.3L512.4,377.8L513.1,378.3L513.6,378.8L514.1,379.3L514.4,379.8L514.6,380.3L514.7,380.8L514.7,381.3L514.7,381.8L514.5,382.3L514.4,382.8L514.1,383.3L513.8,383.8L513.4,384.3L513,384.8L512.6,385.3L512.2,385.8L511.9,386.3L511.6,386.8L511.5,387.3L511.5,387.8L511.6,388.3L511.8,388.8L512.1,389.3L512.5,389.8L512.9,390.3L513.4,390.8L513.7,391.3L514.1,391.8L514.3,392.3L514.5,392.7L515,392.7ZM525.1,368.8L524.6,369.3L523.7,369.8L522.8,370.3L521.8,370.8L520.9,371.3L520,371.8L519.3,372.3L518.7,372.8L518.3,373.3L518.1,373.8L518.3,374.3L518.6,374.8L519.2,375.3L519.9,375.8L520.7,376.3L521.5,376.8L522.3,377.3L523,377.8L523.6,378.3L524,378.8L524.4,379.3L524.6,379.8L524.8,380.3L524.9,380.8L524.9,381.3L524.9,381.8L524.8,382.3L524.7,382.8L524.5,383.3L524.3,383.8L524,384.3L523.6,384.8L523.3,385.3L522.9,385.8L522.5,386.3L522.3,386.8L522,387.3L521.9,387.8L522,388.3L522.1,388.8L522.3,389.3L522.6,389.8L523,390.3L523.3,390.8L523.7,391.3L524,391.8L524.3,392.3L524.5,392.7L525.1,392.7ZM535.2,368.3L534.4,368.8L533.5,369.3L532.5,369.8L531.4,370.3L530.4,370.8L529.5,371.3L528.8,371.8L528.2,372.3L527.9,372.8L527.9,373.3L528.1,373.8L528.6,374.3L529.2,374.8L530,375.3L530.9,375.8L531.8,376.3L532.5,376.8L533.2,377.3L533.8,377.8L534.2,378.3L534.5,378.8L534.8,379.3L534.9,379.8L535.1,380.3L535.1,380.8L535.2,381.3ZM535.2,381.8L535.1,382.3L535.1,382.8L535,383.3L534.9,383.8L534.7,384.3L534.5,384.8L534.3,385.3L534,385.8L533.6,386.3L533.3,386.8L532.9,387.3L532.6,387.8L532.3,388.3L532.2,388.8L532.1,389.3L532.2,389.8L532.3,390.3L532.6,390.8L532.9,391.3L533.3,391.8L533.6,392.3L533.9,392.7L535.2,392.7Z" fill="#1e1ee8" fill-opacity="1"/>
<path d="M353.6,291.3V440.5M363.7,291.3V440.5M373.8,291.3V440.5M383.9,291.3V440.5M394,291.3V440.5M404.1,291.3V440.5M414.1,291.3V440.5M424.2,291.3V440.5M434.3,291.3V440.5M444.4,291.3V440.5M454.5,291.3V440.5M464.6,291.3V440.5M474.7,291.3V440.5M484.8,291.3V440.5M494.9,291.3V440.5M505,291.3V440.5M515,291.3V440.5M525.1,291.3V440.5M535.2,291.3V440.5" stroke="#a0a0a0" stroke-width="1" fill="none"/>
<path d="M353.6,327.3L353.7,327.8L353.8,328.3L354,328.8L354.3,329.3L354.6,329.8L355.1,330.3L355.7,330.8L356.4,331.3L357.3,331.8L358.1,332.3L359,332.8L359.9,333.3L360.5,333.8L361,334.3L361.1,334.8L361,335.3L360.5,335.8L359.9,336.3L359,336.8L358.1,337.3L357.3,337.8L356.4,338.3L355.7,338.8L355.1,339.3L354.6,339.8L354.3,340.3L354,340.8L353.9,341.3L353.7,341.8L353.7,342.3L353.6,342.8M353.6,402.3L353.7,402.8L353.8,403.3L353.9,403.8L354,404.3L354.2,404.8L354.4,405.3L354.6,405.8L354.8,406.3L355,406.8L355.2,407.3L355.4,407.8L355.5,408.3L355.5,408.8L355.4,409.3L355.3,409.8L355.1,410.3L354.9,410.8L354.7,411.3L354.5,411.8L354.3,412.3L354.1,412.8L353.9,413.3L353.8,413.8L353.8,414.3L353.7,414.8L353.6,415.3M363.7,330.3L364.1,330.8L364.8,331.3L365.5,331.8L366.3,332.3L367.2,332.8L368.1,333.3L368.9,333.8L369.7,334.3L370.2,334.8L370.6,335.3L370.7,335.8L370.5,336.3L370,336.8L369.4,337.3L368.6,337.8L367.8,338.3L366.9,338.8L366.2,339.3L365.5,339.8L365,340.3L364.6,340.8L364.3,341.3L364,341.8L363.9,342.3L363.8,342.8L363.7,343.3M363.7,408.3L363.9,408.8L364,409.3L364.1,409.8L364.2,410.3L364.2,410.8L364.2,411.3L364.1,411.8L364,412.3L363.9,412.8L363.9,413.3L363.8,413.8L363.7,414.3M363.7,424.8L364,425.3L364.3,425.8L364.6,426.3L364.9,426.8L365.2,427.3L365.4,427.8L365.5,428.3L365.5,428.8L365.4,429.3L365.3,429.8L365.1,430.3L364.8,430.8L364.6,431.3L364.4,431.8L364.2,432.3L364,432.8L363.9,433.3L363.8,433.8L363.8,434.3L363.7,434.8M373.8,392.3L374.3,392.7L374.3,392.8L374.1,393.3L374,393.8L373.9,394.3L373.9,394.8L373.8,395.3M373.8,419.3L373.9,419.8L373.9,420.3L374,420.8L374.1,421.3L374.3,421.8L374.5,422.3L374.8,422.8L375.1,423.3L375.4,423.8L375.7,424.3L376.1,424.8L376.3,425.3L376.5,425.8L376.6,426.3L376.5,426.8L376.4,427.3L376.2,427.8L375.9,428.3L375.5,428.8L375.2,429.3L374.9,429.8L374.6,430.3L374.4,430.8L374.2,431.3L374.1,431.8L374,432.3L373.9,432.8L373.8,433.3M383.9,392.3L384.5,392.7L384.5,392.8L384.3,393.3L384.2,393.8L384.1,394.3L384,394.8L383.9,395.3M383.9,419.3L384,419.8L384.1,420.3L384.2,420.8L384.3,421.3L384.5,421.8L384.8,422.3L385,422.8L385.4,423.3L385.7,423.8L386,424.3L386.3,424.8L386.5,425.3L386.6,425.8L386.7,426.3L386.6,426.8L386.4,427.3L386.1,427.8L385.8,428.3L385.4,428.8L385.1,429.3L384.8,429.8L384.6,430.3L384.3,430.8L384.2,431.3L384.1,431.8L384,432.3L383.9,432.8M394,392.3L394.5,392.7L394.4,392.8L394.3,393.3L394.2,393.8L394.1,394.3L394,394.8M394,419.3L394.1,419.8L394.1,420.3L394.2,420.8L394.4,421.3L394.6,421.8L394.8,422.3L395,422.8L395.3,423.3L395.7,423.8L396,424.3L396.2,424.8L396.4,425.3L396.5,425.8L396.6,426.3L396.5,426.8L396.3,427.3L396,427.8L395.7,428.3L395.4,428.8L395.1,429.3L394.8,429.8L394.6,430.3L394.4,430.8L394.3,431.3L394.2,431.8L394.1,432.3L394,432.8M404.1,314.8L404.2,315.3L404.2,315.8L404.3,316.3L404.4,316.8L404.5,317.3L404.6,317.8L404.7,318.3L404.8,318.8L404.9,319.3L405,319.8L405,320.3L405,320.8L405,321.3L404.9,321.8L404.8,322.3L404.7,322.8L404.6,323.3L404.5,323.8L404.4,324.3L404.3,324.8L404.2,325.3L404.1,325.8M404.1,392.3L407.4,392.7L407.3,392.8L406.7,393.3L406.2,393.8L405.7,394.3L405.2,394.8L404.9,395.3L404.6,395.8L404.4,396.3L404.3,396.8L404.2,397.3L404.1,397.8L404.1,398.3M404.1,419.3L404.1,419.8L404.2,420.3L404.3,420.8L404.4,421.3L404.6,421.8L404.7,422.3L405,422.8L405.2,423.3L405.5,423.8L405.7,424.3L406,424.8L406.1,425.3L406.2,425.8L406.2,426.3L406.2,426.8L406,427.3L405.8,427.8L405.5,428.3L405.3,428.8L405,429.3L404.8,429.8L404.6,430.3L404.4,430.8L404.3,431.3L404.2,431.8L404.2,432.3L404.1,432.8M414.1,313.3L414.2,313.8L414.3,314.3L414.4,314.8L414.5,315.3L414.7,315.8L414.9,316.3L415.2,316.8L415.6,317.3L415.9,317.8L416.3,318.3L416.7,318.8L417,319.3L417.2,319.8L417.3,320.3L417.3,320.8L417.2,321.3L416.9,321.8L416.6,322.3L416.2,322.8L415.9,323.3L415.5,323.8L415.2,324.3L414.9,324.8L414.7,325.3L414.5,325.8L414.4,326.3L414.4,326.8L414.5,327.3L414.5,327.8L414.7,328.3L414.8,328.8L415.1,329.3L415.3,329.8L415.6,330.3L415.8,330.8L416.1,331.3L416.2,331.8L416.3,332.3L416.3,332.8L416.3,333.3L416.1,333.8L415.9,334.3L415.6,334.8L415.4,335.3L415.1,335.8L414.9,336.3L414.7,336.8L414.5,337.3L414.4,337.8L414.3,338.3L414.2,338.8L414.1,339.3M414.1,401.8L414.2,402.3L414.3,402.8L414.4,403.3L414.5,403.8L414.6,404.3L414.8,404.8L415,405.3L415.2,405.8L415.4,406.3L415.7,406.8L415.9,407.3L416,407.8L416.1,408.3L416.1,408.8L416.1,409.3L415.9,409.8L415.7,410.3L415.5,410.8L415.3,411.3L415,411.8L414.8,412.3L414.6,412.8L414.5,413.3L414.4,413.8L414.3,414.3L414.2,414.8L414.1,415.3M424.2,313.8L424.3,314.3L424.4,314.8L424.4,315.3L424.5,315.8L424.7,316.3L424.8,316.8L425,317.3L425.2,317.8L425.5,318.3L425.7,318.8L425.8,319.3L426,319.8L426,320.3L426,320.8L425.9,321.3L425.8,321.8L425.6,322.3L425.4,322.8L425.2,323.3L425,323.8L424.8,324.3L424.6,324.8L424.5,325.3L424.5,325.8L424.4,326.3L424.4,326.8L424.4,327.3L424.5,327.8L424.7,328.3L424.9,328.8L425.1,329.3L425.5,329.8L425.9,330.3L426.4,330.8L426.8,331.3L427.3,331.8L427.7,332.3L428,332.8L428.2,333.3L428.2,333.8L428.1,334.3L427.8,334.8L427.4,335.3L426.9,335.8L426.5,336.3L426,336.8L425.6,337.3L425.2,337.8L424.9,338.3L424.7,338.8L424.5,339.3L424.4,339.8L424.3,340.3L424.2,340.8M424.2,401.8L424.3,402.3L424.4,402.8L424.4,403.3L424.5,403.8L424.7,404.3L424.9,404.8L425.1,405.3L425.3,405.8L425.5,406.3L425.8,406.8L426,407.3L426.1,407.8L426.2,408.3L426.2,408.8L426.2,409.3L426,409.8L425.8,410.3L425.6,410.8L425.3,411.3L425.1,411.8L424.9,412.3L424.7,412.8L424.6,413.3L424.5,413.8L424.4,414.3L424.3,414.8L424.2,415.3M434.3,326.8L434.4,327.3L434.5,327.8L434.7,328.3L434.9,328.8L435.1,329.3L435.5,329.8L436,330.3L436.5,330.8L437.1,331.3L437.7,331.8L438.3,332.3L438.9,332.8L439.3,333.3L439.5,333.8L439.5,334.3L439.3,334.8L439,335.3L438.4,335.8L437.9,336.3L437.2,336.8L436.6,337.3L436.1,337.8L435.6,338.3L435.2,338.8L434.9,339.3L434.7,339.8L434.6,340.3L434.5,340.8L434.4,341.3L434.3,341.8M434.3,401.8L434.4,402.3L434.5,402.8L434.5,403.3L434.6,403.8L434.8,404.3L434.9,404.8L435.2,405.3L435.4,405.8L435.6,406.3L435.9,406.8L436.1,407.3L436.2,407.8L436.3,408.3L436.3,408.8L436.2,409.3L436.1,409.8L435.9,410.3L435.7,410.8L435.4,411.3L435.2,411.8L435,412.3L434.8,412.8L434.7,413.3L434.5,413.8L434.5,414.3L434.4,414.8L434.3,415.3M444.4,327.3L444.5,327.8L444.6,328.3L444.8,328.8L445.1,329.3L445.4,329.8L445.9,330.3L446.5,330.8L447.2,331.3L448.1,331.8L449,332.3L449.9,332.8L450.7,333.3L451.3,333.8L451.8,334.3L451.9,334.8L451.8,335.3L451.3,335.8L450.7,336.3L449.9,336.8L449,337.3L448.1,337.8L447.2,338.3L446.5,338.8L445.9,339.3L445.4,339.8L445.1,340.3L444.8,340.8L444.7,341.3L444.6,341.8L444.5,342.3L444.4,342.8M444.4,402.3L444.5,402.8L444.6,403.3L444.7,403.8L444.8,404.3L445,404.8L445.2,405.3L445.4,405.8L445.6,406.3L445.8,406.8L446,407.3L446.2,407.8L446.3,408.3L446.3,408.8L446.3,409.3L446.1,409.8L446,410.3L445.7,410.8L445.5,411.3L445.3,411.8L445.1,412.3L444.9,412.8L444.8,413.3L444.6,413.8L444.6,414.3L444.5,414.8L444.4,415.3M454.5,330.3L455,330.8L455.6,331.3L456.3,331.8L457.1,332.3L458,332.8L458.9,333.3L459.7,333.8L460.5,334.3L461.1,334.8L461.4,335.3L461.5,335.8L461.3,336.3L460.9,336.8L460.2,337.3L459.4,337.8L458.6,338.3L457.7,338.8L457,339.3L456.3,339.8L455.8,340.3L455.4,340.8L455.1,341.3L454.9,341.8L454.7,342.3L454.6,342.8L454.5,343.3M454.5,408.3L454.7,408.8L454.8,409.3L455,409.8L455,410.3L455,410.8L455,411.3L454.9,411.8L454.8,412.3L454.7,412.8L454.7,413.3L454.6,413.8L454.5,414.3M454.5,424.8L454.8,425.3L455.1,425.8L455.5,426.3L455.7,426.8L456,427.3L456.2,427.8L456.3,428.3L456.3,428.8L456.2,429.3L456.1,429.8L455.9,430.3L455.6,430.8L455.4,431.3L455.2,431.8L455,432.3L454.8,432.8L454.7,433.3L454.6,433.8L454.6,434.3L454.5,434.8M464.6,392.3L465.1,392.7L465.1,392.8L464.9,393.3L464.8,393.8L464.7,394.3L464.7,394.8L464.6,395.3M464.6,419.3L464.7,419.8L464.7,420.3L464.8,420.8L464.9,421.3L465.1,421.8L465.3,422.3L465.6,422.8L465.9,423.3L466.2,423.8L466.6,424.3L466.9,424.8L467.1,425.3L467.3,425.8L467.4,426.3L467.4,426.8L467.2,427.3L467,427.8L466.7,428.3L466.4,428.8L466,429.3L465.7,429.8L465.4,430.3L465.2,430.8L465,431.3L464.9,431.8L464.8,432.3L464.7,432.8L464.6,433.3M474.7,392.3L475.3,392.7L475.3,392.8L475.1,393.3L475,393.8L474.9,394.3L474.8,394.8L474.7,395.3M474.7,419.3L474.8,419.8L474.9,420.3L475,420.8L475.1,421.3L475.3,421.8L475.6,422.3L475.9,422.8L476.2,423.3L476.5,423.8L476.8,424.3L477.1,424.8L477.3,425.3L477.5,425.8L477.5,426.3L477.4,426.8L477.2,427.3L476.9,427.8L476.6,428.3L476.2,428.8L475.9,429.3L475.6,429.8L475.4,430.3L475.2,430.8L475,431.3L474.9,431.8L474.8,432.3L474.7,432.8M484.8,392.3L485.3,392.7L485.2,392.8L485.1,393.3L485,393.8L484.9,394.3L484.8,394.8M484.8,419.3L484.9,419.8L484.9,420.3L485,420.8L485.2,421.3L485.4,421.8L485.6,422.3L485.9,422.8L486.2,423.3L486.5,423.8L486.8,424.3L487,424.8L487.2,425.3L487.4,425.8L487.4,426.3L487.3,426.8L487.1,427.3L486.8,427.8L486.5,428.3L486.2,428.8L485.9,429.3L485.6,429.8L485.4,430.3L485.2,430.8L485.1,431.3L485,431.8L484.9,432.3L484.8,432.8M494.9,314.8L495,315.3L495,315.8L495.1,316.3L495.2,316.8L495.3,317.3L495.4,317.8L495.5,318.3L495.7,318.8L495.8,319.3L495.8,319.8L495.9,320.3L495.9,320.8L495.8,321.3L495.7,321.8L495.6,322.3L495.5,322.8L495.4,323.3L495.3,323.8L495.2,324.3L495.1,324.8L495,325.3L494.9,325.8M494.9,392.3L498.2,392.7L498.1,392.8L497.5,393.3L497,393.8L496.5,394.3L496.1,394.8L495.7,395.3L495.4,395.8L495.2,396.3L495.1,396.8L495,397.3L494.9,397.8L494.9,398.3M494.9,419.3L494.9,419.8L495,420.3L495.1,420.8L495.2,421.3L495.4,421.8L495.6,422.3L495.8,422.8L496,423.3L496.3,423.8L496.6,424.3L496.8,424.8L497,425.3L497,425.8L497.1,426.3L497,426.8L496.8,427.3L496.6,427.8L496.4,428.3L496.1,428.8L495.8,429.3L495.6,429.8L495.4,430.3L495.2,430.8L495.1,431.3L495,431.8L495,432.3L494.9,432.8M505,313.3L505,313.8L505.1,314.3L505.2,314.8L505.3,315.3L505.5,315.8L505.7,316.3L506,316.8L506.4,317.3L506.7,317.8L507.1,318.3L507.5,318.8L507.8,319.3L508,319.8L508.1,320.3L508.1,320.8L508,321.3L507.7,321.8L507.4,322.3L507,322.8L506.7,323.3L506.3,323.8L506,324.3L505.7,324.8L505.5,325.3L505.3,325.8L505.3,326.3L505.2,326.8L505.3,327.3L505.3,327.8L505.5,328.3L505.7,328.8L505.9,329.3L506.1,329.8L506.4,330.3L506.6,330.8L506.9,331.3L507,331.8L507.1,332.3L507.1,332.8L507.1,333.3L506.9,333.8L506.7,334.3L506.4,334.8L506.2,335.3L505.9,335.8L505.7,336.3L505.5,336.8L505.3,337.3L505.2,337.8L505.1,338.3L505.1,338.8L505,339.3M505,401.8L505,402.3L505.1,402.8L505.2,403.3L505.3,403.8L505.4,404.3L505.6,404.8L505.8,405.3L506,405.8L506.3,406.3L506.5,406.8L506.7,407.3L506.9,407.8L506.9,408.3L506.9,408.8L506.9,409.3L506.7,409.8L506.5,410.3L506.3,410.8L506.1,411.3L505.8,411.8L505.6,412.3L505.4,412.8L505.3,413.3L505.2,413.8L505.1,414.3L505,414.8L505,415.3M515,313.8L515.1,314.3L515.2,314.8L515.2,315.3L515.3,315.8L515.5,316.3L515.6,316.8L515.8,317.3L516,317.8L516.3,318.3L516.5,318.8L516.6,319.3L516.8,319.8L516.8,320.3L516.8,320.8L516.8,321.3L516.6,321.8L516.4,322.3L516.2,322.8L516,323.3L515.8,323.8L515.6,324.3L515.5,324.8L515.3,325.3L515.3,325.8L515.2,326.3L515.2,326.8L515.3,327.3L515.3,327.8L515.5,328.3L515.7,328.8L516,329.3L516.3,329.8L516.7,330.3L517.2,330.8L517.7,331.3L518.1,331.8L518.5,332.3L518.8,332.8L519,333.3L519,333.8L518.9,334.3L518.6,334.8L518.2,335.3L517.8,335.8L517.3,336.3L516.8,336.8L516.4,337.3L516,337.8L515.7,338.3L515.5,338.8L515.3,339.3L515.2,339.8L515.2,340.3L515,340.8M515,401.8L515.1,402.3L515.2,402.8L515.3,403.3L515.4,403.8L515.5,404.3L515.7,404.8L515.9,405.3L516.1,405.8L516.3,406.3L516.6,406.8L516.8,407.3L516.9,407.8L517,408.3L517,408.8L517,409.3L516.8,409.8L516.6,410.3L516.4,410.8L516.2,411.3L515.9,411.8L515.7,412.3L515.5,412.8L515.4,413.3L515.3,413.8L515.2,414.3L515.1,414.8L515,415.3M525.1,326.8L525.3,327.3L525.3,327.8L525.5,328.3L525.7,328.8L526,329.3L526.3,329.8L526.8,330.3L527.3,330.8L527.9,331.3L528.5,331.8L529.1,332.3L529.7,332.8L530.1,333.3L530.3,333.8L530.3,334.3L530.1,334.8L529.8,335.3L529.3,335.8L528.7,336.3L528,336.8L527.4,337.3L526.9,337.8L526.4,338.3L526,338.8L525.7,339.3L525.5,339.8L525.4,340.3L525.3,340.8L525.2,341.3L525.1,341.8M525.1,401.8L525.2,402.3L525.3,402.8L525.3,403.3L525.4,403.8L525.6,404.3L525.8,404.8L526,405.3L526.2,405.8L526.4,406.3L526.7,406.8L526.9,407.3L527,407.8L527.1,408.3L527.1,408.8L527.1,409.3L526.9,409.8L526.7,410.3L526.5,410.8L526.2,411.3L526,411.8L525.8,412.3L525.6,412.8L525.5,413.3L525.4,413.8L525.3,414.3L525.2,414.8L525.1,415.3M535.2,327.3L535.3,327.8L535.5,328.3L535.6,328.8L535.9,329.3L536.2,329.8L536.7,330.3L537.3,330.8L538,331.3L538.9,331.8L539.8,332.3L540.7,332.8L541.5,333.3L542.1,333.8L542.6,334.3L542.7,334.8L542.6,335.3L542.1,335.8L541.5,336.3L540.7,336.8L539.8,337.3L538.9,337.8L538,338.3L537.3,338.8L536.7,339.3L536.2,339.8L535.9,340.3L535.6,340.8L535.5,341.3L535.4,341.8L535.3,342.3L535.2,342.8M535.2,402.3L535.3,402.8L535.4,403.3L535.5,403.8L535.6,404.3L535.8,404.8L536,405.3L536.2,405.8L536.4,406.3L536.6,406.8L536.8,407.3L537,407.8L537.1,408.3L537.1,408.8L537.1,409.3L536.9,409.8L536.8,410.3L536.6,410.8L536.3,411.3L536.1,411.8L535.9,412.3L535.7,412.8L535.6,413.3L535.5,413.8L535.4,414.3L535.3,414.8L535.2,415.3M353.6,313.8L353.5,314.3L353.5,314.8L353.4,315.3L353.3,315.8L353.1,316.3L352.9,316.8L352.7,317.3L352.5,317.8L352.2,318.3L352,318.8L351.8,319.3L351.7,319.8L351.6,320.3L351.6,320.8L351.7,321.3L351.9,321.8L352.1,322.3L352.3,322.8L352.5,323.3L352.8,323.8L353,324.3L353.1,324.8L353.3,325.3L353.4,325.8L353.5,326.3L353.6,326.8M353.6,392.3L352.3,392.7L352.3,392.8L352.7,393.3L352.9,393.8L353.1,394.3L353.3,394.8L353.4,395.3L353.5,395.8L353.5,396.3L353.6,396.8M353.6,419.3L353.5,419.8L353.4,420.3L353.3,420.8L353.2,421.3L353.1,421.8L352.8,422.3L352.6,422.8L352.3,423.3L352,423.8L351.7,424.3L351.5,424.8L351.3,425.3L351.2,425.8L351.2,426.3L351.3,426.8L351.5,427.3L351.7,427.8L352,428.3L352.3,428.8L352.5,429.3L352.8,429.8L353,430.3L353.2,430.8L353.3,431.3L353.4,431.8L353.5,432.3L353.6,432.8M363.7,312.8L363.6,313.3L363.5,313.8L363.4,314.3L363.2,314.8L362.9,315.3L362.6,315.8L362.1,316.3L361.5,316.8L360.8,317.3L360.1,317.8L359.3,318.3L358.5,318.8L357.9,319.3L357.4,319.8L357.1,320.3L357.1,320.8L357.3,321.3L357.7,321.8L358.2,322.3L358.7,322.8L359.1,323.3L359.5,323.8L359.8,324.3L360,324.8L360.1,325.3L360.2,325.8L360.3,326.3L360.4,326.8L360.7,327.3L361,327.8L361.4,328.3L361.9,328.8L362.4,329.3L363,329.8L363.5,330.3L363.7,330.8M363.7,392.3L358,392.7L358.2,392.8L359.1,393.3L360.2,393.8L361.1,394.3L361.9,394.8L362.5,395.3L363,395.8L363.3,396.3L363.5,396.8L363.6,397.3L363.7,397.8M363.7,401.3L363.6,401.8L363.5,402.3L363.4,402.8L363.2,403.3L363.1,403.8L362.9,404.3L362.8,404.8L362.8,405.3L362.7,405.8L362.8,406.3L363,406.8L363.2,407.3L363.4,407.8L363.7,408.3M363.7,417.8L363.6,418.3L363.5,418.8L363.4,419.3L363.2,419.8L363.1,420.3L362.9,420.8L362.8,421.3L362.7,421.8L362.7,422.3L362.8,422.8L362.9,423.3L363.1,423.8L363.4,424.3L363.7,424.8M373.8,325.8L373.7,326.3L373.6,326.8L373.4,327.3L373.2,327.8L372.9,328.3L372.5,328.8L372,329.3L371.3,329.8L370.5,330.3L369.7,330.8L368.9,331.3L368.1,331.8L367.4,332.3L367,332.8L366.8,333.3L366.9,333.8L367.2,334.3L367.8,334.8L368.5,335.3L369.4,335.8L370.2,336.3L371,336.8L371.7,337.3L372.3,337.8L372.8,338.3L373.1,338.8L373.3,339.3L373.5,339.8L373.6,340.3L373.7,340.8L373.8,341.3M373.8,400.8L373.7,401.3L373.6,401.8L373.5,402.3L373.4,402.8L373.2,403.3L373,403.8L372.8,404.3L372.6,404.8L372.3,405.3L372.1,405.8L371.9,406.3L371.7,406.8L371.7,407.3L371.7,407.8L371.8,408.3L372,408.8L372.2,409.3L372.5,409.8L372.7,410.3L372.9,410.8L373.2,411.3L373.3,411.8L373.5,412.3L373.6,412.8L373.7,413.3L373.8,413.8M383.9,326.3L383.7,326.8L383.7,327.3L383.5,327.8L383.3,328.3L383.1,328.8L382.7,329.3L382.3,329.8L381.8,330.3L381.2,330.8L380.6,331.3L380,331.8L379.5,332.3L379.1,332.8L378.9,333.3L378.9,333.8L379.1,334.3L379.4,334.8L379.9,335.3L380.5,335.8L381.1,336.3L381.7,336.8L382.2,337.3L382.7,337.8L383,338.3L383.3,338.8L383.5,339.3L383.6,339.8L383.7,340.3L383.9,340.8M383.9,401.8L383.8,402.3L383.7,402.8L383.6,403.3L383.5,403.8L383.3,404.3L383.1,404.8L382.9,405.3L382.6,405.8L382.3,406.3L382.1,406.8L381.9,407.3L381.7,407.8L381.7,408.3L381.7,408.8L381.8,409.3L382,409.8L382.2,410.3L382.5,410.8L382.7,411.3L383,411.8L383.2,412.3L383.4,412.8L383.5,413.3L383.7,413.8L383.7,414.3L383.8,414.8L383.9,415.3M394,326.8L393.8,327.3L393.8,327.8L393.6,328.3L393.4,328.8L393.2,329.3L392.8,329.8L392.4,330.3L391.9,330.8L391.3,331.3L390.7,331.8L390.1,332.3L389.6,332.8L389.2,333.3L389,333.8L389,334.3L389.2,334.8L389.5,335.3L390,335.8L390.6,336.3L391.2,336.8L391.8,337.3L392.3,337.8L392.7,338.3L393.1,338.8L393.4,339.3L393.6,339.8L393.7,340.3L393.8,340.8L394,341.3M394,402.3L393.9,402.8L393.8,403.3L393.7,403.8L393.6,404.3L393.4,404.8L393.2,405.3L393,405.8L392.7,406.3L392.5,406.8L392.2,407.3L392,407.8L391.8,408.3L391.7,408.8L391.7,409.3L391.7,409.8L391.9,410.3L392.1,410.8L392.4,411.3L392.7,411.8L392.9,412.3L393.2,412.8L393.4,413.3L393.6,413.8L393.7,414.3L393.8,414.8L393.9,415.3L394,415.8M404.1,326.3L403.9,326.8L403.8,327.3L403.7,327.8L403.4,328.3L403.1,328.8L402.7,329.3L402.2,329.8L401.5,330.3L400.8,330.8L400.1,331.3L399.4,331.8L398.8,332.3L398.3,332.8L398.1,333.3L398.1,333.8L398.3,334.3L398.7,334.8L399.3,335.3L400,335.8L400.7,336.3L401.4,336.8L402,337.3L402.6,337.8L403,338.3L403.4,338.8L403.6,339.3L403.8,339.8L403.9,340.3L404,340.8L404.1,341.3M404.1,403.8L404,404.3L403.9,404.8L403.8,405.3L403.7,405.8L403.6,406.3L403.4,406.8L403.2,407.3L403,407.8L402.7,408.3L402.5,408.8L402.3,409.3L402.1,409.8L402.1,410.3L402.1,410.8L402.1,411.3L402.3,411.8L402.5,412.3L402.7,412.8L402.9,413.3L403.2,413.8L403.4,414.3L403.6,414.8L403.7,415.3L403.8,415.8L403.9,416.3L404,416.8L404.1,417.3M414.1,392.3L413.9,392.7L414,392.8L414,393.3L414.1,393.8M414.1,418.8L414,419.3L414,419.8L413.9,420.3L413.7,420.8L413.6,421.3L413.4,421.8L413.1,422.3L412.8,422.8L412.5,423.3L412.2,423.8L412,424.3L411.8,424.8L411.7,425.3L411.6,425.8L411.7,426.3L411.9,426.8L412.2,427.3L412.4,427.8L412.7,428.3L413,428.8L413.3,429.3L413.5,429.8L413.7,430.3L413.9,430.8L414,431.3L414,431.8L414.1,432.3M424.2,392.3L423.7,392.7L423.7,392.8L423.9,393.3L424,393.8L424.1,394.3L424.2,394.8M424.2,418.8L424.1,419.3L424.1,419.8L424,420.3L423.8,420.8L423.7,421.3L423.4,421.8L423.2,422.3L422.9,422.8L422.6,423.3L422.3,423.8L422,424.3L421.9,424.8L421.7,425.3L421.7,425.8L421.8,426.3L422,426.8L422.2,427.3L422.5,427.8L422.8,428.3L423.1,428.8L423.4,429.3L423.6,429.8L423.8,430.3L423.9,430.8L424,431.3L424.1,431.8L424.2,432.3M434.3,392.3L433.7,392.7L433.7,392.8L433.9,393.3L434.1,393.8L434.2,394.3L434.2,394.8L434.3,395.3M434.3,419.3L434.2,419.8L434.1,420.3L434,420.8L433.9,421.3L433.7,421.8L433.4,422.3L433.2,422.8L432.9,423.3L432.6,423.8L432.3,424.3L432.1,424.8L431.9,425.3L431.8,425.8L431.9,426.3L432,426.8L432.2,427.3L432.4,427.8L432.7,428.3L433,428.8L433.3,429.3L433.6,429.8L433.8,430.3L434,430.8L434.1,431.3L434.2,431.8L434.2,432.3L434.3,432.8M444.4,313.8L444.3,314.3L444.3,314.8L444.2,315.3L444.1,315.8L443.9,316.3L443.7,316.8L443.5,317.3L443.3,317.8L443.1,318.3L442.8,318.8L442.6,319.3L442.5,319.8L442.4,320.3L442.4,320.8L442.5,321.3L442.7,321.8L442.9,322.3L443.1,322.8L443.3,323.3L443.6,323.8L443.8,324.3L444,324.8L444.1,325.3L444.2,325.8L444.3,326.3L444.4,326.8M444.4,392.3L443.1,392.7L443.2,392.8L443.5,393.3L443.7,393.8L443.9,394.3L444.1,394.8L444.2,395.3L444.3,395.8L444.3,396.3L444.4,396.8M444.4,419.3L444.3,419.8L444.2,420.3L444.2,420.8L444,421.3L443.9,421.8L443.7,422.3L443.4,422.8L443.1,423.3L442.8,423.8L442.6,424.3L442.3,424.8L442.1,425.3L442,425.8L442,426.3L442.1,426.8L442.3,427.3L442.5,427.8L442.8,428.3L443.1,428.8L443.4,429.3L443.6,429.8L443.8,430.3L444,430.8L444.1,431.3L444.2,431.8L444.3,432.3L444.4,432.8M454.5,312.8L454.4,313.3L454.3,313.8L454.2,314.3L454,314.8L453.8,315.3L453.4,315.8L452.9,316.3L452.3,316.8L451.6,317.3L450.9,317.8L450.1,318.3L449.3,318.8L448.7,319.3L448.2,319.8L448,320.3L447.9,320.8L448.1,321.3L448.5,321.8L449,322.3L449.5,322.8L450,323.3L450.4,323.8L450.6,324.3L450.8,324.8L450.9,325.3L451,325.8L451.1,326.3L451.3,326.8L451.5,327.3L451.8,327.8L452.3,328.3L452.7,328.8L453.2,329.3L453.8,329.8L454.4,330.3L454.5,330.8M454.5,392.3L448.8,392.7L449,392.8L450,393.3L451,393.8L451.9,394.3L452.7,394.8L453.3,395.3L453.8,395.8L454.1,396.3L454.3,396.8L454.4,397.3L454.5,397.8M454.5,401.3L454.4,401.8L454.3,402.3L454.2,402.8L454,403.3L453.9,403.8L453.8,404.3L453.6,404.8L453.6,405.3L453.6,405.8L453.6,406.3L453.8,406.8L454,407.3L454.2,407.8L454.5,408.3M454.5,417.8L454.4,418.3L454.3,418.8L454.2,419.3L454,419.8L453.9,420.3L453.8,420.8L453.6,421.3L453.6,421.8L453.5,422.3L453.6,422.8L453.7,423.3L453.9,423.8L454.2,424.3L454.5,424.8M464.6,325.8L464.5,326.3L464.4,326.8L464.2,327.3L464,327.8L463.7,328.3L463.3,328.8L462.8,329.3L462.1,329.8L461.3,330.3L460.5,330.8L459.7,331.3L458.9,331.8L458.2,332.3L457.8,332.8L457.6,333.3L457.7,333.8L458,334.3L458.6,334.8L459.3,335.3L460.2,335.8L461,336.3L461.8,336.8L462.5,337.3L463.1,337.8L463.6,338.3L463.9,338.8L464.2,339.3L464.3,339.8L464.4,340.3L464.5,340.8L464.6,341.3M464.6,400.8L464.5,401.3L464.4,401.8L464.3,402.3L464.2,402.8L464,403.3L463.8,403.8L463.6,404.3L463.4,404.8L463.1,405.3L462.9,405.8L462.7,406.3L462.5,406.8L462.5,407.3L462.5,407.8L462.6,408.3L462.8,408.8L463,409.3L463.3,409.8L463.5,410.3L463.8,410.8L464,411.3L464.1,411.8L464.3,412.3L464.4,412.8L464.5,413.3L464.6,413.8M474.7,326.3L474.6,326.8L474.5,327.3L474.3,327.8L474.2,328.3L473.9,328.8L473.5,329.3L473.1,329.8L472.6,330.3L472,330.8L471.4,331.3L470.8,331.8L470.3,332.3L469.9,332.8L469.7,333.3L469.7,333.8L469.9,334.3L470.2,334.8L470.7,335.3L471.3,335.8L471.9,336.3L472.5,336.8L473,337.3L473.5,337.8L473.8,338.3L474.1,338.8L474.3,339.3L474.4,339.8L474.5,340.3L474.7,340.8M474.7,401.8L474.6,402.3L474.5,402.8L474.4,403.3L474.3,403.8L474.1,404.3L473.9,404.8L473.7,405.3L473.4,405.8L473.1,406.3L472.9,406.8L472.7,407.3L472.5,407.8L472.5,408.3L472.5,408.8L472.6,409.3L472.8,409.8L473,410.3L473.3,410.8L473.6,411.3L473.8,411.8L474,412.3L474.2,412.8L474.4,413.3L474.5,413.8L474.5,414.3L474.6,414.8L474.7,415.3M484.8,326.8L484.6,327.3L484.6,327.8L484.4,328.3L484.2,328.8L484,329.3L483.6,329.8L483.2,330.3L482.7,330.8L482.1,331.3L481.5,331.8L480.9,332.3L480.4,332.8L480,333.3L479.8,333.8L479.8,334.3L480,334.8L480.3,335.3L480.8,335.8L481.4,336.3L482,336.8L482.6,337.3L483.1,337.8L483.6,338.3L483.9,338.8L484.2,339.3L484.4,339.8L484.5,340.3L484.6,340.8L484.8,341.3M484.8,402.3L484.7,402.8L484.6,403.3L484.5,403.8L484.4,404.3L484.2,404.8L484,405.3L483.8,405.8L483.5,406.3L483.3,406.8L483,407.3L482.8,407.8L482.6,408.3L482.5,408.8L482.5,409.3L482.6,409.8L482.7,410.3L482.9,410.8L483.2,411.3L483.5,411.8L483.8,412.3L484,412.8L484.2,413.3L484.4,413.8L484.5,414.3L484.6,414.8L484.7,415.3L484.8,415.8M494.9,326.3L494.8,326.8L494.6,327.3L494.5,327.8L494.2,328.3L493.9,328.8L493.5,329.3L493,329.8L492.3,330.3L491.7,330.8L490.9,331.3L490.2,331.8L489.6,332.3L489.2,332.8L488.9,333.3L488.9,333.8L489.1,334.3L489.5,334.8L490.1,335.3L490.8,335.8L491.5,336.3L492.2,336.8L492.9,337.3L493.4,337.8L493.8,338.3L494.2,338.8L494.4,339.3L494.6,339.8L494.7,340.3L494.8,340.8L494.9,341.3M494.9,403.8L494.8,404.3L494.7,404.8L494.6,405.3L494.5,405.8L494.4,406.3L494.2,406.8L494,407.3L493.8,407.8L493.6,408.3L493.3,408.8L493.1,409.3L493,409.8L492.9,410.3L492.9,410.8L492.9,411.3L493.1,411.8L493.3,412.3L493.5,412.8L493.7,413.3L494,413.8L494.2,414.3L494.4,414.8L494.5,415.3L494.6,415.8L494.7,416.3L494.8,416.8L494.9,417.3M505,392.3L504.7,392.7L504.8,392.8L504.8,393.3L505,393.8M505,418.8L504.8,419.3L504.8,419.8L504.7,420.3L504.6,420.8L504.4,421.3L504.2,421.8L503.9,422.3L503.6,422.8L503.3,423.3L503,423.8L502.8,424.3L502.6,424.8L502.5,425.3L502.5,425.8L502.5,426.3L502.7,426.8L503,427.3L503.3,427.8L503.6,428.3L503.8,428.8L504.1,429.3L504.3,429.8L504.5,430.3L504.7,430.8L504.8,431.3L504.8,431.8L505,432.3M515,392.3L514.5,392.7L514.6,392.8L514.7,393.3L514.8,393.8L514.9,394.3L515,394.8M515,418.8L514.9,419.3L514.9,419.8L514.8,420.3L514.6,420.8L514.5,421.3L514.3,421.8L514,422.3L513.7,422.8L513.4,423.3L513.1,423.8L512.9,424.3L512.7,424.8L512.6,425.3L512.5,425.8L512.6,426.3L512.8,426.8L513.1,427.3L513.3,427.8L513.6,428.3L513.9,428.8L514.2,429.3L514.4,429.8L514.6,430.3L514.8,430.8L514.9,431.3L514.9,431.8L515,432.3M525.1,392.3L524.5,392.7L524.5,392.8L524.7,393.3L524.9,393.8L525,394.3L525,394.8L525.1,395.3M525.1,419.3L525,419.8L524.9,420.3L524.8,420.8L524.7,421.3L524.5,421.8L524.2,422.3L524,422.8L523.7,423.3L523.4,423.8L523.1,424.3L522.9,424.8L522.7,425.3L522.6,425.8L522.7,426.3L522.8,426.8L523,427.3L523.3,427.8L523.6,428.3L523.9,428.8L524.1,429.3L524.4,429.8L524.6,430.3L524.8,430.8L524.9,431.3L525,431.8L525,432.3L525.1,432.8M535.2,313.8L535.1,314.3L535.1,314.8L535,315.3L534.9,315.8L534.7,316.3L534.6,316.8L534.3,317.3L534.1,317.8L533.9,318.3L533.6,318.8L533.4,319.3L533.3,319.8L533.2,320.3L533.2,320.8L533.3,321.3L533.5,321.8L533.7,322.3L533.9,322.8L534.2,323.3L534.4,323.8L534.6,324.3L534.8,324.8L534.9,325.3L535,325.8L535.1,326.3L535.2,326.8M535.2,392.3L533.9,392.7L534,392.8L534.3,393.3L534.5,393.8L534.7,394.3L534.9,394.8L535,395.3L535.1,395.8L535.1,396.3L535.2,396.8M535.2,419.3L535.1,419.8L535.1,420.3L535,420.8L534.8,421.3L534.7,421.8L534.5,422.3L534.2,422.8L533.9,423.3L533.6,423.8L533.4,424.3L533.1,424.8L532.9,425.3L532.8,425.8L532.8,426.3L532.9,426.8L533.1,427.3L533.3,427.8L533.6,428.3L533.9,428.8L534.2,429.3L534.4,429.8L534.6,430.3L534.8,430.8L534.9,431.3L535,431.8L535.1,432.3L535.2,432.8" stroke="#555555" stroke-opacity="0.55" stroke-width="0.6" fill="none"/>
<path d="M354.1,359.3L354.3,359.8L354.6,360.3L355,360.8L355.4,361.3L355.8,361.8L356.3,362.3L356.7,362.8L357.1,363.3L357.4,363.8L357.5,364.3L357.5,364.8L357.4,365.3L357.1,365.8L356.6,366.3L356,366.8L355.3,367.3L354.5,367.8M364.5,366.3L364.7,366.8L364.8,367.3L364.7,367.8L364.5,368.3L364.3,368.8M364.7,375.3L365.6,375.8L366.5,376.3L367.3,376.8L367.9,377.3L368.2,377.8L368.3,378.3L368,378.8L367.6,379.3L367,379.8L366.4,380.3L365.9,380.8L365.5,381.3L365.3,381.8L365.4,382.3L365.8,382.8L366.5,383.3L367.3,383.8L368.3,384.3L369.2,384.8L370,385.3L370.5,385.8L370.5,386.3L370,386.8L368.9,387.3L367.5,387.8L365.7,388.3M374.8,368.8L375.7,369.3L376.6,369.8L377.6,370.3L378.6,370.8L379.5,371.3L380.3,371.8L381,372.3L381.4,372.8L381.6,373.3L381.4,373.8L381,374.3L380.4,374.8L379.6,375.3L378.7,375.8L377.8,376.3L376.9,376.8L376.2,377.3L375.5,377.8L375,378.3L374.6,378.8L374.3,379.3M374.3,382.3L374.5,382.8L374.8,383.3L375.1,383.8L375.5,384.3L375.9,384.8L376.3,385.3L376.8,385.8L377.1,386.3L377.4,386.8L377.6,387.3L377.6,387.8L377.4,388.3L377.2,388.8L376.8,389.3L376.4,389.8L376,390.3L375.6,390.8L375.2,391.3L374.8,391.8L374.5,392.3L374.3,392.7M385,369.3L386,369.8L387,370.3L388.1,370.8L389.1,371.3L390.1,371.8L390.9,372.3L391.5,372.8L391.8,373.3L391.8,373.8L391.6,374.3L391.1,374.8L390.3,375.3L389.5,375.8L388.5,376.3L387.6,376.8L386.8,377.3L386,377.8L385.4,378.3L385,378.8L384.6,379.3L384.4,379.8M384.3,382.8L384.5,383.3L384.8,383.8L385.1,384.3L385.5,384.8L385.9,385.3L386.2,385.8L386.6,386.3L386.9,386.8L387.1,387.3L387.3,387.8L387.2,388.3L387.1,388.8L386.9,389.3L386.5,389.8L386.2,390.3L385.8,390.8L385.4,391.3L385,391.8L384.7,392.3L384.5,392.7M394.8,369.3L396,369.8L397.2,370.3L398.4,370.8L399.4,371.3L400.4,371.8L401.1,372.3L401.5,372.8L401.7,373.3L401.6,373.8L401.2,374.3L400.6,374.8L399.8,375.3L398.9,375.8L398,376.3L397.1,376.8L396.3,377.3L395.7,377.8L395.2,378.3L394.8,378.8L394.5,379.3M394.4,382.3L394.6,382.8L394.9,383.3L395.2,383.8L395.5,384.3L395.9,384.8L396.3,385.3L396.7,385.8L397,386.3L397.3,386.8L397.4,387.3L397.4,387.8L397.3,388.3L397.1,388.8L396.8,389.3L396.4,389.8L396,390.3L395.6,390.8L395.2,391.3L394.9,391.8L394.6,392.3L394.5,392.7M405,368.8L406.2,369.3L407.3,369.8L408.4,370.3L409.3,370.8L410,371.3L410.5,371.8L410.6,372.3L410.5,372.8L410.2,373.3L409.6,373.8L408.8,374.3L407.9,374.8L406.9,375.3L406,375.8L405.2,376.3L404.5,376.8M404.8,385.3L405.1,385.8L405.5,386.3L406,386.8L406.5,387.3L407.1,387.8L407.7,388.3L408.2,388.8L408.6,389.3L408.9,389.8L409,390.3L409,390.8L408.8,391.3L408.4,391.8L407.9,392.3L407.4,392.7M414.8,359.3L415.1,359.8L415.5,360.3L416,360.8L416.7,361.3L417.4,361.8L418.1,362.3L418.9,362.8L419.6,363.3L420.2,363.8L420.6,364.3L420.7,364.8L420.6,365.3L420.3,365.8L419.8,366.3L419.1,366.8L418.3,367.3L417.4,367.8L416.5,368.3L415.6,368.8L414.7,369.3M424.8,359.3L425.2,359.8L425.5,360.3L426,360.8L426.6,361.3L427.3,361.8L428.1,362.3L428.8,362.8L429.4,363.3L430,363.8L430.4,364.3L430.5,364.8L430.4,365.3L430.1,365.8L429.6,366.3L428.9,366.8L428.1,367.3L427.2,367.8L426.2,368.3L425.2,368.8M434.8,358.8L435.1,359.3L435.5,359.8L435.9,360.3L436.4,360.8L437,361.3L437.7,361.8L438.4,362.3L439,362.8L439.5,363.3L439.9,363.8L440.1,364.3L440.1,364.8L439.8,365.3L439.4,365.8L438.8,366.3L438.1,366.8L437.3,367.3L436.4,367.8L435.6,368.3M444.9,359.3L445.1,359.8L445.4,360.3L445.8,360.8L446.2,361.3L446.6,361.8L447.1,362.3L447.6,362.8L447.9,363.3L448.2,363.8L448.4,364.3L448.4,364.8L448.2,365.3L447.9,365.8L447.4,366.3L446.8,366.8L446.1,367.3L445.4,367.8M455.3,366.3L455.5,366.8L455.6,367.3L455.5,367.8L455.4,368.3L455.1,368.8M455.5,375.3L456.4,375.8L457.3,376.3L458.1,376.8L458.7,377.3L459,377.8L459.1,378.3L458.8,378.8L458.4,379.3L457.8,379.8L457.2,380.3L456.7,380.8L456.3,381.3L456.1,381.8L456.3,382.3L456.6,382.8L457.3,383.3L458.1,383.8L459.1,384.3L460,384.8L460.8,385.3L461.3,385.8L461.3,386.3L460.8,386.8L459.8,387.3L458.3,387.8L456.5,388.3M465.6,368.8L466.5,369.3L467.4,369.8L468.4,370.3L469.4,370.8L470.3,371.3L471.2,371.8L471.8,372.3L472.2,372.8L472.4,373.3L472.2,373.8L471.8,374.3L471.2,374.8L470.4,375.3L469.5,375.8L468.6,376.3L467.7,376.8L467,377.3L466.3,377.8L465.8,378.3L465.4,378.8L465.2,379.3M465.1,382.3L465.3,382.8L465.6,383.3L465.9,383.8L466.3,384.3L466.7,384.8L467.2,385.3L467.6,385.8L467.9,386.3L468.2,386.8L468.4,387.3L468.4,387.8L468.3,388.3L468,388.8L467.7,389.3L467.2,389.8L466.8,390.3L466.4,390.8L466,391.3L465.6,391.8L465.3,392.3L465.1,392.7M475.8,369.3L476.8,369.8L477.9,370.3L478.9,370.8L479.9,371.3L480.9,371.8L481.7,372.3L482.3,372.8L482.6,373.3L482.6,373.8L482.4,374.3L481.9,374.8L481.1,375.3L480.3,375.8L479.3,376.3L478.4,376.8L477.6,377.3L476.9,377.8L476.2,378.3L475.8,378.8L475.4,379.3L475.2,379.8M475.2,382.8L475.4,383.3L475.6,383.8L475.9,384.3L476.3,384.8L476.7,385.3L477.1,385.8L477.4,386.3L477.7,386.8L478,387.3L478.1,387.8L478.1,388.3L477.9,388.8L477.7,389.3L477.4,389.8L477,390.3L476.6,390.8L476.2,391.3L475.8,391.8L475.5,392.3L475.3,392.7M485.6,369.3L486.8,369.8L488,370.3L489.2,370.8L490.2,371.3L491.2,371.8L491.9,372.3L492.4,372.8L492.5,373.3L492.4,373.8L492,374.3L491.4,374.8L490.6,375.3L489.7,375.8L488.8,376.3L487.9,376.8L487.2,377.3L486.5,377.8L486,378.3L485.6,378.8L485.3,379.3M485.2,382.3L485.4,382.8L485.7,383.3L486,383.8L486.3,384.3L486.7,384.8L487.1,385.3L487.5,385.8L487.9,386.3L488.1,386.8L488.2,387.3L488.3,387.8L488.1,388.3L487.9,388.8L487.6,389.3L487.2,389.8L486.8,390.3L486.4,390.8L486,391.3L485.7,391.8L485.5,392.3L485.3,392.7M495.8,368.8L497,369.3L498.1,369.8L499.2,370.3L500.1,370.8L500.8,371.3L501.3,371.8L501.5,372.3L501.4,372.8L501,373.3L500.4,373.8L499.6,374.3L498.7,374.8L497.8,375.3L496.8,375.8L496,376.3L495.3,376.8M495.6,385.3L495.9,385.8L496.3,386.3L496.8,386.8L497.3,387.3L497.9,387.8L498.5,388.3L499,388.8L499.4,389.3L499.7,389.8L499.9,390.3L499.8,390.8L499.6,391.3L499.2,391.8L498.7,392.3L498.2,392.7M505.6,359.3L505.9,359.8L506.3,360.3L506.9,360.8L507.5,361.3L508.2,361.8L509,362.3L509.7,362.8L510.4,363.3L511,363.8L511.4,364.3L511.5,364.8L511.5,365.3L511.1,365.8L510.6,366.3L509.9,366.8L509.1,367.3L508.2,367.8L507.3,368.3L506.4,368.8L505.5,369.3M515.7,359.3L516,359.8L516.4,360.3L516.9,360.8L517.5,361.3L518.1,361.8L518.9,362.3L519.6,362.8L520.3,363.3L520.8,363.8L521.2,364.3L521.3,364.8L521.2,365.3L520.9,365.8L520.4,366.3L519.7,366.8L518.9,367.3L518,367.8L517,368.3L516,368.8M525.7,358.8L525.9,359.3L526.3,359.8L526.7,360.3L527.2,360.8L527.8,361.3L528.5,361.8L529.2,362.3L529.8,362.8L530.3,363.3L530.7,363.8L530.9,364.3L530.9,364.8L530.6,365.3L530.2,365.8L529.6,366.3L528.9,366.8L528.1,367.3L527.2,367.8L526.4,368.3M535.7,359.3L535.9,359.8L536.2,360.3L536.6,360.8L537,361.3L537.5,361.8L537.9,362.3L538.4,362.8L538.7,363.3L539,363.8L539.2,364.3L539.2,364.8L539,365.3L538.7,365.8L538.2,366.3L537.6,366.8L536.9,367.3L536.2,367.8" stroke="#f01e1e" stroke-opacity="0.75" stroke-width="1.3" stroke-linejoin="round" fill="none"/>
<path d="M352.8,368.8L351.8,369.3L350.8,369.8L349.8,370.3L348.8,370.8L347.9,371.3L347.2,371.8L346.6,372.3L346.3,372.8L346.2,373.3L346.5,373.8L347,374.3L347.6,374.8L348.4,375.3L349.3,375.8L350.1,376.3L350.9,376.8L351.6,377.3L352.2,377.8L352.6,378.3L352.9,378.8M353.1,384.3L352.9,384.8L352.7,385.3L352.3,385.8L352,386.3L351.6,386.8L351.3,387.3L351,387.8L350.7,388.3L350.6,388.8L350.5,389.3L350.6,389.8L350.7,390.3L351,390.8L351.3,391.3L351.6,391.8L352,392.3L352.3,392.7M363,358.3L362.7,358.8L362.2,359.3L361.7,359.8L361.2,360.3L360.7,360.8L360.3,361.3L360.1,361.8L360.1,362.3L360.3,362.8L360.8,363.3L361.4,363.8L362.1,364.3L362.9,364.8M362.9,370.8L362.6,371.3L362.3,371.8L362.2,372.3L362.1,372.8L362.3,373.3L362.6,373.8L363.2,374.3M361.7,389.3L359.9,389.8L358.4,390.3L357.4,390.8L356.9,391.3L356.9,391.8L357.4,392.3L358,392.7M373.1,358.3L372.8,358.8L372.4,359.3L372,359.8L371.4,360.3L370.8,360.8L370.2,361.3L369.6,361.8L369.1,362.3L368.7,362.8L368.5,363.3L368.5,363.8L368.7,364.3L369.1,364.8L369.6,365.3L370.2,365.8L370.9,366.3L371.6,366.8L372.4,367.3L373.2,367.8M383.4,358.8L383.1,359.3L382.8,359.8L382.4,360.3L381.9,360.8L381.3,361.3L380.7,361.8L380.1,362.3L379.6,362.8L379.1,363.3L378.8,363.8L378.7,364.3L378.8,364.8L379,365.3L379.5,365.8L380,366.3L380.7,366.8L381.5,367.3L382.3,367.8L383.2,368.3M393.5,359.3L393.3,359.8L392.9,360.3L392.5,360.8L392,361.3L391.5,361.8L390.8,362.3L390.2,362.8L389.6,363.3L389,363.8L388.6,364.3L388.4,364.8L388.4,365.3L388.7,365.8L389.1,366.3L389.8,366.8L390.6,367.3L391.5,367.8L392.6,368.3M403.5,359.3L403.2,359.8L402.8,360.3L402.4,360.8L401.9,361.3L401.3,361.8L400.7,362.3L400,362.8L399.5,363.3L399.1,363.8L398.8,364.3L398.7,364.8L398.9,365.3L399.3,365.8L399.9,366.3L400.7,366.8L401.6,367.3L402.7,367.8M403.5,377.8L403.3,378.3L403.1,378.8L403.1,379.3L403.1,379.8L403.2,380.3L403.4,380.8L403.5,381.3M412.8,370.3L411.8,370.8L410.8,371.3L409.8,371.8L408.8,372.3L407.9,372.8L407.2,373.3L406.6,373.8L406.4,374.3L406.4,374.8L406.7,375.3L407.3,375.8L408,376.3L408.9,376.8L409.8,377.3L410.6,377.8L411.4,378.3L412.1,378.8L412.6,379.3L413,379.8L413.2,380.3L413.3,380.8L413.2,381.3L413,381.8L412.7,382.3L412.4,382.8L411.9,383.3L411.4,383.8L410.9,384.3L410.5,384.8L410.1,385.3L409.9,385.8L409.8,386.3L409.9,386.8L410.1,387.3L410.5,387.8L410.9,388.3L411.4,388.8L411.9,389.3L412.4,389.8L412.8,390.3L413.2,390.8L413.5,391.3L413.7,391.8M423.2,369.8L422.2,370.3L421.1,370.8L420,371.3L419,371.8L418.1,372.3L417.4,372.8L416.8,373.3L416.6,373.8L416.6,374.3L416.9,374.8L417.4,375.3L418.2,375.8L419,376.3L419.9,376.8L420.8,377.3L421.6,377.8L422.3,378.3L422.8,378.8L423.2,379.3L423.6,379.8L423.8,380.3M423.7,382.3L423.6,382.8L423.3,383.3L423,383.8L422.6,384.3L422.2,384.8L421.8,385.3L421.4,385.8L421.1,386.3L420.8,386.8L420.7,387.3L420.6,387.8L420.8,388.3L421,388.8L421.3,389.3L421.7,389.8L422.1,390.3L422.5,390.8L422.9,391.3L423.3,391.8L423.5,392.3L423.7,392.7M433.8,369.3L432.9,369.8L432,370.3L431,370.8L430.1,371.3L429.2,371.8L428.5,372.3L427.9,372.8L427.5,373.3L427.3,373.8L427.5,374.3L427.8,374.8L428.4,375.3L429.1,375.8L429.9,376.3L430.7,376.8L431.5,377.3L432.2,377.8L432.8,378.3L433.2,378.8L433.6,379.3L433.8,379.8M433.9,382.8L433.7,383.3L433.4,383.8L433.2,384.3L432.8,384.8L432.5,385.3L432.1,385.8L431.7,386.3L431.4,386.8L431.2,387.3L431.1,387.8L431.1,388.3L431.3,388.8L431.5,389.3L431.8,389.8L432.2,390.3L432.5,390.8L432.9,391.3L433.2,391.8L433.5,392.3L433.7,392.7M443.6,368.8L442.6,369.3L441.6,369.8L440.6,370.3L439.6,370.8L438.7,371.3L438,371.8L437.4,372.3L437.1,372.8L437,373.3L437.3,373.8L437.8,374.3L438.4,374.8L439.2,375.3L440.1,375.8L440.9,376.3L441.7,376.8L442.4,377.3L443,377.8L443.4,378.3L443.7,378.8M443.9,384.3L443.7,384.8L443.5,385.3L443.2,385.8L442.8,386.3L442.5,386.8L442.1,387.3L441.8,387.8L441.5,388.3L441.4,388.8L441.3,389.3L441.4,389.8L441.5,390.3L441.8,390.8L442.1,391.3L442.5,391.8L442.8,392.3L443.1,392.7M453.8,358.3L453.5,358.8L453,359.3L452.5,359.8L452,360.3L451.5,360.8L451.1,361.3L450.9,361.8L450.9,362.3L451.1,362.8L451.6,363.3L452.2,363.8L452.9,364.3L453.7,364.8M453.7,370.8L453.4,371.3L453.1,371.8L453,372.3L453,372.8L453.1,373.3L453.4,373.8L454,374.3M452.5,389.3L450.7,389.8L449.2,390.3L448.2,390.8L447.7,391.3L447.7,391.8L448.2,392.3L448.8,392.7M463.9,358.3L463.6,358.8L463.2,359.3L462.8,359.8L462.2,360.3L461.6,360.8L461,361.3L460.4,361.8L459.9,362.3L459.5,362.8L459.3,363.3L459.3,363.8L459.5,364.3L459.9,364.8L460.4,365.3L461,365.8L461.7,366.3L462.4,366.8L463.2,367.3L464,367.8M474.2,358.8L473.9,359.3L473.6,359.8L473.2,360.3L472.7,360.8L472.1,361.3L471.5,361.8L470.9,362.3L470.4,362.8L469.9,363.3L469.6,363.8L469.5,364.3L469.6,364.8L469.8,365.3L470.3,365.8L470.9,366.3L471.5,366.8L472.3,367.3L473.1,367.8L474,368.3M484.3,359.3L484.1,359.8L483.8,360.3L483.3,360.8L482.8,361.3L482.3,361.8L481.6,362.3L481,362.8L480.4,363.3L479.8,363.8L479.4,364.3L479.2,364.8L479.3,365.3L479.5,365.8L479.9,366.3L480.6,366.8L481.4,367.3L482.3,367.8L483.4,368.3M494.3,359.3L494,359.8L493.7,360.3L493.2,360.8L492.7,361.3L492.1,361.8L491.5,362.3L490.9,362.8L490.3,363.3L489.9,363.8L489.6,364.3L489.6,364.8L489.7,365.3L490.1,365.8L490.7,366.3L491.5,366.8L492.5,367.3L493.5,367.8M494.4,377.8L494.1,378.3L493.9,378.8L493.9,379.3L494,379.8L494.1,380.3L494.2,380.8L494.3,381.3M503.6,370.3L502.6,370.8L501.6,371.3L500.6,371.8L499.6,372.3L498.7,372.8L498,373.3L497.4,373.8L497.2,374.3L497.2,374.8L497.5,375.3L498.1,375.8L498.8,376.3L499.7,376.8L500.6,377.3L501.4,377.8L502.2,378.3L502.9,378.8L503.4,379.3L503.8,379.8L504,380.3L504.1,380.8L504,381.3L503.8,381.8L503.5,382.3L503.2,382.8L502.7,383.3L502.2,383.8L501.7,384.3L501.3,384.8L501,385.3L500.7,385.8L500.6,386.3L500.7,386.8L501,387.3L501.3,387.8L501.8,388.3L502.2,388.8L502.7,389.3L503.2,389.8L503.6,390.3L504,390.8L504.3,391.3L504.5,391.8M514,369.8L513,370.3L511.9,370.8L510.9,371.3L509.8,371.8L508.9,372.3L508.2,372.8L507.6,373.3L507.4,373.8L507.4,374.3L507.7,374.8L508.2,375.3L509,375.8L509.8,376.3L510.7,376.8L511.6,377.3L512.4,377.8L513.1,378.3L513.6,378.8L514.1,379.3L514.4,379.8L514.6,380.3M514.5,382.3L514.4,382.8L514.1,383.3L513.8,383.8L513.4,384.3L513,384.8L512.6,385.3L512.2,385.8L511.9,386.3L511.6,386.8L511.5,387.3L511.5,387.8L511.6,388.3L511.8,388.8L512.1,389.3L512.5,389.8L512.9,390.3L513.4,390.8L513.7,391.3L514.1,391.8L514.3,392.3L514.5,392.7M524.6,369.3L523.7,369.8L522.8,370.3L521.8,370.8L520.9,371.3L520,371.8L519.3,372.3L518.7,372.8L518.3,373.3L518.1,373.8L518.3,374.3L518.6,374.8L519.2,375.3L519.9,375.8L520.7,376.3L521.5,376.8L522.3,377.3L523,377.8L523.6,378.3L524,378.8L524.4,379.3L524.6,379.8M524.7,382.8L524.5,383.3L524.3,383.8L524,384.3L523.6,384.8L523.3,385.3L522.9,385.8L522.5,386.3L522.3,386.8L522,387.3L521.9,387.8L522,388.3L522.1,388.8L522.3,389.3L522.6,389.8L523,390.3L523.3,390.8L523.7,391.3L524,391.8L524.3,392.3L524.5,392.7M534.4,368.8L533.5,369.3L532.5,369.8L531.4,370.3L530.4,370.8L529.5,371.3L528.8,371.8L528.2,372.3L527.9,372.8L527.9,373.3L528.1,373.8L528.6,374.3L529.2,374.8L530,375.3L530.9,375.8L531.8,376.3L532.5,376.8L533.2,377.3L533.8,377.8L534.2,378.3L534.5,378.8M534.7,384.3L534.5,384.8L534.3,385.3L534,385.8L533.6,386.3L533.3,386.8L532.9,387.3L532.6,387.8L532.3,388.3L532.2,388.8L532.1,389.3L532.2,389.8L532.3,390.3L532.6,390.8L532.9,391.3L533.3,391.8L533.6,392.3L533.9,392.7" stroke="#1e1ee8" stroke-opacity="0.6" stroke-width="1.3" stroke-linejoin="round" fill="none"/>
<text x="146" y="47.4" font-size="17.4" class="hv" text-anchor="middle" font-family="Liberation Sans, Arial, Helvetica, sans-serif">Radial Data</text>
<text x="433.4" y="51.5" font-size="17.4" class="hv" text-anchor="middle" font-family="Liberation Sans, Arial, Helvetica, sans-serif">Transverse Data</text>
<text x="146.1" y="270.1" font-size="17.4" class="hv" text-anchor="middle" font-family="Liberation Sans, Arial, Helvetica, sans-serif">Radial Model</text>
<text x="431" y="273.2" font-size="17.4" class="hv" text-anchor="middle" font-family="Liberation Sans, Arial, Helvetica, sans-serif">Transverse Model</text>
<text x="33" y="21" font-size="19" class="hv" font-family="Liberation Sans, Arial, Helvetica, sans-serif">a)</text>
<text x="327" y="20.7" font-size="19" class="hv" font-family="Liberation Sans, Arial, Helvetica, sans-serif">b)</text>
<text x="33" y="253" font-size="19" class="hv" font-family="Liberation Sans, Arial, Helvetica, sans-serif">c)</text>
<text x="326.3" y="259.7" font-size="19" class="hv" font-family="Liberation Sans, Arial, Helvetica, sans-serif">d)</text>
<text x="145.9" y="245.4" font-size="12.3" class="hv" text-anchor="middle" font-family="Liberation Sans, Arial, Helvetica, sans-serif">Back azimuth</text>
<text x="441" y="245.8" font-size="12.3" class="hv" text-anchor="middle" font-family="Liberation Sans, Arial, Helvetica, sans-serif">Back azimuth</text>
<text x="145.7" y="466" font-size="12.3" class="hv" text-anchor="middle" font-family="Liberation Sans, Arial, Helvetica, sans-serif">Back azimuth</text>
<text x="441" y="466" font-size="12.3" class="hv" text-anchor="middle" font-family="Liberation Sans, Arial, Helvetica, sans-serif">Back azimuth</text>
<text transform="translate(16,136) rotate(-90)" font-size="13.3" class="hv" text-anchor="middle" font-family="Liberation Sans, Arial, Helvetica, sans-serif">Time (s)</text>
<text transform="translate(16.5,355.5) rotate(-90)" font-size="13.3" class="hv" text-anchor="middle" font-family="Liberation Sans, Arial, Helvetica, sans-serif">Time (s)</text>
<text x="247.2" y="120.5" font-size="10.2" class="hv2" font-family="Liberation Sans, Arial, Helvetica, sans-serif">top of lower crust</text>
<text x="257.5" y="162.4" font-size="10.2" class="hv2" font-family="Liberation Sans, Arial, Helvetica, sans-serif">top of Moho</text>
<text x="246.5" y="338.6" font-size="10.2" class="hv2" font-family="Liberation Sans, Arial, Helvetica, sans-serif">top of lower crust</text>
<text x="256.1" y="380" font-size="10.2" class="hv2" font-family="Liberation Sans, Arial, Helvetica, sans-serif">top of Moho</text>
</svg>
</body></html>
